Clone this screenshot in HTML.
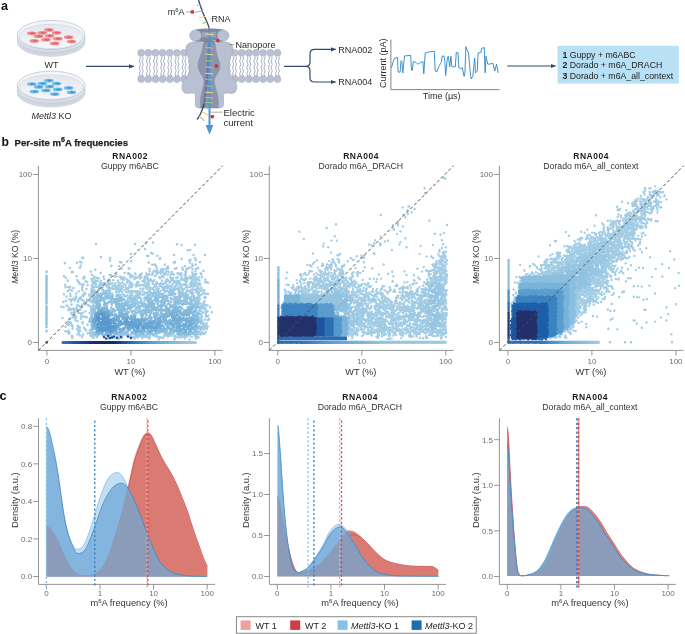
<!DOCTYPE html><html><head><meta charset="utf-8"><style>html,body{margin:0;padding:0;background:#fff;width:685px;height:634px;overflow:hidden}svg{display:block;will-change:transform}text{font-family:'Liberation Sans',sans-serif}</style></head><body>
<svg width="685" height="634" viewBox="0 0 685 634">
<text x="1.00" y="10.10" font-size="12.6" text-anchor="start" font-weight="bold" font-style="normal" fill="#111" >a</text>
<defs>
<radialGradient id="cellR" cx="0.5" cy="0.5" r="0.5"><stop offset="0" stop-color="#d8474e"/><stop offset="0.6" stop-color="#e06468"/><stop offset="1" stop-color="#eb9194"/></radialGradient>
<radialGradient id="cellB" cx="0.5" cy="0.5" r="0.5"><stop offset="0" stop-color="#2f8ed4"/><stop offset="0.6" stop-color="#4aa3e0"/><stop offset="1" stop-color="#86c4ec"/></radialGradient>
<linearGradient id="dishIn" x1="0" y1="0" x2="0" y2="1"><stop offset="0" stop-color="#e3e6ee"/><stop offset="1" stop-color="#f6f7fa"/></linearGradient>
<linearGradient id="dishSide" x1="0" y1="0" x2="0" y2="1"><stop offset="0" stop-color="#e9ebf1"/><stop offset="1" stop-color="#d3d8e3"/></linearGradient>
<marker id="ah" viewBox="0 0 10 10" refX="9" refY="5" markerWidth="5.5" markerHeight="5.5" orient="auto" markerUnits="userSpaceOnUse"><path d="M0,1 L10,5 L0,9 Z" fill="#34496e"/></marker>
</defs>
<g><ellipse cx="51.2" cy="42.0" rx="33.8" ry="14.4" fill="#d6dae4" stroke="#c2c8d6" stroke-width="0.5"/><path d="M17.400000000000006,35.8 L17.400000000000006,39.8 A33.8,14.4 0 0 0 85.0,39.8 L85.0,35.8 Z" fill="url(#dishSide)" stroke="#b9c0d0" stroke-width="0.4"/><path d="M17.400000000000006,38.3 A33.8,14.4 0 0 0 85.0,38.3" fill="none" stroke="#b4bccd" stroke-width="0.5"/><ellipse cx="51.2" cy="34.8" rx="33.8" ry="14.4" fill="#f4f5f8" stroke="#aeb6c9" stroke-width="0.6"/><ellipse cx="51.2" cy="36.4" rx="32.199999999999996" ry="12.2" fill="url(#dishIn)" stroke="#bcc3d3" stroke-width="0.4"/><ellipse cx="31.8" cy="33.3" rx="4.8" ry="1.85" fill="#ee8d90"/><ellipse cx="32.5" cy="33.3" rx="2.4" ry="0.95" fill="#de5a60" opacity="0.8"/><ellipse cx="42.3" cy="32.8" rx="4.8" ry="1.85" fill="#ee8d90"/><ellipse cx="43.0" cy="32.8" rx="2.4" ry="0.95" fill="#de5a60" opacity="0.8"/><ellipse cx="48.9" cy="29.9" rx="4.8" ry="1.85" fill="#ee8d90"/><ellipse cx="49.6" cy="29.9" rx="2.4" ry="0.95" fill="#de5a60" opacity="0.8"/><ellipse cx="56.6" cy="32.8" rx="4.8" ry="1.85" fill="#ee8d90"/><ellipse cx="57.300000000000004" cy="32.8" rx="2.4" ry="0.95" fill="#de5a60" opacity="0.8"/><ellipse cx="38.7" cy="36.2" rx="4.8" ry="1.85" fill="#ee8d90"/><ellipse cx="39.400000000000006" cy="36.2" rx="2.4" ry="0.95" fill="#de5a60" opacity="0.8"/><ellipse cx="49.6" cy="35.8" rx="4.8" ry="1.85" fill="#ee8d90"/><ellipse cx="50.300000000000004" cy="35.8" rx="2.4" ry="0.95" fill="#de5a60" opacity="0.8"/><ellipse cx="34.3" cy="40.9" rx="4.8" ry="1.85" fill="#ee8d90"/><ellipse cx="35.0" cy="40.9" rx="2.4" ry="0.95" fill="#de5a60" opacity="0.8"/><ellipse cx="46" cy="39.7" rx="4.8" ry="1.85" fill="#ee8d90"/><ellipse cx="46.7" cy="39.7" rx="2.4" ry="0.95" fill="#de5a60" opacity="0.8"/><ellipse cx="57.7" cy="38.7" rx="4.8" ry="1.85" fill="#ee8d90"/><ellipse cx="58.400000000000006" cy="38.7" rx="2.4" ry="0.95" fill="#de5a60" opacity="0.8"/><ellipse cx="68.6" cy="37.2" rx="4.8" ry="1.85" fill="#ee8d90"/><ellipse cx="69.3" cy="37.2" rx="2.4" ry="0.95" fill="#de5a60" opacity="0.8"/><ellipse cx="54.7" cy="43.4" rx="4.8" ry="1.85" fill="#ee8d90"/><ellipse cx="55.400000000000006" cy="43.4" rx="2.4" ry="0.95" fill="#de5a60" opacity="0.8"/><ellipse cx="71.5" cy="41.6" rx="4.8" ry="1.85" fill="#ee8d90"/><ellipse cx="72.2" cy="41.6" rx="2.4" ry="0.95" fill="#de5a60" opacity="0.8"/></g>
<g><ellipse cx="51.2" cy="92.7" rx="33.8" ry="14.4" fill="#d6dae4" stroke="#c2c8d6" stroke-width="0.5"/><path d="M17.400000000000006,86.5 L17.400000000000006,90.5 A33.8,14.4 0 0 0 85.0,90.5 L85.0,86.5 Z" fill="url(#dishSide)" stroke="#b9c0d0" stroke-width="0.4"/><path d="M17.400000000000006,89.0 A33.8,14.4 0 0 0 85.0,89.0" fill="none" stroke="#b4bccd" stroke-width="0.5"/><ellipse cx="51.2" cy="85.5" rx="33.8" ry="14.4" fill="#f4f5f8" stroke="#aeb6c9" stroke-width="0.6"/><ellipse cx="51.2" cy="87.1" rx="32.199999999999996" ry="12.2" fill="url(#dishIn)" stroke="#bcc3d3" stroke-width="0.4"/><ellipse cx="31.8" cy="84.0" rx="4.8" ry="1.85" fill="#6ebde9"/><ellipse cx="32.5" cy="84.0" rx="2.4" ry="0.95" fill="#3b8fd2" opacity="0.8"/><ellipse cx="42.3" cy="83.5" rx="4.8" ry="1.85" fill="#6ebde9"/><ellipse cx="43.0" cy="83.5" rx="2.4" ry="0.95" fill="#3b8fd2" opacity="0.8"/><ellipse cx="48.9" cy="80.6" rx="4.8" ry="1.85" fill="#6ebde9"/><ellipse cx="49.6" cy="80.6" rx="2.4" ry="0.95" fill="#3b8fd2" opacity="0.8"/><ellipse cx="56.6" cy="83.5" rx="4.8" ry="1.85" fill="#6ebde9"/><ellipse cx="57.300000000000004" cy="83.5" rx="2.4" ry="0.95" fill="#3b8fd2" opacity="0.8"/><ellipse cx="38.7" cy="86.9" rx="4.8" ry="1.85" fill="#6ebde9"/><ellipse cx="39.400000000000006" cy="86.9" rx="2.4" ry="0.95" fill="#3b8fd2" opacity="0.8"/><ellipse cx="49.6" cy="86.5" rx="4.8" ry="1.85" fill="#6ebde9"/><ellipse cx="50.300000000000004" cy="86.5" rx="2.4" ry="0.95" fill="#3b8fd2" opacity="0.8"/><ellipse cx="34.3" cy="91.6" rx="4.8" ry="1.85" fill="#6ebde9"/><ellipse cx="35.0" cy="91.6" rx="2.4" ry="0.95" fill="#3b8fd2" opacity="0.8"/><ellipse cx="46" cy="90.4" rx="4.8" ry="1.85" fill="#6ebde9"/><ellipse cx="46.7" cy="90.4" rx="2.4" ry="0.95" fill="#3b8fd2" opacity="0.8"/><ellipse cx="57.7" cy="89.4" rx="4.8" ry="1.85" fill="#6ebde9"/><ellipse cx="58.400000000000006" cy="89.4" rx="2.4" ry="0.95" fill="#3b8fd2" opacity="0.8"/><ellipse cx="68.6" cy="87.9" rx="4.8" ry="1.85" fill="#6ebde9"/><ellipse cx="69.3" cy="87.9" rx="2.4" ry="0.95" fill="#3b8fd2" opacity="0.8"/><ellipse cx="54.7" cy="94.1" rx="4.8" ry="1.85" fill="#6ebde9"/><ellipse cx="55.400000000000006" cy="94.1" rx="2.4" ry="0.95" fill="#3b8fd2" opacity="0.8"/><ellipse cx="71.5" cy="92.30000000000001" rx="4.8" ry="1.85" fill="#6ebde9"/><ellipse cx="72.2" cy="92.30000000000001" rx="2.4" ry="0.95" fill="#3b8fd2" opacity="0.8"/></g>
<text x="51.50" y="68.20" font-size="9" text-anchor="middle" font-weight="normal" font-style="normal" fill="#2b2b2b" >WT</text>
<text x="51.5" y="119.3" font-size="9" text-anchor="middle" fill="#2b2b2b"><tspan font-style="italic">Mettl3</tspan> KO</text>
<line x1="86" y1="66.4" x2="134" y2="66.4" stroke="#34496e" stroke-width="1.2" marker-end="url(#ah)"/>
<path d="M139.80,56.40 Q141.05,58.00 139.80,59.60 Q138.55,61.20 139.80,62.80 Q141.05,64.40 139.80,66.00 Q138.55,67.60 139.80,69.20 Q141.05,70.80 139.80,72.40 Q138.55,74.00 139.80,75.60 Q141.05,75.80 139.80,76.00 M142.60,56.40 Q143.85,58.00 142.60,59.60 Q141.35,61.20 142.60,62.80 Q143.85,64.40 142.60,66.00 Q141.35,67.60 142.60,69.20 Q143.85,70.80 142.60,72.40 Q141.35,74.00 142.60,75.60 Q143.85,75.80 142.60,76.00 M146.95,56.40 Q148.20,58.00 146.95,59.60 Q145.70,61.20 146.95,62.80 Q148.20,64.40 146.95,66.00 Q145.70,67.60 146.95,69.20 Q148.20,70.80 146.95,72.40 Q145.70,74.00 146.95,75.60 Q148.20,75.80 146.95,76.00 M149.75,56.40 Q151.00,58.00 149.75,59.60 Q148.50,61.20 149.75,62.80 Q151.00,64.40 149.75,66.00 Q148.50,67.60 149.75,69.20 Q151.00,70.80 149.75,72.40 Q148.50,74.00 149.75,75.60 Q151.00,75.80 149.75,76.00 M154.10,56.40 Q155.35,58.00 154.10,59.60 Q152.85,61.20 154.10,62.80 Q155.35,64.40 154.10,66.00 Q152.85,67.60 154.10,69.20 Q155.35,70.80 154.10,72.40 Q152.85,74.00 154.10,75.60 Q155.35,75.80 154.10,76.00 M156.90,56.40 Q158.15,58.00 156.90,59.60 Q155.65,61.20 156.90,62.80 Q158.15,64.40 156.90,66.00 Q155.65,67.60 156.90,69.20 Q158.15,70.80 156.90,72.40 Q155.65,74.00 156.90,75.60 Q158.15,75.80 156.90,76.00 M161.25,56.40 Q162.50,58.00 161.25,59.60 Q160.00,61.20 161.25,62.80 Q162.50,64.40 161.25,66.00 Q160.00,67.60 161.25,69.20 Q162.50,70.80 161.25,72.40 Q160.00,74.00 161.25,75.60 Q162.50,75.80 161.25,76.00 M164.05,56.40 Q165.30,58.00 164.05,59.60 Q162.80,61.20 164.05,62.80 Q165.30,64.40 164.05,66.00 Q162.80,67.60 164.05,69.20 Q165.30,70.80 164.05,72.40 Q162.80,74.00 164.05,75.60 Q165.30,75.80 164.05,76.00 M168.40,56.40 Q169.65,58.00 168.40,59.60 Q167.15,61.20 168.40,62.80 Q169.65,64.40 168.40,66.00 Q167.15,67.60 168.40,69.20 Q169.65,70.80 168.40,72.40 Q167.15,74.00 168.40,75.60 Q169.65,75.80 168.40,76.00 M171.20,56.40 Q172.45,58.00 171.20,59.60 Q169.95,61.20 171.20,62.80 Q172.45,64.40 171.20,66.00 Q169.95,67.60 171.20,69.20 Q172.45,70.80 171.20,72.40 Q169.95,74.00 171.20,75.60 Q172.45,75.80 171.20,76.00 M175.55,56.40 Q176.80,58.00 175.55,59.60 Q174.30,61.20 175.55,62.80 Q176.80,64.40 175.55,66.00 Q174.30,67.60 175.55,69.20 Q176.80,70.80 175.55,72.40 Q174.30,74.00 175.55,75.60 Q176.80,75.80 175.55,76.00 M178.35,56.40 Q179.60,58.00 178.35,59.60 Q177.10,61.20 178.35,62.80 Q179.60,64.40 178.35,66.00 Q177.10,67.60 178.35,69.20 Q179.60,70.80 178.35,72.40 Q177.10,74.00 178.35,75.60 Q179.60,75.80 178.35,76.00 M182.70,56.40 Q183.95,58.00 182.70,59.60 Q181.45,61.20 182.70,62.80 Q183.95,64.40 182.70,66.00 Q181.45,67.60 182.70,69.20 Q183.95,70.80 182.70,72.40 Q181.45,74.00 182.70,75.60 Q183.95,75.80 182.70,76.00 M185.50,56.40 Q186.75,58.00 185.50,59.60 Q184.25,61.20 185.50,62.80 Q186.75,64.40 185.50,66.00 Q184.25,67.60 185.50,69.20 Q186.75,70.80 185.50,72.40 Q184.25,74.00 185.50,75.60 Q186.75,75.80 185.50,76.00 M276.00,56.40 Q277.25,58.00 276.00,59.60 Q274.75,61.20 276.00,62.80 Q277.25,64.40 276.00,66.00 Q274.75,67.60 276.00,69.20 Q277.25,70.80 276.00,72.40 Q274.75,74.00 276.00,75.60 Q277.25,75.80 276.00,76.00 M278.80,56.40 Q280.05,58.00 278.80,59.60 Q277.55,61.20 278.80,62.80 Q280.05,64.40 278.80,66.00 Q277.55,67.60 278.80,69.20 Q280.05,70.80 278.80,72.40 Q277.55,74.00 278.80,75.60 Q280.05,75.80 278.80,76.00 M268.85,56.40 Q270.10,58.00 268.85,59.60 Q267.60,61.20 268.85,62.80 Q270.10,64.40 268.85,66.00 Q267.60,67.60 268.85,69.20 Q270.10,70.80 268.85,72.40 Q267.60,74.00 268.85,75.60 Q270.10,75.80 268.85,76.00 M271.65,56.40 Q272.90,58.00 271.65,59.60 Q270.40,61.20 271.65,62.80 Q272.90,64.40 271.65,66.00 Q270.40,67.60 271.65,69.20 Q272.90,70.80 271.65,72.40 Q270.40,74.00 271.65,75.60 Q272.90,75.80 271.65,76.00 M261.70,56.40 Q262.95,58.00 261.70,59.60 Q260.45,61.20 261.70,62.80 Q262.95,64.40 261.70,66.00 Q260.45,67.60 261.70,69.20 Q262.95,70.80 261.70,72.40 Q260.45,74.00 261.70,75.60 Q262.95,75.80 261.70,76.00 M264.50,56.40 Q265.75,58.00 264.50,59.60 Q263.25,61.20 264.50,62.80 Q265.75,64.40 264.50,66.00 Q263.25,67.60 264.50,69.20 Q265.75,70.80 264.50,72.40 Q263.25,74.00 264.50,75.60 Q265.75,75.80 264.50,76.00 M254.55,56.40 Q255.80,58.00 254.55,59.60 Q253.30,61.20 254.55,62.80 Q255.80,64.40 254.55,66.00 Q253.30,67.60 254.55,69.20 Q255.80,70.80 254.55,72.40 Q253.30,74.00 254.55,75.60 Q255.80,75.80 254.55,76.00 M257.35,56.40 Q258.60,58.00 257.35,59.60 Q256.10,61.20 257.35,62.80 Q258.60,64.40 257.35,66.00 Q256.10,67.60 257.35,69.20 Q258.60,70.80 257.35,72.40 Q256.10,74.00 257.35,75.60 Q258.60,75.80 257.35,76.00 M247.40,56.40 Q248.65,58.00 247.40,59.60 Q246.15,61.20 247.40,62.80 Q248.65,64.40 247.40,66.00 Q246.15,67.60 247.40,69.20 Q248.65,70.80 247.40,72.40 Q246.15,74.00 247.40,75.60 Q248.65,75.80 247.40,76.00 M250.20,56.40 Q251.45,58.00 250.20,59.60 Q248.95,61.20 250.20,62.80 Q251.45,64.40 250.20,66.00 Q248.95,67.60 250.20,69.20 Q251.45,70.80 250.20,72.40 Q248.95,74.00 250.20,75.60 Q251.45,75.80 250.20,76.00 M240.25,56.40 Q241.50,58.00 240.25,59.60 Q239.00,61.20 240.25,62.80 Q241.50,64.40 240.25,66.00 Q239.00,67.60 240.25,69.20 Q241.50,70.80 240.25,72.40 Q239.00,74.00 240.25,75.60 Q241.50,75.80 240.25,76.00 M243.05,56.40 Q244.30,58.00 243.05,59.60 Q241.80,61.20 243.05,62.80 Q244.30,64.40 243.05,66.00 Q241.80,67.60 243.05,69.20 Q244.30,70.80 243.05,72.40 Q241.80,74.00 243.05,75.60 Q244.30,75.80 243.05,76.00 M233.10,56.40 Q234.35,58.00 233.10,59.60 Q231.85,61.20 233.10,62.80 Q234.35,64.40 233.10,66.00 Q231.85,67.60 233.10,69.20 Q234.35,70.80 233.10,72.40 Q231.85,74.00 233.10,75.60 Q234.35,75.80 233.10,76.00 M235.90,56.40 Q237.15,58.00 235.90,59.60 Q234.65,61.20 235.90,62.80 Q237.15,64.40 235.90,66.00 Q234.65,67.60 235.90,69.20 Q237.15,70.80 235.90,72.40 Q234.65,74.00 235.90,75.60 Q237.15,75.80 235.90,76.00 M189.10,56.40 Q190.35,58.00 189.10,59.60 Q187.85,61.20 189.10,62.80 Q190.35,64.40 189.10,66.00 Q187.85,67.60 189.10,69.20 Q190.35,70.80 189.10,72.40 Q187.85,74.00 189.10,75.60 Q190.35,75.80 189.10,76.00 M191.90,56.40 Q193.15,58.00 191.90,59.60 Q190.65,61.20 191.90,62.80 Q193.15,64.40 191.90,66.00 Q190.65,67.60 191.90,69.20 Q193.15,70.80 191.90,72.40 Q190.65,74.00 191.90,75.60 Q193.15,75.80 191.90,76.00 M226.90,56.40 Q228.15,58.00 226.90,59.60 Q225.65,61.20 226.90,62.80 Q228.15,64.40 226.90,66.00 Q225.65,67.60 226.90,69.20 Q228.15,70.80 226.90,72.40 Q225.65,74.00 226.90,75.60 Q228.15,75.80 226.90,76.00 M229.70,56.40 Q230.95,58.00 229.70,59.60 Q228.45,61.20 229.70,62.80 Q230.95,64.40 229.70,66.00 Q228.45,67.60 229.70,69.20 Q230.95,70.80 229.70,72.40 Q228.45,74.00 229.70,75.60 Q230.95,75.80 229.70,76.00 " fill="none" stroke="#7f8aa8" stroke-width="0.7"/>
<g fill="#b9c0d1" stroke="#9aa3ba" stroke-width="0.35"><circle cx="141.20" cy="52.8" r="3.55"/><circle cx="141.20" cy="79.1" r="3.55"/><circle cx="148.35" cy="52.8" r="3.55"/><circle cx="148.35" cy="79.1" r="3.55"/><circle cx="155.50" cy="52.8" r="3.55"/><circle cx="155.50" cy="79.1" r="3.55"/><circle cx="162.65" cy="52.8" r="3.55"/><circle cx="162.65" cy="79.1" r="3.55"/><circle cx="169.80" cy="52.8" r="3.55"/><circle cx="169.80" cy="79.1" r="3.55"/><circle cx="176.95" cy="52.8" r="3.55"/><circle cx="176.95" cy="79.1" r="3.55"/><circle cx="184.10" cy="52.8" r="3.55"/><circle cx="184.10" cy="79.1" r="3.55"/><circle cx="277.40" cy="52.8" r="3.55"/><circle cx="277.40" cy="79.1" r="3.55"/><circle cx="270.25" cy="52.8" r="3.55"/><circle cx="270.25" cy="79.1" r="3.55"/><circle cx="263.10" cy="52.8" r="3.55"/><circle cx="263.10" cy="79.1" r="3.55"/><circle cx="255.95" cy="52.8" r="3.55"/><circle cx="255.95" cy="79.1" r="3.55"/><circle cx="248.80" cy="52.8" r="3.55"/><circle cx="248.80" cy="79.1" r="3.55"/><circle cx="241.65" cy="52.8" r="3.55"/><circle cx="241.65" cy="79.1" r="3.55"/><circle cx="234.50" cy="52.8" r="3.55"/><circle cx="234.50" cy="79.1" r="3.55"/></g>
<path d="M204.2,44.3 C202,42.3 199,41.9 195,41.9 C190.5,41.9 186.4,43.5 186.1,47.5 C185.9,51 186.6,54.5 188.3,57.5 C189.3,59.5 189.6,61.5 189.6,64 L189.6,70 C189.6,73.5 187,76.5 184.8,79.5 C182.8,82 181.8,85 182,88 C182.2,91.5 184,93.4 187,93.4 L192.5,93 C194.5,92.9 195.3,93.5 195.3,95.5 L195.3,104.5 C195.3,107 197,108 199.5,108 L219.3,108 C221.8,108 223.5,107 223.5,104.5 L223.5,95.5 C223.5,93.5 224.3,92.9 226.3,93 L231.8,93.4 C234.8,93.4 236.6,91.5 236.8,88 C237,85 236,82 234,79.5 C231.8,76.5 229.2,73.5 229.2,70 L229.2,64 C229.2,61.5 229.5,59.5 230.5,57.5 C232.2,54.5 232.9,51 232.7,47.5 C232.4,43.5 228.3,41.9 223.8,41.9 C219.8,41.9 216.8,42.3 214.6,44.3 Z" fill="#b9c0d1" stroke="#939db5" stroke-width="0.5"/>
<path d="M203.5,42 L215,42 C215.5,50 217,56 219.4,62 C221,67 219,72 216,76 C214.5,78.5 214,81 214.5,84 C216,90 218.3,95 218.3,100 L218.3,107.9 L200.3,107.9 L200.4,100 C200.6,95 202.5,90 203.8,84 C204.3,81 203.8,78.5 202.2,76 C199.2,72 197.2,67 198.2,62 C200.2,56 203,50 203.5,42 Z" fill="#8b95ae" stroke="#7f89a4" stroke-width="0.4"/>
<path d="M208.2,42 C207.6,60 205.5,85 202.6,107.9 L205.2,107.9 C207.8,85 210,60 210.6,42 Z" fill="#6d7896"/>
<path d="M195.6,29.8 C202,28.4 216.6,28.4 223,29.8 L223,41.3 C216,42.3 202,42.3 195.6,41.3 Z" fill="#7e89a5" stroke="#75809d" stroke-width="0.4"/>
<rect x="201.8" y="31.9" width="13.9" height="5.4" fill="#9aa4bb"/>
<ellipse cx="195.6" cy="35.5" rx="5.9" ry="5.6" fill="#b9c0d1" stroke="#8f99b2" stroke-width="0.5"/>
<ellipse cx="223" cy="35.5" rx="5.9" ry="5.6" fill="#b9c0d1" stroke="#8f99b2" stroke-width="0.5"/>
<path d="M198.5,0 C201,8 204,16 207,22 C208.5,25 209.2,28 209.3,31" fill="none" stroke="#3b4868" stroke-width="1.3"/>
<line x1="200.2" y1="5" x2="197.2" y2="5.3" stroke="#f29b9a" stroke-width="1.1" stroke-linecap="round"/>
<line x1="202.4" y1="11" x2="195" y2="12.3" stroke="#7cc3ea" stroke-width="1.1" stroke-linecap="round"/>
<line x1="204.6" y1="16.5" x2="199.5" y2="17.8" stroke="#f5cf6e" stroke-width="1.1" stroke-linecap="round"/>
<line x1="206.3" y1="22.2" x2="203" y2="23.3" stroke="#8ccf66" stroke-width="1.1" stroke-linecap="round"/>
<line x1="208.5" y1="28.5" x2="206.5" y2="29.2" stroke="#f29b9a" stroke-width="1.1" stroke-linecap="round"/>
<line x1="209.5" y1="29" x2="209.5" y2="127" stroke="#4b97d5" stroke-width="2"/>
<path d="M205.6,125 L213.4,125 L209.5,134.8 Z" fill="#4b97d5"/>
<line x1="205.6" y1="33.9" x2="212.6" y2="34.6" stroke="#f5cf6e" stroke-width="1.1" stroke-linecap="round"/>
<line x1="205.6" y1="47.4" x2="212.6" y2="48.1" stroke="#f29b9a" stroke-width="1.1" stroke-linecap="round"/>
<line x1="205.6" y1="54" x2="212.6" y2="54.7" stroke="#f5cf6e" stroke-width="1.1" stroke-linecap="round"/>
<line x1="205.6" y1="60.6" x2="212.6" y2="61.300000000000004" stroke="#8ccf66" stroke-width="1.1" stroke-linecap="round"/>
<line x1="205.6" y1="66.9" x2="212.6" y2="67.60000000000001" stroke="#f29b9a" stroke-width="1.1" stroke-linecap="round"/>
<line x1="205.6" y1="73.2" x2="212.6" y2="73.9" stroke="#f5cf6e" stroke-width="1.1" stroke-linecap="round"/>
<line x1="205.6" y1="79.2" x2="212.6" y2="79.9" stroke="#8ccf66" stroke-width="1.1" stroke-linecap="round"/>
<line x1="205.6" y1="85.8" x2="212.6" y2="86.5" stroke="#7cc3ea" stroke-width="1.1" stroke-linecap="round"/>
<line x1="205.6" y1="92.1" x2="212.6" y2="92.8" stroke="#f5cf6e" stroke-width="1.1" stroke-linecap="round"/>
<line x1="205.6" y1="97.4" x2="212.6" y2="98.10000000000001" stroke="#f29b9a" stroke-width="1.1" stroke-linecap="round"/>
<line x1="205.6" y1="102.2" x2="212.6" y2="102.9" stroke="#8ccf66" stroke-width="1.1" stroke-linecap="round"/>
<path d="M203.8,104 C203,109 201,113 199.5,116 L197,119.5" fill="none" stroke="#3b4868" stroke-width="1.3"/>
<line x1="202.7" y1="112.2" x2="207.9" y2="115" stroke="#f5cf6e" stroke-width="1.1" stroke-linecap="round"/>
<line x1="199.4" y1="116.6" x2="203.8" y2="120.4" stroke="#8ccf66" stroke-width="1.1" stroke-linecap="round"/>
<line x1="205.3" y1="107.5" x2="210.2" y2="109.2" stroke="#7cc3ea" stroke-width="1.1" stroke-linecap="round"/>
<line x1="186" y1="11.9" x2="191" y2="11.9" stroke="#555" stroke-width="0.5"/>
<circle cx="192.3" cy="11.9" r="1.9" fill="#d6333a"/>
<circle cx="217.8" cy="40.7" r="1.9" fill="#d6333a"/>
<line x1="213" y1="40.5" x2="216" y2="40.6" stroke="#7cc3ea" stroke-width="1.1"/>
<circle cx="216.4" cy="66" r="1.9" fill="#d6333a"/>
<circle cx="212.3" cy="116.6" r="1.9" fill="#d6333a"/>
<line x1="209.5" y1="18.8" x2="212" y2="18.8" stroke="#999" stroke-width="0.5"/>
<line x1="229.3" y1="44.6" x2="234.5" y2="44.6" stroke="#555" stroke-width="0.5"/>
<line x1="211" y1="112.2" x2="222.6" y2="112.2" stroke="#555" stroke-width="0.5"/>
<text x="184.5" y="15.3" font-size="9" text-anchor="end" fill="#2b2b2b">m<tspan font-size="6" dy="-3.2">6</tspan><tspan dy="3.2">A</tspan></text>
<text x="211.60" y="22.00" font-size="9" text-anchor="start" font-weight="normal" font-style="normal" fill="#2b2b2b" >RNA</text>
<text x="235.50" y="48.30" font-size="9.1" text-anchor="start" font-weight="normal" font-style="normal" fill="#2b2b2b" >Nanopore</text>
<text x="223.40" y="116.10" font-size="9.6" text-anchor="start" font-weight="normal" font-style="normal" fill="#2b2b2b" >Electric</text>
<text x="223.40" y="126.00" font-size="9.5" text-anchor="start" font-weight="normal" font-style="normal" fill="#2b2b2b" >current</text>
<path d="M284,66.3 L306,66.3 C309,66.3 310,65 310,62 L310,54 C310,51 311.5,49.3 314.5,49.3 L335.7,49.3" fill="none" stroke="#34496e" stroke-width="1.2" marker-end="url(#ah)"/>
<path d="M306,66.3 C309,66.3 310,67.6 310,70.6 L310,78 C310,81 311.5,82 314.5,82 L335.7,82" fill="none" stroke="#34496e" stroke-width="1.2" marker-end="url(#ah)"/>
<text x="338.20" y="52.60" font-size="9" text-anchor="start" font-weight="normal" font-style="normal" fill="#2b2b2b" >RNA002</text>
<text x="338.20" y="85.30" font-size="9" text-anchor="start" font-weight="normal" font-style="normal" fill="#2b2b2b" >RNA004</text>
<path d="M390.9,39.6 L390.9,89.6 L499.5,89.6" fill="none" stroke="#666" stroke-width="0.8"/>
<text x="0" y="0" font-size="9" text-anchor="middle" fill="#2b2b2b" transform="translate(386.4,63.3) rotate(-90)">Current (pA)</text>
<text x="441.70" y="99.00" font-size="9" text-anchor="middle" font-weight="normal" font-style="normal" fill="#2b2b2b" >Time (µs)</text>
<path d="M391.39,67.67 L392.26,65.04 L393.14,61.53 L394.89,58.03 L396.64,57.68 L397.52,57.15 L398.04,72.05 L400.15,72.05 L401.02,60.66 L401.90,61.53 L402.78,72.92 L404.53,55.93 L410.66,55.40 L411.53,70.29 L412.41,70.29 L413.29,61.53 L415.91,62.41 L417.67,64.16 L419.42,63.29 L421.17,62.41 L422.92,61.53 L423.80,73.80 L425.20,52.78 L429.05,51.90 L434.31,51.37 L435.19,71.17 L436.94,71.70 L438.69,66.79 L439.57,65.04 L441.32,62.41 L442.19,56.28 L443.95,55.93 L444.82,61.53 L445.70,75.55 L447.45,57.15 L448.33,56.28 L449.73,66.79 L450.95,56.28 L451.83,66.79 L455.33,66.79 L456.21,52.78 L457.96,52.42 L458.84,67.67 L460.59,68.54 L462.34,67.67 L464.09,76.43 L464.97,72.05 L465.84,46.64 L467.60,51.02 L468.47,52.78 L470.22,72.05 L471.10,79.05 L472.85,76.43 L474.60,58.03 L475.48,72.92 L477.23,71.17 L478.11,52.78 L480.74,52.78 L481.61,48.40 L484.24,47.52 L485.12,72.92 L485.99,56.28 L487.74,64.16 L489.50,64.16 L493.00,63.29 L494.75,71.17 L496.50,64.16 L498.26,72.92" fill="none" stroke="#2a86c6" stroke-width="0.9" stroke-linejoin="round"/>
<line x1="507.3" y1="66" x2="555.6" y2="66" stroke="#34496e" stroke-width="1.2" marker-end="url(#ah)"/>
<rect x="557.5" y="45.8" width="121.3" height="37.8" fill="#b9e1f5"/>
<text x="562.4" y="57.60" font-size="8.75" fill="#222"><tspan font-weight="bold">1</tspan> Guppy + m6ABC</text>
<text x="562.4" y="68.40" font-size="8.75" fill="#222"><tspan font-weight="bold">2</tspan> Dorado + m6A_DRACH</text>
<text x="562.4" y="79.20" font-size="8.75" fill="#222"><tspan font-weight="bold">3</tspan> Dorado + m6A_all_context</text>
<text x="1.60" y="146.20" font-size="12.2" text-anchor="start" font-weight="bold" font-style="normal" fill="#111" >b</text>
<text x="14.6" y="145.8" font-size="9.6" font-weight="bold" fill="#222" stroke="#222" stroke-width="0.25">Per-site m<tspan font-size="7" dy="-3.4">6</tspan><tspan dy="3.4">A frequencies</tspan></text>
<path d="M38.4,165.7 L38.4,350.4 L222.70000000000002,350.4" fill="none" stroke="#8a8a8a" stroke-width="0.9"/>
<line x1="33.1" y1="342.50" x2="38.4" y2="342.50" stroke="#8a8a8a" stroke-width="0.9"/>
<text x="32.00" y="345.40" font-size="8" text-anchor="end" font-weight="normal" font-style="normal" fill="#6e6e6e" >0</text>
<line x1="46.90" y1="350.4" x2="46.90" y2="355.6" stroke="#8a8a8a" stroke-width="0.9"/>
<text x="46.90" y="364.00" font-size="8" text-anchor="middle" font-weight="normal" font-style="normal" fill="#6e6e6e" >0</text>
<line x1="33.1" y1="258.50" x2="38.4" y2="258.50" stroke="#8a8a8a" stroke-width="0.9"/>
<text x="32.00" y="261.40" font-size="8" text-anchor="end" font-weight="normal" font-style="normal" fill="#6e6e6e" >10</text>
<line x1="130.90" y1="350.4" x2="130.90" y2="355.6" stroke="#8a8a8a" stroke-width="0.9"/>
<text x="130.90" y="364.00" font-size="8" text-anchor="middle" font-weight="normal" font-style="normal" fill="#6e6e6e" >10</text>
<line x1="33.1" y1="174.50" x2="38.4" y2="174.50" stroke="#8a8a8a" stroke-width="0.9"/>
<text x="32.00" y="177.40" font-size="8" text-anchor="end" font-weight="normal" font-style="normal" fill="#6e6e6e" >100</text>
<line x1="214.90" y1="350.4" x2="214.90" y2="355.6" stroke="#8a8a8a" stroke-width="0.9"/>
<text x="214.90" y="364.00" font-size="8" text-anchor="middle" font-weight="normal" font-style="normal" fill="#6e6e6e" >100</text>
<text x="130.20" y="158.70" font-size="8.5" text-anchor="middle" font-weight="bold" font-style="normal" fill="#1a1a1a" letter-spacing="0.55">RNA002</text>
<text x="129.90" y="168.80" font-size="8.7" text-anchor="middle" font-weight="normal" font-style="normal" fill="#333" >Guppy m6ABC</text>
<text x="0" y="0" font-size="8.6" text-anchor="middle" fill="#333" transform="translate(17.7,256.8) rotate(-90)"><tspan font-style="italic">Mettl3</tspan> KO (%)</text>
<text x="129.90" y="375.20" font-size="9.2" text-anchor="middle" font-weight="normal" font-style="normal" fill="#333" >WT (%)</text>
<path d="M80.2 313.2h0M131.9 286.9h0M152.4 288.8h0M195.8 290.5h0M167.5 280.9h0M193.4 279.5h0M130.2 295.4h0M83.2 278.4h0M72.5 337.2h0M184.7 284.9h0M86.8 317.2h0M80.1 309.6h0M129.8 274.0h0M93.3 287.1h0M157.0 336.4h0M75.8 296.6h0M190.3 283.5h0M122.2 288.7h0M191.5 278.2h0M160.1 285.5h0M129.0 281.3h0M91.4 336.5h0M203.3 305.3h0M106.1 285.4h0M196.7 289.1h0M187.8 250.3h0M156.4 273.0h0M89.7 313.1h0M204.5 326.3h0M206.9 326.6h0M121.9 291.4h0M102.7 284.5h0M103.0 284.9h0M69.2 325.0h0M179.5 337.8h0M206.1 326.1h0M118.1 290.4h0M84.3 276.9h0M77.4 280.3h0M117.1 286.2h0M68.5 309.9h0M205.4 310.6h0M177.2 281.1h0M137.4 282.2h0M186.5 269.1h0M152.7 253.6h0M128.2 273.1h0M204.1 302.4h0M143.7 285.2h0M91.2 300.3h0M156.6 271.7h0M171.9 272.1h0M65.9 277.8h0M118.9 266.2h0M147.3 286.4h0M132.1 283.8h0M202.0 321.5h0M117.7 287.0h0M195.1 280.1h0M92.0 274.9h0M204.6 298.0h0M194.7 278.5h0M72.7 308.7h0M204.6 301.3h0M201.7 277.2h0M156.8 273.3h0M166.6 268.1h0M91.3 297.4h0M147.1 278.5h0M130.7 277.6h0M205.1 305.0h0M109.0 285.3h0M128.7 268.8h0M173.9 280.9h0M84.1 327.7h0M123.3 287.1h0M94.7 335.2h0M183.5 279.7h0M196.1 291.9h0M139.9 293.3h0M71.2 301.2h0M111.4 265.9h0M204.0 292.6h0M77.7 326.8h0M154.4 280.3h0M195.4 282.6h0M117.5 288.4h0M91.2 291.8h0M179.4 280.8h0M186.1 271.5h0M204.0 290.1h0M91.4 334.6h0M185.4 275.6h0M82.2 336.9h0M108.0 282.9h0M147.2 255.7h0M168.6 271.9h0M205.3 293.8h0M141.8 273.5h0M82.4 290.2h0M194.9 283.5h0M197.7 293.8h0M67.9 280.6h0M78.1 325.7h0M122.1 279.4h0M74.4 312.8h0M91.8 289.9h0M69.1 333.7h0M109.6 275.0h0M199.0 280.3h0M93.5 291.1h0M83.3 295.8h0M204.1 329.3h0M205.0 296.8h0M84.9 328.8h0M203.4 290.2h0M130.8 294.6h0M139.5 285.2h0M159.8 284.1h0M172.5 280.1h0M178.6 273.5h0M92.6 302.5h0M207.0 329.0h0M122.5 282.5h0M156.8 282.5h0M139.2 292.4h0M95.3 269.7h0M209.1 319.1h0M114.4 276.2h0M162.8 272.0h0M71.5 312.8h0M76.2 309.4h0M71.1 322.7h0M95.0 335.3h0M68.6 323.4h0M176.2 282.7h0M70.6 296.0h0M169.6 282.5h0M172.5 273.9h0M137.4 285.7h0M199.0 288.7h0M195.2 280.7h0M95.0 290.8h0M156.7 282.3h0M179.1 281.3h0M190.9 277.9h0M84.6 278.0h0M141.0 285.0h0M181.7 279.5h0M149.6 269.1h0M139.9 274.9h0M201.3 305.9h0M204.3 326.0h0M82.3 304.8h0M124.6 273.0h0M201.2 290.9h0M171.0 278.9h0M192.8 265.7h0M89.2 321.5h0M95.1 283.3h0M119.0 292.2h0M167.4 279.3h0M80.9 318.8h0M131.8 275.6h0M149.9 338.1h0M201.1 307.6h0M177.0 244.2h0M196.8 336.1h0M202.9 306.7h0M89.9 332.9h0M195.5 335.4h0M206.7 323.5h0M167.9 266.6h0M147.3 336.7h0M195.7 260.3h0M192.7 279.2h0M193.2 274.6h0M74.8 300.6h0M125.4 284.8h0M136.6 293.9h0M79.4 328.4h0M85.4 311.5h0M155.9 266.1h0M82.2 287.0h0M154.0 335.5h0M115.4 286.6h0M87.0 299.8h0M132.8 284.7h0M201.1 311.2h0M92.9 296.3h0M199.8 285.3h0M138.5 295.4h0M156.7 268.0h0M99.1 285.2h0M79.6 327.3h0M89.8 330.2h0M189.5 339.5h0M170.2 277.3h0M153.6 280.7h0M168.1 268.5h0M189.7 286.9h0M144.4 279.3h0M176.8 281.4h0M79.1 299.0h0M199.5 283.2h0M183.9 284.6h0M69.5 332.8h0M202.3 332.5h0M116.3 289.1h0M83.6 300.7h0M91.0 294.0h0M182.5 267.9h0M121.3 335.0h0M138.2 292.3h0M150.2 335.9h0M192.3 276.7h0M202.4 305.3h0M201.3 274.4h0M205.1 305.3h0M157.0 271.8h0M132.4 294.8h0M115.3 283.2h0M199.6 295.6h0M165.5 273.1h0M135.5 274.2h0M131.6 290.7h0M91.1 332.7h0M204.3 308.3h0M198.7 331.9h0M178.4 283.8h0M165.7 334.6h0M181.1 275.1h0M101.7 285.2h0M97.0 281.1h0M184.3 288.7h0M91.5 279.1h0M91.7 307.1h0M74.8 312.2h0M191.6 281.8h0M134.7 338.4h0M86.5 302.1h0M180.5 285.4h0M196.1 277.9h0M117.3 337.8h0M66.0 300.9h0M143.0 289.3h0M79.3 283.7h0M121.8 286.1h0M181.8 277.4h0M94.0 282.0h0M70.1 287.0h0M113.9 285.6h0M118.8 339.1h0M119.6 276.6h0M79.8 306.1h0M181.4 284.5h0M104.5 283.1h0M68.4 332.9h0M174.3 281.9h0M63.6 307.1h0M71.8 272.1h0M70.3 289.8h0M81.5 299.7h0M196.0 274.0h0M175.4 337.9h0M185.7 272.9h0M200.7 295.3h0M94.3 276.8h0M107.7 285.0h0M75.5 318.6h0M170.7 274.6h0M198.8 277.3h0M133.6 291.5h0M127.1 282.4h0M83.1 316.6h0M136.6 295.1h0M207.3 305.3h0M179.9 284.4h0M121.6 338.2h0M120.3 283.6h0M176.4 285.0h0M198.6 300.6h0M70.2 309.2h0M149.0 338.3h0M201.4 287.9h0M126.1 292.3h0M207.6 294.0h0M97.8 280.7h0M187.1 278.0h0M144.2 285.4h0M145.0 249.1h0M148.7 286.3h0M90.0 297.0h0M169.9 335.6h0M172.1 278.5h0M146.0 286.9h0M198.9 297.6h0M144.3 278.7h0M157.5 273.8h0M62.5 318.0h0M102.4 284.0h0M122.6 336.1h0M172.9 278.0h0M77.0 262.7h0M133.6 336.9h0M137.6 277.7h0M135.2 273.5h0M149.5 274.2h0M76.1 316.6h0M79.2 282.6h0M177.6 273.4h0M162.0 286.7h0M200.4 333.1h0M72.6 328.4h0M82.6 285.5h0M63.9 276.2h0M92.4 281.7h0M87.7 285.3h0M188.6 268.3h0M72.2 314.0h0M139.1 295.0h0M159.2 277.2h0M163.3 277.2h0M75.3 320.3h0M157.3 255.7h0M194.2 282.7h0M103.5 276.6h0M128.3 289.0h0M159.8 259.1h0M126.2 289.3h0M147.5 282.4h0M156.3 289.2h0M152.9 283.2h0M202.9 333.9h0M67.9 290.9h0M196.0 268.9h0M168.7 281.3h0M68.3 332.7h0M207.9 282.7h0M194.2 286.1h0M195.2 258.4h0M187.2 279.5h0M185.4 271.5h0M155.6 284.6h0M196.1 338.4h0M61.1 306.8h0M156.4 336.8h0M83.0 257.9h0M164.2 335.1h0M118.8 290.9h0M96.5 286.8h0M190.4 259.9h0M155.1 275.9h0M128.7 280.8h0M174.8 286.0h0M149.6 271.5h0M146.4 273.5h0M192.2 264.3h0M207.9 294.0h0M197.3 291.1h0M205.9 315.0h0M79.6 306.3h0M63.9 294.2h0M118.2 286.6h0M142.2 338.1h0M100.9 257.1h0M130.6 295.0h0M175.0 336.6h0M87.2 282.1h0M80.0 298.0h0M162.3 269.4h0M108.2 280.5h0M161.8 276.3h0M67.8 332.1h0M128.0 288.5h0M164.8 264.6h0M73.0 317.5h0M127.2 336.0h0M89.2 294.9h0M198.4 298.8h0M82.5 322.0h0M206.4 316.8h0M187.4 287.5h0M93.3 337.8h0M196.0 281.6h0M152.8 283.7h0M116.1 274.1h0M130.9 254.0h0M127.1 279.6h0M198.8 331.7h0M74.2 315.3h0M82.7 294.9h0M144.7 276.6h0M140.2 278.6h0M108.9 281.2h0M192.1 292.5h0M95.9 283.8h0M208.2 315.8h0M64.9 263.1h0M94.0 290.2h0M93.1 307.2h0M90.6 333.3h0M90.5 332.4h0M191.3 286.1h0M192.5 288.2h0M205.2 279.6h0M195.3 279.2h0M108.3 338.9h0M180.6 275.3h0M177.7 277.4h0M185.7 283.6h0M109.3 288.1h0M205.7 313.0h0M198.8 296.5h0M161.6 269.0h0M78.1 281.5h0M73.9 310.9h0M198.4 333.7h0M68.5 310.2h0M164.4 283.6h0M137.1 282.7h0M157.0 289.0h0M87.7 333.2h0M190.1 276.5h0M195.5 275.1h0M159.5 286.3h0M147.9 280.1h0M200.7 273.4h0M164.0 269.2h0M142.5 291.5h0M141.0 277.2h0M75.4 317.8h0M129.8 282.1h0M204.9 327.4h0M115.8 289.0h0M112.6 286.5h0M205.7 332.0h0M176.8 283.4h0M71.9 325.1h0M155.9 286.1h0M94.7 334.8h0M95.8 281.4h0M94.0 292.3h0M136.0 286.4h0M201.2 316.1h0M193.5 255.1h0M69.3 299.3h0M134.3 291.3h0M82.0 289.4h0M155.4 335.7h0M193.4 285.9h0M102.0 288.3h0M194.0 274.2h0M82.7 312.8h0M146.9 274.6h0M100.6 283.0h0M119.0 284.5h0M128.3 274.1h0M93.8 337.5h0M73.4 288.0h0M195.3 336.4h0M139.9 291.8h0M198.8 291.9h0M181.1 278.7h0M199.9 298.8h0M174.0 262.3h0M91.9 301.9h0M174.1 255.0h0M107.5 287.1h0M118.2 289.0h0M205.9 327.4h0M77.5 334.3h0M167.8 336.5h0M178.6 281.3h0M162.9 337.9h0M195.2 289.9h0M129.9 284.3h0M171.1 285.7h0M126.0 287.5h0M184.2 280.4h0M151.7 281.3h0M89.8 301.3h0M205.7 297.6h0M198.4 337.2h0M118.4 288.6h0M130.3 335.9h0M191.7 336.8h0M195.8 264.6h0M206.8 311.0h0M190.5 277.1h0M181.5 245.0h0M79.8 267.7h0M115.8 285.8h0M201.1 333.4h0M153.1 335.3h0M196.4 289.2h0M92.0 288.7h0M197.7 287.0h0M157.3 270.3h0M109.7 284.5h0M201.2 314.0h0M158.7 339.4h0M142.7 281.1h0M176.2 278.1h0M91.7 293.0h0M82.3 305.2h0M94.9 280.6h0M141.9 285.0h0M94.3 287.2h0M75.4 317.3h0M146.1 276.7h0M80.7 265.5h0M181.2 273.2h0M205.3 308.4h0M109.1 288.4h0M197.0 285.1h0M67.6 306.0h0M195.1 244.7h0M84.5 292.7h0M70.1 293.7h0M179.2 284.1h0M103.3 283.4h0M148.8 283.8h0M151.0 252.9h0M195.4 258.3h0M207.7 326.6h0M160.8 283.4h0M159.2 337.0h0M85.2 294.1h0M153.8 287.4h0M166.1 282.6h0M169.9 286.1h0M135.7 285.2h0M189.4 260.2h0M195.7 281.8h0M203.0 312.6h0M164.4 336.1h0M74.1 309.1h0M184.9 338.2h0M74.1 314.7h0M171.0 335.5h0M65.4 331.2h0M156.2 283.0h0M72.1 337.8h0M203.1 326.0h0M205.3 282.3h0M154.7 264.6h0M121.2 278.4h0M186.0 281.6h0M192.7 289.9h0M77.2 309.6h0M90.4 335.4h0M68.6 321.7h0M176.4 281.6h0M132.2 275.7h0M190.5 267.3h0M89.8 319.1h0M195.4 281.1h0M152.9 272.2h0M190.0 283.9h0M202.8 308.8h0M173.8 336.0h0M135.7 291.3h0M148.8 262.5h0M133.6 337.1h0M179.0 283.8h0M127.4 295.4h0M204.6 333.8h0M121.6 268.4h0M176.5 268.3h0M148.4 286.1h0M121.4 336.5h0M149.5 287.2h0M79.0 332.6h0M210.0 307.1h0M92.5 296.3h0M92.1 291.3h0M191.8 283.8h0M198.5 289.6h0M174.5 281.0h0M129.6 287.3h0M127.9 288.3h0M131.1 292.3h0M126.5 289.3h0M134.8 277.4h0M116.5 337.7h0M111.1 275.4h0M131.6 283.2h0M198.6 291.7h0M137.7 284.5h0M70.8 309.8h0M195.0 285.7h0M202.6 303.9h0M63.4 301.9h0M129.4 285.5h0M136.8 283.5h0M108.0 286.7h0M178.1 282.7h0M211.9 312.2h0M146.5 288.3h0M71.5 313.9h0M80.3 330.7h0M192.3 281.8h0M186.3 287.0h0M110.0 280.5h0M138.0 291.2h0M99.9 283.0h0M118.6 292.3h0M185.7 280.9h0M187.1 281.2h0M200.7 288.5h0M174.4 339.4h0M189.9 262.5h0M76.6 276.2h0M150.5 279.3h0M147.2 288.8h0M194.7 283.8h0M99.2 288.9h0M149.6 280.8h0M197.8 283.6h0M85.4 316.9h0M84.0 302.8h0M116.4 276.6h0M92.4 335.3h0M158.8 272.5h0M201.5 319.3h0M206.0 327.0h0M124.7 277.8h0M96.5 277.9h0M130.3 276.5h0M192.2 272.4h0M199.5 280.2h0M193.1 284.8h0M122.3 334.9h0M109.1 281.9h0M203.6 328.7h0M195.3 271.3h0M146.6 284.4h0M139.3 275.7h0M144.8 280.3h0M78.0 300.4h0M158.4 284.0h0M179.8 281.8h0M203.3 329.6h0M155.5 275.8h0M147.7 279.5h0M85.6 281.2h0M202.3 316.7h0M78.4 312.8h0M154.8 285.1h0M86.5 289.0h0M148.2 256.0h0M151.7 288.4h0M121.3 262.4h0M140.4 288.6h0M110.2 283.9h0M154.5 270.7h0M158.7 288.8h0M197.8 278.5h0M202.4 321.2h0M100.1 285.6h0M65.3 285.0h0M160.8 337.4h0M65.5 326.7h0M198.8 289.2h0M78.7 291.2h0M149.8 289.4h0M91.8 288.2h0M152.7 273.6h0M119.5 286.3h0M95.6 284.7h0M76.6 307.1h0M195.9 334.7h0M108.8 283.6h0M110.9 288.4h0M120.8 288.5h0M124.3 284.5h0M175.0 268.7h0M78.6 331.3h0M178.7 273.9h0M135.8 292.3h0M90.7 271.5h0M126.0 334.8h0M194.0 276.2h0M198.4 289.5h0M201.1 318.5h0M156.6 271.5h0M81.5 262.5h0M152.2 274.9h0M91.7 307.5h0M165.7 281.0h0M114.5 288.5h0M132.7 276.3h0M172.5 273.8h0M156.5 287.9h0M149.7 279.8h0M73.8 313.2h0M147.5 275.8h0M174.4 262.9h0M130.8 286.1h0M164.0 274.6h0M88.5 305.4h0M152.3 264.8h0M113.1 289.1h0M176.6 285.9h0M185.9 276.0h0M149.4 337.5h0M205.1 319.6h0M165.7 273.4h0M198.4 301.2h0M69.5 308.2h0M163.1 271.9h0M98.1 287.2h0M81.6 284.5h0M92.2 333.7h0M186.8 285.4h0M147.4 278.3h0M69.3 322.3h0M129.0 281.6h0M92.4 281.4h0M199.0 293.3h0M174.8 335.7h0M83.7 284.2h0M172.8 283.8h0M99.7 287.8h0M95.6 334.9h0M87.5 324.9h0M128.5 292.4h0M185.0 278.4h0M66.7 305.5h0M197.7 337.5h0M75.9 298.1h0M67.2 324.5h0M188.9 278.2h0M201.6 327.6h0M82.7 323.4h0M140.5 294.0h0M206.4 282.0h0M120.2 290.6h0M170.2 282.3h0M207.8 320.2h0M77.4 321.1h0M82.2 306.8h0M68.2 287.2h0M166.4 270.9h0M132.5 292.4h0M196.3 279.9h0M160.7 270.6h0M200.1 334.6h0M144.6 282.3h0M182.8 269.7h0M161.0 272.7h0M72.1 336.0h0M165.2 335.4h0M129.8 337.2h0M123.9 277.6h0M164.2 274.9h0M192.6 269.1h0M73.9 298.9h0M137.7 284.7h0M173.7 274.7h0M170.6 286.4h0M139.1 293.0h0M77.8 326.9h0M162.0 280.7h0M164.8 335.6h0M91.5 333.3h0M156.8 287.5h0M104.2 279.1h0M68.4 330.6h0M120.5 290.9h0M152.5 288.8h0M121.1 276.7h0M196.7 288.2h0M72.1 290.7h0M207.6 311.4h0M134.5 279.1h0M161.2 285.7h0M168.5 285.8h0M151.6 281.1h0M69.3 319.0h0M166.0 280.3h0M198.2 267.9h0M161.1 273.6h0M83.1 334.5h0M91.8 285.6h0M128.4 291.5h0M112.2 283.4h0M167.9 274.8h0M198.8 332.3h0M72.8 272.1h0M81.3 316.3h0M149.2 280.8h0M77.5 305.1h0M194.7 335.2h0M189.4 335.6h0M90.2 306.3h0M100.6 273.0h0M118.4 282.6h0M109.0 279.6h0M191.9 279.8h0M93.0 284.0h0M93.5 278.4h0M143.5 288.5h0M201.6 332.5h0M66.5 296.5h0M153.1 242.6h0M124.7 290.3h0M113.2 280.3h0M206.0 305.3h0M208.3 319.7h0M91.4 296.8h0M98.7 278.3h0M77.9 310.3h0M136.8 294.5h0M150.8 279.7h0M152.8 281.2h0M193.4 274.2h0M166.3 286.0h0M190.4 286.3h0M76.3 293.6h0M76.9 329.2h0M70.0 308.8h0M131.1 261.1h0M203.5 270.9h0M86.3 304.3h0M129.6 286.3h0M102.7 287.6h0M65.5 287.3h0M199.8 332.4h0M176.4 283.6h0M124.3 279.6h0M81.2 297.4h0M82.3 257.7h0M194.1 286.2h0M171.2 280.0h0M191.8 279.7h0M100.9 280.8h0M146.7 287.0h0M202.4 294.0h0M205.9 324.8h0M205.2 325.8h0M191.6 281.5h0M184.4 274.7h0M118.0 280.6h0M72.4 326.1h0M131.8 276.3h0M78.2 301.8h0M141.1 276.3h0M110.1 260.5h0M186.9 268.9h0M81.2 314.1h0M130.1 291.3h0M71.5 304.6h0M89.9 319.9h0M170.7 274.2h0M69.8 322.5h0M163.0 283.9h0M181.6 258.9h0M136.8 277.5h0M167.5 285.2h0M71.2 300.2h0M86.1 330.2h0M123.2 278.1h0M91.2 290.6h0M160.2 278.2h0M144.5 282.4h0M146.7 283.2h0M138.4 282.1h0M90.8 335.7h0M79.9 335.3h0M192.7 274.6h0M147.4 275.4h0M185.7 272.7h0M72.1 299.2h0M200.1 283.6h0M132.4 336.9h0M129.4 268.2h0M105.1 284.2h0M96.0 244.0h0M135.0 244.0h0M146.0 243.5h0M120.0 262.0h0M160.0 258.0h0M190.0 250.0h0M205.0 255.0h0M70.0 268.0h0M80.0 262.0h0M200.0 262.0h0M185.0 266.0h0M110.0 258.0h0M175.0 262.0h0" stroke="#a3cde5" stroke-width="2.56" stroke-linecap="round" fill="none"/><path d="M198.7 303.4h0M199.5 303.6h0M185.1 335.0h0M135.7 296.1h0M119.9 336.4h0M201.7 323.2h0M153.7 290.2h0M142.4 294.7h0M182.0 335.6h0M140.3 334.7h0M144.9 292.6h0M138.9 297.8h0M186.8 290.5h0M98.5 335.1h0M199.3 302.5h0M139.7 298.1h0M148.7 291.2h0M97.8 292.5h0M143.7 335.2h0M183.9 335.5h0M138.2 296.2h0M163.9 288.9h0M138.1 337.2h0M141.9 336.0h0M141.5 336.0h0M174.9 289.0h0M154.3 292.4h0M144.7 293.9h0M182.6 335.5h0M178.9 334.8h0M166.7 287.6h0M150.0 291.8h0M181.1 336.6h0M136.3 334.7h0M168.1 287.1h0M170.6 288.7h0M136.6 298.5h0M136.5 296.1h0M202.3 323.8h0M110.1 291.0h0M146.7 335.9h0M165.5 287.4h0M181.5 288.6h0M98.1 290.1h0M186.9 336.4h0M203.3 323.6h0M150.7 292.3h0M123.7 295.4h0M135.4 334.7h0M187.9 291.1h0M145.1 336.8h0M96.6 335.9h0M122.9 293.8h0M146.2 336.9h0M136.8 334.8h0M181.5 291.6h0M168.2 286.8h0M116.0 292.2h0M180.4 335.5h0M190.1 291.1h0M167.8 288.5h0M192.2 294.6h0M203.9 323.5h0M91.2 309.0h0M129.5 296.7h0M134.4 297.9h0M181.5 335.3h0M183.9 336.2h0M200.1 303.4h0M191.5 290.3h0M188.6 290.9h0M119.6 335.7h0M201.6 322.7h0M108.6 291.1h0M134.3 296.8h0M173.4 289.0h0M98.9 290.0h0M162.8 288.0h0M142.5 334.6h0M144.0 294.4h0M197.6 297.7h0M98.0 290.0h0M140.1 335.6h0M131.5 297.0h0M179.0 287.6h0M163.6 288.9h0M171.9 286.7h0M178.3 334.6h0M122.6 293.5h0M174.8 287.8h0M132.1 297.7h0M148.8 292.0h0M139.5 335.7h0M180.1 335.3h0M96.9 334.8h0M98.5 335.4h0M141.1 336.1h0M143.3 336.3h0M149.9 291.9h0M197.3 297.7h0M181.6 335.9h0M137.3 335.2h0M108.4 289.6h0M108.5 291.6h0M164.2 287.1h0M201.1 323.5h0M187.8 334.9h0M148.3 292.5h0M196.7 297.9h0M141.8 335.0h0M96.8 337.1h0M97.6 291.6h0M198.2 302.0h0M181.8 337.3h0M135.1 336.5h0M198.8 303.8h0M197.9 296.6h0M177.6 336.8h0M96.7 336.4h0M180.3 292.5h0M133.2 298.5h0M136.6 337.1h0M185.4 335.6h0M155.6 292.4h0M174.7 288.9h0M183.1 290.1h0M145.3 334.8h0M120.4 295.4h0M181.7 288.8h0M177.1 288.9h0M139.6 297.1h0M118.3 336.6h0M181.7 286.9h0M116.7 290.6h0M146.4 336.9h0M137.4 297.3h0M177.6 336.9h0M143.0 335.2h0M138.6 296.9h0M193.2 293.0h0M197.2 298.3h0" stroke="#9ecae4" stroke-width="2.56" stroke-linecap="round" fill="none"/><path d="M184.3 294.9h0M91.1 310.7h0M94.0 292.8h0M103.4 291.6h0M160.5 291.0h0M116.6 336.7h0M92.6 310.8h0M167.5 291.3h0M135.8 300.2h0M186.3 295.2h0M145.8 298.1h0M178.6 293.1h0M132.7 299.6h0M179.9 295.3h0M195.9 298.7h0M182.0 295.3h0M198.8 312.9h0M195.4 332.3h0M198.9 313.9h0M130.9 301.0h0M124.6 296.0h0M184.2 295.0h0M129.9 299.0h0M131.1 299.3h0M174.3 293.9h0M178.9 289.6h0M133.8 301.5h0M170.7 290.8h0M93.8 295.3h0M147.0 296.3h0M93.2 293.4h0M193.6 296.7h0M165.7 290.9h0M152.2 293.4h0M193.4 296.3h0M116.5 295.3h0M149.7 294.8h0M196.4 299.0h0M194.1 296.8h0M199.5 307.1h0M92.4 331.4h0M92.7 313.1h0M91.7 311.9h0M199.4 310.9h0M190.7 292.9h0M95.4 293.3h0M106.5 291.0h0M103.2 290.6h0M125.7 296.2h0M105.8 334.6h0M185.7 292.8h0M158.7 292.2h0M147.1 293.0h0M107.7 292.0h0M175.3 294.1h0M92.3 328.7h0M170.1 290.2h0M156.9 291.5h0M169.9 292.1h0M166.3 333.5h0M151.4 294.4h0M105.8 290.7h0M144.5 298.0h0M196.5 333.4h0M199.4 307.5h0M108.0 335.0h0M102.9 335.2h0M112.0 293.7h0M178.8 290.7h0M197.8 331.9h0M197.6 301.1h0M199.5 308.3h0M105.2 335.0h0M178.4 289.6h0M144.4 297.9h0M107.9 335.2h0M163.4 289.7h0M157.8 290.9h0M103.7 290.7h0M112.5 295.3h0M150.9 293.1h0M139.0 302.3h0M135.3 299.6h0M91.4 329.8h0M183.2 293.0h0M130.6 301.0h0M178.7 290.1h0M169.6 292.5h0M174.7 290.0h0M178.9 291.7h0M167.4 334.6h0M195.2 301.2h0M136.0 302.8h0M186.6 294.0h0M196.6 334.4h0M193.9 296.1h0M180.3 293.5h0M140.8 303.2h0M169.0 292.2h0M200.0 310.2h0M152.2 294.5h0M188.1 295.1h0M120.0 295.0h0M147.9 295.1h0M146.6 296.6h0M118.2 294.8h0M136.3 303.6h0M179.2 291.5h0M165.2 292.0h0M163.1 289.8h0M164.9 291.0h0M146.2 297.2h0M164.2 289.8h0M196.5 299.5h0M198.1 316.4h0M137.1 301.0h0M167.9 333.1h0M171.1 290.4h0M134.0 299.8h0M186.1 295.5h0M200.4 329.8h0M192.1 296.5h0M131.9 300.4h0M194.3 298.0h0M167.1 332.2h0M165.7 333.3h0M106.3 292.1h0M127.8 298.5h0M173.7 289.7h0M165.7 291.0h0M186.1 293.3h0M181.5 292.8h0M198.3 314.9h0M128.2 298.5h0M138.4 303.7h0M172.4 291.3h0M107.5 292.3h0M141.2 298.8h0M102.6 289.9h0M107.4 290.9h0M134.8 298.8h0M103.0 334.9h0M171.8 290.1h0M173.4 292.4h0M179.2 291.8h0M92.2 313.5h0M141.1 300.6h0" stroke="#9ac8e3" stroke-width="2.56" stroke-linecap="round" fill="none"/><path d="M159.5 295.1h0M148.5 296.8h0M91.4 315.9h0M108.4 295.2h0M157.3 333.1h0M170.7 294.8h0M135.0 304.3h0M149.4 298.3h0M162.6 295.3h0M93.4 299.5h0M142.0 303.9h0M183.6 300.2h0M198.4 328.3h0M179.7 297.5h0M194.5 334.3h0M199.1 321.9h0M184.6 301.4h0M160.4 332.3h0M140.1 307.1h0M196.6 303.7h0M164.2 332.0h0M95.5 299.1h0M170.9 333.2h0M111.4 335.7h0M173.6 293.7h0M106.3 293.1h0M177.2 301.1h0M180.2 298.5h0M172.1 298.7h0M156.1 293.4h0M113.1 336.7h0M146.3 298.6h0M187.1 296.3h0M180.1 300.7h0M148.5 298.4h0M179.1 298.6h0M161.4 294.1h0M127.2 331.6h0M187.1 298.3h0M105.2 293.9h0M181.0 296.9h0M109.4 294.1h0M174.2 300.1h0M93.9 299.5h0M140.1 307.6h0M155.9 294.9h0M168.9 294.8h0M110.0 293.2h0M176.9 299.0h0M138.0 307.9h0M159.1 295.2h0M199.0 326.1h0M98.5 294.8h0M138.3 307.8h0M200.0 321.7h0M141.3 302.3h0M170.3 332.4h0M93.6 295.8h0M93.5 299.5h0M192.8 333.2h0M190.2 297.7h0M95.3 332.6h0M163.7 331.7h0M94.3 334.3h0M157.2 333.3h0M172.5 292.8h0M177.8 300.5h0M97.7 293.5h0M127.0 334.2h0M185.9 298.8h0M93.5 302.3h0M121.4 297.4h0M194.4 333.1h0M176.7 297.3h0M95.7 297.5h0M185.1 296.6h0M158.7 293.0h0M170.7 298.0h0M175.0 296.8h0M96.1 293.4h0M93.1 301.1h0M198.6 318.0h0M151.1 298.3h0M113.8 337.3h0M127.7 301.1h0M184.7 297.2h0M196.7 303.0h0M138.3 307.9h0M183.6 296.7h0M106.3 293.6h0M93.1 333.5h0M175.9 301.5h0M200.2 321.4h0M136.0 306.9h0M136.5 310.1h0M128.1 333.7h0M169.6 334.4h0M93.2 301.7h0M95.2 306.3h0M199.3 320.4h0M127.3 333.5h0M171.1 299.4h0M182.6 301.4h0M140.3 306.3h0M95.3 333.9h0M110.4 335.3h0M154.4 292.9h0M159.5 293.2h0M174.5 297.3h0M135.6 309.6h0M163.3 293.7h0M108.7 294.2h0M153.4 294.2h0M192.3 332.5h0M92.3 327.0h0M172.7 333.8h0M95.6 303.0h0M91.7 328.1h0M152.7 296.2h0M154.3 292.8h0M95.3 298.0h0M109.1 335.5h0M201.0 327.1h0M94.2 297.2h0M134.4 302.7h0M168.9 333.6h0M94.0 301.8h0M127.4 300.7h0M184.2 296.4h0M157.7 295.3h0M133.8 301.8h0M178.4 296.4h0M194.8 332.1h0M142.6 302.9h0M170.2 294.9h0M180.6 296.1h0M94.2 300.9h0M132.4 306.1h0M172.3 294.6h0M171.5 331.8h0M200.7 328.3h0M131.5 304.3h0M136.9 307.9h0M193.5 333.8h0M170.7 332.9h0M112.1 336.3h0M196.9 303.5h0M108.3 337.4h0M172.6 295.1h0M128.2 334.1h0M184.9 296.7h0M108.5 335.2h0M190.5 297.8h0M92.2 316.4h0M198.2 319.0h0M95.1 301.8h0M120.1 296.2h0M164.5 332.8h0M139.7 308.5h0M108.5 334.9h0M189.2 297.5h0M107.5 293.8h0M126.7 334.6h0M112.0 337.4h0M174.0 332.5h0M183.9 301.3h0M176.2 300.8h0M93.9 297.9h0M198.8 317.5h0M153.3 295.1h0M131.5 302.3h0M178.5 297.7h0M195.5 303.4h0M150.7 297.5h0M134.7 305.0h0M91.8 314.9h0M157.9 333.4h0M93.5 305.4h0M199.3 319.7h0M95.6 306.6h0M171.1 292.8h0M95.8 307.2h0M159.4 332.8h0M181.1 300.9h0M174.9 297.2h0M144.6 300.5h0M132.9 304.2h0M138.2 305.4h0M113.0 336.8h0M91.5 315.8h0M96.0 301.7h0M184.4 298.2h0M162.7 331.6h0M134.9 305.9h0M134.3 305.9h0M132.5 307.3h0M94.3 296.7h0M132.9 305.8h0M175.5 299.3h0M93.7 332.9h0M106.1 294.4h0M188.3 298.0h0" stroke="#95c5e2" stroke-width="2.56" stroke-linecap="round" fill="none"/><path d="M113.0 302.5h0M160.9 301.2h0M196.7 304.7h0M164.0 296.1h0M164.8 297.5h0M95.7 308.7h0M128.1 306.3h0M164.4 297.6h0M111.8 296.9h0M165.3 296.5h0M189.5 304.5h0M98.2 297.3h0M131.7 305.2h0M120.4 332.9h0M101.3 293.5h0M154.9 333.8h0M92.5 319.2h0M111.9 303.7h0M168.1 304.1h0M162.6 299.0h0M196.6 330.3h0M195.4 312.1h0M140.3 312.8h0M174.4 302.6h0M157.3 296.9h0M139.3 311.1h0M155.4 332.7h0M191.0 332.7h0M195.0 301.9h0M135.8 313.4h0M144.1 306.7h0M134.4 332.6h0M97.9 297.3h0M107.8 296.7h0M161.9 297.3h0M107.5 303.5h0M178.8 302.4h0M192.1 303.4h0M163.8 298.7h0M139.3 312.3h0M167.4 297.6h0M185.9 304.3h0M123.2 334.4h0M197.9 307.1h0M131.8 332.4h0M197.6 305.5h0M134.2 332.1h0M122.5 298.8h0M192.5 303.9h0M166.5 298.4h0M96.9 298.0h0M111.2 300.2h0M145.4 304.5h0M110.6 302.0h0M90.7 317.9h0M91.8 321.9h0M132.5 311.3h0M98.3 296.6h0M195.8 307.9h0M156.2 298.5h0M197.2 307.1h0M151.9 300.7h0M120.3 332.8h0M129.2 307.4h0M97.6 295.6h0M116.2 306.9h0M149.3 334.1h0M196.1 330.1h0M124.5 299.8h0M98.7 295.6h0M123.8 333.5h0M195.1 311.6h0M90.7 319.4h0M158.6 297.8h0M196.4 310.6h0M93.8 309.1h0M137.5 312.5h0M168.5 301.1h0M106.1 298.0h0M131.0 307.9h0M150.0 300.3h0M110.3 302.2h0M168.7 303.2h0M122.4 300.6h0M166.5 300.5h0M96.7 295.8h0M143.3 310.1h0M105.7 303.4h0M156.7 300.2h0M116.6 305.8h0M106.0 297.1h0M188.0 303.4h0M141.9 313.4h0M90.4 321.7h0M93.4 309.0h0M162.2 299.9h0M91.4 321.0h0M196.6 306.9h0M167.0 296.2h0M168.3 303.9h0M162.9 300.8h0M178.5 303.7h0M110.1 296.4h0M119.0 298.1h0M105.3 297.1h0M111.6 298.3h0M163.3 299.2h0M171.3 302.1h0M111.5 302.2h0M196.5 330.7h0M120.8 301.0h0M106.2 303.0h0M130.5 309.7h0M107.8 303.4h0M120.6 334.5h0M131.5 333.8h0M152.7 334.3h0M175.0 303.6h0M128.7 306.9h0M180.8 306.7h0M142.9 311.1h0M146.7 305.9h0M111.2 307.6h0M160.0 296.8h0M151.1 333.4h0M122.2 332.7h0M167.5 299.3h0M121.3 299.8h0M111.8 304.6h0M191.1 299.9h0M174.7 301.8h0M113.1 309.5h0M112.6 299.6h0M190.2 334.0h0M156.9 297.7h0M140.1 310.7h0M196.0 308.2h0M155.6 333.8h0M121.5 298.9h0M183.2 302.7h0M185.8 302.9h0M98.8 297.3h0M107.3 297.4h0M111.5 300.1h0M178.8 302.3h0M117.6 295.8h0M186.8 299.4h0M127.2 304.2h0M186.8 301.3h0M131.1 305.0h0M146.0 307.2h0M91.6 325.6h0M169.6 304.3h0M151.6 332.2h0M91.2 318.2h0M156.1 298.7h0M142.9 305.4h0M158.7 301.4h0M196.1 312.1h0M164.0 299.0h0M121.4 301.1h0M128.1 304.8h0M186.4 300.5h0M123.9 334.1h0M91.4 324.7h0M157.2 300.7h0M150.2 300.9h0M187.9 303.1h0M165.3 296.9h0M124.5 333.8h0M176.3 301.9h0M166.3 301.0h0M147.1 332.4h0M112.8 296.1h0M138.6 310.8h0M107.7 303.6h0M145.9 304.8h0M133.8 311.0h0M105.5 295.8h0M150.8 332.2h0M179.2 301.7h0M123.6 332.2h0M157.5 301.2h0M140.0 312.5h0M195.2 310.3h0M166.3 295.6h0M190.5 332.9h0M141.9 305.9h0M145.5 305.2h0M91.0 317.8h0M149.3 333.4h0M128.8 302.3h0M128.0 303.3h0M192.0 333.6h0M189.3 333.4h0M197.4 306.0h0M162.7 296.7h0M192.9 300.2h0M102.3 298.0h0M109.9 298.2h0M191.3 301.5h0M148.8 299.1h0M125.0 333.8h0M120.2 331.6h0M176.7 303.2h0M98.1 296.2h0M112.2 308.7h0M190.4 299.4h0M149.6 333.6h0M131.6 332.9h0M166.1 297.2h0M182.8 304.6h0M127.2 306.3h0M104.6 297.4h0M107.2 298.6h0M147.0 307.5h0M180.0 302.4h0M130.5 307.6h0M150.7 301.2h0M152.4 300.9h0M163.6 296.6h0M135.5 313.2h0M91.9 317.4h0M123.9 333.6h0M112.4 297.5h0M144.2 304.1h0M123.2 298.7h0M196.2 309.8h0M125.1 333.3h0M104.2 298.3h0M134.9 311.9h0M92.6 324.8h0M128.5 306.4h0M111.6 296.6h0M100.7 294.1h0M122.7 299.4h0M193.8 298.6h0M152.0 333.0h0M149.4 299.2h0M111.3 298.9h0M151.9 300.7h0M112.2 298.6h0M105.2 303.2h0M147.6 334.2h0M107.8 298.0h0M104.6 293.0h0M142.1 311.2h0M147.5 332.5h0M102.9 293.7h0M141.5 310.9h0M186.2 301.7h0M190.5 304.4h0M120.5 300.4h0M93.0 323.3h0M158.1 298.7h0M148.5 333.6h0M117.3 296.1h0M111.8 309.3h0M149.9 299.2h0M157.4 298.9h0M128.5 303.1h0M175.9 301.9h0M164.5 300.9h0M107.2 298.8h0M113.6 299.0h0M92.4 320.7h0M142.4 310.5h0M181.1 303.7h0M125.9 332.4h0M113.8 302.2h0M198.0 305.7h0M119.6 298.4h0M190.2 302.6h0M109.1 301.6h0M151.0 332.3h0M186.4 300.6h0M133.0 333.5h0M116.6 296.4h0M144.7 303.5h0M193.1 304.5h0M190.4 301.2h0M91.7 317.9h0M167.3 296.2h0M184.7 303.7h0M97.4 296.2h0M113.7 309.2h0M147.4 300.5h0M165.0 301.0h0M91.3 321.9h0M155.1 297.0h0M146.6 304.5h0M121.2 333.4h0M99.1 296.5h0M130.0 305.3h0M166.0 296.8h0M196.4 329.6h0M164.5 296.6h0M96.8 298.0h0" stroke="#8fc2e1" stroke-width="2.56" stroke-linecap="round" fill="none"/><path d="M146.6 315.1h0M195.8 315.5h0M142.9 332.9h0M149.8 307.1h0M117.7 300.2h0M99.9 297.4h0M165.9 306.9h0M192.3 307.3h0M186.3 334.1h0M151.3 303.9h0M125.0 304.1h0M126.2 312.4h0M184.4 332.6h0M123.2 309.9h0M117.1 334.3h0M138.8 332.2h0M166.0 331.5h0M131.8 312.0h0M121.5 303.7h0M182.4 309.0h0M173.6 307.3h0M182.1 333.5h0M135.4 333.9h0M117.4 308.9h0M170.7 307.2h0M186.6 309.9h0M170.2 331.4h0M144.4 332.3h0M189.7 307.2h0M165.9 330.4h0M111.9 313.0h0M98.3 301.2h0M156.7 309.5h0M140.4 331.9h0M104.5 303.9h0M153.4 307.6h0M148.5 312.5h0M129.0 308.0h0M104.5 304.5h0M146.0 310.4h0M170.4 305.9h0M169.2 328.8h0M179.3 332.6h0M184.0 333.6h0M158.9 310.6h0M121.6 306.4h0M133.4 314.3h0M187.9 307.3h0M99.5 303.9h0M126.0 302.3h0M153.7 305.4h0M155.5 298.9h0M116.7 303.5h0M151.5 310.4h0M186.3 332.9h0M188.7 332.9h0M149.0 304.0h0M149.3 302.1h0M158.2 304.7h0M154.0 314.8h0M197.6 313.9h0M118.3 298.8h0M115.8 301.9h0M187.9 333.1h0M94.7 310.9h0M116.7 303.4h0M144.6 310.3h0M164.1 303.9h0M106.8 306.3h0M170.8 305.2h0M180.2 332.9h0M178.6 333.8h0M135.5 315.7h0M97.5 303.0h0M179.4 334.3h0M127.3 309.6h0M176.0 304.8h0M166.2 329.5h0M192.8 307.6h0M154.6 299.9h0M170.8 331.3h0M153.9 314.4h0M152.6 310.5h0M122.1 308.6h0M188.1 307.7h0M125.9 304.3h0M161.1 301.7h0M134.4 315.1h0M141.0 332.4h0M146.3 308.8h0M191.9 306.6h0M175.8 306.0h0M96.7 305.4h0M118.8 303.6h0M155.2 307.3h0M165.5 329.2h0M119.0 312.2h0M151.0 303.2h0M149.7 315.6h0M117.0 302.1h0M156.0 301.2h0M155.4 299.1h0M101.6 297.6h0M100.4 298.1h0M173.4 305.3h0M99.1 300.3h0M166.2 305.8h0M187.3 309.6h0M99.8 304.5h0M197.0 315.7h0M128.1 308.2h0M194.4 305.5h0M116.9 303.8h0M161.3 308.5h0M137.3 332.0h0M142.2 333.0h0M119.1 304.4h0M158.1 306.8h0M175.6 307.5h0M97.3 300.2h0M122.6 307.3h0M98.9 302.0h0M145.4 312.9h0M149.0 310.6h0M95.5 312.0h0M135.4 331.7h0M153.0 309.7h0M195.6 315.7h0M160.1 309.2h0M100.1 295.9h0M146.0 307.8h0M135.6 334.1h0M148.2 305.8h0M149.4 310.3h0M155.4 316.1h0M172.0 307.2h0M161.2 304.3h0M144.6 309.7h0M177.3 334.2h0M179.0 306.6h0M119.2 300.9h0M101.1 300.3h0M159.8 306.0h0M162.4 305.2h0M158.3 306.5h0M146.3 312.5h0M153.3 303.3h0M117.8 333.6h0M150.6 312.2h0M148.5 308.7h0M119.9 299.3h0M182.1 308.6h0M195.0 307.0h0M125.4 305.0h0M154.5 303.9h0M119.9 311.5h0M149.6 315.9h0M157.5 303.3h0M142.9 314.9h0M181.5 333.9h0M128.4 312.6h0M197.5 319.3h0M169.7 329.0h0M112.3 311.4h0M164.2 303.3h0M151.3 312.8h0M187.2 334.3h0M149.2 303.4h0M161.4 307.0h0M124.2 303.4h0M150.2 315.1h0M139.5 331.9h0M162.8 305.7h0M123.2 308.3h0M152.1 301.8h0M162.7 302.2h0M154.9 314.7h0M155.5 314.7h0M164.8 303.2h0M149.0 307.6h0M192.3 307.6h0M117.8 300.0h0M185.5 333.7h0M189.4 307.4h0M151.2 306.0h0M118.0 306.5h0M160.8 307.6h0M197.2 317.8h0M115.2 299.0h0M136.6 334.3h0M158.4 309.9h0M116.5 299.5h0M185.0 332.5h0M96.8 306.3h0M163.0 305.1h0M116.1 303.5h0M193.8 307.0h0M177.6 331.9h0M104.3 301.6h0M116.1 304.5h0M98.7 307.2h0M149.6 305.1h0M117.4 310.0h0M156.6 310.5h0M136.3 333.1h0M98.0 305.7h0M156.5 312.2h0M184.1 332.7h0M140.7 331.7h0M124.5 310.4h0M195.2 316.6h0M147.5 307.8h0M152.5 307.5h0M120.3 308.4h0M166.5 331.0h0M123.9 306.2h0M101.8 295.7h0M150.2 304.1h0M99.2 300.8h0M161.9 309.8h0M141.0 314.6h0M123.3 307.2h0M144.4 313.1h0M118.1 299.0h0M151.8 307.0h0M184.0 332.2h0M152.1 305.6h0M135.5 333.6h0M151.8 308.6h0M118.5 332.3h0M114.9 310.8h0M116.5 303.6h0M119.2 332.7h0M125.1 309.8h0M166.9 328.9h0M179.8 334.4h0M147.8 312.3h0M145.9 315.5h0M103.4 300.2h0M171.9 306.1h0M148.6 309.1h0M119.7 333.5h0M154.6 309.8h0M145.5 311.1h0M150.5 303.0h0M118.5 300.4h0M155.9 307.8h0M98.3 303.4h0M195.6 318.4h0M171.0 329.1h0M158.9 305.9h0M193.0 307.9h0M126.0 301.8h0M158.2 306.5h0M179.0 332.4h0M122.8 306.5h0M121.7 309.9h0M152.1 310.0h0M96.6 302.8h0M183.7 333.2h0M114.0 310.7h0M124.9 308.2h0M143.0 334.0h0M117.2 299.3h0M145.7 313.0h0M117.8 299.1h0M114.3 299.5h0M193.5 306.0h0M117.3 307.2h0M162.5 305.3h0M196.8 313.9h0M119.1 307.9h0M183.5 332.3h0M181.3 308.3h0M99.4 301.5h0M128.6 312.1h0M157.0 308.7h0M146.1 331.6h0M180.0 333.1h0M97.3 304.5h0M163.6 305.7h0M188.8 333.5h0M117.1 301.3h0M148.4 302.1h0M141.3 315.1h0M104.4 300.6h0M197.8 315.3h0M119.3 300.1h0M173.5 307.2h0M125.9 305.1h0M170.4 306.4h0M148.1 309.4h0M135.6 331.7h0M196.6 318.7h0M115.4 301.5h0M118.9 304.4h0M119.0 308.3h0M121.8 309.6h0M161.8 309.7h0M139.5 334.3h0M122.6 303.7h0M141.1 315.2h0M152.6 305.9h0M177.9 307.2h0M124.3 308.2h0M176.0 305.0h0M155.5 313.4h0M113.4 311.6h0M119.6 310.5h0M178.7 331.8h0M94.5 312.6h0M153.3 304.9h0M158.2 313.6h0M188.5 307.5h0M157.7 310.0h0M114.2 302.1h0M188.9 308.3h0M153.9 313.2h0M120.1 305.9h0M189.0 307.8h0" stroke="#89bdde" stroke-width="2.56" stroke-linecap="round" fill="none"/><path d="M171.2 329.3h0M176.9 308.9h0M142.3 316.7h0M147.4 318.8h0M145.4 318.0h0M189.7 311.2h0M176.8 310.4h0M116.2 314.8h0M161.6 311.1h0M194.6 331.5h0M197.8 321.5h0M174.9 308.3h0M116.8 334.1h0M167.2 309.3h0M114.9 334.1h0M169.8 310.5h0M190.7 308.5h0M105.9 309.9h0M190.4 312.7h0M163.5 329.7h0M116.9 332.9h0M161.5 331.3h0M164.6 310.6h0M97.8 332.7h0M150.3 317.6h0M189.1 309.6h0M114.2 332.5h0M114.4 332.0h0M131.7 315.7h0M194.6 329.6h0M115.0 313.8h0M186.2 311.9h0M184.9 312.1h0M97.1 333.0h0M162.6 330.0h0M150.2 318.3h0M169.0 308.7h0M171.3 330.0h0M159.8 315.8h0M115.1 315.4h0M194.8 329.3h0M160.9 312.7h0M156.8 315.6h0M162.8 315.9h0M175.0 309.8h0M107.0 308.1h0M155.2 319.4h0M161.1 315.6h0M162.6 314.9h0M130.7 315.8h0M196.3 327.8h0M188.3 311.7h0M197.2 320.5h0M197.3 327.3h0M164.5 328.8h0M122.5 311.7h0M164.9 314.0h0M119.2 314.2h0M151.5 318.8h0M173.7 310.4h0M190.4 313.3h0M192.0 309.4h0M155.4 317.4h0M169.0 309.0h0M107.8 310.4h0M97.1 331.8h0M176.1 308.5h0M178.0 309.8h0M98.9 308.7h0M162.4 328.9h0M96.3 331.6h0M162.1 315.4h0M97.0 331.6h0M99.1 333.0h0M156.4 314.9h0M192.9 316.2h0M116.5 315.4h0M114.2 332.0h0M119.2 316.2h0M173.6 330.6h0M184.8 310.6h0M196.7 326.3h0M192.1 312.9h0M178.5 308.8h0M196.4 325.7h0M160.4 331.4h0M98.6 333.3h0M145.6 319.4h0M164.9 329.8h0M115.6 332.3h0M166.4 312.3h0M167.5 308.0h0M190.2 310.5h0M146.6 319.4h0M167.6 310.3h0M196.5 324.4h0M197.8 319.6h0M161.1 313.0h0M186.9 313.3h0M162.4 310.5h0M197.0 321.8h0M116.8 316.1h0M97.7 333.9h0M188.1 310.7h0M174.5 309.4h0M164.5 316.5h0M196.1 324.5h0M166.9 312.8h0M168.3 310.0h0M180.9 312.2h0M173.1 310.0h0M164.5 329.7h0M195.7 327.6h0M162.5 313.8h0M115.8 316.3h0M174.9 310.5h0M185.3 312.5h0M100.0 304.8h0M180.1 310.7h0M93.1 329.0h0M195.8 324.8h0M141.6 318.8h0M195.1 321.6h0M185.5 313.3h0M197.1 320.8h0M189.3 313.2h0M195.1 326.8h0M161.4 311.6h0M98.4 333.2h0M193.8 312.0h0M191.2 307.9h0M96.0 328.8h0M151.6 317.6h0M178.1 310.5h0M93.4 329.0h0M166.3 308.5h0M193.5 314.4h0M174.8 309.1h0M162.5 330.2h0M195.4 320.8h0M157.2 314.9h0M96.5 332.1h0M99.2 307.2h0M164.5 310.0h0M120.6 312.7h0M166.8 307.7h0M185.3 313.5h0M183.5 311.9h0M194.2 315.1h0M161.4 311.2h0M126.0 313.5h0M154.3 317.0h0M169.0 310.4h0M187.0 311.8h0M163.9 309.9h0M115.1 315.7h0M96.1 333.6h0M191.6 312.2h0M114.5 332.6h0M194.1 311.3h0M188.3 312.7h0M104.2 305.1h0M149.2 317.3h0M97.2 333.4h0M166.4 312.5h0M99.7 306.8h0M145.9 318.6h0M189.9 313.5h0M195.3 325.9h0M97.4 308.0h0M160.4 329.1h0M141.8 317.4h0M160.2 329.8h0M98.2 310.5h0M197.0 321.3h0M104.9 304.8h0M166.8 310.0h0M142.7 318.6h0M171.1 330.3h0M161.7 313.5h0M189.1 311.0h0M189.5 310.8h0M94.2 328.6h0M197.6 323.1h0M141.6 318.3h0M97.9 307.8h0M164.9 310.0h0M192.7 329.0h0" stroke="#82b9dc" stroke-width="2.56" stroke-linecap="round" fill="none"/><path d="M193.4 318.9h0M184.4 315.1h0M126.4 314.0h0M105.0 307.9h0M164.6 316.7h0M155.6 331.3h0M157.9 319.1h0M109.2 310.6h0M189.5 317.4h0M155.2 330.5h0M191.5 319.5h0M170.3 313.6h0M179.0 316.6h0M187.2 328.7h0M170.2 321.3h0M155.4 330.2h0M183.6 318.0h0M121.1 316.3h0M181.5 318.2h0M153.3 330.5h0M112.1 332.4h0M164.8 317.9h0M95.9 326.2h0M177.7 329.0h0M129.2 329.7h0M179.8 330.8h0M163.6 326.9h0M102.8 308.8h0M185.3 315.0h0M108.4 312.5h0M163.9 319.4h0M157.4 328.8h0M185.8 318.5h0M125.6 313.7h0M101.5 331.8h0M102.3 307.7h0M183.9 315.4h0M167.1 327.0h0M189.4 330.9h0M167.7 322.5h0M174.2 331.1h0M154.9 328.6h0M125.5 315.4h0M177.7 311.7h0M122.2 315.4h0M173.9 312.7h0M164.8 321.4h0M102.9 309.3h0M101.4 310.5h0M123.9 314.8h0M193.3 326.9h0M175.4 330.5h0M157.5 318.9h0M186.7 314.0h0M177.2 312.9h0M102.8 308.2h0M163.4 317.7h0M175.7 313.0h0M106.7 334.5h0M120.6 330.2h0M168.2 327.4h0M185.7 315.1h0M109.7 312.0h0M179.7 311.5h0M168.9 316.1h0M111.9 315.3h0M107.1 333.0h0M191.2 331.4h0M167.6 324.2h0M182.0 315.2h0M191.8 318.4h0M175.9 330.0h0M188.4 313.7h0M112.4 333.3h0M120.5 330.7h0M158.4 331.1h0M112.9 315.2h0M106.5 334.3h0M165.2 315.4h0M188.4 318.5h0M178.5 311.5h0M172.3 311.5h0M163.0 325.7h0M137.3 319.5h0M172.3 310.7h0M151.0 330.3h0M193.3 323.1h0M194.5 326.6h0M139.3 319.5h0M102.1 333.7h0M164.7 320.4h0M102.2 309.3h0M176.7 328.7h0M99.4 308.9h0M179.1 330.0h0M155.1 329.1h0M175.4 330.3h0M180.0 313.5h0M102.3 333.2h0M159.9 318.5h0M169.5 328.4h0M172.1 313.1h0M100.4 332.2h0M167.1 315.1h0M94.5 314.5h0M102.0 308.1h0M172.3 328.5h0M186.4 318.9h0M165.6 324.6h0M120.1 315.3h0M120.2 315.9h0M190.4 328.8h0M163.8 322.3h0M176.1 329.8h0M193.6 322.1h0M95.9 326.9h0M173.9 326.9h0M175.6 310.8h0M189.1 331.4h0M168.6 312.5h0M156.6 330.6h0M193.9 319.0h0M126.4 315.0h0M153.6 330.5h0M192.3 326.7h0M151.4 331.4h0M123.4 313.9h0M123.6 328.6h0M122.0 315.7h0M160.6 317.1h0M186.3 329.9h0M165.8 320.6h0M177.4 314.9h0M151.1 329.1h0M163.9 327.6h0M180.3 318.1h0M183.7 318.4h0M123.5 315.6h0M193.4 319.2h0M189.2 314.8h0M194.4 322.0h0M177.2 311.3h0M165.5 314.3h0M163.9 322.0h0M174.0 310.8h0M95.9 315.4h0M187.5 314.9h0M178.4 331.1h0M127.1 314.2h0M193.2 327.3h0M128.6 330.4h0M111.6 314.6h0M120.8 328.7h0M106.0 333.0h0M182.4 319.4h0M128.3 329.9h0M163.4 319.8h0M195.0 325.9h0M169.9 322.2h0M181.2 314.5h0M182.4 318.2h0M137.7 319.1h0M179.2 310.8h0M121.5 331.2h0M95.0 315.5h0M168.8 311.2h0M99.9 310.3h0M121.0 313.7h0M124.3 329.9h0M175.9 312.3h0M184.2 315.2h0M168.7 312.4h0M172.9 326.8h0M166.4 321.9h0M99.5 309.4h0M104.7 309.0h0M156.1 330.8h0M109.5 311.1h0M172.7 328.2h0M165.8 319.1h0M190.6 329.5h0M169.6 314.7h0M162.4 322.5h0M163.7 322.1h0M191.6 328.6h0M168.8 320.9h0M169.8 319.8h0M123.4 313.8h0M106.1 334.1h0M169.0 320.9h0M193.9 320.3h0M127.8 316.2h0M94.4 326.0h0M177.8 314.9h0M168.6 327.8h0M167.7 324.2h0M173.4 313.2h0M159.7 317.9h0M194.7 324.3h0M111.5 333.3h0M166.7 316.9h0M194.7 319.2h0M102.4 334.2h0M166.1 320.2h0M182.4 319.4h0M181.7 314.2h0M192.8 328.1h0M173.3 326.0h0M165.6 324.0h0M191.2 328.8h0M177.7 330.2h0M105.5 334.2h0M194.1 318.7h0M121.4 329.1h0M127.7 329.5h0M178.5 330.9h0M101.2 332.4h0M190.0 318.4h0M156.0 331.2h0M162.9 318.9h0M103.0 331.6h0M169.4 327.4h0M168.5 312.3h0M162.7 317.6h0M189.3 329.5h0M121.2 316.2h0M182.8 313.7h0M127.6 316.0h0M167.9 325.6h0M93.2 327.9h0M100.8 333.2h0M186.6 318.6h0M151.8 330.8h0M102.6 309.4h0M176.2 331.1h0M171.2 312.4h0M158.4 319.3h0M186.9 315.4h0M168.7 320.9h0M170.4 313.2h0M164.3 321.4h0M103.7 308.0h0M157.5 318.0h0M130.1 329.7h0M192.3 317.3h0M100.1 333.4h0M172.4 328.0h0M123.0 316.3h0M122.0 330.6h0" stroke="#7cb4da" stroke-width="2.56" stroke-linecap="round" fill="none"/><path d="M149.1 320.6h0M93.5 318.6h0M173.0 320.0h0M172.7 314.5h0M135.0 317.5h0M176.5 320.9h0M171.7 315.9h0M177.5 323.9h0M174.1 317.1h0M160.5 322.7h0M94.0 323.2h0M183.1 328.6h0M174.4 316.1h0M124.3 317.4h0M177.0 327.7h0M122.5 319.1h0M93.6 324.4h0M175.3 318.6h0M143.2 320.8h0M159.1 326.9h0M188.2 328.1h0M136.1 331.4h0M133.7 330.3h0M187.9 321.4h0M185.7 320.6h0M105.6 313.1h0M125.8 318.1h0M182.9 324.6h0M144.6 329.0h0M117.1 317.0h0M117.1 320.5h0M150.9 322.0h0M160.6 327.1h0M119.0 318.7h0M118.9 319.8h0M184.6 327.0h0M179.2 327.1h0M184.0 329.4h0M183.9 320.0h0M93.8 324.1h0M160.8 321.6h0M94.7 325.4h0M191.9 324.1h0M159.6 319.8h0M95.0 325.3h0M95.4 325.4h0M173.7 315.1h0M95.0 317.2h0M134.8 316.8h0M107.6 312.9h0M109.8 334.1h0M137.5 331.2h0M174.5 321.3h0M189.6 325.7h0M158.4 320.5h0M158.1 327.6h0M177.8 324.0h0M179.0 321.7h0M175.6 316.8h0M171.5 314.5h0M95.5 319.0h0M135.0 331.3h0M185.0 331.5h0M176.5 320.5h0M143.1 320.8h0M157.2 328.4h0M171.2 314.7h0M186.1 323.8h0M117.5 316.8h0M134.2 328.7h0M153.1 322.0h0M134.3 329.4h0M186.0 322.4h0M173.3 324.8h0M156.4 326.5h0M186.9 326.6h0M177.3 318.9h0M187.7 325.4h0M141.6 331.0h0M179.4 322.4h0M181.7 330.9h0M133.8 328.9h0M184.2 324.9h0M185.8 325.8h0M98.4 311.9h0M143.9 320.0h0M134.9 330.3h0M175.2 323.2h0M155.6 320.6h0M137.8 329.0h0M183.7 324.0h0M176.7 321.9h0M142.6 329.7h0M159.3 323.1h0M180.1 323.4h0M110.0 313.7h0M175.8 320.2h0M148.9 331.2h0M177.0 326.3h0M141.0 331.5h0M179.3 325.3h0M131.4 317.8h0M176.6 326.8h0M174.0 317.8h0M119.1 329.3h0M180.0 317.2h0M106.3 312.8h0M185.7 331.5h0M119.5 329.0h0M191.4 322.1h0M96.5 313.5h0M130.9 318.2h0M158.0 326.4h0M139.5 328.7h0M125.3 327.4h0M123.9 317.5h0M191.6 320.5h0M136.5 330.8h0M109.8 314.7h0M191.3 326.1h0M179.2 320.1h0M95.0 317.8h0M171.6 313.8h0M190.0 323.2h0M190.6 320.5h0M181.2 320.2h0M186.9 326.8h0M146.2 320.3h0M143.4 320.0h0M94.0 323.2h0M176.9 321.1h0M124.8 327.9h0M149.7 331.4h0M157.9 325.8h0M120.0 331.6h0M189.1 324.5h0M107.7 311.3h0M161.6 325.7h0M185.3 330.3h0M169.9 323.0h0M110.6 334.4h0M161.9 325.5h0M151.0 322.4h0M178.7 319.2h0M177.3 324.0h0M130.9 319.2h0M158.4 327.5h0M182.6 325.8h0M185.2 330.5h0M95.0 322.9h0M185.5 325.0h0M109.3 333.8h0M189.0 327.7h0M116.6 319.4h0M188.1 325.7h0M145.9 320.1h0M186.5 323.0h0M144.1 330.1h0M129.8 318.6h0M117.4 317.3h0M149.7 322.1h0M160.3 327.9h0M118.1 316.7h0M173.0 320.4h0M186.2 325.2h0M185.6 330.8h0M189.3 323.8h0M137.1 330.1h0M185.9 321.4h0M191.0 322.5h0M106.7 312.0h0M155.0 322.3h0M95.2 316.6h0M134.9 318.7h0M105.7 313.0h0M123.1 328.5h0M174.9 322.1h0M171.4 314.8h0M160.3 320.1h0M158.9 322.5h0M93.6 323.7h0M176.5 315.2h0M173.0 324.1h0M185.8 325.3h0M159.3 326.5h0M156.5 327.7h0M160.6 322.6h0M129.8 318.0h0M190.1 325.4h0M149.3 331.0h0M151.6 320.9h0M179.7 319.3h0M161.3 320.7h0M178.7 319.5h0M177.1 321.4h0M186.0 325.8h0M148.0 322.2h0M151.7 321.3h0M143.7 319.6h0M122.3 317.0h0M157.5 322.4h0M139.4 329.4h0M108.6 334.2h0M173.4 318.3h0M160.0 320.0h0M172.7 318.2h0M179.5 327.8h0M180.8 331.0h0M119.4 317.3h0M175.4 316.9h0M118.7 321.1h0M122.8 317.0h0M96.0 317.4h0M174.8 324.4h0M105.2 311.7h0M144.1 320.4h0M180.7 325.6h0M192.0 320.1h0M183.2 325.7h0M184.1 327.7h0M131.7 319.1h0M178.9 326.0h0M110.2 332.5h0M159.8 324.3h0M153.9 322.0h0M170.1 324.2h0M142.7 328.7h0M95.1 319.1h0M187.2 319.7h0M144.5 321.8h0M114.2 318.0h0M97.4 313.3h0M157.7 327.8h0M109.5 332.3h0M182.8 320.2h0M153.6 321.4h0M123.8 319.0h0M177.2 326.6h0M172.1 317.8h0M172.2 320.7h0M147.8 329.3h0M150.0 331.5h0M125.0 318.7h0M142.0 321.2h0M177.0 327.2h0M122.6 318.7h0M172.3 325.5h0M171.2 325.0h0M186.2 323.1h0M130.5 318.7h0M186.3 326.3h0M156.3 325.9h0M174.2 327.5h0M174.7 319.6h0M172.1 323.1h0M180.8 329.3h0M129.6 318.6h0M107.3 313.0h0M138.4 330.1h0M131.8 318.8h0M184.6 329.7h0M176.3 319.2h0M178.9 317.9h0M182.0 321.5h0M125.6 327.0h0M171.6 324.0h0M189.4 321.3h0M133.3 317.1h0M180.2 327.7h0M175.0 316.3h0M181.8 325.7h0" stroke="#73aed7" stroke-width="2.56" stroke-linecap="round" fill="none"/><path d="M116.2 319.6h0M114.2 322.3h0M151.3 325.8h0M151.5 325.3h0M145.6 326.5h0M148.4 324.0h0M103.0 311.6h0M150.0 323.3h0M151.5 326.7h0M120.3 321.6h0M148.4 324.8h0M99.1 313.2h0M128.3 326.5h0M148.1 328.5h0M144.3 327.4h0M145.4 327.9h0M118.6 326.8h0M157.3 322.8h0M146.3 327.7h0M148.5 327.2h0M95.5 322.5h0M119.2 324.7h0M158.8 324.4h0M140.5 321.6h0M134.5 321.4h0M97.1 331.5h0M125.2 320.7h0M154.1 328.4h0M145.3 328.0h0M133.8 322.4h0M146.7 323.2h0M128.3 325.8h0M124.5 322.2h0M120.6 322.9h0M124.9 323.0h0M104.6 311.9h0M117.7 326.8h0M94.2 320.6h0M156.0 328.3h0M141.1 325.5h0M116.6 329.1h0M120.8 321.3h0M127.8 328.5h0M154.2 323.3h0M136.4 322.5h0M138.3 321.0h0M154.2 327.3h0M137.7 319.7h0M103.3 313.1h0M116.5 329.7h0M98.8 329.0h0M128.9 325.8h0M145.7 324.8h0M141.2 322.7h0M152.6 325.3h0M121.5 322.1h0M117.2 325.8h0M143.6 324.9h0M127.7 317.7h0M102.1 310.6h0M150.7 322.9h0M114.3 329.1h0M150.4 327.1h0M147.3 327.7h0M122.5 324.0h0M157.8 323.7h0M112.7 319.5h0M114.2 321.6h0M130.0 327.4h0M113.7 318.5h0M144.4 325.8h0M120.7 321.2h0M124.1 323.0h0M121.3 323.2h0M115.3 319.9h0M120.7 325.0h0M151.0 326.6h0M159.0 324.1h0M125.0 321.1h0M146.7 325.8h0M97.9 331.4h0M145.3 324.8h0M154.5 328.0h0M93.2 321.1h0M100.0 311.3h0M133.2 320.6h0M147.0 323.2h0M149.1 325.5h0M151.1 324.6h0M94.7 322.5h0M152.5 323.0h0M148.3 325.2h0M116.6 329.7h0M155.6 325.4h0M134.9 320.1h0M101.0 311.3h0M124.6 324.4h0M125.7 322.8h0M150.1 327.5h0M94.5 321.9h0M97.8 329.1h0M97.7 329.2h0M135.6 320.4h0M116.7 320.5h0M99.7 311.8h0M150.9 327.0h0M125.0 322.5h0M93.9 319.8h0M115.1 320.3h0M146.6 323.4h0M150.6 323.2h0M127.3 326.1h0M116.6 329.4h0M126.1 324.7h0M101.3 311.7h0M128.4 327.8h0M143.6 323.5h0M125.6 324.1h0M131.7 328.0h0M97.5 330.2h0M130.1 327.1h0M130.5 327.9h0M157.4 325.4h0M158.8 324.7h0M132.8 320.2h0M104.9 312.2h0M98.1 329.9h0M127.9 317.7h0M98.5 330.4h0M135.2 321.4h0M135.7 321.2h0M124.2 321.2h0M145.1 323.9h0M115.9 330.8h0M134.1 319.9h0M151.6 328.3h0M112.2 319.0h0M126.9 318.4h0M118.6 323.2h0M136.1 320.2h0M156.1 325.1h0M141.0 320.0h0M125.2 319.8h0M119.1 323.7h0M148.6 325.4h0M139.3 320.8h0M96.8 329.5h0M152.7 327.1h0" stroke="#6aa7d4" stroke-width="2.56" stroke-linecap="round" fill="none"/><path d="M115.7 325.7h0M134.0 323.5h0M101.0 330.2h0M130.1 323.2h0M127.2 323.4h0M142.0 327.5h0M140.6 325.1h0M112.7 329.6h0M142.4 328.1h0M136.5 327.6h0M134.4 325.0h0M139.6 323.8h0M137.6 325.6h0M111.2 319.9h0M143.3 326.5h0M106.4 316.6h0M136.0 323.6h0M128.4 322.7h0M96.6 316.0h0M131.0 322.0h0M129.7 322.4h0M106.3 314.1h0M115.9 325.6h0M132.7 327.0h0M128.0 321.6h0M115.3 323.6h0M134.4 325.2h0M128.1 324.3h0M142.8 328.4h0M143.4 327.3h0M133.3 326.0h0M113.5 322.4h0M135.0 326.4h0M111.1 331.4h0M109.0 316.7h0M132.8 323.9h0M116.9 326.8h0M131.3 323.3h0M136.2 326.1h0M143.1 326.8h0M127.1 319.9h0M131.5 322.8h0M126.6 323.0h0M143.5 327.0h0M113.9 330.8h0M136.3 322.8h0M109.3 316.6h0M114.0 329.4h0M127.1 322.0h0M126.3 320.7h0M101.5 329.6h0M112.8 329.5h0M138.4 324.6h0M141.0 324.2h0M113.6 322.1h0M138.3 324.7h0M138.9 325.2h0M107.9 314.5h0M115.6 327.8h0M112.1 320.4h0M116.8 326.2h0M131.5 321.8h0M96.5 314.7h0M98.0 314.1h0M112.8 329.0h0M96.3 315.5h0M137.6 327.8h0M139.7 324.2h0M134.5 323.4h0M126.3 323.0h0M127.0 321.2h0M132.4 323.4h0M137.6 326.8h0M129.2 325.4h0M132.7 323.8h0M98.1 314.9h0M97.2 315.1h0M100.7 329.1h0M99.4 329.3h0M108.2 316.7h0M134.1 323.8h0M116.3 323.8h0M128.9 325.1h0M126.3 322.2h0M138.9 327.6h0M136.0 325.5h0M108.5 319.2h0M112.8 320.3h0M112.3 328.9h0M129.8 325.1h0M131.5 325.2h0M111.7 330.5h0M137.1 328.2h0M139.1 324.1h0M136.4 325.4h0M101.0 329.7h0M97.7 315.5h0M96.6 313.9h0M98.2 314.9h0M132.7 325.0h0M99.2 331.2h0M139.0 322.6h0M113.0 330.8h0M138.4 326.5h0M113.7 329.6h0M128.8 322.5h0M130.7 321.9h0M138.4 324.8h0" stroke="#62a1d1" stroke-width="2.56" stroke-linecap="round" fill="none"/><path d="M99.2 319.0h0M104.6 324.6h0M111.1 323.1h0M110.4 320.6h0M109.1 323.2h0M103.6 327.2h0M111.8 326.2h0M107.6 325.4h0M105.4 327.7h0M102.6 331.1h0M101.1 326.6h0M108.9 324.8h0M96.3 320.8h0M109.0 322.8h0M106.3 327.3h0M108.6 321.5h0M109.1 324.3h0M104.8 320.6h0M110.4 329.4h0M99.0 322.0h0M99.4 323.7h0M105.6 318.5h0M113.6 325.9h0M104.4 315.8h0M104.5 321.2h0M108.7 322.0h0M105.2 330.0h0M103.6 328.9h0M109.1 323.6h0M103.2 320.4h0M104.8 323.4h0M105.4 330.8h0M107.3 320.6h0M96.5 317.9h0M109.2 327.3h0M98.2 319.2h0M96.9 318.7h0M106.8 328.6h0M104.5 330.3h0M102.2 313.7h0M106.9 321.8h0M101.1 327.9h0M109.6 331.2h0M103.9 323.9h0M102.7 318.4h0M110.5 323.1h0M110.3 321.4h0M106.6 318.4h0M104.4 324.9h0M100.8 319.0h0M103.5 321.7h0M107.2 326.1h0M103.1 320.0h0M98.7 327.4h0M110.1 329.5h0M109.9 331.1h0M109.4 322.1h0M100.1 318.8h0M104.9 318.4h0M110.1 324.4h0M102.1 330.9h0M105.8 323.8h0M104.2 314.5h0M104.1 323.4h0M102.2 315.2h0M102.0 322.1h0M100.6 314.3h0M108.4 330.8h0M101.2 324.2h0M100.6 319.0h0M108.6 331.0h0M104.5 321.6h0M98.4 323.0h0M102.3 318.2h0M101.2 327.6h0M111.5 326.1h0M102.0 325.7h0M99.2 317.0h0M104.1 317.0h0M106.1 326.9h0M97.9 317.1h0M97.6 318.3h0M102.4 321.3h0M99.9 318.4h0M97.3 326.8h0M107.7 330.6h0M98.8 320.3h0M109.5 330.2h0M108.7 323.5h0M99.3 323.5h0M107.5 327.6h0M105.4 317.0h0M103.8 319.1h0M107.3 317.6h0M102.2 315.4h0M109.7 321.6h0M99.3 328.2h0M106.0 317.7h0M100.5 327.8h0M102.1 322.3h0M110.3 320.5h0M104.3 317.7h0M103.4 321.5h0M106.1 324.2h0M103.0 328.9h0M102.9 313.6h0M100.0 318.6h0M98.4 324.1h0M102.6 316.5h0M111.2 327.8h0M107.4 324.0h0M110.1 323.5h0M103.6 327.3h0M96.9 320.2h0M106.5 321.6h0M106.0 326.7h0M103.7 318.8h0M103.6 315.7h0M96.4 319.9h0M98.3 323.2h0M102.1 324.5h0M110.8 331.1h0M102.3 322.0h0M113.4 327.8h0M105.6 331.0h0M98.4 325.3h0M106.3 322.6h0M108.5 329.7h0M100.3 327.9h0M101.1 325.4h0M97.2 324.3h0M100.4 323.2h0M113.5 323.3h0M103.0 314.8h0M104.2 324.2h0M103.0 319.3h0M99.5 323.0h0M109.9 324.7h0M114.0 327.9h0M100.2 322.2h0M98.8 321.1h0M98.2 318.6h0M109.3 319.6h0M108.8 329.0h0M99.8 314.5h0M109.1 328.6h0M108.1 328.4h0M109.5 322.9h0M109.3 326.7h0" stroke="#589acd" stroke-width="2.56" stroke-linecap="round" fill="none"/>
<path d="M104.0 337.0h0M106.0 338.5h0M108.0 336.0h0M110.0 338.0h0M112.0 337.5h0M114.0 336.5h0M117.0 338.0h0M121.0 337.0h0M128.0 336.5h0M131.0 338.0h0" stroke="#1d4f91" stroke-width="2.40" stroke-linecap="round" fill="none"/>
<path d="M46.5 271.8h0M46.5 275.8h0M46.5 277.0h0M46.5 278.2h0M46.5 279.4h0M46.5 280.6h0M46.5 281.8h0M46.5 283.0h0M46.5 284.2h0M46.5 285.4h0M46.5 286.6h0M46.5 287.8h0M46.5 289.0h0M46.5 290.2h0M46.5 291.4h0M46.5 292.6h0M46.5 293.8h0M46.5 295.0h0M46.5 296.2h0M46.5 297.4h0M46.5 298.6h0M46.5 299.8h0M46.5 301.0h0M46.5 302.2h0M46.5 303.4h0M46.5 306.3h0M46.5 307.5h0M46.5 308.7h0M46.5 309.9h0M46.5 311.1h0M46.5 312.3h0M46.5 313.5h0M46.5 314.7h0M46.5 315.9h0M46.5 317.1h0M46.5 318.3h0M46.5 319.5h0M46.5 320.7h0M46.5 321.9h0M46.5 323.1h0M46.5 324.3h0M46.5 327.1h0M46.5 331.1h0" stroke="#8fc2e0" stroke-width="2.70" stroke-linecap="round" fill="none"/>
<path d="M46.6 342.5h0" stroke="#1d4f91" stroke-width="2.60" stroke-linecap="round" fill="none"/>
<path d="M63.0 342.5h0" stroke="#3a76b8" stroke-width="3.00" stroke-linecap="round" fill="none"/><path d="M63.5 342.5h0" stroke="#3975b7" stroke-width="3.00" stroke-linecap="round" fill="none"/><path d="M64.0 342.5h0" stroke="#3874b6" stroke-width="3.00" stroke-linecap="round" fill="none"/><path d="M64.5 342.5h0" stroke="#3873b5" stroke-width="3.00" stroke-linecap="round" fill="none"/><path d="M65.0 342.5h0" stroke="#3771b4" stroke-width="3.00" stroke-linecap="round" fill="none"/><path d="M65.5 342.5h0" stroke="#3670b3" stroke-width="3.00" stroke-linecap="round" fill="none"/><path d="M66.0 342.5h0" stroke="#356fb2" stroke-width="3.00" stroke-linecap="round" fill="none"/><path d="M66.5 342.5h0" stroke="#346eb1" stroke-width="3.00" stroke-linecap="round" fill="none"/><path d="M67.0 342.5h0" stroke="#346db0" stroke-width="3.00" stroke-linecap="round" fill="none"/><path d="M67.5 342.5h0" stroke="#336caf" stroke-width="3.00" stroke-linecap="round" fill="none"/><path d="M68.0 342.5h0" stroke="#326bae" stroke-width="3.00" stroke-linecap="round" fill="none"/><path d="M68.5 342.5h0" stroke="#3169ad" stroke-width="3.00" stroke-linecap="round" fill="none"/><path d="M69.0 342.5h0" stroke="#3068ac" stroke-width="3.00" stroke-linecap="round" fill="none"/><path d="M69.5 342.5h0" stroke="#3067ab" stroke-width="3.00" stroke-linecap="round" fill="none"/><path d="M70.0 342.5h0" stroke="#2f66aa" stroke-width="3.00" stroke-linecap="round" fill="none"/><path d="M70.5 342.5h0" stroke="#2e65a9" stroke-width="3.00" stroke-linecap="round" fill="none"/><path d="M71.0 342.5h0" stroke="#2d64a8" stroke-width="3.00" stroke-linecap="round" fill="none"/><path d="M71.5 342.5h0" stroke="#2c62a6" stroke-width="3.00" stroke-linecap="round" fill="none"/><path d="M72.0 342.5h0" stroke="#2c61a5" stroke-width="3.00" stroke-linecap="round" fill="none"/><path d="M72.5 342.5h0" stroke="#2b60a4" stroke-width="3.00" stroke-linecap="round" fill="none"/><path d="M73.0 342.5h0" stroke="#2a5fa3" stroke-width="3.00" stroke-linecap="round" fill="none"/><path d="M73.5 342.5h0" stroke="#295ea2" stroke-width="3.00" stroke-linecap="round" fill="none"/><path d="M74.0 342.5h0" stroke="#295da1" stroke-width="3.00" stroke-linecap="round" fill="none"/><path d="M74.5 342.5h0" stroke="#285ca0" stroke-width="3.00" stroke-linecap="round" fill="none"/><path d="M75.0 342.5h0" stroke="#275a9f" stroke-width="3.00" stroke-linecap="round" fill="none"/><path d="M75.5 342.5h0" stroke="#26599e" stroke-width="3.00" stroke-linecap="round" fill="none"/><path d="M76.0 342.5h0" stroke="#25589d" stroke-width="3.00" stroke-linecap="round" fill="none"/><path d="M76.5 342.5h0" stroke="#25579c" stroke-width="3.00" stroke-linecap="round" fill="none"/><path d="M77.0 342.5h0" stroke="#24569b" stroke-width="3.00" stroke-linecap="round" fill="none"/><path d="M77.5 342.5h0" stroke="#23559a" stroke-width="3.00" stroke-linecap="round" fill="none"/><path d="M78.0 342.5h0" stroke="#225499" stroke-width="3.00" stroke-linecap="round" fill="none"/><path d="M78.5 342.5h0" stroke="#215298" stroke-width="3.00" stroke-linecap="round" fill="none"/><path d="M79.0 342.5h0" stroke="#215197" stroke-width="3.00" stroke-linecap="round" fill="none"/><path d="M79.5 342.5h0" stroke="#205096" stroke-width="3.00" stroke-linecap="round" fill="none"/><path d="M80.0 342.5h0" stroke="#1f4f95" stroke-width="3.00" stroke-linecap="round" fill="none"/><path d="M80.5 342.5h0" stroke="#1e4e94" stroke-width="3.00" stroke-linecap="round" fill="none"/><path d="M81.0 342.5h0" stroke="#1e4d92" stroke-width="3.00" stroke-linecap="round" fill="none"/><path d="M81.5 342.5h0" stroke="#1e4c91" stroke-width="3.00" stroke-linecap="round" fill="none"/><path d="M82.0 342.5h0" stroke="#1d4b90" stroke-width="3.00" stroke-linecap="round" fill="none"/><path d="M82.5 342.5h0" stroke="#1c4a8e" stroke-width="3.00" stroke-linecap="round" fill="none"/><path d="M83.0 342.5h0" stroke="#1c498d" stroke-width="3.00" stroke-linecap="round" fill="none"/><path d="M83.5 342.5h0" stroke="#1c488b" stroke-width="3.00" stroke-linecap="round" fill="none"/><path d="M84.0 342.5h0" stroke="#1b478a" stroke-width="3.00" stroke-linecap="round" fill="none"/><path d="M84.5 342.5h0" stroke="#1a4689" stroke-width="3.00" stroke-linecap="round" fill="none"/><path d="M85.0 342.5h0" stroke="#1a4587" stroke-width="3.00" stroke-linecap="round" fill="none"/><path d="M85.5 342.5h0" stroke="#1a4486" stroke-width="3.00" stroke-linecap="round" fill="none"/><path d="M86.0 342.5h0" stroke="#194385" stroke-width="3.00" stroke-linecap="round" fill="none"/><path d="M86.5 342.5h0" stroke="#184283" stroke-width="3.00" stroke-linecap="round" fill="none"/><path d="M87.0 342.5h0" stroke="#184182" stroke-width="3.00" stroke-linecap="round" fill="none"/><path d="M87.5 342.5h0" stroke="#184080" stroke-width="3.00" stroke-linecap="round" fill="none"/><path d="M88.0 342.5h0" stroke="#173e7f" stroke-width="3.00" stroke-linecap="round" fill="none"/><path d="M88.5 342.5h0" stroke="#163d7e" stroke-width="3.00" stroke-linecap="round" fill="none"/><path d="M89.0 342.5h0" stroke="#163c7c" stroke-width="3.00" stroke-linecap="round" fill="none"/><path d="M89.5 342.5h0" stroke="#163b7b" stroke-width="3.00" stroke-linecap="round" fill="none"/><path d="M90.0 342.5h0" stroke="#153a7a" stroke-width="3.00" stroke-linecap="round" fill="none"/><path d="M90.5 342.5h0" stroke="#143978" stroke-width="3.00" stroke-linecap="round" fill="none"/><path d="M91.0 342.5h0" stroke="#143877" stroke-width="3.00" stroke-linecap="round" fill="none"/><path d="M91.5 342.5h0" stroke="#143776" stroke-width="3.00" stroke-linecap="round" fill="none"/><path d="M92.0 342.5h0" stroke="#133674" stroke-width="3.00" stroke-linecap="round" fill="none"/><path d="M92.5 342.5h0" stroke="#123573" stroke-width="3.00" stroke-linecap="round" fill="none"/><path d="M93.0 342.5h0M117.0 342.5h0" stroke="#123471" stroke-width="3.00" stroke-linecap="round" fill="none"/><path d="M93.5 342.5h0" stroke="#123370" stroke-width="3.00" stroke-linecap="round" fill="none"/><path d="M94.0 342.5h0" stroke="#11326f" stroke-width="3.00" stroke-linecap="round" fill="none"/><path d="M94.5 342.5h0" stroke="#10316d" stroke-width="3.00" stroke-linecap="round" fill="none"/><path d="M95.0 342.5h0M95.5 342.5h0M96.0 342.5h0M96.5 342.5h0M97.0 342.5h0M97.5 342.5h0M98.0 342.5h0" stroke="#10306c" stroke-width="3.00" stroke-linecap="round" fill="none"/><path d="M98.5 342.5h0M99.0 342.5h0M99.5 342.5h0M100.0 342.5h0M100.5 342.5h0M101.0 342.5h0M101.5 342.5h0M102.0 342.5h0M102.5 342.5h0M103.0 342.5h0M103.5 342.5h0M104.0 342.5h0M104.5 342.5h0M115.5 342.5h0" stroke="#102f6b" stroke-width="3.00" stroke-linecap="round" fill="none"/><path d="M105.0 342.5h0" stroke="#102e6a" stroke-width="3.00" stroke-linecap="round" fill="none"/><path d="M105.5 342.5h0M106.0 342.5h0M106.5 342.5h0M107.0 342.5h0M107.5 342.5h0M108.0 342.5h0M108.5 342.5h0M109.0 342.5h0M109.5 342.5h0M110.0 342.5h0M110.5 342.5h0M111.0 342.5h0M111.5 342.5h0" stroke="#0f2e6a" stroke-width="3.00" stroke-linecap="round" fill="none"/><path d="M112.0 342.5h0M112.5 342.5h0M113.0 342.5h0M113.5 342.5h0M114.0 342.5h0M114.5 342.5h0M115.0 342.5h0" stroke="#0f2d69" stroke-width="3.00" stroke-linecap="round" fill="none"/><path d="M116.0 342.5h0" stroke="#11316d" stroke-width="3.00" stroke-linecap="round" fill="none"/><path d="M116.5 342.5h0" stroke="#11336f" stroke-width="3.00" stroke-linecap="round" fill="none"/><path d="M117.5 342.5h0" stroke="#133673" stroke-width="3.00" stroke-linecap="round" fill="none"/><path d="M118.0 342.5h0" stroke="#143876" stroke-width="3.00" stroke-linecap="round" fill="none"/><path d="M118.5 342.5h0" stroke="#153a78" stroke-width="3.00" stroke-linecap="round" fill="none"/><path d="M119.0 342.5h0" stroke="#163c7a" stroke-width="3.00" stroke-linecap="round" fill="none"/><path d="M119.5 342.5h0" stroke="#163e7c" stroke-width="3.00" stroke-linecap="round" fill="none"/><path d="M120.0 342.5h0" stroke="#17407e" stroke-width="3.00" stroke-linecap="round" fill="none"/><path d="M120.5 342.5h0" stroke="#184180" stroke-width="3.00" stroke-linecap="round" fill="none"/><path d="M121.0 342.5h0" stroke="#194382" stroke-width="3.00" stroke-linecap="round" fill="none"/><path d="M121.5 342.5h0" stroke="#1a4584" stroke-width="3.00" stroke-linecap="round" fill="none"/><path d="M122.0 342.5h0" stroke="#1b4786" stroke-width="3.00" stroke-linecap="round" fill="none"/><path d="M122.5 342.5h0" stroke="#1b4988" stroke-width="3.00" stroke-linecap="round" fill="none"/><path d="M123.0 342.5h0" stroke="#1c4b8a" stroke-width="3.00" stroke-linecap="round" fill="none"/><path d="M123.5 342.5h0" stroke="#1d4c8c" stroke-width="3.00" stroke-linecap="round" fill="none"/><path d="M124.0 342.5h0" stroke="#1e4e8f" stroke-width="3.00" stroke-linecap="round" fill="none"/><path d="M124.5 342.5h0" stroke="#1f5091" stroke-width="3.00" stroke-linecap="round" fill="none"/><path d="M125.0 342.5h0" stroke="#1f5293" stroke-width="3.00" stroke-linecap="round" fill="none"/><path d="M125.5 342.5h0" stroke="#205495" stroke-width="3.00" stroke-linecap="round" fill="none"/><path d="M126.0 342.5h0" stroke="#215697" stroke-width="3.00" stroke-linecap="round" fill="none"/><path d="M126.5 342.5h0" stroke="#225899" stroke-width="3.00" stroke-linecap="round" fill="none"/><path d="M127.0 342.5h0" stroke="#23599b" stroke-width="3.00" stroke-linecap="round" fill="none"/><path d="M127.5 342.5h0" stroke="#245b9d" stroke-width="3.00" stroke-linecap="round" fill="none"/><path d="M128.0 342.5h0" stroke="#245d9f" stroke-width="3.00" stroke-linecap="round" fill="none"/><path d="M128.5 342.5h0" stroke="#255fa1" stroke-width="3.00" stroke-linecap="round" fill="none"/><path d="M129.0 342.5h0" stroke="#2661a3" stroke-width="3.00" stroke-linecap="round" fill="none"/><path d="M129.5 342.5h0" stroke="#2763a6" stroke-width="3.00" stroke-linecap="round" fill="none"/><path d="M130.0 342.5h0" stroke="#2865a8" stroke-width="3.00" stroke-linecap="round" fill="none"/><path d="M130.5 342.5h0" stroke="#2966aa" stroke-width="3.00" stroke-linecap="round" fill="none"/><path d="M131.0 342.5h0" stroke="#2968ac" stroke-width="3.00" stroke-linecap="round" fill="none"/><path d="M131.5 342.5h0" stroke="#2a6aae" stroke-width="3.00" stroke-linecap="round" fill="none"/><path d="M132.0 342.5h0" stroke="#2b6cb0" stroke-width="3.00" stroke-linecap="round" fill="none"/><path d="M132.5 342.5h0" stroke="#2c6db1" stroke-width="3.00" stroke-linecap="round" fill="none"/><path d="M133.0 342.5h0" stroke="#2d6eb2" stroke-width="3.00" stroke-linecap="round" fill="none"/><path d="M133.5 342.5h0" stroke="#2f70b2" stroke-width="3.00" stroke-linecap="round" fill="none"/><path d="M134.0 342.5h0" stroke="#3071b3" stroke-width="3.00" stroke-linecap="round" fill="none"/><path d="M134.5 342.5h0" stroke="#3172b4" stroke-width="3.00" stroke-linecap="round" fill="none"/><path d="M135.0 342.5h0" stroke="#3273b5" stroke-width="3.00" stroke-linecap="round" fill="none"/><path d="M135.5 342.5h0" stroke="#3475b5" stroke-width="3.00" stroke-linecap="round" fill="none"/><path d="M136.0 342.5h0" stroke="#3576b6" stroke-width="3.00" stroke-linecap="round" fill="none"/><path d="M136.5 342.5h0" stroke="#3677b7" stroke-width="3.00" stroke-linecap="round" fill="none"/><path d="M137.0 342.5h0" stroke="#3778b8" stroke-width="3.00" stroke-linecap="round" fill="none"/><path d="M137.5 342.5h0" stroke="#3879b9" stroke-width="3.00" stroke-linecap="round" fill="none"/><path d="M138.0 342.5h0" stroke="#3a7bb9" stroke-width="3.00" stroke-linecap="round" fill="none"/><path d="M138.5 342.5h0" stroke="#3b7cba" stroke-width="3.00" stroke-linecap="round" fill="none"/><path d="M139.0 342.5h0" stroke="#3c7dbb" stroke-width="3.00" stroke-linecap="round" fill="none"/><path d="M139.5 342.5h0" stroke="#3d7ebc" stroke-width="3.00" stroke-linecap="round" fill="none"/><path d="M140.0 342.5h0" stroke="#3f80bc" stroke-width="3.00" stroke-linecap="round" fill="none"/><path d="M140.5 342.5h0" stroke="#4081bd" stroke-width="3.00" stroke-linecap="round" fill="none"/><path d="M141.0 342.5h0" stroke="#4182be" stroke-width="3.00" stroke-linecap="round" fill="none"/><path d="M141.5 342.5h0" stroke="#4283bf" stroke-width="3.00" stroke-linecap="round" fill="none"/><path d="M142.0 342.5h0" stroke="#4484c0" stroke-width="3.00" stroke-linecap="round" fill="none"/><path d="M142.5 342.5h0" stroke="#4586c0" stroke-width="3.00" stroke-linecap="round" fill="none"/><path d="M143.0 342.5h0" stroke="#4687c1" stroke-width="3.00" stroke-linecap="round" fill="none"/><path d="M143.5 342.5h0" stroke="#4788c2" stroke-width="3.00" stroke-linecap="round" fill="none"/><path d="M144.0 342.5h0" stroke="#4889c3" stroke-width="3.00" stroke-linecap="round" fill="none"/><path d="M144.5 342.5h0" stroke="#4a8bc3" stroke-width="3.00" stroke-linecap="round" fill="none"/><path d="M145.0 342.5h0" stroke="#4b8cc4" stroke-width="3.00" stroke-linecap="round" fill="none"/><path d="M145.5 342.5h0" stroke="#4c8dc5" stroke-width="3.00" stroke-linecap="round" fill="none"/><path d="M146.0 342.5h0" stroke="#4d8ec6" stroke-width="3.00" stroke-linecap="round" fill="none"/><path d="M146.5 342.5h0" stroke="#4f90c6" stroke-width="3.00" stroke-linecap="round" fill="none"/><path d="M147.0 342.5h0" stroke="#5091c7" stroke-width="3.00" stroke-linecap="round" fill="none"/><path d="M147.5 342.5h0" stroke="#5192c8" stroke-width="3.00" stroke-linecap="round" fill="none"/><path d="M148.0 342.5h0" stroke="#5293c9" stroke-width="3.00" stroke-linecap="round" fill="none"/><path d="M148.5 342.5h0" stroke="#5394ca" stroke-width="3.00" stroke-linecap="round" fill="none"/><path d="M149.0 342.5h0" stroke="#5596ca" stroke-width="3.00" stroke-linecap="round" fill="none"/><path d="M149.5 342.5h0" stroke="#5697cb" stroke-width="3.00" stroke-linecap="round" fill="none"/><path d="M150.0 342.5h0" stroke="#5798cc" stroke-width="3.00" stroke-linecap="round" fill="none"/><path d="M150.5 342.5h0" stroke="#5899cd" stroke-width="3.00" stroke-linecap="round" fill="none"/><path d="M151.0 342.5h0" stroke="#5a9bcd" stroke-width="3.00" stroke-linecap="round" fill="none"/><path d="M151.5 342.5h0" stroke="#5b9cce" stroke-width="3.00" stroke-linecap="round" fill="none"/><path d="M152.0 342.5h0" stroke="#5c9dcf" stroke-width="3.00" stroke-linecap="round" fill="none"/><path d="M152.5 342.5h0" stroke="#5d9ecf" stroke-width="3.00" stroke-linecap="round" fill="none"/><path d="M153.0 342.5h0" stroke="#5e9ed0" stroke-width="3.00" stroke-linecap="round" fill="none"/><path d="M153.5 342.5h0" stroke="#5f9fd0" stroke-width="3.00" stroke-linecap="round" fill="none"/><path d="M154.0 342.5h0" stroke="#60a0d0" stroke-width="3.00" stroke-linecap="round" fill="none"/><path d="M154.5 342.5h0" stroke="#61a0d1" stroke-width="3.00" stroke-linecap="round" fill="none"/><path d="M155.0 342.5h0" stroke="#61a1d1" stroke-width="3.00" stroke-linecap="round" fill="none"/><path d="M155.5 342.5h0" stroke="#62a2d1" stroke-width="3.00" stroke-linecap="round" fill="none"/><path d="M156.0 342.5h0" stroke="#63a2d1" stroke-width="3.00" stroke-linecap="round" fill="none"/><path d="M156.5 342.5h0" stroke="#64a3d2" stroke-width="3.00" stroke-linecap="round" fill="none"/><path d="M157.0 342.5h0" stroke="#65a4d2" stroke-width="3.00" stroke-linecap="round" fill="none"/><path d="M157.5 342.5h0" stroke="#66a4d2" stroke-width="3.00" stroke-linecap="round" fill="none"/><path d="M158.0 342.5h0" stroke="#67a5d3" stroke-width="3.00" stroke-linecap="round" fill="none"/><path d="M158.5 342.5h0" stroke="#68a5d3" stroke-width="3.00" stroke-linecap="round" fill="none"/><path d="M159.0 342.5h0" stroke="#69a6d3" stroke-width="3.00" stroke-linecap="round" fill="none"/><path d="M159.5 342.5h0" stroke="#6aa7d4" stroke-width="3.00" stroke-linecap="round" fill="none"/><path d="M160.0 342.5h0" stroke="#6ba7d4" stroke-width="3.00" stroke-linecap="round" fill="none"/><path d="M160.5 342.5h0" stroke="#6ca8d4" stroke-width="3.00" stroke-linecap="round" fill="none"/><path d="M161.0 342.5h0" stroke="#6ca9d4" stroke-width="3.00" stroke-linecap="round" fill="none"/><path d="M161.5 342.5h0" stroke="#6da9d5" stroke-width="3.00" stroke-linecap="round" fill="none"/><path d="M162.0 342.5h0" stroke="#6eaad5" stroke-width="3.00" stroke-linecap="round" fill="none"/><path d="M162.5 342.5h0" stroke="#6fabd5" stroke-width="3.00" stroke-linecap="round" fill="none"/><path d="M163.0 342.5h0" stroke="#70abd6" stroke-width="3.00" stroke-linecap="round" fill="none"/><path d="M163.5 342.5h0" stroke="#71acd6" stroke-width="3.00" stroke-linecap="round" fill="none"/><path d="M164.0 342.5h0" stroke="#72add6" stroke-width="3.00" stroke-linecap="round" fill="none"/><path d="M164.5 342.5h0" stroke="#73add7" stroke-width="3.00" stroke-linecap="round" fill="none"/><path d="M165.0 342.5h0" stroke="#74aed7" stroke-width="3.00" stroke-linecap="round" fill="none"/><path d="M165.5 342.5h0" stroke="#75afd7" stroke-width="3.00" stroke-linecap="round" fill="none"/><path d="M166.0 342.5h0" stroke="#76afd8" stroke-width="3.00" stroke-linecap="round" fill="none"/><path d="M166.5 342.5h0" stroke="#76b0d8" stroke-width="3.00" stroke-linecap="round" fill="none"/><path d="M167.0 342.5h0" stroke="#77b1d8" stroke-width="3.00" stroke-linecap="round" fill="none"/><path d="M167.5 342.5h0" stroke="#78b1d8" stroke-width="3.00" stroke-linecap="round" fill="none"/><path d="M168.0 342.5h0" stroke="#79b2d9" stroke-width="3.00" stroke-linecap="round" fill="none"/><path d="M168.5 342.5h0" stroke="#7ab3d9" stroke-width="3.00" stroke-linecap="round" fill="none"/><path d="M169.0 342.5h0" stroke="#7bb3d9" stroke-width="3.00" stroke-linecap="round" fill="none"/><path d="M169.5 342.5h0" stroke="#7cb4da" stroke-width="3.00" stroke-linecap="round" fill="none"/><path d="M170.0 342.5h0" stroke="#7db4da" stroke-width="3.00" stroke-linecap="round" fill="none"/><path d="M170.5 342.5h0" stroke="#7eb5da" stroke-width="3.00" stroke-linecap="round" fill="none"/><path d="M171.0 342.5h0" stroke="#7fb6db" stroke-width="3.00" stroke-linecap="round" fill="none"/><path d="M171.5 342.5h0" stroke="#80b6db" stroke-width="3.00" stroke-linecap="round" fill="none"/><path d="M172.0 342.5h0" stroke="#81b7db" stroke-width="3.00" stroke-linecap="round" fill="none"/><path d="M172.5 342.5h0" stroke="#81b8db" stroke-width="3.00" stroke-linecap="round" fill="none"/><path d="M173.0 342.5h0" stroke="#82b8dc" stroke-width="3.00" stroke-linecap="round" fill="none"/><path d="M173.5 342.5h0" stroke="#83b9dc" stroke-width="3.00" stroke-linecap="round" fill="none"/><path d="M174.0 342.5h0" stroke="#84badc" stroke-width="3.00" stroke-linecap="round" fill="none"/><path d="M174.5 342.5h0" stroke="#85badd" stroke-width="3.00" stroke-linecap="round" fill="none"/><path d="M175.0 342.5h0" stroke="#86bbdd" stroke-width="3.00" stroke-linecap="round" fill="none"/><path d="M175.5 342.5h0" stroke="#87bbdd" stroke-width="3.00" stroke-linecap="round" fill="none"/><path d="M176.0 342.5h0" stroke="#87bcdd" stroke-width="3.00" stroke-linecap="round" fill="none"/><path d="M176.5 342.5h0" stroke="#88bcde" stroke-width="3.00" stroke-linecap="round" fill="none"/><path d="M177.0 342.5h0M177.5 342.5h0" stroke="#89bdde" stroke-width="3.00" stroke-linecap="round" fill="none"/><path d="M178.0 342.5h0" stroke="#8abdde" stroke-width="3.00" stroke-linecap="round" fill="none"/><path d="M178.5 342.5h0" stroke="#8bbede" stroke-width="3.00" stroke-linecap="round" fill="none"/><path d="M179.0 342.5h0" stroke="#8bbedf" stroke-width="3.00" stroke-linecap="round" fill="none"/><path d="M179.5 342.5h0" stroke="#8cbfdf" stroke-width="3.00" stroke-linecap="round" fill="none"/><path d="M180.0 342.5h0M180.5 342.5h0" stroke="#8dbfdf" stroke-width="3.00" stroke-linecap="round" fill="none"/><path d="M181.0 342.5h0" stroke="#8ec0df" stroke-width="3.00" stroke-linecap="round" fill="none"/><path d="M181.5 342.5h0" stroke="#8fc0df" stroke-width="3.00" stroke-linecap="round" fill="none"/><path d="M182.0 342.5h0" stroke="#8fc1e0" stroke-width="3.00" stroke-linecap="round" fill="none"/><path d="M182.5 342.5h0" stroke="#90c1e0" stroke-width="3.00" stroke-linecap="round" fill="none"/><path d="M183.0 342.5h0" stroke="#91c1e0" stroke-width="3.00" stroke-linecap="round" fill="none"/><path d="M183.5 342.5h0" stroke="#91c2e0" stroke-width="3.00" stroke-linecap="round" fill="none"/><path d="M184.0 342.5h0" stroke="#92c2e0" stroke-width="3.00" stroke-linecap="round" fill="none"/><path d="M184.5 342.5h0M185.0 342.5h0" stroke="#93c3e1" stroke-width="3.00" stroke-linecap="round" fill="none"/><path d="M185.5 342.5h0" stroke="#94c4e1" stroke-width="3.00" stroke-linecap="round" fill="none"/><path d="M186.0 342.5h0M186.5 342.5h0" stroke="#95c4e1" stroke-width="3.00" stroke-linecap="round" fill="none"/><path d="M187.0 342.5h0" stroke="#96c5e2" stroke-width="3.00" stroke-linecap="round" fill="none"/><path d="M187.5 342.5h0" stroke="#97c5e2" stroke-width="3.00" stroke-linecap="round" fill="none"/><path d="M188.0 342.5h0" stroke="#97c6e2" stroke-width="3.00" stroke-linecap="round" fill="none"/><path d="M188.5 342.5h0" stroke="#98c6e2" stroke-width="3.00" stroke-linecap="round" fill="none"/><path d="M189.0 342.5h0" stroke="#99c6e2" stroke-width="3.00" stroke-linecap="round" fill="none"/><path d="M189.5 342.5h0" stroke="#99c7e3" stroke-width="3.00" stroke-linecap="round" fill="none"/><path d="M190.0 342.5h0" stroke="#9ac7e3" stroke-width="3.00" stroke-linecap="round" fill="none"/><path d="M190.5 342.5h0M191.0 342.5h0" stroke="#9bc8e3" stroke-width="3.00" stroke-linecap="round" fill="none"/><path d="M191.5 342.5h0" stroke="#9cc8e3" stroke-width="3.00" stroke-linecap="round" fill="none"/><path d="M192.0 342.5h0" stroke="#9dc9e3" stroke-width="3.00" stroke-linecap="round" fill="none"/><path d="M192.5 342.5h0" stroke="#9dc9e4" stroke-width="3.00" stroke-linecap="round" fill="none"/><path d="M193.0 342.5h0" stroke="#9ecae4" stroke-width="3.00" stroke-linecap="round" fill="none"/><path d="M193.5 342.5h0M194.0 342.5h0" stroke="#9fcae4" stroke-width="3.00" stroke-linecap="round" fill="none"/><path d="M194.5 342.5h0" stroke="#a0cbe4" stroke-width="3.00" stroke-linecap="round" fill="none"/><path d="M195.0 342.5h0" stroke="#a1cbe5" stroke-width="3.00" stroke-linecap="round" fill="none"/><path d="M195.5 342.5h0" stroke="#a1cce5" stroke-width="3.00" stroke-linecap="round" fill="none"/>
<line x1="38.4" y1="350.4" x2="222.70000000000002" y2="165.7" stroke="#4d4d4d" stroke-width="1" stroke-dasharray="3.1,2.3"/>
<path d="M269.3,165.7 L269.3,350.4 L453.6,350.4" fill="none" stroke="#8a8a8a" stroke-width="0.9"/>
<line x1="264.0" y1="342.50" x2="269.3" y2="342.50" stroke="#8a8a8a" stroke-width="0.9"/>
<text x="262.90" y="345.40" font-size="8" text-anchor="end" font-weight="normal" font-style="normal" fill="#6e6e6e" >0</text>
<line x1="277.80" y1="350.4" x2="277.80" y2="355.6" stroke="#8a8a8a" stroke-width="0.9"/>
<text x="277.80" y="364.00" font-size="8" text-anchor="middle" font-weight="normal" font-style="normal" fill="#6e6e6e" >0</text>
<line x1="264.0" y1="258.50" x2="269.3" y2="258.50" stroke="#8a8a8a" stroke-width="0.9"/>
<text x="262.90" y="261.40" font-size="8" text-anchor="end" font-weight="normal" font-style="normal" fill="#6e6e6e" >10</text>
<line x1="361.80" y1="350.4" x2="361.80" y2="355.6" stroke="#8a8a8a" stroke-width="0.9"/>
<text x="361.80" y="364.00" font-size="8" text-anchor="middle" font-weight="normal" font-style="normal" fill="#6e6e6e" >10</text>
<line x1="264.0" y1="174.50" x2="269.3" y2="174.50" stroke="#8a8a8a" stroke-width="0.9"/>
<text x="262.90" y="177.40" font-size="8" text-anchor="end" font-weight="normal" font-style="normal" fill="#6e6e6e" >100</text>
<line x1="445.80" y1="350.4" x2="445.80" y2="355.6" stroke="#8a8a8a" stroke-width="0.9"/>
<text x="445.80" y="364.00" font-size="8" text-anchor="middle" font-weight="normal" font-style="normal" fill="#6e6e6e" >100</text>
<text x="361.10" y="158.70" font-size="8.5" text-anchor="middle" font-weight="bold" font-style="normal" fill="#1a1a1a" letter-spacing="0.55">RNA004</text>
<text x="360.80" y="168.80" font-size="8.7" text-anchor="middle" font-weight="normal" font-style="normal" fill="#333" >Dorado m6A_DRACH</text>
<text x="0" y="0" font-size="8.6" text-anchor="middle" fill="#333" transform="translate(248.60000000000002,256.8) rotate(-90)"><tspan font-style="italic">Mettl3</tspan> KO (%)</text>
<text x="360.80" y="375.20" font-size="9.2" text-anchor="middle" font-weight="normal" font-style="normal" fill="#333" >WT (%)</text>
<path d="M336.9 240.6h0M352.5 282.6h0M417.5 268.8h0M388.0 316.5h0M305.3 334.4h0M301.0 290.4h0M385.4 330.8h0M322.9 336.2h0M338.8 337.7h0M286.7 303.1h0M407.5 296.8h0M392.7 323.7h0M321.9 294.8h0M444.5 296.3h0M285.9 303.4h0M420.4 321.4h0M334.3 273.2h0M346.8 331.9h0M356.1 332.4h0M379.5 303.6h0M363.8 295.8h0M397.2 306.6h0M354.4 280.6h0M413.6 323.6h0M367.8 333.6h0M305.0 328.5h0M413.6 305.7h0M441.1 334.9h0M309.4 330.0h0M418.3 320.5h0M315.9 277.0h0M369.8 300.4h0M378.5 310.2h0M442.5 277.2h0M416.4 336.5h0M391.2 317.9h0M315.0 333.1h0M314.7 277.1h0M380.8 289.4h0M396.6 315.1h0M357.7 275.7h0M413.5 330.3h0M405.4 322.8h0M388.8 323.2h0M426.1 337.9h0M425.4 290.8h0M441.5 326.5h0M445.9 275.7h0M346.4 332.6h0M369.8 309.3h0M445.4 327.1h0M353.4 291.7h0M419.8 333.9h0M286.1 319.1h0M334.5 262.7h0M445.1 274.0h0M439.9 256.4h0M397.2 329.2h0M407.7 305.7h0M284.0 321.1h0M292.0 337.5h0M371.3 333.5h0M391.0 307.0h0M405.7 307.9h0M392.5 324.7h0M327.8 278.4h0M323.4 283.8h0M284.4 318.9h0M378.7 336.5h0M440.8 257.1h0M283.8 330.7h0M408.9 299.1h0M443.1 329.0h0M387.8 321.6h0M409.2 294.8h0M324.3 272.6h0M409.8 332.7h0M341.1 280.1h0M402.5 293.6h0M301.7 276.0h0M382.6 305.6h0M397.6 295.9h0M318.9 332.6h0M371.4 330.2h0M376.5 336.6h0M376.3 281.7h0M320.0 284.6h0M330.5 281.6h0M366.7 334.1h0M407.0 325.5h0M397.2 307.9h0M366.7 332.6h0M293.4 332.3h0M282.7 312.3h0M364.0 301.0h0M409.4 318.6h0M385.2 330.5h0M399.5 329.7h0M411.0 287.8h0M404.1 287.7h0M384.4 299.8h0M320.0 331.8h0M444.8 268.5h0M331.7 264.7h0M369.7 324.3h0M444.6 313.0h0M446.2 281.4h0M394.5 314.7h0M379.7 311.0h0M422.0 323.0h0M380.1 292.9h0M326.9 283.9h0M382.7 315.2h0M393.2 318.0h0M444.5 255.3h0M358.7 284.9h0M282.9 306.7h0M284.8 289.7h0M389.6 315.2h0M349.0 335.7h0M395.7 298.2h0M330.2 265.7h0M418.7 305.7h0M377.0 279.1h0M443.8 279.7h0M377.7 337.9h0M444.0 261.9h0M415.8 319.6h0M398.5 324.6h0M435.9 267.5h0M374.7 308.4h0M422.9 285.8h0M391.0 289.6h0M318.5 282.4h0M393.6 321.5h0M285.6 305.5h0M407.9 301.2h0M444.6 306.9h0M402.2 298.4h0M371.1 314.7h0M414.6 331.5h0M284.2 324.8h0M366.3 326.1h0M374.9 295.4h0M434.5 270.0h0M361.7 329.5h0M388.8 308.3h0M361.5 328.6h0M334.8 236.3h0M411.2 291.8h0M347.3 290.2h0M439.4 262.3h0M298.6 289.9h0M443.1 264.8h0M315.5 292.7h0M404.1 309.6h0M296.4 288.9h0M365.3 299.9h0M342.8 287.8h0M373.2 332.6h0M390.9 320.4h0M354.1 328.1h0M360.9 327.5h0M444.1 323.1h0M445.4 315.7h0M392.0 318.8h0M374.4 306.3h0M417.2 324.5h0M347.8 286.3h0M334.9 334.7h0M381.2 278.6h0M441.0 256.5h0M301.4 292.2h0M289.7 294.5h0M394.9 303.6h0M442.7 272.4h0M386.0 308.5h0M384.0 331.4h0M415.1 324.1h0M358.0 329.1h0M403.4 306.0h0M295.1 335.0h0M356.5 328.0h0M392.3 302.4h0M439.3 267.1h0M368.3 298.5h0M378.8 274.5h0M342.8 338.6h0M365.5 302.7h0M395.8 324.3h0M348.5 330.3h0M343.8 283.2h0M370.2 308.2h0M404.5 319.1h0M403.5 307.3h0M320.5 272.7h0M443.2 315.1h0M365.8 300.4h0M331.6 263.0h0M382.8 286.2h0M311.4 331.0h0M366.1 294.0h0M412.4 291.8h0M323.2 265.5h0M440.2 329.3h0M402.1 316.8h0M310.3 336.0h0M370.7 313.7h0M389.8 323.9h0M417.3 300.1h0M433.3 330.1h0M420.8 330.8h0M313.7 290.4h0M312.0 287.1h0M433.9 272.8h0M284.1 324.5h0M285.1 327.4h0M381.0 302.8h0M380.2 314.9h0M299.6 329.1h0M445.0 314.8h0M303.6 292.0h0M431.3 330.3h0M347.8 333.9h0M445.0 325.7h0M366.3 326.3h0M324.5 275.2h0M417.8 294.8h0M325.1 332.5h0M325.5 331.4h0M399.2 305.3h0M331.8 337.7h0M350.7 258.3h0M336.3 281.2h0M440.9 333.4h0M323.4 284.5h0M429.8 332.6h0M299.8 295.4h0M305.1 273.1h0M436.5 336.1h0M380.4 317.6h0M382.5 301.2h0M390.0 329.1h0M445.8 256.5h0M395.7 314.6h0M314.1 333.6h0M321.9 277.0h0M314.6 262.1h0M414.3 296.2h0M445.9 275.5h0M416.8 332.9h0M376.9 329.5h0M312.9 253.5h0M367.0 295.9h0M361.3 257.9h0M309.8 271.0h0M349.8 333.8h0M406.1 292.2h0M433.9 278.7h0M421.0 297.1h0M377.6 304.4h0M438.0 270.2h0M289.6 328.6h0M422.0 299.4h0M408.7 325.7h0M388.1 332.0h0M411.0 335.2h0M443.5 319.0h0M371.7 300.5h0M398.7 331.1h0M403.3 333.9h0M286.2 325.9h0M444.6 295.6h0M416.5 291.7h0M347.3 289.9h0M353.2 283.5h0M439.9 275.2h0M340.8 270.5h0M340.2 254.0h0M420.4 329.0h0M338.4 255.4h0M439.7 330.3h0M440.9 259.7h0M428.9 275.6h0M389.6 327.1h0M323.7 281.4h0M363.1 303.7h0M432.4 335.4h0M403.9 311.9h0M363.4 305.1h0M444.1 253.3h0M326.4 332.9h0M413.3 308.1h0M311.8 293.9h0M290.9 332.2h0M443.9 334.5h0M352.0 291.7h0M351.4 333.5h0M434.2 266.3h0M331.6 267.3h0M341.3 275.0h0M334.7 272.9h0M300.9 286.7h0M430.8 284.1h0M418.1 277.5h0M374.2 300.1h0M447.0 276.0h0M415.3 330.7h0M444.7 281.2h0M434.3 267.3h0M384.1 286.1h0M395.7 328.9h0M418.0 299.6h0M444.7 297.4h0M306.6 332.8h0M411.8 318.1h0M378.3 308.7h0M354.1 330.1h0M439.8 272.8h0M409.2 335.5h0M313.9 294.1h0M359.3 298.0h0M288.4 300.2h0M390.6 309.6h0M410.6 290.7h0M424.4 295.9h0M346.1 279.8h0M299.9 287.6h0M439.6 332.7h0M435.3 271.3h0M345.5 330.7h0M389.7 305.1h0M428.9 283.0h0M356.2 282.1h0M442.3 279.5h0M391.3 318.2h0M445.9 319.2h0M443.0 279.4h0M322.8 274.3h0M325.8 285.3h0M418.6 320.8h0M396.9 316.5h0M301.8 330.0h0M324.1 279.5h0M389.8 331.2h0M289.0 303.4h0M432.8 281.3h0M300.9 278.8h0M288.7 308.3h0M399.5 329.1h0M290.8 331.2h0M380.6 315.0h0M364.8 325.4h0M338.7 330.9h0M403.3 322.9h0M445.7 337.0h0M338.5 275.5h0M298.5 295.4h0M438.1 276.9h0M407.6 306.2h0M315.2 284.7h0M376.8 289.0h0M352.9 286.3h0M306.2 288.9h0M315.8 295.4h0M427.8 283.7h0M420.4 328.1h0M436.1 332.7h0M442.8 324.4h0M354.7 333.9h0M320.2 334.1h0M399.8 302.1h0M364.9 283.7h0M392.7 330.9h0M304.2 292.3h0M338.3 282.7h0M316.8 296.5h0M400.9 332.2h0M374.2 316.0h0M284.4 319.9h0M291.4 331.9h0M444.0 317.1h0M439.1 260.8h0M325.2 272.1h0M404.9 323.9h0M380.3 301.5h0M285.8 331.0h0M427.9 284.7h0M389.9 335.2h0M356.6 330.2h0M326.1 280.5h0M313.0 263.8h0M339.4 333.2h0M442.6 253.2h0M363.2 300.4h0M353.6 294.9h0M315.6 276.6h0M411.0 308.9h0M409.2 334.6h0M293.3 336.1h0M287.5 334.2h0M354.0 327.7h0M414.8 328.9h0M319.4 334.4h0M427.7 290.2h0M364.5 299.1h0M401.9 309.1h0M365.1 296.0h0M327.4 279.8h0M386.2 329.6h0M339.8 270.2h0M367.3 327.3h0M287.2 327.7h0M362.7 279.9h0M401.6 329.7h0M412.5 284.4h0M301.0 328.4h0M334.6 334.7h0M353.5 299.9h0M429.4 220.8h0M386.2 298.2h0M330.6 276.3h0M304.0 290.9h0M373.4 298.9h0M321.4 276.6h0M297.1 330.4h0M314.0 274.4h0M403.0 334.0h0M410.5 306.9h0M336.0 224.3h0M388.9 314.2h0M408.1 329.5h0M296.3 288.5h0M324.3 333.9h0M442.3 270.3h0M389.0 317.4h0M283.3 303.7h0M382.7 308.0h0M389.7 287.3h0M427.3 337.8h0M395.2 301.1h0M418.5 320.3h0M417.0 326.9h0M387.7 312.5h0M376.4 309.9h0M339.1 280.1h0M443.8 315.8h0M400.1 325.3h0M394.1 313.0h0M362.2 283.9h0M378.3 299.0h0M445.0 321.9h0M375.8 310.0h0M338.2 283.1h0M389.3 339.1h0M409.9 323.5h0M439.9 260.9h0M333.7 336.4h0M443.6 291.3h0M384.7 314.0h0M393.4 307.8h0M405.4 307.4h0M380.9 306.3h0M404.6 323.9h0M330.3 281.4h0M343.8 278.3h0M332.3 330.2h0M366.6 311.9h0M429.0 273.4h0M287.0 326.2h0M323.8 277.8h0M445.1 324.0h0M379.3 327.2h0M419.5 299.4h0M442.9 330.0h0M371.7 331.8h0M444.0 289.5h0M416.5 301.8h0M397.2 323.1h0M403.3 303.5h0M333.2 279.4h0M385.5 319.7h0M302.0 288.1h0M389.9 334.7h0M404.1 307.2h0M377.7 311.3h0M410.5 307.6h0M358.4 295.2h0M372.7 299.1h0M383.4 303.8h0M439.1 261.2h0M443.3 299.9h0M371.6 292.0h0M445.4 302.6h0M342.5 282.6h0M283.7 327.5h0M375.5 299.6h0M313.8 292.8h0M289.2 292.6h0M318.3 282.8h0M338.0 279.9h0M356.6 329.2h0M289.0 305.3h0M317.7 278.6h0M434.7 271.0h0M288.9 285.1h0M384.2 310.2h0M328.0 330.4h0M432.5 264.7h0M303.3 291.8h0M386.8 329.5h0M354.3 332.5h0M333.3 260.3h0M363.8 299.3h0M401.6 295.4h0M391.7 338.6h0M290.9 334.1h0M442.4 324.7h0M405.4 306.8h0M442.1 332.4h0M314.2 293.7h0M304.2 282.9h0M442.7 272.4h0M362.8 293.6h0M396.6 300.4h0M411.0 307.8h0M388.9 329.2h0M419.2 330.0h0M303.8 238.9h0M317.1 293.5h0M412.9 324.0h0M422.0 327.2h0M334.2 334.4h0M388.4 315.8h0M434.0 267.2h0M398.7 313.2h0M403.6 315.8h0M362.9 324.9h0M330.7 333.1h0M310.6 331.0h0M413.9 275.2h0M374.3 299.6h0M356.9 272.7h0M321.8 282.3h0M420.4 327.5h0M374.0 326.3h0M353.1 288.9h0M423.6 296.5h0M347.2 285.6h0M392.5 312.7h0M443.8 285.7h0M325.2 269.0h0M421.8 298.3h0M292.8 298.6h0M367.9 303.9h0M361.2 324.8h0M328.5 336.1h0M285.3 309.0h0M425.3 292.1h0M286.0 320.7h0M331.6 273.2h0M310.3 336.1h0M441.8 240.2h0M347.9 281.5h0M285.8 317.1h0M302.5 335.0h0M384.1 331.7h0M355.6 294.6h0M406.0 333.6h0M308.5 339.0h0M312.3 294.1h0M321.0 276.5h0M384.4 330.9h0M426.3 337.0h0M409.5 326.1h0M328.7 274.5h0M374.6 329.8h0M304.1 293.9h0M393.9 319.5h0M336.1 266.3h0M426.1 336.3h0M416.4 325.0h0M386.2 316.3h0M396.2 326.1h0M422.0 271.6h0M414.2 329.7h0M289.6 309.4h0M446.7 313.0h0M316.3 293.5h0M340.5 279.5h0M406.6 247.3h0M444.7 327.2h0M329.8 335.8h0M317.2 282.2h0M381.8 293.3h0M400.0 322.4h0M438.7 268.6h0M401.1 334.6h0M367.8 307.8h0M370.4 312.7h0M419.5 295.1h0M384.9 310.3h0M416.6 335.8h0M396.3 303.1h0M398.1 304.1h0M338.0 333.5h0M442.3 269.7h0M297.2 283.2h0M435.4 276.9h0M412.7 327.4h0M296.7 280.1h0M392.8 323.4h0M316.9 260.4h0M296.0 332.9h0M352.1 273.4h0M386.5 311.1h0M341.2 279.4h0M404.0 324.6h0M442.8 278.8h0M447.0 224.9h0M295.0 298.9h0M432.2 332.8h0M431.4 279.0h0M443.2 277.7h0M315.6 278.2h0M440.4 324.4h0M317.0 337.1h0M402.7 323.3h0M378.0 306.6h0M307.6 282.7h0M431.7 278.1h0M321.2 277.2h0M344.4 264.7h0M423.1 295.4h0M323.0 246.2h0M372.2 301.5h0M416.9 289.8h0M284.9 300.2h0M423.8 267.1h0M371.9 312.7h0M375.8 307.6h0M414.6 323.6h0M446.5 290.1h0M385.4 304.9h0M391.4 303.7h0M303.0 331.2h0M445.3 293.6h0M405.1 328.2h0M287.1 310.4h0M404.8 321.2h0M311.9 332.4h0M378.2 329.9h0M319.7 278.6h0M319.1 281.3h0M388.6 332.3h0M365.8 309.3h0M315.5 286.5h0M401.5 308.4h0M343.6 280.8h0M349.0 333.5h0M338.1 280.4h0M445.6 290.6h0M411.2 306.7h0M370.2 294.0h0M384.1 299.7h0M439.6 268.3h0M428.3 331.3h0M407.2 331.4h0M337.8 269.2h0M341.2 331.9h0M357.1 330.6h0M289.9 334.9h0M442.8 326.1h0M441.7 280.5h0M322.0 271.5h0M368.7 286.6h0M401.1 323.2h0M446.3 332.7h0M388.6 331.7h0M437.0 263.1h0M442.7 256.0h0M379.2 307.9h0M295.9 297.2h0M401.9 287.8h0M431.3 256.5h0M375.1 300.6h0M424.5 296.1h0M366.8 305.3h0M392.1 327.1h0M288.9 303.8h0M424.7 288.2h0M325.1 336.6h0M441.7 333.5h0M395.0 310.8h0M400.5 310.3h0M441.9 257.8h0M352.1 333.7h0M444.0 294.1h0M396.1 325.7h0M419.9 300.3h0M315.9 293.4h0M441.3 338.5h0M327.7 269.9h0M411.8 298.6h0M412.6 283.9h0M358.5 298.5h0M380.5 307.8h0M335.5 331.8h0M399.5 309.7h0M418.2 333.1h0M425.0 329.9h0M311.0 335.8h0M406.1 310.4h0M373.0 297.9h0M379.0 330.1h0M284.8 304.0h0M285.5 292.5h0M340.7 276.1h0M373.5 301.3h0M364.5 332.2h0M355.9 297.4h0M326.6 280.5h0M284.3 320.0h0M395.1 317.9h0M442.7 260.3h0M407.9 331.9h0M301.0 292.0h0M353.0 276.5h0M321.2 280.0h0M288.1 314.4h0M288.1 306.7h0M405.7 321.7h0M389.7 328.9h0M407.4 324.9h0M314.0 287.4h0M368.5 297.3h0M368.0 329.5h0M419.7 279.3h0M340.6 272.9h0M334.5 333.3h0M327.4 333.4h0M287.1 325.3h0M372.6 315.0h0M288.2 291.8h0M403.3 296.2h0M380.8 314.7h0M431.4 270.9h0M331.6 240.6h0M288.0 332.6h0M324.0 284.9h0M408.6 331.7h0M407.1 321.8h0M396.1 301.4h0M334.2 279.8h0M435.9 267.6h0M442.8 270.5h0M443.2 295.0h0M304.9 280.0h0M365.4 308.7h0M407.7 287.2h0M390.1 290.5h0M415.2 293.8h0M301.4 330.9h0M343.2 271.7h0M312.8 330.5h0M306.3 337.7h0M368.4 300.8h0M417.7 320.0h0M446.3 314.1h0M368.4 299.3h0M326.7 268.4h0M419.0 328.4h0M382.6 293.4h0M404.9 330.1h0M398.7 325.8h0M402.4 300.2h0M321.0 287.3h0M388.9 323.8h0M363.1 271.1h0M288.3 310.3h0M297.7 334.8h0M395.6 285.9h0M319.5 286.0h0M320.0 275.3h0M419.9 337.9h0M291.0 294.4h0M320.1 270.6h0M299.8 334.6h0M332.2 281.9h0M414.6 305.8h0M327.0 264.3h0M443.6 333.2h0M408.9 320.8h0M397.3 330.0h0M345.1 284.9h0M445.9 299.7h0M328.2 247.2h0M398.4 295.6h0M382.0 332.4h0M443.3 266.3h0M334.7 332.1h0M335.9 336.4h0M317.0 278.6h0M392.9 327.9h0M287.4 297.3h0M314.2 284.0h0M377.5 330.9h0M414.9 308.0h0M320.0 333.9h0M434.9 233.7h0M417.7 294.5h0M368.6 292.6h0M444.4 308.6h0M285.7 309.5h0M416.5 323.1h0M382.4 335.1h0M365.9 310.3h0M293.3 331.4h0M344.4 283.3h0M396.6 300.3h0M286.7 307.2h0M338.0 279.6h0M285.2 290.3h0M384.0 307.3h0M377.8 317.7h0M442.5 273.5h0M429.7 331.3h0M411.6 326.7h0M403.7 320.1h0M440.8 276.8h0M367.2 311.6h0M427.2 289.9h0M443.4 257.1h0M417.0 321.1h0M371.1 306.1h0M443.9 285.4h0M388.1 331.7h0M443.5 309.7h0M358.3 300.2h0M371.2 307.8h0M284.3 333.2h0M325.3 334.2h0M308.9 285.2h0M391.3 312.7h0M313.5 279.2h0M286.7 295.3h0M442.0 273.3h0M438.8 332.8h0M441.7 276.0h0M357.0 302.8h0M356.3 283.2h0M426.4 288.5h0M366.5 304.8h0M386.9 307.8h0M337.6 268.4h0M404.3 297.4h0M388.7 332.9h0M398.7 308.5h0M319.4 334.1h0M325.3 271.5h0M321.9 281.5h0M342.4 277.9h0M379.8 317.7h0M299.5 329.0h0M436.6 271.2h0M395.4 320.0h0M403.4 322.4h0M447.1 260.2h0M413.7 305.5h0M376.2 303.0h0M319.9 281.8h0M363.2 290.8h0M362.0 325.0h0M443.8 297.9h0M422.6 327.5h0M398.1 326.8h0M413.4 293.9h0M438.4 330.7h0M444.1 277.5h0M359.2 292.3h0M339.4 331.3h0M346.3 277.6h0M440.9 279.8h0M286.0 327.5h0M363.9 325.4h0M444.7 268.8h0M416.6 321.1h0M400.2 306.4h0M345.4 278.2h0M287.7 304.2h0M305.7 278.8h0M287.1 272.4h0M334.8 274.2h0M399.5 329.5h0M364.4 329.2h0M376.7 296.8h0M316.7 296.4h0M397.2 330.5h0M329.2 272.5h0M297.8 296.7h0M412.3 330.6h0M355.3 286.8h0M322.1 286.3h0M441.9 273.5h0M285.3 301.8h0M351.0 277.5h0M442.5 324.8h0M376.8 304.4h0M296.1 290.8h0M441.4 267.9h0M414.7 333.7h0M364.3 296.3h0M340.4 332.4h0M388.2 273.7h0M419.5 297.0h0M314.7 334.0h0M304.7 291.9h0M417.1 294.7h0M412.5 294.8h0M401.0 288.3h0M432.7 278.6h0M381.3 294.5h0M402.9 289.9h0M364.2 298.4h0M419.7 334.2h0M313.4 293.2h0M404.3 302.6h0M433.2 265.7h0M440.6 270.1h0M410.8 320.1h0M373.0 289.3h0M420.3 302.6h0M379.8 305.9h0M446.5 264.1h0M310.7 289.6h0M285.1 299.7h0M301.7 278.9h0M402.1 288.5h0M313.7 290.7h0M322.6 288.3h0M376.0 291.1h0M445.2 257.5h0M438.4 270.9h0M340.4 330.3h0M317.6 278.8h0M327.5 331.0h0M440.6 260.3h0M395.7 331.4h0M315.8 290.8h0M397.7 330.3h0M377.9 311.9h0M339.6 269.5h0M395.2 327.8h0M360.2 329.6h0M350.8 333.3h0M410.1 292.1h0M372.6 328.4h0M316.7 290.4h0M403.4 329.1h0M305.7 334.2h0M349.0 333.6h0M314.6 281.4h0M406.1 300.8h0M297.9 338.8h0M418.3 320.9h0M295.2 297.9h0M352.9 291.2h0M443.6 257.0h0M378.0 310.7h0M357.4 333.9h0M427.7 285.3h0M400.9 298.2h0M365.1 310.9h0M328.9 330.5h0M286.4 312.2h0M316.3 288.1h0M406.5 332.6h0M349.5 287.4h0M397.7 297.4h0M312.5 335.6h0M413.7 306.1h0M414.6 280.6h0M392.3 320.2h0M390.1 308.7h0M436.7 263.9h0M317.5 283.2h0M444.6 265.7h0M445.7 322.1h0M333.8 331.7h0M389.7 308.1h0M443.8 256.4h0M287.3 329.1h0M423.4 331.2h0M304.8 330.5h0M401.3 309.8h0M321.7 291.7h0M440.1 326.4h0M345.8 280.6h0M445.4 300.5h0M290.8 294.9h0M339.9 284.8h0M434.6 265.7h0M363.0 294.2h0M424.2 282.2h0M427.4 330.2h0M309.1 332.7h0M446.1 307.3h0M380.2 306.7h0M319.1 330.7h0M335.5 264.8h0M363.8 262.3h0M312.9 285.2h0M413.9 331.2h0M441.6 336.8h0M444.8 315.5h0M318.7 296.9h0M430.6 281.3h0M384.2 302.0h0M332.4 277.3h0M300.1 275.0h0M400.7 318.5h0M408.4 301.6h0M437.9 334.6h0M387.5 338.9h0M359.6 297.8h0M287.6 311.3h0M396.1 334.9h0M396.5 297.4h0M379.9 304.3h0M309.1 285.0h0M330.7 264.9h0M441.9 248.0h0M378.3 305.2h0M445.7 326.3h0M399.5 288.8h0M286.1 324.0h0M362.1 329.7h0M285.7 325.4h0M303.2 279.7h0M441.3 261.9h0M386.2 320.5h0M357.2 330.7h0M432.6 333.3h0M411.1 293.7h0M369.3 298.4h0M434.1 270.3h0M354.6 331.9h0M340.9 335.3h0M337.5 279.6h0M360.3 292.3h0M285.6 321.0h0M443.7 302.6h0M353.6 327.1h0M442.6 266.5h0M400.5 303.1h0M389.5 300.2h0M395.2 331.9h0M323.6 286.1h0M405.4 308.3h0M445.4 307.6h0M399.6 315.8h0M389.3 291.6h0M315.4 333.9h0M308.3 289.7h0M328.7 267.6h0M424.1 295.1h0M297.4 287.3h0M355.9 292.8h0M361.3 301.7h0M317.8 274.8h0M284.3 327.0h0M383.4 332.1h0M392.2 310.9h0M401.3 335.1h0M309.6 332.1h0M368.5 333.7h0M368.6 327.5h0M432.9 335.9h0M283.3 333.1h0M401.0 306.9h0M437.8 332.2h0M292.9 299.7h0M338.4 331.7h0M311.4 334.4h0M385.8 334.2h0M363.6 303.9h0M394.5 304.3h0M392.6 311.1h0M332.7 276.6h0M373.1 331.4h0M433.1 332.8h0M305.1 330.0h0M441.2 279.4h0M427.5 284.7h0M415.6 303.3h0M418.0 291.6h0M404.5 310.0h0M443.4 266.0h0M417.7 318.3h0M428.9 334.9h0M425.2 333.0h0M445.2 314.7h0M289.1 292.1h0M340.3 272.7h0M430.3 335.0h0M285.4 307.4h0M442.3 266.6h0M392.9 281.1h0M423.3 285.6h0M343.8 286.0h0M367.9 306.0h0M324.2 285.2h0M434.7 269.3h0M422.6 296.9h0M444.3 271.2h0M443.7 287.1h0M315.4 284.4h0M372.4 291.1h0M363.2 300.0h0M358.2 287.1h0M406.2 319.9h0M428.7 274.2h0M380.2 303.4h0M317.1 284.5h0M446.2 300.6h0M377.0 315.6h0M314.9 334.1h0M286.0 299.8h0M390.2 302.5h0M313.9 291.3h0M321.1 295.6h0M404.6 305.5h0M288.0 329.3h0M334.4 333.8h0M374.5 313.8h0M384.6 334.2h0M394.9 291.8h0M423.8 288.9h0M295.1 293.9h0M285.2 309.9h0M377.9 332.7h0M445.9 309.5h0M438.6 335.5h0M391.5 324.2h0M445.6 301.9h0M439.4 264.2h0M383.7 330.0h0M406.3 311.3h0M415.4 328.4h0M435.5 274.5h0M350.3 285.6h0M287.7 296.1h0M357.1 328.2h0M442.7 269.3h0M321.8 265.7h0M307.5 290.1h0M402.6 291.6h0M315.7 292.1h0M388.4 312.1h0M311.7 289.4h0M327.0 273.6h0M366.2 285.2h0M403.0 310.6h0M436.3 277.0h0M284.6 326.3h0M406.6 306.9h0M297.7 294.3h0M412.1 304.3h0M286.4 317.1h0M392.4 331.3h0M377.1 304.2h0M287.2 300.1h0M301.2 331.0h0M294.9 331.8h0M406.5 274.9h0M446.8 290.5h0M422.5 329.3h0M371.6 335.6h0M316.2 336.4h0M405.1 321.7h0M337.6 258.9h0M393.5 328.8h0M416.2 323.5h0M317.6 335.8h0M347.2 285.8h0M414.3 283.4h0M324.5 281.0h0M386.8 329.4h0M407.2 326.4h0M350.2 333.6h0M308.7 293.1h0M286.0 306.4h0M363.0 324.7h0M431.2 332.2h0M295.7 298.2h0M404.0 324.4h0M437.0 267.9h0M357.7 274.2h0M353.2 331.1h0M436.8 266.3h0M308.9 290.0h0M365.9 289.5h0M286.6 321.3h0M303.2 331.6h0M284.2 325.0h0M296.6 294.8h0M424.5 294.1h0M412.6 302.8h0M444.2 280.6h0M401.3 319.0h0M403.6 332.3h0M436.4 279.0h0M329.4 265.3h0M319.4 291.7h0M341.8 273.1h0M289.0 332.8h0M334.0 334.5h0M441.9 266.3h0M284.9 302.9h0M368.1 295.2h0M392.5 309.0h0M392.7 307.9h0M426.2 284.4h0M310.3 282.3h0M313.3 331.5h0M396.5 309.7h0M367.3 308.3h0M335.0 277.8h0M392.2 331.9h0M290.9 293.3h0M337.9 278.0h0M400.4 308.1h0M413.6 307.4h0M401.4 325.1h0M384.3 335.3h0M409.3 319.3h0M400.0 332.7h0M404.1 291.9h0M380.7 290.4h0M349.5 284.0h0M360.6 293.5h0M430.7 274.1h0M286.0 304.9h0M396.3 330.9h0M364.4 327.1h0M420.3 332.5h0M441.5 270.5h0M374.1 332.9h0M298.8 330.6h0M284.8 330.8h0M331.4 336.7h0M384.5 306.3h0M443.7 329.8h0M288.7 336.5h0M372.1 295.0h0M312.7 286.5h0M379.3 309.5h0M349.3 330.3h0M302.6 330.7h0M443.0 244.3h0M376.1 331.8h0M303.3 330.2h0M321.6 294.1h0M286.8 299.5h0M366.8 288.4h0M302.0 287.6h0M392.1 306.0h0M284.3 303.2h0M375.9 300.5h0M322.5 263.6h0M416.5 334.4h0M312.7 284.5h0M440.9 337.7h0M355.6 334.3h0M299.1 332.6h0M422.1 331.3h0M386.8 327.3h0M342.1 282.2h0M312.5 330.3h0M393.2 317.2h0M397.8 313.5h0M409.4 336.5h0M423.0 338.2h0M426.0 270.3h0M346.6 333.4h0M312.5 333.6h0M404.6 271.4h0M390.9 302.7h0M394.4 319.5h0M313.8 331.4h0M393.3 291.6h0M378.7 307.2h0M371.8 311.7h0M313.9 279.0h0M387.0 302.2h0M383.8 331.3h0M382.5 316.9h0M348.8 285.4h0M283.7 302.1h0M428.1 271.2h0M439.2 270.7h0M373.1 291.6h0M377.9 334.9h0M370.9 314.6h0M440.1 277.5h0M402.8 322.8h0M380.1 293.4h0M315.6 334.0h0M374.3 316.4h0M445.0 332.8h0M393.3 319.6h0M338.3 331.6h0M336.1 270.9h0M423.8 292.4h0M419.5 254.1h0M443.9 316.8h0M286.8 284.7h0M302.0 293.9h0M385.8 312.0h0M406.9 309.3h0M441.0 269.1h0M368.5 331.1h0M325.2 287.5h0M393.7 329.0h0M288.4 302.3h0M371.2 299.5h0M295.4 332.1h0M388.2 331.6h0M383.1 309.1h0M407.4 282.1h0M394.6 289.8h0M285.8 292.9h0M331.7 276.6h0M302.0 289.5h0M444.9 298.4h0M422.9 327.2h0M436.6 331.4h0M382.8 294.7h0M444.7 284.2h0M318.4 337.5h0M365.7 291.2h0M433.0 245.1h0M352.8 334.9h0M396.3 318.2h0M287.9 297.3h0M343.0 281.0h0M441.1 330.2h0M418.2 298.3h0M325.1 278.8h0M444.1 314.7h0M286.2 325.6h0M326.1 283.8h0M382.3 287.2h0M411.3 293.6h0M396.0 322.2h0M419.8 297.8h0M384.5 320.7h0M397.3 326.6h0M421.2 300.6h0M331.5 336.6h0M380.2 312.8h0M398.2 319.2h0M399.8 291.9h0M286.4 304.8h0M291.9 330.7h0M394.8 318.3h0M384.8 296.2h0M403.8 312.6h0M390.8 322.5h0M359.7 286.2h0M382.9 297.1h0M443.9 233.0h0M422.1 297.6h0M445.1 282.7h0M326.2 283.8h0M342.4 281.1h0M361.5 294.0h0M443.7 251.6h0M446.8 315.1h0M322.8 282.9h0M435.4 266.3h0M387.6 305.8h0M420.6 246.1h0M442.6 330.8h0M364.8 301.4h0M292.7 288.5h0M302.7 332.1h0M435.0 278.1h0M354.1 292.4h0M386.9 300.4h0M427.6 331.4h0M443.5 305.2h0M443.6 294.1h0M387.2 300.6h0M288.5 333.0h0M433.9 279.8h0M397.0 284.8h0M437.6 277.8h0M440.5 234.8h0M360.1 272.9h0M285.4 300.0h0M358.0 331.0h0M371.8 312.6h0M310.3 278.6h0M398.7 317.8h0M403.3 286.4h0M357.8 291.9h0M446.7 278.7h0M398.5 319.9h0M391.1 329.9h0M298.1 296.6h0M411.3 318.3h0M413.5 308.8h0M338.5 284.5h0M362.3 330.6h0M374.1 298.9h0M382.4 302.2h0M398.8 318.3h0M381.8 305.9h0M443.7 273.7h0M445.7 283.4h0M347.2 283.0h0M331.1 252.5h0M318.2 292.4h0M368.6 334.1h0M372.1 314.4h0M369.4 332.3h0M420.9 295.1h0M317.5 331.4h0M341.1 331.9h0M406.8 300.7h0M323.4 282.7h0M317.5 335.7h0M282.1 330.4h0M299.1 286.5h0M342.8 271.9h0M292.4 331.8h0M429.8 277.4h0M421.6 292.1h0M445.2 296.1h0M382.8 313.1h0M362.4 290.7h0M406.3 307.1h0M289.4 307.3h0M342.8 330.6h0M368.3 284.4h0M299.4 290.9h0M427.4 281.8h0M445.5 295.0h0M433.4 275.9h0M309.5 283.3h0M335.5 282.0h0M400.4 317.3h0M282.3 318.9h0M445.0 305.6h0M373.3 300.3h0M446.6 294.4h0M426.5 332.8h0M323.6 334.3h0M360.0 298.6h0M417.9 332.4h0M390.8 315.1h0M418.5 319.5h0M301.5 333.9h0M328.3 332.0h0M310.1 265.3h0M432.7 332.0h0M390.1 306.3h0M366.6 293.0h0M350.6 332.8h0M288.1 327.6h0M382.4 299.4h0M282.3 309.4h0M321.4 330.7h0M376.4 293.6h0M304.7 287.8h0M444.1 255.2h0M380.8 215.0h0M434.1 276.4h0M392.3 305.3h0M350.5 283.4h0M400.3 311.6h0M339.4 335.0h0M308.2 286.5h0M445.8 330.6h0M349.3 332.6h0M442.1 264.1h0M325.0 286.4h0M351.8 330.6h0M368.5 329.9h0M445.8 247.3h0M307.6 283.6h0M386.8 308.5h0M316.3 295.9h0M410.3 334.1h0M327.8 280.1h0M353.5 272.2h0M318.8 288.2h0M368.7 296.6h0M368.2 324.2h0M318.7 335.0h0M401.4 298.6h0M379.4 300.8h0M375.0 301.4h0M299.9 274.4h0M404.4 282.4h0M435.4 263.9h0M386.6 307.2h0M440.4 263.0h0M362.4 299.3h0M425.7 333.6h0M304.0 329.0h0M346.1 287.3h0M435.3 274.5h0M391.5 315.4h0M377.9 313.6h0M285.4 318.2h0M313.1 283.0h0M446.0 308.4h0M393.4 315.5h0M289.9 300.6h0M320.3 287.6h0M350.3 332.0h0M305.4 289.4h0M417.0 333.2h0M300.2 281.8h0M406.1 287.6h0M294.9 332.4h0M342.1 282.0h0M331.7 330.1h0M363.7 288.0h0M285.0 320.3h0M367.9 295.6h0M377.9 335.3h0M409.8 285.4h0M298.8 290.6h0M311.1 330.9h0M377.5 294.1h0M300.7 274.2h0M405.9 330.0h0M375.1 294.3h0M387.1 306.4h0M315.3 292.2h0M315.2 280.1h0M317.4 296.8h0M375.4 332.3h0M351.7 282.3h0M413.1 330.5h0M405.0 306.3h0M370.4 314.0h0M345.6 335.7h0M349.5 331.6h0M363.4 332.4h0M411.7 296.2h0M378.0 292.1h0M357.1 301.7h0M292.4 333.5h0M446.1 294.2h0M357.1 290.9h0M334.3 270.1h0M332.5 259.2h0M330.4 267.5h0M413.6 296.2h0M306.1 331.6h0M328.0 278.4h0M371.6 325.6h0M350.4 330.7h0M307.9 290.3h0M412.4 318.1h0M436.3 332.3h0M333.9 333.7h0M313.9 333.9h0M444.2 253.1h0M401.3 332.8h0M392.5 281.8h0M382.0 336.5h0M327.2 274.8h0M352.3 338.1h0M420.7 300.2h0M295.1 292.7h0M286.5 330.3h0M309.9 289.4h0M413.6 332.8h0M335.6 331.7h0M420.4 324.3h0M396.5 302.8h0M302.3 331.7h0M401.9 316.6h0M366.5 305.7h0M436.2 274.1h0M399.9 329.7h0M388.9 333.9h0M409.3 302.5h0M284.7 309.7h0M371.1 286.3h0M308.1 334.3h0M314.6 280.9h0M389.7 333.2h0M292.6 331.8h0M352.3 291.7h0M405.4 310.8h0M297.3 334.1h0M291.4 292.6h0M366.2 289.9h0M319.6 333.6h0M308.6 282.3h0M440.1 330.5h0M359.9 289.7h0M327.7 276.9h0M323.7 243.6h0M444.7 265.6h0M445.2 259.2h0M413.8 303.7h0M283.4 323.9h0M286.2 322.2h0M413.1 336.2h0M343.5 273.7h0M326.2 278.7h0M445.3 318.1h0M397.6 322.5h0M432.2 269.9h0M352.0 284.7h0M318.5 292.1h0M283.2 328.3h0M392.8 328.4h0M414.7 321.2h0M379.0 335.0h0M375.0 308.3h0M412.3 302.7h0M347.8 261.3h0M444.6 298.1h0M412.2 301.1h0M283.0 338.2h0M357.8 271.9h0M339.0 280.9h0M338.8 262.3h0M398.3 325.6h0M326.7 228.0h0M435.7 268.1h0M400.2 302.9h0M444.4 255.5h0M331.4 333.1h0M286.9 320.4h0M412.2 307.0h0M445.4 275.5h0M444.0 319.3h0M426.7 256.6h0M292.5 330.5h0M319.5 284.7h0M443.8 257.3h0M427.3 279.4h0M325.3 285.4h0M436.7 266.6h0M376.5 331.3h0M423.5 332.3h0M393.3 308.0h0M404.6 320.3h0M395.2 300.9h0M402.2 297.2h0M309.1 273.1h0M438.4 254.5h0M307.5 264.9h0M421.7 331.1h0M408.1 293.1h0M362.4 301.1h0M286.6 310.3h0M388.0 305.1h0M292.0 300.0h0M295.6 331.5h0M302.0 291.1h0M389.4 336.6h0M443.6 278.4h0M437.3 272.7h0M443.6 303.5h0M401.5 322.7h0M445.3 291.7h0M389.0 327.7h0M435.5 272.6h0M383.0 304.6h0M412.5 319.8h0M411.9 304.3h0M385.1 301.5h0M443.7 300.7h0M416.5 303.4h0M403.8 324.0h0M389.8 323.6h0M433.5 264.4h0M376.8 336.7h0M335.1 271.5h0M298.3 286.9h0M408.8 320.9h0M393.8 310.3h0M342.2 331.1h0M381.5 298.1h0M418.9 302.8h0M363.7 334.4h0M282.9 318.0h0M370.5 332.0h0M349.7 333.5h0M361.9 325.1h0M445.1 279.9h0M319.1 270.4h0M376.5 313.8h0M373.7 278.8h0M378.3 312.2h0M362.0 336.0h0M405.9 294.4h0M384.9 297.6h0M362.6 305.2h0M375.6 330.1h0M400.5 311.5h0M305.2 286.5h0M319.4 280.7h0M361.4 300.2h0M361.5 284.4h0M378.1 333.5h0M321.9 288.6h0M443.9 314.3h0M382.0 288.9h0M342.0 269.7h0M385.6 301.4h0M425.9 337.5h0M445.5 266.9h0M352.1 274.6h0M390.9 301.3h0M316.4 272.9h0M384.5 333.0h0M326.0 286.1h0M383.7 302.3h0M338.4 332.6h0M384.6 290.4h0M400.0 292.6h0M444.6 325.3h0M287.1 310.8h0M401.7 332.1h0M305.2 274.2h0M362.5 332.0h0M414.4 301.6h0M426.9 271.0h0M358.2 290.4h0M378.9 334.5h0M406.8 329.6h0M318.0 267.6h0M357.5 302.0h0M340.0 283.3h0M382.3 331.0h0M371.0 302.4h0M361.0 285.8h0M433.0 258.0h0M410.1 328.0h0M444.6 269.8h0M285.3 306.4h0M375.7 312.6h0M300.1 291.9h0M285.3 322.7h0M426.5 332.9h0M410.6 331.4h0M383.9 319.1h0M331.0 330.7h0M404.5 296.9h0M400.1 334.2h0M415.4 318.7h0M445.7 319.5h0M430.6 279.0h0M411.3 336.8h0M434.6 272.0h0M388.1 298.6h0M306.3 292.5h0M295.4 294.8h0M402.1 326.5h0M291.5 287.6h0M393.4 276.2h0M300.2 281.4h0M284.4 321.3h0M283.1 306.9h0M416.8 282.9h0M386.0 334.2h0M379.4 307.8h0M342.5 274.1h0M421.9 292.1h0M431.7 330.5h0M434.5 331.8h0M363.1 325.1h0M367.8 324.1h0M413.9 327.4h0M312.9 284.0h0M380.8 313.7h0M412.4 297.7h0M308.9 335.1h0M391.0 316.1h0M311.5 266.3h0M380.1 331.1h0M395.1 333.8h0M397.2 286.1h0M294.1 289.7h0M441.3 273.8h0M440.7 263.6h0M418.0 329.3h0M332.8 335.1h0M307.9 290.9h0M287.7 313.4h0M315.2 291.5h0M313.7 291.0h0M414.2 330.4h0M313.3 294.3h0M381.9 333.9h0M441.0 256.9h0M424.6 300.0h0M321.2 275.6h0M408.5 307.3h0M339.1 331.5h0M386.8 291.7h0M354.5 281.4h0M362.4 329.4h0M399.7 309.3h0M352.1 285.3h0M373.8 296.1h0M417.9 320.1h0M298.5 288.3h0M392.2 271.7h0M302.8 330.0h0M327.3 337.1h0M293.1 285.1h0M445.7 316.7h0M301.4 284.2h0M409.8 294.5h0M326.4 280.6h0M356.9 296.5h0M399.5 308.9h0M288.7 299.2h0M308.6 283.7h0M365.6 326.9h0M377.0 305.1h0M446.3 303.6h0M389.8 328.0h0M332.8 276.0h0M433.0 331.0h0M394.7 318.1h0M286.1 299.5h0M294.4 332.0h0M426.5 293.4h0M418.2 332.9h0M369.3 327.1h0M368.6 312.5h0M332.8 332.1h0M398.3 326.4h0M368.0 328.5h0M420.4 301.4h0M352.1 335.9h0M368.8 303.6h0M311.8 271.3h0M344.0 283.9h0M423.2 329.6h0M400.4 298.3h0M393.2 335.6h0M289.2 308.1h0M363.8 294.6h0M418.0 288.7h0M366.0 289.5h0M288.9 301.1h0M431.5 332.8h0M436.9 267.8h0M405.9 295.6h0M446.2 261.9h0M413.8 280.1h0M299.3 328.3h0M357.4 335.2h0M442.9 260.9h0M311.3 282.1h0M289.5 301.0h0M353.8 327.5h0M304.6 333.6h0M338.2 279.7h0M393.1 326.4h0M298.5 286.2h0M403.9 310.7h0M446.9 309.8h0M387.8 303.7h0M326.2 273.8h0M307.7 285.7h0M444.0 277.6h0M446.7 274.2h0M386.3 317.6h0M439.5 251.7h0M403.6 316.9h0M419.1 325.8h0M422.3 292.8h0M360.0 291.7h0M351.4 279.3h0M372.1 300.6h0M398.0 317.0h0M293.4 286.9h0M417.4 333.9h0M395.1 320.5h0M428.1 282.1h0M316.5 290.7h0M441.4 332.7h0M440.7 325.1h0M386.8 329.2h0M339.2 280.8h0M331.0 269.3h0M383.1 308.6h0M443.1 299.0h0M413.6 331.6h0M372.5 332.1h0M282.4 308.3h0M402.7 295.2h0M369.8 279.0h0M312.7 287.4h0M352.1 333.5h0M375.4 330.0h0M440.9 267.8h0M415.4 298.5h0M366.9 311.2h0M446.4 279.4h0M331.9 278.7h0M402.9 335.8h0M445.6 329.1h0M435.5 279.0h0M337.5 255.0h0M376.9 316.3h0M444.1 312.9h0M381.8 295.6h0M326.1 268.3h0M312.5 293.4h0M378.7 328.5h0M368.1 283.1h0M443.0 334.5h0M445.7 293.2h0M293.0 297.4h0M355.1 296.2h0M395.0 324.1h0M416.1 331.5h0M359.3 326.4h0M442.6 278.7h0M284.9 318.5h0M437.4 332.3h0M309.7 335.6h0M421.7 292.0h0M354.4 333.9h0M446.1 251.7h0M335.0 332.3h0M370.4 332.7h0M444.4 291.4h0M309.1 287.1h0M444.8 272.4h0M338.2 283.0h0M441.1 279.6h0M423.0 290.1h0M358.2 295.3h0M437.7 330.2h0M362.4 326.1h0M446.0 277.8h0M289.4 304.2h0M285.2 297.8h0M328.7 280.8h0M285.0 309.1h0M287.8 336.0h0M430.7 331.6h0M403.1 308.6h0M409.4 297.2h0M421.6 289.1h0M390.1 315.4h0M309.2 332.8h0M381.1 312.2h0M406.1 309.0h0M436.3 261.3h0M318.1 332.1h0M431.7 334.2h0M416.0 292.6h0M304.4 330.0h0M435.1 271.3h0M434.3 336.1h0M401.2 338.1h0M329.2 338.8h0M420.9 327.3h0M318.0 331.0h0M365.8 285.0h0M443.4 288.2h0M366.0 297.3h0M419.5 287.1h0M421.7 323.4h0M392.5 313.7h0M285.5 298.1h0M401.9 317.8h0M334.5 274.4h0M349.3 278.6h0M285.9 332.3h0M376.1 306.0h0M391.7 323.1h0M307.4 274.9h0M377.9 314.0h0M406.6 299.8h0M344.7 283.8h0M370.5 333.4h0M439.9 264.3h0M387.0 312.7h0M434.4 273.9h0M387.6 293.4h0M317.7 295.8h0M335.0 333.9h0M446.4 270.8h0M366.0 285.0h0M431.1 333.2h0M390.2 289.8h0M418.0 325.4h0M301.1 291.6h0M309.3 290.7h0M311.2 332.9h0M414.8 325.0h0M299.9 281.2h0M341.9 266.2h0M417.1 321.7h0M418.7 303.4h0M410.9 319.6h0M303.8 274.0h0M341.7 268.6h0M320.2 296.8h0M324.9 279.0h0M406.7 328.6h0M371.7 327.9h0M298.5 292.8h0M407.2 308.5h0M436.8 333.5h0M332.9 275.7h0M335.8 336.8h0M378.9 329.5h0M446.7 281.9h0M286.4 278.3h0M445.5 262.8h0M379.3 331.9h0M295.2 331.2h0M365.8 301.1h0M360.1 324.4h0M335.6 277.6h0M332.9 277.7h0M371.0 329.7h0M410.8 329.3h0M327.5 338.1h0M370.0 287.1h0M343.5 266.3h0M289.5 314.0h0M426.7 331.0h0M374.6 296.3h0M352.4 281.9h0M321.7 285.8h0M351.0 280.0h0M317.9 334.0h0M361.5 301.2h0M301.3 330.4h0M432.8 331.8h0M283.9 308.7h0M400.1 319.1h0M445.8 331.6h0M444.4 283.0h0M440.7 263.1h0M322.9 332.0h0M354.6 284.4h0M394.7 306.0h0M299.3 231.7h0M445.2 258.6h0M406.8 292.2h0M385.6 313.7h0M339.0 260.2h0M292.8 299.8h0M395.6 310.8h0M294.9 332.0h0M405.4 299.4h0M383.4 313.2h0M285.0 315.5h0M317.4 285.6h0M413.5 319.5h0M393.9 306.5h0M445.2 290.3h0M376.3 304.2h0M317.2 280.3h0M375.0 316.0h0M306.5 289.6h0M361.7 297.8h0M370.6 326.8h0M409.8 324.2h0M296.2 291.1h0M394.7 328.1h0M333.4 261.5h0M444.8 281.8h0M329.3 261.1h0M289.8 297.1h0M290.4 331.1h0M300.5 282.3h0M411.5 300.8h0M439.4 250.0h0M286.6 317.0h0M336.1 276.1h0M316.0 333.3h0M445.4 333.2h0M416.3 328.8h0M360.2 289.3h0M426.0 283.6h0M407.9 288.5h0M425.0 291.2h0M411.7 298.6h0M393.8 333.5h0M349.5 335.2h0M345.8 334.7h0M369.4 314.5h0M287.2 309.9h0M315.6 292.3h0M429.6 270.9h0M304.2 287.7h0M303.7 335.9h0M351.7 292.3h0M396.1 319.7h0M434.2 331.0h0M401.4 303.9h0M413.9 320.1h0M286.3 329.6h0M388.3 305.3h0M355.4 293.4h0M441.8 258.7h0M407.4 294.8h0M392.7 316.5h0M420.7 303.0h0M303.8 288.3h0M371.7 334.4h0M305.1 335.0h0M398.6 317.6h0M379.7 331.0h0M301.8 331.8h0M383.6 319.4h0M398.0 308.6h0M406.7 294.9h0M347.8 282.1h0M442.3 327.1h0M339.5 273.2h0M388.6 299.8h0M420.2 301.0h0M313.3 291.6h0M334.2 278.2h0M388.9 335.4h0M326.5 266.7h0M350.2 332.9h0M289.5 330.9h0M388.5 329.6h0M402.6 313.1h0M285.7 327.5h0M364.7 267.3h0M445.5 178.6h0M403.2 214.8h0M375.1 240.3h0M374.4 253.8h0M398.1 221.5h0M355.5 268.1h0M408.4 206.4h0M352.7 259.9h0M407.9 214.1h0M393.2 228.6h0M411.7 212.3h0M424.6 188.2h0M397.9 223.7h0M356.7 256.3h0M443.5 178.0h0M388.0 240.7h0M380.8 236.7h0M394.1 229.7h0M380.8 244.4h0M361.3 255.6h0M371.6 245.3h0M364.1 258.1h0M402.9 226.4h0M405.3 217.3h0M392.9 225.3h0M374.2 243.2h0M425.4 193.3h0M407.2 210.5h0M353.5 259.8h0M402.7 207.4h0M380.0 243.5h0M414.6 209.0h0M425.0 192.9h0M383.6 264.5h0M400.5 231.4h0M405.4 238.2h0M372.4 268.5h0M339.9 273.9h0M409.4 206.6h0M391.9 250.0h0M373.7 253.2h0M399.4 244.4h0M398.0 225.3h0M364.1 255.5h0M369.0 244.5h0M400.4 242.1h0M348.2 285.8h0M397.2 234.1h0M369.9 278.7h0M357.2 288.3h0M343.9 286.6h0M380.0 245.0h0M384.9 241.4h0" stroke="#a3cde5" stroke-width="2.40" stroke-linecap="round" fill="none"/><path d="M333.9 283.2h0M309.8 299.0h0M357.7 323.6h0M368.9 323.7h0M364.5 308.7h0M326.4 287.5h0M429.0 290.8h0M418.7 314.2h0M305.4 322.8h0M381.6 320.4h0M371.6 315.3h0M442.0 318.9h0M357.5 307.6h0M440.1 285.1h0M407.7 309.5h0M442.4 302.4h0M296.4 299.9h0M305.5 298.7h0M383.7 329.1h0M418.2 307.4h0M323.6 299.6h0M427.7 322.1h0M429.6 290.7h0M345.1 288.9h0M307.8 321.2h0M363.1 308.0h0M424.6 320.7h0M295.3 327.2h0M428.5 285.1h0M343.2 330.0h0M360.0 305.8h0M372.5 322.1h0M301.7 321.7h0M359.8 303.4h0M381.4 327.3h0M380.8 327.8h0M422.3 323.4h0M335.0 283.0h0M426.6 319.7h0M307.8 329.6h0M421.5 311.2h0M288.0 320.8h0M354.2 303.2h0M411.4 314.1h0M441.6 301.6h0M365.1 320.0h0M294.4 300.3h0M292.2 329.8h0M353.7 324.1h0M362.9 312.7h0M420.9 309.7h0M344.2 328.3h0M385.2 324.9h0M357.0 321.3h0M359.9 304.3h0M429.1 285.5h0M442.5 290.1h0M370.8 316.0h0M435.9 279.6h0M359.4 314.3h0M383.7 327.8h0M327.2 293.5h0M375.9 322.2h0M370.4 315.4h0M348.3 291.7h0M356.3 324.6h0M424.4 320.2h0M379.5 323.7h0M347.7 328.9h0M427.0 317.2h0M378.7 322.4h0M364.9 319.2h0M361.3 319.4h0M327.5 285.1h0M308.2 299.7h0M299.0 299.4h0M372.4 322.8h0M343.0 328.3h0M435.6 279.9h0M432.8 283.3h0M382.6 324.5h0M295.1 327.7h0M346.4 289.4h0M364.0 319.5h0M362.1 310.1h0M361.9 305.6h0M301.7 325.9h0M442.5 308.1h0M350.2 296.6h0M309.4 298.5h0M309.9 294.8h0M319.2 301.0h0M368.0 313.6h0M362.8 313.5h0M307.6 329.3h0M439.7 279.5h0M443.0 317.0h0M422.8 311.0h0M352.2 294.3h0M341.3 290.3h0M354.6 302.3h0M442.4 284.6h0M327.1 289.5h0M426.1 321.0h0M421.3 305.5h0M362.2 312.8h0M442.6 302.3h0M420.2 312.4h0M408.2 311.1h0M288.6 325.9h0M295.4 301.3h0M442.6 317.2h0M385.4 321.4h0M289.3 323.5h0M328.1 290.5h0M366.2 321.3h0M440.4 305.5h0M358.2 307.7h0M358.1 321.8h0M421.2 306.2h0M305.9 329.6h0M291.2 327.5h0M303.8 295.2h0M301.3 321.3h0M422.1 322.8h0M307.9 296.7h0M360.3 309.5h0M346.7 328.4h0M426.4 325.2h0M293.5 327.7h0M384.4 326.3h0M290.7 329.1h0M383.0 327.4h0M287.7 321.2h0M300.0 322.1h0M343.1 328.1h0M305.3 323.3h0M378.0 321.2h0M372.0 319.8h0M315.1 331.1h0M442.1 317.3h0M339.4 287.6h0M322.1 299.1h0M294.0 300.6h0M347.3 328.9h0M303.2 294.9h0M334.5 286.7h0M429.1 287.5h0M311.1 327.8h0M327.6 287.8h0M420.0 303.6h0M306.4 299.2h0M316.8 331.8h0M363.7 315.1h0M312.5 299.9h0M324.7 293.4h0M425.4 326.4h0M442.7 320.1h0M361.6 305.5h0M287.9 321.9h0M358.4 310.2h0M288.4 321.9h0M440.9 289.2h0M366.1 320.1h0M425.9 324.5h0M362.7 317.4h0M363.3 312.8h0M440.3 282.2h0M368.4 316.6h0M356.9 304.9h0M314.0 328.0h0M368.4 320.0h0M296.8 298.2h0M332.5 285.3h0M381.4 322.3h0M360.8 322.3h0M325.2 298.7h0M421.7 320.6h0M385.3 329.3h0M360.9 311.3h0M308.0 324.6h0M407.9 310.4h0M418.0 316.7h0M442.7 309.0h0M361.1 304.0h0M324.8 293.6h0M407.7 315.6h0M361.0 312.1h0M291.3 329.7h0M307.9 296.7h0M375.1 318.6h0M441.8 304.2h0M422.3 307.6h0M440.7 303.0h0M329.0 292.6h0M289.6 318.8h0M442.3 315.3h0M304.8 296.6h0M356.6 307.3h0M363.2 311.9h0M423.5 322.1h0M302.3 296.5h0M315.5 301.9h0M312.5 298.4h0M355.7 300.3h0M365.5 322.2h0M306.3 326.9h0M294.6 329.3h0M373.3 323.7h0M419.5 307.3h0M381.0 328.7h0M422.7 304.5h0M326.4 287.1h0M411.5 314.2h0M346.4 329.0h0M326.1 287.5h0M440.2 287.5h0M378.8 319.9h0M297.1 297.5h0M311.5 300.0h0M420.3 303.7h0M352.2 295.2h0M292.6 303.3h0M361.7 308.7h0M409.0 309.7h0M438.2 280.5h0M426.4 295.9h0M290.0 321.2h0M300.8 297.3h0M306.0 294.1h0M431.7 282.7h0M325.0 297.2h0M334.2 285.7h0M370.5 317.6h0M430.7 289.1h0M323.5 299.9h0M364.9 320.1h0M323.7 299.4h0M349.0 291.8h0M413.9 311.5h0M375.0 324.7h0M356.3 308.9h0M348.5 327.5h0M379.3 326.4h0M433.8 284.6h0M442.3 308.2h0M339.6 327.1h0M417.0 308.1h0M408.9 317.4h0M292.2 305.7h0M422.7 305.1h0M440.2 317.3h0M324.1 294.0h0M426.8 328.8h0M425.4 295.8h0M440.2 317.6h0M370.5 323.9h0M442.7 285.3h0M355.5 301.3h0M313.0 299.4h0M376.6 323.5h0M378.7 324.0h0M287.7 321.2h0M430.2 289.5h0M424.3 319.6h0M306.7 298.6h0M334.3 286.1h0M353.9 325.9h0M409.7 317.7h0M425.4 326.6h0M426.8 296.4h0M316.7 298.2h0M385.1 328.8h0M318.5 299.3h0M412.2 315.6h0M311.0 328.5h0M441.6 316.1h0M351.1 299.6h0M298.9 327.9h0M364.4 310.0h0M346.9 327.9h0M441.0 303.4h0M381.4 318.4h0M345.8 329.4h0M356.6 323.5h0M316.8 300.1h0M440.1 305.8h0M409.0 309.8h0M314.9 332.1h0M331.7 284.0h0M289.8 324.9h0M361.9 320.9h0M353.3 306.8h0M360.5 314.1h0M350.6 328.7h0M423.8 310.3h0M357.3 305.9h0M441.8 284.4h0M345.6 329.6h0M308.9 326.3h0M382.7 329.1h0M335.1 286.3h0M306.3 299.0h0M441.4 287.6h0M384.6 323.5h0M409.4 316.3h0M421.1 307.8h0M367.4 315.8h0M342.8 329.3h0M358.2 324.8h0M380.8 328.6h0M411.6 316.3h0M337.0 284.5h0M428.9 290.3h0M380.0 318.9h0M423.9 322.5h0M337.2 284.2h0M422.7 308.8h0M425.1 326.1h0M427.8 321.0h0M308.4 294.5h0M423.4 316.2h0M324.8 288.7h0M301.9 322.8h0M290.4 300.1h0M358.8 309.9h0M362.9 318.1h0M323.1 296.7h0M418.9 307.8h0M431.0 285.7h0M361.1 322.1h0M370.5 324.0h0M378.6 326.4h0M441.2 289.1h0M361.4 309.6h0M363.9 309.7h0M420.2 320.1h0M409.2 315.2h0M328.2 290.2h0M365.8 321.1h0M384.0 321.5h0M309.2 324.9h0M328.4 292.6h0M294.6 300.3h0M409.7 314.7h0M317.4 300.6h0M364.7 312.9h0M419.7 304.4h0M421.2 307.1h0M411.3 311.2h0M407.7 316.8h0M440.4 318.8h0M361.5 322.1h0M351.3 299.5h0M357.1 304.4h0M290.4 303.4h0M440.5 288.7h0M354.6 301.7h0M350.4 298.7h0M288.3 321.1h0M342.4 328.6h0M428.0 329.1h0M307.9 324.2h0M417.7 308.9h0M299.5 323.4h0M411.3 310.1h0M422.5 320.8h0M424.3 301.9h0M338.6 287.5h0M315.4 302.0h0M383.7 323.6h0M438.2 279.9h0M355.2 301.1h0M333.8 287.0h0M442.7 290.1h0M423.6 320.7h0M431.5 283.7h0M420.9 312.3h0M289.3 317.9h0M342.8 327.2h0M422.3 302.0h0M371.6 317.8h0M417.8 317.5h0M442.9 323.4h0M344.2 328.4h0M369.3 323.9h0M317.7 300.2h0M441.6 319.4h0M325.8 288.2h0M359.3 322.9h0M288.2 319.5h0M330.6 284.1h0M430.4 327.2h0M359.6 320.1h0M420.5 313.2h0M364.3 309.7h0M367.2 315.6h0M408.6 309.9h0M442.3 313.6h0M356.3 306.2h0M441.7 312.0h0M358.9 324.8h0M420.5 312.2h0M385.3 326.3h0M386.0 329.3h0M414.2 310.9h0M377.5 322.1h0M370.7 319.5h0M380.4 321.8h0M333.2 283.6h0M413.9 315.5h0M384.5 329.9h0M326.4 286.9h0M409.2 312.0h0M289.8 324.8h0M441.9 319.8h0M430.6 289.0h0M377.0 320.3h0M295.3 301.3h0M442.0 302.9h0M420.0 316.2h0M440.2 318.7h0M425.3 325.6h0M288.4 318.2h0M442.9 308.3h0M418.1 312.8h0M337.1 285.2h0M371.7 322.1h0M421.3 312.6h0M427.2 299.5h0M441.5 302.9h0M367.6 314.0h0M351.1 295.4h0M413.0 311.6h0M380.7 323.7h0M310.4 328.9h0M410.2 315.6h0M405.9 316.5h0M357.2 305.0h0M421.1 309.2h0M291.2 329.1h0M413.5 310.2h0M369.2 316.9h0M440.9 317.0h0M429.9 288.3h0M441.5 311.2h0M342.4 290.2h0M376.0 319.9h0M423.5 311.6h0M419.1 304.3h0M291.8 328.7h0M358.5 306.7h0M405.7 315.2h0M345.6 288.9h0M330.2 285.8h0M422.3 317.1h0M359.5 308.8h0M406.4 314.0h0M385.1 328.9h0M442.2 285.4h0M294.4 300.8h0M301.5 326.3h0M351.0 297.6h0M308.5 324.3h0M421.4 303.9h0M348.8 329.1h0M427.8 301.6h0M317.3 300.5h0M290.8 313.5h0M292.6 304.3h0M359.1 304.0h0M288.2 323.8h0M357.6 303.7h0M441.0 288.3h0M368.3 317.5h0M367.9 320.8h0M367.3 319.6h0M311.9 299.4h0M433.7 283.5h0M327.7 292.1h0M374.8 321.9h0M442.7 288.6h0M357.6 321.0h0M408.4 309.8h0M370.5 324.0h0M358.3 306.1h0M373.3 318.3h0M409.9 317.5h0M438.7 280.4h0M329.0 290.0h0M427.7 326.3h0M351.9 329.2h0M424.9 307.9h0M342.8 289.2h0M417.2 314.8h0M356.8 305.9h0M325.5 299.7h0M369.0 321.6h0M418.4 317.2h0M441.6 315.0h0M324.6 293.5h0M377.6 318.7h0M427.9 325.4h0M340.3 286.9h0M290.0 323.0h0M287.9 321.7h0M430.4 290.7h0M356.8 311.6h0M415.8 315.2h0M350.1 327.5h0M422.5 325.5h0M303.1 326.1h0M442.2 300.9h0M440.0 280.4h0M346.8 288.9h0M365.2 312.8h0M362.3 318.3h0M368.6 322.8h0M358.8 303.0h0M345.3 329.8h0M433.2 284.4h0M303.2 323.7h0M404.8 316.2h0M328.2 290.8h0M329.9 282.9h0M306.4 327.4h0M348.2 329.2h0M361.0 312.3h0M299.8 321.4h0M360.6 320.6h0M404.3 317.8h0M421.5 304.7h0M413.0 315.9h0M417.3 316.8h0M363.7 310.1h0M303.8 299.3h0M344.2 327.1h0M301.7 297.3h0M312.1 327.6h0M308.4 300.0h0M378.2 325.9h0M300.0 298.5h0M290.3 329.9h0M368.0 320.8h0M417.7 316.0h0M385.8 325.5h0M316.0 302.8h0M329.3 283.5h0M309.9 328.2h0M348.2 293.1h0M424.9 322.6h0M344.9 329.7h0M440.6 303.8h0M372.9 318.2h0M442.0 313.0h0M361.3 304.6h0M442.0 309.2h0M358.8 306.9h0M414.1 315.7h0M300.2 322.6h0M376.6 319.8h0M323.9 289.2h0M406.4 316.5h0M423.5 307.5h0M441.7 323.6h0M318.7 302.9h0M328.7 285.5h0M294.7 327.5h0M363.0 316.2h0M305.6 295.8h0M432.9 282.8h0M305.2 299.1h0M360.3 312.3h0M440.8 285.5h0M370.7 320.4h0M315.5 330.6h0M371.4 322.9h0M429.2 287.3h0M379.7 326.4h0M357.0 310.5h0M348.1 293.8h0M308.2 324.6h0M304.5 295.2h0M291.9 314.8h0M413.0 317.8h0M424.9 315.9h0M442.5 283.9h0M289.9 315.9h0M290.0 321.3h0M425.2 301.0h0M316.1 332.2h0M334.4 287.5h0M425.2 302.0h0M433.2 283.5h0M382.0 321.5h0M418.5 306.1h0M353.0 298.9h0M436.6 280.3h0M425.3 328.5h0M350.9 299.9h0M292.4 304.5h0M361.3 318.3h0M303.3 322.5h0M364.0 323.7h0M382.8 323.8h0M323.1 299.1h0M442.7 286.4h0M424.5 306.4h0M288.2 325.5h0M376.8 326.3h0M362.5 322.9h0M297.3 297.4h0M318.3 297.1h0M370.8 317.3h0M406.8 316.4h0M414.9 313.2h0M376.5 322.5h0M419.9 314.0h0M441.0 319.4h0M325.0 297.6h0M332.6 284.3h0M294.9 328.0h0M355.4 307.4h0M378.6 322.4h0M375.2 324.3h0M308.8 324.2h0M331.4 283.1h0M437.0 279.7h0M382.0 321.7h0M419.3 307.2h0M292.2 327.9h0M382.2 319.8h0M422.7 308.5h0M428.4 289.8h0M440.3 300.1h0M380.8 329.9h0M352.9 297.8h0M327.6 294.0h0M431.7 284.4h0M309.0 330.0h0M379.7 325.0h0M420.8 309.7h0M380.6 318.6h0M427.4 315.5h0M322.7 298.6h0M381.6 323.4h0M417.5 314.6h0M440.5 322.9h0M380.8 325.6h0M413.4 314.6h0M334.8 284.3h0M362.9 314.7h0M290.6 327.7h0M303.4 296.7h0M359.3 312.5h0M307.7 298.7h0M413.1 314.0h0M427.9 317.4h0M441.2 314.2h0M424.3 309.5h0M378.6 318.5h0M422.5 303.9h0M435.3 279.3h0M427.4 323.5h0M428.9 285.6h0M361.1 305.8h0M313.0 329.3h0M427.7 329.9h0M428.7 329.3h0M310.4 295.2h0M435.7 281.6h0M344.2 288.6h0M326.1 291.1h0M291.0 328.6h0M384.0 327.4h0M309.8 298.3h0M409.8 312.6h0M413.9 310.6h0M425.1 322.5h0M412.3 314.6h0M378.2 318.3h0M441.5 302.7h0M385.4 327.8h0M298.8 328.4h0M289.0 319.6h0M407.2 315.2h0M314.6 331.2h0M293.8 329.4h0M440.3 323.4h0M442.1 320.9h0M368.0 314.9h0M371.3 319.1h0M426.0 294.2h0" stroke="#9ecae4" stroke-width="2.40" stroke-linecap="round" fill="none"/><path d="M292.8 311.0h0M306.6 300.0h0M319.4 329.3h0M430.8 326.2h0M305.0 301.4h0M429.1 307.3h0M430.6 296.7h0M348.3 324.1h0M305.4 300.1h0M291.0 308.3h0M425.8 306.2h0M354.3 321.1h0M341.8 324.9h0M296.3 325.5h0M425.8 312.1h0M433.8 289.1h0M332.2 328.3h0M429.0 297.0h0M296.8 303.0h0M317.3 305.8h0M347.0 317.6h0M432.8 324.2h0M427.8 310.5h0M336.7 290.3h0M354.0 311.0h0M294.2 324.0h0M339.5 324.4h0M293.3 316.2h0M350.9 307.8h0M428.6 303.4h0M298.9 326.7h0M293.4 312.0h0M327.7 327.9h0M349.1 309.5h0M292.6 316.2h0M294.8 323.6h0M430.5 312.5h0M304.1 301.9h0M327.6 296.6h0M438.9 303.4h0M331.9 294.9h0M326.1 329.6h0M331.7 291.0h0M344.8 317.0h0M356.4 313.8h0M311.7 300.8h0M430.9 300.7h0M301.1 302.5h0M426.6 304.3h0M439.5 325.7h0M348.8 296.7h0M351.0 310.1h0M343.3 292.7h0M312.0 303.5h0M439.7 308.0h0M435.5 282.7h0M296.8 317.1h0M431.9 329.3h0M348.4 309.4h0M331.2 288.3h0M353.0 325.7h0M304.1 317.3h0M352.9 317.7h0M294.6 320.2h0M313.3 305.3h0M298.2 302.5h0M294.9 323.1h0M301.0 316.2h0M331.4 327.3h0M302.2 300.1h0M304.6 320.0h0M440.6 297.9h0M441.7 293.5h0M439.8 325.5h0M429.2 312.4h0M304.4 315.5h0M349.0 321.4h0M340.0 290.1h0M353.8 317.1h0M351.1 303.0h0M301.3 318.1h0M297.8 317.2h0M336.0 288.5h0M428.6 314.6h0M336.6 288.6h0M309.9 322.8h0M297.0 322.7h0M357.8 319.5h0M432.8 328.5h0M350.8 318.5h0M295.5 320.9h0M342.3 293.3h0M291.2 310.1h0M321.2 328.8h0M433.7 306.5h0M438.1 304.7h0M433.5 306.3h0M352.9 321.4h0M439.3 304.7h0M348.0 317.3h0M309.5 323.2h0M348.1 321.2h0M360.3 316.8h0M348.9 313.9h0M292.3 316.2h0M358.6 317.2h0M437.5 324.9h0M292.5 323.5h0M294.3 326.4h0M439.1 283.1h0M307.4 316.4h0M348.3 313.3h0M433.1 290.8h0M349.4 311.2h0M319.5 327.8h0M293.0 321.1h0M351.0 301.4h0M438.4 312.6h0M297.3 326.0h0M335.6 328.8h0M353.4 321.1h0M439.9 304.7h0M295.4 319.2h0M326.9 299.2h0M428.8 322.5h0M350.1 296.0h0M311.0 322.3h0M322.1 327.1h0M323.4 327.6h0M439.2 313.4h0M350.1 300.7h0M346.8 324.9h0M428.5 302.0h0M290.3 306.4h0M307.2 302.3h0M333.1 329.2h0M350.3 307.8h0M329.8 294.0h0M437.5 326.0h0M340.8 288.7h0M299.6 319.6h0M329.8 294.1h0M303.1 318.3h0M293.7 312.8h0M430.1 300.0h0M352.2 316.0h0M426.1 307.8h0M431.1 324.6h0M331.5 289.5h0M340.6 324.1h0M442.1 296.7h0M351.4 302.7h0M295.0 321.7h0M427.8 304.9h0M429.1 317.7h0M352.4 322.1h0M327.7 327.1h0M303.5 301.7h0M427.8 314.8h0M430.4 311.1h0M294.0 311.1h0M437.6 306.2h0M335.5 329.2h0M291.7 324.4h0M352.9 314.9h0M324.7 330.0h0M335.1 327.5h0M353.6 323.2h0M429.8 324.0h0M329.2 290.5h0M352.4 325.7h0M350.1 315.7h0M308.0 300.6h0M312.7 324.6h0M332.0 297.0h0M313.5 325.5h0M291.1 319.0h0M352.2 325.1h0M439.2 284.6h0M344.5 317.5h0M349.8 311.1h0M438.7 326.2h0M292.8 309.8h0M432.7 327.8h0M355.5 309.5h0M315.5 326.9h0M294.1 317.6h0M312.8 322.6h0M430.8 298.5h0M348.8 322.4h0M358.4 320.4h0M310.6 301.6h0M327.1 329.0h0M348.0 313.4h0M438.6 283.7h0M312.3 320.7h0M328.9 329.8h0M306.1 300.4h0M353.1 320.3h0M439.9 326.4h0M313.4 305.9h0M347.3 312.0h0M297.9 326.5h0M349.2 312.6h0M429.8 311.3h0M323.2 302.7h0M344.8 326.8h0M437.2 314.4h0M428.2 301.5h0M307.7 301.2h0M310.2 300.5h0M438.0 309.5h0M425.4 312.2h0M299.3 300.5h0M303.5 300.5h0M356.8 313.4h0M432.8 326.4h0M293.1 321.0h0M355.3 315.3h0M434.8 328.7h0M438.9 304.7h0M354.8 320.6h0M441.0 299.6h0M431.3 285.9h0M311.7 320.4h0M321.4 302.8h0M438.4 324.9h0M319.6 326.6h0M433.8 306.6h0M333.5 327.9h0M298.2 323.0h0M438.7 285.7h0M433.1 307.4h0M429.6 326.8h0M356.5 313.0h0M428.5 307.0h0M312.4 322.3h0M351.4 308.3h0M355.9 322.8h0M354.3 318.0h0M328.1 299.8h0M430.8 326.4h0M294.9 318.4h0M297.3 301.8h0M429.3 299.9h0M439.5 304.0h0M328.3 329.4h0M294.4 326.0h0M293.1 314.7h0M438.1 310.2h0M326.2 294.4h0M309.3 323.1h0M429.1 296.5h0M291.1 308.2h0M319.6 304.3h0M295.3 308.8h0M341.3 324.3h0M329.4 329.5h0M346.4 291.6h0M347.6 317.6h0M347.8 314.2h0M306.7 319.6h0M432.9 308.8h0M298.9 320.4h0M441.6 294.9h0M349.3 322.4h0M427.6 306.1h0M356.3 318.9h0M430.3 309.1h0M430.8 311.7h0M350.9 307.2h0M437.6 282.6h0M427.7 303.2h0M295.4 310.6h0M427.5 312.4h0M429.0 314.0h0M434.0 326.9h0M434.7 328.7h0M296.0 312.3h0M317.6 325.0h0M330.1 329.0h0M344.8 291.3h0M354.6 320.6h0M357.1 320.4h0M352.5 314.4h0M428.6 293.2h0M314.2 329.1h0M357.6 316.5h0M354.4 310.8h0M435.2 327.2h0M430.0 301.2h0M346.0 291.8h0M351.7 321.1h0M348.9 321.4h0M316.0 324.9h0M348.7 326.4h0M436.2 329.1h0M429.8 309.6h0M347.3 300.0h0M293.4 326.3h0M428.1 323.6h0M295.2 309.1h0M324.9 300.1h0M357.8 318.6h0M290.3 321.9h0M427.8 312.5h0M312.6 326.2h0M349.0 320.0h0M438.7 313.8h0M293.4 321.4h0M432.9 307.7h0M355.3 310.0h0M354.3 315.5h0M327.7 327.3h0M312.0 320.0h0M314.4 326.8h0M430.4 317.5h0M294.6 319.3h0M437.3 313.2h0M351.8 312.3h0M351.2 300.9h0M430.8 320.3h0M312.8 318.6h0M310.5 302.9h0M298.2 303.8h0M430.6 315.5h0M431.7 328.5h0M430.7 324.8h0M353.9 316.9h0M431.0 327.0h0M303.8 317.7h0M347.1 313.5h0M330.2 290.6h0M352.1 323.5h0M425.4 312.0h0M295.8 312.1h0M321.1 301.4h0M308.6 318.7h0M308.7 320.0h0M330.0 294.8h0M314.9 325.6h0M293.5 311.1h0M429.8 308.8h0M438.8 304.4h0M357.4 316.9h0M428.6 309.0h0M295.1 313.3h0M437.1 305.0h0M305.2 319.7h0M302.5 320.6h0M432.0 326.4h0M439.0 305.6h0M331.8 296.3h0M299.2 302.9h0M297.6 319.2h0M315.0 325.0h0M348.0 299.6h0M347.9 326.1h0M337.9 327.5h0M434.0 290.9h0M346.3 293.5h0M308.1 319.6h0M430.8 310.4h0M315.1 327.0h0M433.3 289.6h0M306.7 319.0h0M345.6 316.1h0M352.7 300.7h0M431.8 306.7h0M340.3 289.4h0M435.0 328.4h0M437.3 304.5h0M292.1 326.0h0M322.9 327.2h0M294.1 303.2h0M433.1 286.1h0M298.9 316.5h0M312.9 325.6h0M438.3 314.4h0M297.0 302.5h0M348.4 297.7h0M355.2 319.2h0M304.8 300.9h0M292.5 317.9h0M350.7 325.4h0M431.0 311.1h0M438.8 314.1h0M292.8 309.1h0M290.6 315.5h0M302.2 315.2h0M298.8 323.4h0M335.5 290.6h0M354.4 320.1h0M432.5 290.3h0M295.1 319.1h0M307.2 315.7h0M361.7 316.1h0M433.7 325.1h0M348.6 297.8h0M304.6 318.9h0M431.5 325.8h0M442.9 294.7h0M436.7 283.7h0M328.0 297.3h0M295.9 305.6h0M358.4 314.5h0M347.9 322.1h0M355.2 321.2h0M295.0 321.4h0M430.9 317.4h0M307.0 300.7h0M292.9 322.6h0M427.9 310.3h0M295.2 307.6h0M331.1 296.1h0M342.6 325.1h0M317.9 303.6h0M351.8 325.9h0M296.8 303.7h0M440.6 294.0h0M305.6 301.0h0M318.7 327.2h0M296.7 315.3h0M331.7 329.7h0M434.3 329.0h0M440.7 294.5h0M430.3 315.6h0M298.8 319.8h0M335.2 290.0h0M356.4 314.4h0M425.3 303.5h0M436.6 283.6h0M438.8 287.1h0M333.3 288.6h0M294.2 322.9h0M328.4 296.9h0M349.4 318.5h0M290.8 320.0h0M350.5 323.2h0M309.8 320.6h0M329.1 329.3h0M426.8 306.0h0M357.0 316.6h0M341.0 290.5h0M431.2 287.0h0M442.0 292.0h0M344.8 291.5h0M334.3 328.8h0M440.8 298.0h0M432.7 306.4h0M353.7 313.0h0M430.3 295.2h0M429.7 303.7h0M325.2 301.8h0M426.0 310.5h0M323.4 329.2h0M292.5 306.3h0M437.0 284.6h0M334.9 290.9h0M325.7 328.3h0M291.3 311.9h0M318.5 328.4h0M432.7 308.5h0M349.4 295.2h0M295.8 305.5h0M330.7 327.6h0M440.7 293.4h0M431.2 287.2h0M336.6 289.6h0M355.2 319.6h0M318.6 305.5h0M311.2 322.4h0M296.5 303.2h0M292.9 325.1h0M293.7 308.8h0M297.7 317.0h0M347.5 321.8h0M329.7 329.4h0M295.5 307.8h0M438.4 286.1h0M293.2 303.1h0M349.2 314.4h0M297.3 317.1h0M291.6 308.6h0M425.3 312.9h0M347.2 314.0h0M295.1 317.4h0M354.6 318.5h0M293.3 320.8h0M313.7 325.9h0M328.3 328.7h0M426.0 312.8h0M358.4 319.4h0M344.0 326.6h0M336.9 290.3h0M428.5 295.2h0M296.7 300.0h0M316.6 326.6h0M312.3 325.7h0M291.6 308.5h0M324.5 329.6h0M433.9 324.8h0M429.5 318.0h0M348.5 316.9h0M432.0 326.5h0M309.8 319.2h0M429.5 304.6h0M429.6 302.5h0M307.6 300.1h0M298.6 302.1h0M347.3 324.3h0M352.4 324.5h0M290.9 306.9h0M351.9 313.3h0M306.4 320.5h0M329.1 327.9h0M339.4 326.2h0M330.0 328.2h0M317.6 329.4h0M314.7 328.3h0M434.5 282.8h0M297.1 325.5h0M292.0 315.6h0M439.6 286.8h0M303.7 300.5h0M428.1 318.2h0M313.3 321.1h0M437.1 284.1h0M318.3 304.5h0M315.8 327.1h0M305.7 303.0h0M317.9 325.3h0M297.6 305.6h0M291.6 318.3h0M440.8 292.8h0M302.6 320.3h0M430.7 298.5h0M352.7 312.3h0M350.7 320.6h0M349.3 316.7h0M328.0 298.4h0M358.8 318.0h0M296.0 324.4h0M439.9 315.0h0M429.7 319.9h0M349.0 297.5h0M429.8 304.3h0M303.7 320.4h0M310.5 319.0h0M331.8 329.4h0M338.5 290.6h0M426.2 307.8h0M434.9 327.4h0M293.7 314.0h0M426.3 308.3h0M290.9 308.0h0M307.7 320.6h0M312.7 305.3h0M348.0 313.3h0M329.7 289.9h0M347.3 313.9h0M297.6 301.3h0M351.6 322.3h0M429.9 324.5h0M357.1 319.9h0M342.1 291.1h0M333.0 289.3h0M349.5 296.5h0M333.8 288.9h0" stroke="#9ac8e3" stroke-width="2.40" stroke-linecap="round" fill="none"/><path d="M439.1 302.2h0M302.9 304.1h0M431.7 295.0h0M345.1 311.3h0M300.3 307.7h0M436.7 313.5h0M438.5 321.0h0M435.7 326.1h0M304.0 303.9h0M312.5 310.1h0M296.5 314.7h0M438.9 316.2h0M337.5 315.9h0M345.1 320.6h0M303.1 308.2h0M431.4 323.2h0M432.1 315.2h0M432.8 322.5h0M432.1 292.0h0M346.1 295.0h0M345.4 297.1h0M435.1 324.4h0M329.4 300.5h0M306.9 307.4h0M317.6 307.3h0M322.3 306.2h0M436.9 296.8h0M302.3 304.9h0M439.2 291.4h0M325.4 325.6h0M343.7 322.7h0M342.0 295.4h0M434.7 326.9h0M434.2 303.2h0M345.6 314.8h0M299.3 311.8h0M435.3 315.9h0M435.7 291.6h0M342.9 317.5h0M439.9 317.7h0M335.4 292.5h0M315.1 319.1h0M330.3 326.2h0M304.3 309.5h0M433.2 291.9h0M320.1 324.2h0M336.7 292.3h0M308.0 312.1h0M435.2 308.8h0M342.5 294.1h0M314.7 315.7h0M331.3 298.9h0M301.1 308.5h0M438.9 291.4h0M345.4 296.9h0M311.1 309.3h0M313.7 317.0h0M302.2 313.5h0M434.7 306.5h0M439.5 292.8h0M436.4 292.1h0M302.9 305.8h0M435.0 301.5h0M434.7 289.6h0M330.6 325.9h0M297.4 308.2h0M431.6 323.8h0M311.3 313.0h0M319.0 323.8h0M433.3 302.7h0M321.9 304.4h0M317.3 323.3h0M436.3 299.0h0M338.4 313.1h0M327.9 301.5h0M333.6 293.6h0M296.9 307.4h0M315.2 316.7h0M434.7 292.3h0M434.9 293.6h0M336.4 319.4h0M436.2 317.6h0M338.4 319.6h0M435.1 287.6h0M338.2 322.3h0M302.1 308.9h0M300.5 308.9h0M326.2 302.0h0M346.4 320.3h0M432.6 300.7h0M336.2 292.8h0M338.7 318.8h0M322.0 307.6h0M314.9 323.9h0M431.8 318.6h0M331.7 302.5h0M344.3 321.4h0M324.5 304.1h0M326.8 303.4h0M303.8 308.1h0M334.6 296.1h0M341.1 319.8h0M341.9 322.6h0M307.7 313.2h0M297.9 306.8h0M332.2 292.4h0M326.5 301.7h0M439.9 293.2h0M307.4 307.1h0M328.9 324.7h0M435.9 317.2h0M344.2 311.4h0M297.1 306.3h0M432.8 314.6h0M309.6 315.1h0M434.5 324.7h0M303.4 309.2h0M300.2 314.4h0M433.6 319.5h0M436.8 285.9h0M322.6 307.6h0M438.0 317.2h0M321.4 308.6h0M346.2 312.2h0M436.6 321.3h0M310.0 312.9h0M297.7 313.3h0M344.1 295.2h0M436.7 315.7h0M335.4 324.7h0M339.6 321.7h0M306.7 311.2h0M435.3 295.8h0M313.8 307.0h0M436.8 299.3h0M439.2 300.5h0M306.3 310.6h0M330.1 325.5h0M300.6 310.5h0M297.0 314.3h0M439.6 288.6h0M336.6 292.5h0M432.9 291.6h0M309.0 303.9h0M325.3 304.8h0M349.9 304.7h0M435.7 317.5h0M342.9 321.8h0M321.4 305.5h0M338.0 291.7h0M344.1 309.8h0M437.7 318.0h0M436.0 320.7h0M314.3 319.5h0M315.6 307.4h0M344.3 311.1h0M436.4 319.7h0M323.2 324.3h0M322.8 324.0h0M339.9 323.7h0M322.5 307.7h0M320.6 322.7h0M346.1 310.0h0M347.3 300.9h0M309.3 314.0h0M335.8 322.6h0M328.9 304.6h0M437.4 299.3h0M342.8 310.9h0M335.8 293.9h0M330.5 302.5h0M316.7 317.6h0M302.3 314.0h0M339.6 292.5h0M303.2 314.3h0M338.1 316.4h0M435.3 303.3h0M434.9 317.2h0M431.3 312.7h0M307.2 310.1h0M309.3 306.0h0M341.6 321.6h0M346.5 323.9h0M344.1 318.0h0M344.4 310.4h0M335.1 291.3h0M436.3 320.1h0M310.1 303.4h0M436.9 288.6h0M344.2 323.1h0M433.1 292.1h0M322.2 321.1h0M436.0 285.6h0M439.9 293.6h0M434.2 315.9h0M435.7 306.5h0M300.2 307.5h0M434.3 320.4h0M312.1 314.2h0M432.0 310.5h0M345.1 313.5h0M436.1 322.5h0M435.9 297.1h0M305.7 313.4h0M322.2 307.4h0M320.1 303.3h0M310.2 307.4h0M434.3 325.1h0M345.9 294.4h0M341.7 321.2h0M433.4 300.0h0M438.5 292.7h0M334.1 292.9h0M313.0 308.4h0M440.0 290.2h0M436.3 326.3h0M343.2 316.3h0M434.8 290.6h0M327.6 301.4h0M345.5 300.0h0M336.5 292.3h0M434.1 303.4h0M432.2 321.7h0M337.0 325.5h0M439.3 301.5h0M432.3 291.2h0M331.9 326.7h0M310.5 308.4h0M300.1 306.0h0M338.6 320.3h0M438.9 315.6h0M334.5 296.1h0M322.3 303.5h0M345.1 323.9h0M319.7 306.6h0M436.8 319.1h0M312.3 306.6h0M339.6 318.3h0M433.6 310.9h0M435.7 294.8h0M298.8 314.8h0M346.5 297.0h0M306.5 308.8h0M317.1 306.7h0M341.7 294.7h0M438.7 322.5h0M308.9 305.4h0M328.9 300.8h0M321.0 303.9h0M347.0 295.9h0M438.7 294.8h0M319.9 319.1h0M300.0 308.6h0M347.7 308.6h0M314.1 313.2h0M433.8 297.5h0M437.7 291.9h0M341.2 321.6h0M322.1 321.8h0M434.6 317.6h0M431.9 321.7h0M436.0 295.4h0M304.8 303.1h0M337.6 327.0h0M344.2 322.0h0M439.7 302.6h0M341.5 310.1h0M331.2 301.1h0M344.3 310.9h0M310.8 313.5h0M335.1 291.7h0M432.5 292.5h0M437.8 295.8h0M432.3 291.7h0M438.7 290.1h0M321.0 306.5h0M298.9 312.4h0M436.2 320.9h0M337.7 293.9h0M300.0 313.0h0M335.2 317.4h0M308.8 307.6h0M436.3 298.6h0M301.9 306.3h0M316.6 317.2h0M345.4 299.8h0M302.3 310.4h0M319.1 307.8h0M297.7 309.0h0M337.1 319.1h0M316.2 320.8h0M310.9 308.3h0M302.7 308.3h0M301.1 309.2h0M344.2 294.4h0M336.7 316.7h0M434.7 296.4h0M334.3 294.5h0M309.5 317.2h0M438.2 317.7h0M309.2 305.4h0M325.5 304.2h0M301.9 314.3h0M323.1 324.2h0M333.3 325.5h0M314.4 320.1h0M334.8 323.1h0M315.0 317.7h0M306.6 314.3h0M308.2 308.2h0M315.7 318.4h0M437.1 295.2h0M305.7 311.3h0M317.5 322.4h0M431.2 297.9h0M306.5 314.5h0M304.1 312.5h0M345.4 321.3h0M336.3 324.1h0M308.6 306.4h0M308.2 307.3h0M431.5 300.8h0M321.9 307.0h0M436.3 311.4h0M436.7 309.7h0M304.3 313.9h0M434.8 322.4h0M435.0 326.1h0M439.5 294.5h0M339.6 292.1h0M299.3 308.5h0M434.3 301.2h0M313.9 307.6h0M439.7 291.9h0M346.0 295.4h0M305.7 306.0h0M327.6 303.0h0M315.6 323.6h0M336.8 326.5h0M339.2 316.6h0M435.3 289.3h0M436.2 298.6h0M311.9 306.1h0M435.1 326.6h0M348.7 308.0h0M340.2 319.9h0M341.7 321.3h0M316.6 307.0h0M433.7 316.1h0M320.9 323.8h0M433.9 297.8h0M296.2 306.6h0M305.5 311.9h0M298.2 311.1h0M334.8 322.3h0M438.9 289.5h0M333.5 294.9h0M439.4 291.3h0M324.8 325.8h0M315.7 315.1h0M439.2 300.1h0M318.4 320.7h0M329.9 326.3h0M311.9 306.6h0M337.8 320.8h0M336.1 326.2h0M338.1 322.7h0M327.1 304.4h0M310.3 317.5h0M338.5 321.1h0M349.0 304.1h0M435.7 291.8h0M432.3 300.9h0M320.4 305.3h0M301.1 307.4h0M335.1 322.5h0M333.5 326.1h0M300.2 303.2h0M310.4 312.8h0M432.5 303.4h0M435.8 296.6h0M435.3 306.1h0M327.1 302.7h0M299.7 310.9h0M335.3 322.3h0M434.4 323.5h0M342.5 319.1h0M318.2 308.7h0M313.7 308.0h0M435.5 303.5h0M317.0 306.1h0M339.6 318.1h0M307.0 307.1h0M305.8 307.4h0M435.9 291.4h0M340.3 293.0h0M344.4 312.3h0M301.8 308.2h0M337.8 315.3h0M310.1 304.7h0M345.1 298.2h0M431.3 310.7h0M304.6 312.0h0M431.4 297.9h0M344.6 313.7h0M341.5 316.4h0M322.4 326.9h0M328.6 304.8h0M440.0 316.4h0M345.1 311.1h0M296.9 306.2h0M299.1 306.6h0M436.5 292.6h0M319.2 323.1h0M438.5 301.4h0M437.5 323.6h0M434.3 305.9h0M349.8 300.7h0M341.7 318.0h0M323.6 325.6h0M436.5 322.5h0M345.7 297.2h0M330.1 297.5h0M344.2 295.5h0M434.6 319.4h0M320.1 307.1h0M339.6 323.4h0M320.4 307.3h0M313.4 315.2h0M318.6 323.5h0M437.3 316.0h0M347.2 308.8h0M344.9 323.7h0M343.0 318.1h0M436.3 319.6h0M316.3 320.7h0M324.9 324.1h0M324.2 326.3h0M338.9 322.4h0M434.0 300.7h0M305.4 303.1h0M437.8 294.0h0M436.6 286.8h0M346.9 298.1h0M308.9 310.6h0M301.2 311.9h0M339.3 321.4h0M439.9 290.9h0M435.3 290.8h0M435.1 299.1h0M336.1 291.0h0M337.4 316.8h0M301.6 305.5h0M339.1 323.2h0M311.5 309.8h0M435.3 308.0h0M344.7 314.0h0M435.4 321.5h0M306.8 308.1h0M297.9 313.1h0M432.1 296.8h0M307.9 305.3h0M338.3 313.3h0M436.6 305.9h0M309.6 313.3h0M305.4 308.8h0M432.7 311.2h0M434.8 296.6h0M306.3 314.8h0M308.1 317.9h0M434.9 314.5h0M431.6 314.5h0M300.7 314.6h0M341.9 316.9h0M315.0 323.4h0M438.3 288.4h0M336.0 326.8h0M436.3 287.9h0M341.9 311.3h0M308.0 314.4h0M304.4 307.9h0M334.7 322.8h0M347.3 307.2h0M438.8 323.9h0M433.6 296.7h0M306.3 308.0h0M327.0 303.4h0M311.8 312.2h0M431.3 291.3h0M332.4 323.9h0M335.2 325.1h0M439.5 300.8h0M313.1 312.8h0M306.3 312.3h0M343.6 297.0h0M313.6 306.4h0M319.7 306.6h0M431.4 301.4h0M431.7 313.0h0M302.9 311.7h0M315.5 321.3h0M433.6 296.2h0M438.3 300.8h0M336.3 324.7h0M435.4 319.8h0M313.5 314.3h0M436.0 295.8h0M436.9 319.6h0M438.0 297.3h0M336.4 327.0h0M334.1 326.1h0M317.0 308.7h0M304.6 311.8h0M432.3 314.0h0M319.4 323.7h0M431.1 303.9h0M312.5 310.5h0M435.2 315.0h0M335.3 315.9h0M305.1 312.5h0M309.0 313.4h0M345.9 299.6h0M338.0 291.2h0M301.4 312.3h0M342.6 323.1h0M302.4 311.0h0M309.8 312.2h0M334.8 292.8h0M302.1 310.3h0M338.5 314.1h0M316.2 321.7h0M342.2 318.4h0M327.2 300.5h0M433.9 311.1h0M438.2 316.8h0M336.0 320.4h0M311.1 314.8h0M439.6 316.7h0M346.0 295.3h0M438.2 302.6h0M328.9 324.2h0M302.0 313.2h0M437.0 293.8h0M348.8 305.6h0M347.0 321.4h0M335.7 321.3h0M438.5 319.6h0M438.0 294.7h0M434.8 319.1h0M437.4 300.8h0" stroke="#95c5e2" stroke-width="2.40" stroke-linecap="round" fill="none"/><path d="M331.0 313.3h0M325.6 321.7h0M334.2 313.3h0M327.5 310.5h0M326.1 323.2h0M315.5 309.7h0M330.0 321.8h0M336.4 296.7h0M318.0 311.3h0M329.6 323.1h0M326.1 315.5h0M324.0 312.2h0M323.2 319.6h0M344.2 302.8h0M330.9 316.2h0M334.6 309.8h0M334.9 317.7h0M324.1 323.0h0M345.4 309.0h0M329.6 314.7h0M325.4 312.2h0M338.9 298.4h0M324.9 309.2h0M316.3 311.9h0M323.9 311.5h0M321.6 318.2h0M335.2 309.3h0M338.1 298.2h0M319.6 311.7h0M322.8 313.7h0M314.6 311.7h0M328.0 309.5h0M328.0 319.4h0M340.5 298.6h0M329.1 322.2h0M325.9 323.6h0M330.0 313.0h0M331.0 323.4h0M336.7 299.4h0M318.0 311.5h0M315.5 311.0h0M331.7 308.5h0M324.8 310.9h0M328.0 321.3h0M331.1 315.1h0M327.4 311.0h0M324.4 321.5h0M345.0 307.0h0M340.5 296.5h0M329.5 305.2h0M317.3 314.1h0M336.6 310.9h0M347.0 304.7h0M333.5 303.2h0M321.8 313.8h0M334.6 320.5h0M320.8 311.1h0M325.8 318.7h0M342.4 308.8h0M337.5 294.1h0M334.0 310.3h0M338.1 306.5h0M331.0 318.4h0M338.5 296.0h0M328.4 321.3h0M332.8 300.8h0M334.0 309.9h0M326.7 311.5h0M329.4 310.3h0M330.8 316.1h0M318.1 312.4h0M324.2 314.4h0M315.3 314.7h0M345.6 300.1h0M333.3 305.3h0M330.8 303.5h0M326.6 317.4h0M321.9 316.7h0M334.8 309.9h0M317.9 313.9h0M334.1 301.3h0M332.4 304.8h0M344.9 307.3h0M332.0 310.9h0M332.0 318.0h0M338.2 307.9h0M333.6 297.9h0M326.3 309.0h0M330.6 317.1h0M335.9 298.7h0M325.6 322.4h0M327.9 322.7h0M322.6 313.8h0M329.2 318.7h0M346.9 300.1h0M325.3 317.5h0M320.1 318.8h0M334.8 301.3h0M332.5 318.2h0M333.2 316.0h0M325.9 322.6h0M327.9 319.2h0M344.7 303.9h0M332.1 302.7h0M314.4 309.6h0M341.6 297.3h0M324.3 307.5h0M340.6 306.8h0M334.9 314.6h0M344.3 302.9h0M346.0 300.2h0M322.6 311.7h0M318.8 317.1h0M330.5 307.8h0M333.8 315.6h0M341.9 308.5h0M346.6 304.7h0M340.5 299.6h0M339.1 310.6h0M347.0 306.4h0M332.9 308.5h0M343.1 307.6h0M322.1 317.7h0M333.1 319.7h0M333.5 318.8h0M314.3 310.7h0M344.3 305.2h0M334.7 313.7h0M327.3 321.8h0M327.2 321.3h0M340.1 310.7h0M339.0 310.1h0M322.9 319.9h0M327.9 318.6h0M346.6 303.2h0M341.9 306.3h0M332.2 314.9h0M341.8 300.0h0M336.7 296.4h0M337.6 298.2h0M322.9 316.0h0M338.7 306.7h0M328.4 307.9h0M333.3 314.4h0M316.5 309.1h0M340.3 294.6h0M323.7 317.5h0M337.8 294.4h0M328.6 309.9h0M344.6 303.5h0M328.9 315.4h0M325.2 323.3h0M322.0 312.1h0M337.9 299.6h0M336.2 297.6h0M335.7 314.6h0M334.6 298.2h0M336.7 298.3h0M339.0 296.1h0M331.8 306.2h0M329.9 311.2h0M346.6 303.2h0M340.9 307.6h0M332.5 303.1h0M324.2 307.6h0M317.9 311.2h0M324.4 317.5h0M329.8 304.2h0M346.2 302.0h0M317.9 312.8h0M331.6 315.9h0M329.5 322.9h0M324.3 318.3h0M341.2 298.3h0M344.3 305.9h0M315.9 310.0h0M325.8 319.0h0M322.4 314.7h0M346.4 302.1h0M318.6 313.9h0M337.2 313.0h0M346.1 308.6h0M321.6 313.1h0M331.0 317.8h0M326.9 312.4h0M320.9 311.4h0M330.9 321.3h0M333.7 307.8h0M327.0 315.0h0M337.4 314.0h0M333.3 298.6h0M324.1 321.9h0M323.1 319.2h0M337.0 310.7h0M336.4 311.7h0M326.4 323.5h0M330.8 304.0h0M324.1 319.8h0M321.3 309.7h0M329.8 310.7h0M323.3 315.9h0M327.4 313.2h0M332.5 311.0h0M329.1 310.5h0M333.8 303.8h0M337.9 297.8h0M337.1 296.9h0M322.2 317.1h0M336.5 309.1h0M325.3 308.2h0M316.6 310.0h0M328.8 313.5h0M343.8 308.1h0M326.5 318.0h0M327.7 316.3h0M318.7 309.5h0M324.8 317.4h0M323.9 311.7h0M333.4 301.8h0M334.9 303.7h0M317.8 316.9h0M346.3 307.8h0M338.4 294.2h0M334.3 317.6h0M330.1 314.8h0M315.5 311.2h0M335.5 300.0h0M337.0 298.0h0M339.4 308.0h0M346.9 306.8h0M332.3 317.5h0M334.4 302.6h0M333.2 311.2h0M346.1 305.4h0M329.7 312.7h0M335.2 297.9h0M341.3 299.6h0M330.5 314.9h0M325.5 320.4h0M340.8 306.3h0M334.5 300.5h0M328.7 315.0h0M340.4 299.3h0M329.3 316.3h0M332.1 301.4h0M325.7 323.9h0M323.9 321.4h0M329.2 310.2h0M334.4 320.6h0M319.8 311.6h0M323.9 306.4h0M333.1 313.4h0M328.1 315.8h0M317.5 314.0h0M345.2 305.2h0M332.9 317.4h0M327.8 310.5h0M332.8 309.0h0M321.0 320.1h0M327.0 313.0h0M329.2 318.3h0M339.9 307.3h0M323.4 309.5h0M316.6 312.3h0M325.5 306.3h0M315.0 313.1h0M324.9 321.4h0M329.5 321.0h0M331.3 307.0h0M345.2 300.2h0M325.7 311.9h0M321.7 314.3h0M326.5 317.2h0M322.3 309.8h0M323.5 316.3h0M344.8 302.6h0M328.0 311.8h0M346.1 304.2h0M321.1 310.5h0M335.1 295.7h0M325.5 319.1h0M332.9 306.3h0M321.1 311.5h0M323.0 314.0h0M321.1 315.5h0M325.6 317.7h0M346.2 303.2h0M334.2 307.3h0M325.5 315.6h0M334.8 305.0h0M342.6 308.4h0M340.3 309.4h0M320.6 315.8h0M333.9 304.8h0M338.6 296.1h0" stroke="#8fc2e1" stroke-width="2.40" stroke-linecap="round" fill="none"/><path d="M336.5 301.6h0M336.9 302.7h0M337.7 304.6h0M335.6 303.3h0M335.4 305.0h0M338.7 301.2h0M338.9 304.7h0M338.9 302.9h0M337.6 308.7h0M338.5 300.9h0M341.6 304.1h0M335.2 308.7h0M336.3 308.3h0M344.0 302.2h0M341.0 304.3h0M337.9 307.2h0M337.1 304.5h0M343.6 303.6h0M340.8 305.1h0M338.4 302.7h0M338.2 300.7h0M341.5 302.0h0M337.9 306.3h0M343.5 304.2h0M338.9 303.9h0M336.6 301.9h0M336.0 308.0h0M343.3 304.4h0M342.6 301.5h0M338.6 302.1h0M336.4 308.7h0M336.3 303.0h0M337.7 305.2h0M335.9 302.8h0M335.3 307.5h0M337.7 301.7h0M344.0 300.3h0M337.5 301.5h0M340.3 303.6h0M340.3 303.5h0M337.5 304.0h0M337.8 302.8h0M343.8 305.4h0M336.7 305.4h0M342.9 302.5h0M339.5 305.9h0M337.0 301.9h0" stroke="#89bdde" stroke-width="2.40" stroke-linecap="round" fill="none"/>
<rect x="284.0" y="294.5" width="16.5" height="10.5" fill="#7db5da"/>
<rect x="300.0" y="294.5" width="40.0" height="10.5" fill="#93c4e2"/>
<rect x="316.0" y="304.6" width="17.0" height="12.8" fill="#5b9ccf"/>
<path d="M317.0 304.9h0M317.0 317.2h0M319.0 304.7h0M319.0 317.1h0M321.0 304.1h0M321.0 318.4h0M323.0 304.7h0M323.0 317.8h0M325.0 304.3h0M325.0 318.3h0M327.0 304.0h0M327.0 317.5h0M329.0 304.6h0M329.0 318.0h0M331.0 303.9h0M331.0 318.2h0M316.3 305.6h0M333.2 305.6h0M315.7 307.6h0M332.7 307.6h0M316.1 309.6h0M333.6 309.6h0M316.3 311.6h0M333.2 311.6h0M316.2 313.6h0M333.8 313.6h0M315.7 315.6h0M333.9 315.6h0" stroke="#5b9ccf" stroke-width="2.30" stroke-linecap="round" fill="none"/>
<rect x="282.5" y="304.6" width="34.0" height="12.8" fill="#3d84c2"/>
<path d="M283.5 304.4h0M283.5 318.3h0M285.5 303.7h0M285.5 317.6h0M287.5 304.8h0M287.5 318.1h0M289.5 303.7h0M289.5 317.3h0M291.5 304.0h0M291.5 317.4h0M293.5 304.6h0M293.5 317.5h0M295.5 303.7h0M295.5 318.4h0M297.5 304.4h0M297.5 318.1h0M299.5 304.6h0M299.5 317.5h0M301.5 303.7h0M301.5 317.5h0M303.5 304.3h0M303.5 317.5h0M305.5 304.5h0M305.5 317.4h0M307.5 303.9h0M307.5 317.6h0M309.5 304.0h0M309.5 317.2h0M311.5 304.5h0M311.5 317.1h0M313.5 304.8h0M313.5 318.3h0M315.5 304.6h0M315.5 317.5h0M282.0 305.6h0M316.5 305.6h0M281.7 307.6h0M317.5 307.6h0M282.7 309.6h0M317.2 309.6h0M282.3 311.6h0M316.2 311.6h0M282.2 313.6h0M317.5 313.6h0M281.6 315.6h0M316.7 315.6h0" stroke="#3d84c2" stroke-width="2.30" stroke-linecap="round" fill="none"/>
<rect x="340.0" y="317.4" width="7.0" height="19.3" fill="#7ab2d9"/>
<path d="M341.0 316.5h0M341.0 337.2h0M343.0 317.2h0M343.0 337.2h0M345.0 316.9h0M345.0 336.8h0M339.3 318.4h0M347.6 318.4h0M339.5 320.4h0M346.7 320.4h0M340.3 322.4h0M347.8 322.4h0M340.1 324.4h0M347.3 324.4h0M339.2 326.4h0M346.8 326.4h0M339.1 328.4h0M347.8 328.4h0M339.6 330.4h0M346.8 330.4h0M339.7 332.4h0M346.9 332.4h0M339.1 334.4h0M347.3 334.4h0" stroke="#7ab2d9" stroke-width="2.30" stroke-linecap="round" fill="none"/>
<rect x="333.0" y="317.4" width="7.5" height="19.3" fill="#5596cb"/>
<path d="M334.0 317.3h0M334.0 336.6h0M336.0 316.7h0M336.0 336.8h0M338.0 316.5h0M338.0 336.5h0M332.5 318.4h0M340.7 318.4h0M333.2 320.4h0M341.4 320.4h0M332.8 322.4h0M340.2 322.4h0M332.6 324.4h0M340.6 324.4h0M332.5 326.4h0M340.8 326.4h0M333.3 328.4h0M340.6 328.4h0M332.8 330.4h0M341.4 330.4h0M332.7 332.4h0M341.0 332.4h0M332.7 334.4h0M340.3 334.4h0" stroke="#5596cb" stroke-width="2.30" stroke-linecap="round" fill="none"/>
<rect x="324.3" y="317.4" width="9.2" height="19.3" fill="#2b6fb4"/>
<rect x="315.0" y="317.4" width="9.8" height="19.3" fill="#1b55a0"/>
<rect x="279.8" y="317.4" width="35.2" height="19.3" fill="#22316b"/>
<path d="M280.8 317.1h0M280.8 336.9h0M282.8 317.2h0M282.8 336.5h0M284.8 317.4h0M284.8 337.0h0M286.8 316.6h0M286.8 336.8h0M288.8 317.2h0M288.8 337.4h0M290.8 317.1h0M290.8 337.6h0M292.8 316.8h0M292.8 336.7h0M294.8 317.5h0M294.8 336.8h0M296.8 317.4h0M296.8 336.6h0M298.8 316.7h0M298.8 336.5h0M300.8 316.8h0M300.8 336.6h0M302.8 317.4h0M302.8 337.6h0M304.8 317.2h0M304.8 336.6h0M306.8 316.6h0M306.8 337.3h0M308.8 317.6h0M308.8 336.7h0M310.8 317.1h0M310.8 337.4h0M312.8 316.7h0M312.8 337.1h0M279.0 318.4h0M315.6 318.4h0M279.6 320.4h0M315.3 320.4h0M278.9 322.4h0M314.7 322.4h0M279.3 324.4h0M315.9 324.4h0M279.0 326.4h0M315.9 326.4h0M279.5 328.4h0M316.0 328.4h0M279.0 330.4h0M315.2 330.4h0M280.0 332.4h0M315.5 332.4h0M279.0 334.4h0M315.1 334.4h0" stroke="#22316b" stroke-width="2.30" stroke-linecap="round" fill="none"/>
<rect x="279.5" y="336.7" width="67.5" height="3.6" fill="#2c6db3"/>
<path d="M278.4 267.4h0M278.4 268.6h0M278.4 269.8h0M278.4 271.0h0M278.4 272.2h0M278.4 273.4h0M278.4 274.6h0M278.4 275.8h0M278.4 277.0h0M278.4 278.2h0M278.4 279.4h0" stroke="#93c4e2" stroke-width="2.70" stroke-linecap="round" fill="none"/><path d="M278.4 280.6h0M278.4 281.8h0M278.4 283.0h0M278.4 284.2h0M278.4 285.4h0M278.4 286.6h0M278.4 287.8h0M278.4 289.0h0M278.4 290.2h0M278.4 291.4h0M278.4 292.6h0M278.4 293.8h0M278.4 295.0h0M278.4 296.2h0M278.4 297.4h0M278.4 298.6h0M278.4 299.8h0M278.4 301.0h0M278.4 302.2h0M278.4 303.4h0M278.4 304.6h0" stroke="#74b2d9" stroke-width="2.70" stroke-linecap="round" fill="none"/><path d="M278.4 305.8h0M278.4 307.0h0M278.4 308.2h0M278.4 309.4h0M278.4 310.6h0M278.4 311.8h0M278.4 313.0h0M278.4 314.2h0M278.4 315.4h0M278.4 316.6h0" stroke="#3d84c2" stroke-width="2.70" stroke-linecap="round" fill="none"/><path d="M278.4 317.8h0M278.4 319.0h0M278.4 320.2h0M278.4 321.4h0M278.4 322.6h0M278.4 323.8h0M278.4 325.0h0M278.4 326.2h0M278.4 327.4h0M278.4 328.6h0M278.4 329.8h0M278.4 331.0h0M278.4 332.2h0M278.4 333.4h0M278.4 334.6h0M278.4 335.8h0M278.4 337.0h0M278.4 338.2h0" stroke="#1e3b78" stroke-width="2.70" stroke-linecap="round" fill="none"/><path d="M278.4 339.4h0M278.4 340.6h0M278.4 341.8h0M278.4 343.0h0" stroke="#2166ac" stroke-width="2.70" stroke-linecap="round" fill="none"/>
<path d="M279.0 342.3h0M279.5 342.3h0M280.0 342.3h0M280.5 342.3h0M281.0 342.3h0M281.5 342.3h0" stroke="#2a6db4" stroke-width="3.00" stroke-linecap="round" fill="none"/><path d="M282.0 342.3h0" stroke="#2b6db4" stroke-width="3.00" stroke-linecap="round" fill="none"/><path d="M282.5 342.3h0M283.0 342.3h0M283.5 342.3h0M284.0 342.3h0M284.5 342.3h0M285.0 342.3h0M285.5 342.3h0M286.0 342.3h0M286.5 342.3h0" stroke="#2b6eb4" stroke-width="3.00" stroke-linecap="round" fill="none"/><path d="M287.0 342.3h0M287.5 342.3h0M288.0 342.3h0M288.5 342.3h0M289.0 342.3h0M289.5 342.3h0" stroke="#2c6eb4" stroke-width="3.00" stroke-linecap="round" fill="none"/><path d="M290.0 342.3h0M290.5 342.3h0M291.0 342.3h0M291.5 342.3h0M292.0 342.3h0" stroke="#2c6fb5" stroke-width="3.00" stroke-linecap="round" fill="none"/><path d="M292.5 342.3h0M293.0 342.3h0M293.5 342.3h0M294.0 342.3h0M294.5 342.3h0M295.0 342.3h0M295.5 342.3h0M296.0 342.3h0" stroke="#2d6fb5" stroke-width="3.00" stroke-linecap="round" fill="none"/><path d="M296.5 342.3h0M297.0 342.3h0" stroke="#2d70b5" stroke-width="3.00" stroke-linecap="round" fill="none"/><path d="M297.5 342.3h0M298.0 342.3h0M298.5 342.3h0M299.0 342.3h0M299.5 342.3h0M300.0 342.3h0" stroke="#2e70b5" stroke-width="3.00" stroke-linecap="round" fill="none"/><path d="M300.5 342.3h0" stroke="#2f71b5" stroke-width="3.00" stroke-linecap="round" fill="none"/><path d="M301.0 342.3h0" stroke="#2f71b6" stroke-width="3.00" stroke-linecap="round" fill="none"/><path d="M301.5 342.3h0" stroke="#3072b6" stroke-width="3.00" stroke-linecap="round" fill="none"/><path d="M302.0 342.3h0" stroke="#3173b7" stroke-width="3.00" stroke-linecap="round" fill="none"/><path d="M302.5 342.3h0" stroke="#3274b7" stroke-width="3.00" stroke-linecap="round" fill="none"/><path d="M303.0 342.3h0" stroke="#3274b8" stroke-width="3.00" stroke-linecap="round" fill="none"/><path d="M303.5 342.3h0" stroke="#3375b8" stroke-width="3.00" stroke-linecap="round" fill="none"/><path d="M304.0 342.3h0" stroke="#3476b8" stroke-width="3.00" stroke-linecap="round" fill="none"/><path d="M304.5 342.3h0M305.0 342.3h0" stroke="#3577b9" stroke-width="3.00" stroke-linecap="round" fill="none"/><path d="M305.5 342.3h0" stroke="#3678ba" stroke-width="3.00" stroke-linecap="round" fill="none"/><path d="M306.0 342.3h0" stroke="#3779ba" stroke-width="3.00" stroke-linecap="round" fill="none"/><path d="M306.5 342.3h0M307.0 342.3h0" stroke="#387abb" stroke-width="3.00" stroke-linecap="round" fill="none"/><path d="M307.5 342.3h0" stroke="#397bbc" stroke-width="3.00" stroke-linecap="round" fill="none"/><path d="M308.0 342.3h0M308.5 342.3h0" stroke="#3a7cbc" stroke-width="3.00" stroke-linecap="round" fill="none"/><path d="M309.0 342.3h0" stroke="#3b7dbd" stroke-width="3.00" stroke-linecap="round" fill="none"/><path d="M309.5 342.3h0" stroke="#3c7ebd" stroke-width="3.00" stroke-linecap="round" fill="none"/><path d="M310.0 342.3h0M310.5 342.3h0" stroke="#3d7fbe" stroke-width="3.00" stroke-linecap="round" fill="none"/><path d="M311.0 342.3h0" stroke="#3e80bf" stroke-width="3.00" stroke-linecap="round" fill="none"/><path d="M311.5 342.3h0" stroke="#3f81bf" stroke-width="3.00" stroke-linecap="round" fill="none"/><path d="M312.0 342.3h0" stroke="#4082bf" stroke-width="3.00" stroke-linecap="round" fill="none"/><path d="M312.5 342.3h0" stroke="#4082c0" stroke-width="3.00" stroke-linecap="round" fill="none"/><path d="M313.0 342.3h0" stroke="#4183c0" stroke-width="3.00" stroke-linecap="round" fill="none"/><path d="M313.5 342.3h0" stroke="#4284c1" stroke-width="3.00" stroke-linecap="round" fill="none"/><path d="M314.0 342.3h0" stroke="#4385c1" stroke-width="3.00" stroke-linecap="round" fill="none"/><path d="M314.5 342.3h0" stroke="#4385c2" stroke-width="3.00" stroke-linecap="round" fill="none"/><path d="M315.0 342.3h0" stroke="#4486c2" stroke-width="3.00" stroke-linecap="round" fill="none"/><path d="M315.5 342.3h0" stroke="#4587c2" stroke-width="3.00" stroke-linecap="round" fill="none"/><path d="M316.0 342.3h0" stroke="#4587c3" stroke-width="3.00" stroke-linecap="round" fill="none"/><path d="M316.5 342.3h0" stroke="#4688c3" stroke-width="3.00" stroke-linecap="round" fill="none"/><path d="M317.0 342.3h0" stroke="#4789c4" stroke-width="3.00" stroke-linecap="round" fill="none"/><path d="M317.5 342.3h0" stroke="#488ac4" stroke-width="3.00" stroke-linecap="round" fill="none"/><path d="M318.0 342.3h0" stroke="#488ac5" stroke-width="3.00" stroke-linecap="round" fill="none"/><path d="M318.5 342.3h0" stroke="#498bc5" stroke-width="3.00" stroke-linecap="round" fill="none"/><path d="M319.0 342.3h0" stroke="#4a8cc5" stroke-width="3.00" stroke-linecap="round" fill="none"/><path d="M319.5 342.3h0M320.0 342.3h0" stroke="#4b8dc6" stroke-width="3.00" stroke-linecap="round" fill="none"/><path d="M320.5 342.3h0" stroke="#4c8ec7" stroke-width="3.00" stroke-linecap="round" fill="none"/><path d="M321.0 342.3h0" stroke="#4d8fc7" stroke-width="3.00" stroke-linecap="round" fill="none"/><path d="M321.5 342.3h0M322.0 342.3h0" stroke="#4e90c8" stroke-width="3.00" stroke-linecap="round" fill="none"/><path d="M322.5 342.3h0" stroke="#4f91c8" stroke-width="3.00" stroke-linecap="round" fill="none"/><path d="M323.0 342.3h0M323.5 342.3h0" stroke="#5092c9" stroke-width="3.00" stroke-linecap="round" fill="none"/><path d="M324.0 342.3h0" stroke="#5193ca" stroke-width="3.00" stroke-linecap="round" fill="none"/><path d="M324.5 342.3h0" stroke="#5294ca" stroke-width="3.00" stroke-linecap="round" fill="none"/><path d="M325.0 342.3h0M325.5 342.3h0" stroke="#5395cb" stroke-width="3.00" stroke-linecap="round" fill="none"/><path d="M326.0 342.3h0" stroke="#5496cc" stroke-width="3.00" stroke-linecap="round" fill="none"/><path d="M326.5 342.3h0" stroke="#5597cc" stroke-width="3.00" stroke-linecap="round" fill="none"/><path d="M327.0 342.3h0" stroke="#5698cc" stroke-width="3.00" stroke-linecap="round" fill="none"/><path d="M327.5 342.3h0" stroke="#5698cd" stroke-width="3.00" stroke-linecap="round" fill="none"/><path d="M328.0 342.3h0" stroke="#5799cd" stroke-width="3.00" stroke-linecap="round" fill="none"/><path d="M328.5 342.3h0" stroke="#589ace" stroke-width="3.00" stroke-linecap="round" fill="none"/><path d="M329.0 342.3h0" stroke="#599bce" stroke-width="3.00" stroke-linecap="round" fill="none"/><path d="M329.5 342.3h0" stroke="#599bcf" stroke-width="3.00" stroke-linecap="round" fill="none"/><path d="M330.0 342.3h0" stroke="#5a9ccf" stroke-width="3.00" stroke-linecap="round" fill="none"/><path d="M330.5 342.3h0" stroke="#5b9ccf" stroke-width="3.00" stroke-linecap="round" fill="none"/><path d="M331.0 342.3h0" stroke="#5b9dcf" stroke-width="3.00" stroke-linecap="round" fill="none"/><path d="M331.5 342.3h0" stroke="#5c9dcf" stroke-width="3.00" stroke-linecap="round" fill="none"/><path d="M332.0 342.3h0" stroke="#5c9ed0" stroke-width="3.00" stroke-linecap="round" fill="none"/><path d="M332.5 342.3h0M333.0 342.3h0" stroke="#5d9ed0" stroke-width="3.00" stroke-linecap="round" fill="none"/><path d="M333.5 342.3h0M334.0 342.3h0" stroke="#5e9fd0" stroke-width="3.00" stroke-linecap="round" fill="none"/><path d="M334.5 342.3h0" stroke="#5f9fd0" stroke-width="3.00" stroke-linecap="round" fill="none"/><path d="M335.0 342.3h0" stroke="#5fa0d1" stroke-width="3.00" stroke-linecap="round" fill="none"/><path d="M335.5 342.3h0" stroke="#60a0d1" stroke-width="3.00" stroke-linecap="round" fill="none"/><path d="M336.0 342.3h0" stroke="#60a1d1" stroke-width="3.00" stroke-linecap="round" fill="none"/><path d="M336.5 342.3h0M337.0 342.3h0" stroke="#61a1d1" stroke-width="3.00" stroke-linecap="round" fill="none"/><path d="M337.5 342.3h0" stroke="#62a2d1" stroke-width="3.00" stroke-linecap="round" fill="none"/><path d="M338.0 342.3h0" stroke="#62a2d2" stroke-width="3.00" stroke-linecap="round" fill="none"/><path d="M338.5 342.3h0" stroke="#63a2d2" stroke-width="3.00" stroke-linecap="round" fill="none"/><path d="M339.0 342.3h0M339.5 342.3h0" stroke="#64a3d2" stroke-width="3.00" stroke-linecap="round" fill="none"/><path d="M340.0 342.3h0M340.5 342.3h0" stroke="#65a4d2" stroke-width="3.00" stroke-linecap="round" fill="none"/><path d="M341.0 342.3h0" stroke="#66a4d3" stroke-width="3.00" stroke-linecap="round" fill="none"/><path d="M341.5 342.3h0" stroke="#66a5d3" stroke-width="3.00" stroke-linecap="round" fill="none"/><path d="M342.0 342.3h0" stroke="#67a5d3" stroke-width="3.00" stroke-linecap="round" fill="none"/><path d="M342.5 342.3h0" stroke="#67a6d3" stroke-width="3.00" stroke-linecap="round" fill="none"/><path d="M343.0 342.3h0M343.5 342.3h0" stroke="#68a6d3" stroke-width="3.00" stroke-linecap="round" fill="none"/><path d="M344.0 342.3h0" stroke="#69a7d3" stroke-width="3.00" stroke-linecap="round" fill="none"/><path d="M344.5 342.3h0" stroke="#69a7d4" stroke-width="3.00" stroke-linecap="round" fill="none"/><path d="M345.0 342.3h0" stroke="#6aa7d4" stroke-width="3.00" stroke-linecap="round" fill="none"/><path d="M345.5 342.3h0" stroke="#6aa8d4" stroke-width="3.00" stroke-linecap="round" fill="none"/><path d="M346.0 342.3h0" stroke="#6ba8d4" stroke-width="3.00" stroke-linecap="round" fill="none"/><path d="M346.5 342.3h0" stroke="#6ba9d4" stroke-width="3.00" stroke-linecap="round" fill="none"/><path d="M347.0 342.3h0" stroke="#6ca9d4" stroke-width="3.00" stroke-linecap="round" fill="none"/><path d="M347.5 342.3h0" stroke="#6da9d5" stroke-width="3.00" stroke-linecap="round" fill="none"/><path d="M348.0 342.3h0" stroke="#6daad5" stroke-width="3.00" stroke-linecap="round" fill="none"/><path d="M348.5 342.3h0M349.0 342.3h0" stroke="#6eaad5" stroke-width="3.00" stroke-linecap="round" fill="none"/><path d="M349.5 342.3h0M350.0 342.3h0" stroke="#6fabd5" stroke-width="3.00" stroke-linecap="round" fill="none"/><path d="M350.5 342.3h0M351.0 342.3h0" stroke="#70acd6" stroke-width="3.00" stroke-linecap="round" fill="none"/><path d="M351.5 342.3h0" stroke="#71acd6" stroke-width="3.00" stroke-linecap="round" fill="none"/><path d="M352.0 342.3h0" stroke="#71add6" stroke-width="3.00" stroke-linecap="round" fill="none"/><path d="M352.5 342.3h0M353.0 342.3h0" stroke="#72add6" stroke-width="3.00" stroke-linecap="round" fill="none"/><path d="M353.5 342.3h0M354.0 342.3h0" stroke="#73aed7" stroke-width="3.00" stroke-linecap="round" fill="none"/><path d="M354.5 342.3h0M355.0 342.3h0" stroke="#74afd7" stroke-width="3.00" stroke-linecap="round" fill="none"/><path d="M355.5 342.3h0" stroke="#75afd7" stroke-width="3.00" stroke-linecap="round" fill="none"/><path d="M356.0 342.3h0M356.5 342.3h0" stroke="#76b0d7" stroke-width="3.00" stroke-linecap="round" fill="none"/><path d="M357.0 342.3h0M357.5 342.3h0" stroke="#77b1d8" stroke-width="3.00" stroke-linecap="round" fill="none"/><path d="M358.0 342.3h0" stroke="#78b1d8" stroke-width="3.00" stroke-linecap="round" fill="none"/><path d="M358.5 342.3h0" stroke="#78b2d8" stroke-width="3.00" stroke-linecap="round" fill="none"/><path d="M359.0 342.3h0M359.5 342.3h0" stroke="#79b2d8" stroke-width="3.00" stroke-linecap="round" fill="none"/><path d="M360.0 342.3h0M360.5 342.3h0" stroke="#7ab3d9" stroke-width="3.00" stroke-linecap="round" fill="none"/><path d="M361.0 342.3h0M361.5 342.3h0" stroke="#7bb4d9" stroke-width="3.00" stroke-linecap="round" fill="none"/><path d="M362.0 342.3h0" stroke="#7cb4d9" stroke-width="3.00" stroke-linecap="round" fill="none"/><path d="M362.5 342.3h0" stroke="#7cb5d9" stroke-width="3.00" stroke-linecap="round" fill="none"/><path d="M363.0 342.3h0" stroke="#7db5da" stroke-width="3.00" stroke-linecap="round" fill="none"/><path d="M363.5 342.3h0" stroke="#7eb5da" stroke-width="3.00" stroke-linecap="round" fill="none"/><path d="M364.0 342.3h0" stroke="#7eb6da" stroke-width="3.00" stroke-linecap="round" fill="none"/><path d="M364.5 342.3h0" stroke="#7fb6da" stroke-width="3.00" stroke-linecap="round" fill="none"/><path d="M365.0 342.3h0" stroke="#7fb7da" stroke-width="3.00" stroke-linecap="round" fill="none"/><path d="M365.5 342.3h0" stroke="#80b7da" stroke-width="3.00" stroke-linecap="round" fill="none"/><path d="M366.0 342.3h0" stroke="#80b7db" stroke-width="3.00" stroke-linecap="round" fill="none"/><path d="M366.5 342.3h0M367.0 342.3h0" stroke="#81b8db" stroke-width="3.00" stroke-linecap="round" fill="none"/><path d="M367.5 342.3h0" stroke="#82b8db" stroke-width="3.00" stroke-linecap="round" fill="none"/><path d="M368.0 342.3h0" stroke="#82b9db" stroke-width="3.00" stroke-linecap="round" fill="none"/><path d="M368.5 342.3h0" stroke="#83b9db" stroke-width="3.00" stroke-linecap="round" fill="none"/><path d="M369.0 342.3h0" stroke="#83badb" stroke-width="3.00" stroke-linecap="round" fill="none"/><path d="M369.5 342.3h0M370.0 342.3h0" stroke="#84badc" stroke-width="3.00" stroke-linecap="round" fill="none"/><path d="M370.5 342.3h0M371.0 342.3h0" stroke="#85bbdc" stroke-width="3.00" stroke-linecap="round" fill="none"/><path d="M371.5 342.3h0" stroke="#86bcdc" stroke-width="3.00" stroke-linecap="round" fill="none"/><path d="M372.0 342.3h0" stroke="#87bcdc" stroke-width="3.00" stroke-linecap="round" fill="none"/><path d="M372.5 342.3h0" stroke="#87bcdd" stroke-width="3.00" stroke-linecap="round" fill="none"/><path d="M373.0 342.3h0M373.5 342.3h0" stroke="#88bddd" stroke-width="3.00" stroke-linecap="round" fill="none"/><path d="M374.0 342.3h0" stroke="#89bddd" stroke-width="3.00" stroke-linecap="round" fill="none"/><path d="M374.5 342.3h0" stroke="#89bedd" stroke-width="3.00" stroke-linecap="round" fill="none"/><path d="M375.0 342.3h0" stroke="#8abedd" stroke-width="3.00" stroke-linecap="round" fill="none"/><path d="M375.5 342.3h0" stroke="#8abfde" stroke-width="3.00" stroke-linecap="round" fill="none"/><path d="M376.0 342.3h0M376.5 342.3h0" stroke="#8bbfde" stroke-width="3.00" stroke-linecap="round" fill="none"/><path d="M377.0 342.3h0M377.5 342.3h0" stroke="#8cc0de" stroke-width="3.00" stroke-linecap="round" fill="none"/><path d="M378.0 342.3h0" stroke="#8dc0de" stroke-width="3.00" stroke-linecap="round" fill="none"/><path d="M378.5 342.3h0" stroke="#8dc1df" stroke-width="3.00" stroke-linecap="round" fill="none"/><path d="M379.0 342.3h0" stroke="#8ec1df" stroke-width="3.00" stroke-linecap="round" fill="none"/><path d="M379.5 342.3h0" stroke="#8ec2df" stroke-width="3.00" stroke-linecap="round" fill="none"/><path d="M380.0 342.3h0M380.5 342.3h0M381.0 342.3h0M381.5 342.3h0M382.0 342.3h0" stroke="#8fc2df" stroke-width="3.00" stroke-linecap="round" fill="none"/><path d="M382.5 342.3h0M383.0 342.3h0M383.5 342.3h0" stroke="#90c2df" stroke-width="3.00" stroke-linecap="round" fill="none"/><path d="M384.0 342.3h0M384.5 342.3h0M385.0 342.3h0M385.5 342.3h0M386.0 342.3h0" stroke="#90c3df" stroke-width="3.00" stroke-linecap="round" fill="none"/><path d="M386.5 342.3h0" stroke="#91c3df" stroke-width="3.00" stroke-linecap="round" fill="none"/><path d="M387.0 342.3h0M387.5 342.3h0M388.0 342.3h0M388.5 342.3h0M389.0 342.3h0M389.5 342.3h0M390.0 342.3h0" stroke="#91c3e0" stroke-width="3.00" stroke-linecap="round" fill="none"/><path d="M390.5 342.3h0" stroke="#92c3e0" stroke-width="3.00" stroke-linecap="round" fill="none"/><path d="M391.0 342.3h0M391.5 342.3h0M392.0 342.3h0M392.5 342.3h0M393.0 342.3h0M393.5 342.3h0M394.0 342.3h0" stroke="#92c4e0" stroke-width="3.00" stroke-linecap="round" fill="none"/><path d="M394.5 342.3h0M395.0 342.3h0M395.5 342.3h0M396.0 342.3h0M396.5 342.3h0M397.0 342.3h0M397.5 342.3h0M398.0 342.3h0" stroke="#93c4e0" stroke-width="3.00" stroke-linecap="round" fill="none"/><path d="M398.5 342.3h0" stroke="#93c5e0" stroke-width="3.00" stroke-linecap="round" fill="none"/><path d="M399.0 342.3h0M399.5 342.3h0" stroke="#94c5e0" stroke-width="3.00" stroke-linecap="round" fill="none"/><path d="M400.0 342.3h0M400.5 342.3h0M401.0 342.3h0M401.5 342.3h0M402.0 342.3h0M402.5 342.3h0" stroke="#94c5e1" stroke-width="3.00" stroke-linecap="round" fill="none"/><path d="M403.0 342.3h0M403.5 342.3h0M404.0 342.3h0M404.5 342.3h0M405.0 342.3h0M405.5 342.3h0" stroke="#95c5e1" stroke-width="3.00" stroke-linecap="round" fill="none"/><path d="M406.0 342.3h0M406.5 342.3h0" stroke="#95c6e1" stroke-width="3.00" stroke-linecap="round" fill="none"/><path d="M407.0 342.3h0M407.5 342.3h0M408.0 342.3h0M408.5 342.3h0M409.0 342.3h0M409.5 342.3h0M410.0 342.3h0M410.5 342.3h0" stroke="#96c6e1" stroke-width="3.00" stroke-linecap="round" fill="none"/><path d="M411.0 342.3h0M411.5 342.3h0M412.0 342.3h0M412.5 342.3h0" stroke="#97c6e1" stroke-width="3.00" stroke-linecap="round" fill="none"/><path d="M413.0 342.3h0" stroke="#97c6e2" stroke-width="3.00" stroke-linecap="round" fill="none"/><path d="M413.5 342.3h0M414.0 342.3h0M414.5 342.3h0M415.0 342.3h0" stroke="#97c7e2" stroke-width="3.00" stroke-linecap="round" fill="none"/><path d="M415.5 342.3h0M416.0 342.3h0M416.5 342.3h0M417.0 342.3h0M417.5 342.3h0M418.0 342.3h0M418.5 342.3h0M419.0 342.3h0" stroke="#98c7e2" stroke-width="3.00" stroke-linecap="round" fill="none"/><path d="M419.5 342.3h0M420.0 342.3h0" stroke="#99c7e2" stroke-width="3.00" stroke-linecap="round" fill="none"/><path d="M420.5 342.3h0M421.0 342.3h0M421.5 342.3h0M422.0 342.3h0M422.5 342.3h0M423.0 342.3h0" stroke="#99c8e2" stroke-width="3.00" stroke-linecap="round" fill="none"/><path d="M423.5 342.3h0M424.0 342.3h0M424.5 342.3h0M425.0 342.3h0M425.5 342.3h0M426.0 342.3h0" stroke="#9ac8e2" stroke-width="3.00" stroke-linecap="round" fill="none"/><path d="M426.5 342.3h0M427.0 342.3h0" stroke="#9ac8e3" stroke-width="3.00" stroke-linecap="round" fill="none"/><path d="M427.5 342.3h0" stroke="#9bc8e3" stroke-width="3.00" stroke-linecap="round" fill="none"/><path d="M428.0 342.3h0M428.5 342.3h0M429.0 342.3h0M429.5 342.3h0M430.0 342.3h0M430.5 342.3h0M431.0 342.3h0M431.5 342.3h0" stroke="#9bc9e3" stroke-width="3.00" stroke-linecap="round" fill="none"/><path d="M432.0 342.3h0M432.5 342.3h0M433.0 342.3h0M433.5 342.3h0M434.0 342.3h0M434.5 342.3h0" stroke="#9cc9e3" stroke-width="3.00" stroke-linecap="round" fill="none"/><path d="M435.0 342.3h0M435.5 342.3h0" stroke="#9ccae3" stroke-width="3.00" stroke-linecap="round" fill="none"/><path d="M436.0 342.3h0M436.5 342.3h0M437.0 342.3h0M437.5 342.3h0M438.0 342.3h0M438.5 342.3h0M439.0 342.3h0" stroke="#9dcae3" stroke-width="3.00" stroke-linecap="round" fill="none"/><path d="M439.5 342.3h0" stroke="#9dcae4" stroke-width="3.00" stroke-linecap="round" fill="none"/><path d="M440.0 342.3h0M440.5 342.3h0M441.0 342.3h0M441.5 342.3h0M442.0 342.3h0" stroke="#9ecae4" stroke-width="3.00" stroke-linecap="round" fill="none"/><path d="M442.5 342.3h0M443.0 342.3h0M443.5 342.3h0" stroke="#9ecbe4" stroke-width="3.00" stroke-linecap="round" fill="none"/><path d="M444.0 342.3h0M444.5 342.3h0M445.0 342.3h0M445.5 342.3h0" stroke="#9fcbe4" stroke-width="3.00" stroke-linecap="round" fill="none"/>
<line x1="269.3" y1="350.4" x2="453.6" y2="165.7" stroke="#4d4d4d" stroke-width="1" stroke-dasharray="3.1,2.3"/>
<path d="M499.4,165.7 L499.4,350.4 L683.7,350.4" fill="none" stroke="#8a8a8a" stroke-width="0.9"/>
<line x1="494.09999999999997" y1="342.50" x2="499.4" y2="342.50" stroke="#8a8a8a" stroke-width="0.9"/>
<text x="493.00" y="345.40" font-size="8" text-anchor="end" font-weight="normal" font-style="normal" fill="#6e6e6e" >0</text>
<line x1="507.90" y1="350.4" x2="507.90" y2="355.6" stroke="#8a8a8a" stroke-width="0.9"/>
<text x="507.90" y="364.00" font-size="8" text-anchor="middle" font-weight="normal" font-style="normal" fill="#6e6e6e" >0</text>
<line x1="494.09999999999997" y1="258.50" x2="499.4" y2="258.50" stroke="#8a8a8a" stroke-width="0.9"/>
<text x="493.00" y="261.40" font-size="8" text-anchor="end" font-weight="normal" font-style="normal" fill="#6e6e6e" >10</text>
<line x1="591.90" y1="350.4" x2="591.90" y2="355.6" stroke="#8a8a8a" stroke-width="0.9"/>
<text x="591.90" y="364.00" font-size="8" text-anchor="middle" font-weight="normal" font-style="normal" fill="#6e6e6e" >10</text>
<line x1="494.09999999999997" y1="174.50" x2="499.4" y2="174.50" stroke="#8a8a8a" stroke-width="0.9"/>
<text x="493.00" y="177.40" font-size="8" text-anchor="end" font-weight="normal" font-style="normal" fill="#6e6e6e" >100</text>
<line x1="675.90" y1="350.4" x2="675.90" y2="355.6" stroke="#8a8a8a" stroke-width="0.9"/>
<text x="675.90" y="364.00" font-size="8" text-anchor="middle" font-weight="normal" font-style="normal" fill="#6e6e6e" >100</text>
<text x="591.20" y="158.70" font-size="8.5" text-anchor="middle" font-weight="bold" font-style="normal" fill="#1a1a1a" letter-spacing="0.55">RNA004</text>
<text x="590.90" y="168.80" font-size="8.7" text-anchor="middle" font-weight="normal" font-style="normal" fill="#333" >Dorado m6A_all_context</text>
<text x="0" y="0" font-size="8.6" text-anchor="middle" fill="#333" transform="translate(478.7,256.8) rotate(-90)"><tspan font-style="italic">Mettl3</tspan> KO (%)</text>
<text x="590.90" y="375.20" font-size="9.2" text-anchor="middle" font-weight="normal" font-style="normal" fill="#333" >WT (%)</text>
<path d="M514.7 316.2h0M550.1 245.3h0M516.2 302.6h0M524.7 291.3h0M607.4 266.3h0M630.3 221.5h0M649.6 203.3h0M581.2 250.9h0M633.8 227.9h0M639.3 221.6h0M534.8 278.2h0M608.3 231.8h0M546.9 262.3h0M645.4 210.3h0M604.6 232.7h0M537.5 336.9h0M584.4 247.9h0M578.8 239.4h0M527.4 336.5h0M569.1 259.6h0M578.6 311.0h0M616.2 252.1h0M571.4 254.4h0M640.3 198.6h0M618.2 254.6h0M599.3 278.8h0M660.1 191.8h0M528.8 280.8h0M613.6 237.3h0M523.0 335.6h0M618.1 245.3h0M645.7 201.8h0M608.0 262.9h0M636.7 225.3h0M591.9 293.9h0M590.4 301.3h0M646.2 211.7h0M631.7 238.9h0M558.8 262.7h0M653.3 195.6h0M581.6 321.7h0M584.7 296.9h0M515.2 312.9h0M626.7 219.5h0M554.0 336.7h0M528.8 338.4h0M586.2 249.5h0M557.7 265.7h0M605.4 283.2h0M607.6 227.4h0M574.2 317.8h0M616.0 278.9h0M600.7 284.6h0M514.8 297.3h0M548.7 270.8h0M633.0 247.7h0M619.4 231.0h0M561.4 332.9h0M626.6 219.7h0M597.7 244.0h0M513.6 325.6h0M638.2 245.8h0M632.2 238.5h0M628.2 219.4h0M551.5 336.9h0M578.0 304.0h0M587.6 235.7h0M551.5 331.0h0M527.7 292.3h0M560.3 256.0h0M546.4 265.2h0M602.9 279.3h0M603.1 280.0h0M526.1 283.7h0M644.6 205.4h0M571.6 250.8h0M605.3 238.1h0M585.1 300.4h0M605.4 273.1h0M583.7 303.0h0M602.2 278.2h0M616.6 220.7h0M548.8 267.7h0M513.9 319.6h0M595.9 294.1h0M622.0 235.6h0M554.7 262.5h0M559.6 268.7h0M618.9 234.3h0M584.4 301.7h0M557.9 268.4h0M568.8 235.7h0M625.4 220.6h0M571.9 260.2h0M601.2 237.1h0M609.5 237.9h0M593.1 247.7h0M590.0 288.9h0M607.4 274.7h0M570.5 317.2h0M519.3 298.9h0M569.4 325.4h0M614.8 246.3h0M626.9 253.1h0M585.2 310.4h0M597.2 282.2h0M606.4 291.8h0M621.7 231.2h0M575.4 312.3h0M649.1 200.5h0M590.8 287.7h0M613.5 268.8h0M619.9 228.7h0M516.4 277.1h0M589.4 296.5h0M526.0 284.1h0M576.3 247.2h0M562.1 334.0h0M620.8 226.6h0M560.1 267.7h0M606.8 261.2h0M641.2 218.9h0M587.3 229.8h0M653.5 207.8h0M612.7 257.4h0M577.2 250.1h0M514.7 312.0h0M591.4 291.3h0M638.5 219.2h0M570.4 247.5h0M622.0 201.8h0M590.9 293.6h0M585.2 249.0h0M520.1 299.1h0M613.3 238.2h0M611.7 237.2h0M621.3 237.0h0M645.4 189.4h0M567.8 260.6h0M605.6 240.4h0M615.8 241.1h0M628.5 227.4h0M558.7 330.7h0M650.5 198.4h0M625.2 244.3h0M514.4 322.5h0M616.8 253.7h0M615.8 248.9h0M585.0 244.6h0M587.3 299.1h0M580.9 252.3h0M604.1 278.8h0M654.9 201.6h0M614.0 236.0h0M570.9 314.1h0M544.5 334.4h0M550.8 264.6h0M584.8 254.2h0M619.9 239.6h0M640.3 204.1h0M624.9 222.3h0M544.1 273.2h0M627.3 230.4h0M626.0 214.7h0M623.7 241.2h0M615.2 252.5h0M529.4 338.2h0M553.0 267.9h0M555.1 260.3h0M650.9 209.8h0M637.7 198.7h0M602.8 238.4h0M592.3 290.2h0M552.8 259.0h0M556.2 266.3h0M541.1 335.2h0M624.2 242.3h0M544.3 264.8h0M626.7 230.7h0M596.0 301.7h0M562.2 260.8h0M637.3 206.5h0M582.1 312.8h0M565.3 335.4h0M586.8 236.6h0M596.8 242.5h0M624.8 246.5h0M545.0 273.6h0M587.7 249.9h0M573.2 259.0h0M626.3 226.0h0M576.7 311.8h0M526.3 336.5h0M622.6 227.5h0M616.7 247.0h0M567.8 256.0h0M604.2 267.8h0M634.1 213.9h0M544.3 334.3h0M615.3 250.5h0M572.0 255.9h0M567.2 319.0h0M573.6 318.2h0M638.6 209.2h0M536.8 336.5h0M562.5 324.2h0M603.3 279.0h0M589.7 295.8h0M567.6 251.8h0M646.1 227.5h0M558.8 265.4h0M634.9 217.1h0M568.1 259.3h0M577.2 254.5h0M577.9 314.1h0M516.9 334.8h0M597.1 289.7h0M624.9 236.0h0M629.4 239.5h0M604.6 266.4h0M519.0 331.2h0M617.3 233.7h0M626.3 222.7h0M557.0 257.2h0M523.9 337.8h0M515.2 307.7h0M550.4 271.4h0M645.3 206.7h0M640.2 228.1h0M602.3 232.1h0M540.7 334.9h0M519.0 330.7h0M572.7 251.9h0M589.6 244.6h0M593.9 290.5h0M561.4 327.0h0M586.7 247.2h0M575.1 316.7h0M588.0 298.1h0M650.6 195.5h0M650.7 195.6h0M602.3 272.8h0M515.8 298.9h0M645.9 206.5h0M614.6 237.6h0M615.4 237.2h0M632.4 217.7h0M658.2 203.2h0M546.4 273.6h0M592.5 245.0h0M632.1 247.4h0M603.2 239.0h0M602.0 276.3h0M629.2 215.1h0M554.9 331.3h0M586.4 292.6h0M614.5 248.1h0M607.6 262.1h0M572.9 318.3h0M548.3 275.0h0M522.6 295.7h0M632.9 224.9h0M652.5 196.1h0M643.5 200.5h0M582.2 299.4h0M571.5 247.0h0M522.6 292.9h0M547.3 332.7h0M645.7 224.9h0M656.7 200.0h0M569.0 246.8h0M643.5 192.3h0M640.9 227.4h0M616.2 271.0h0M551.8 337.2h0M640.6 239.4h0M533.2 337.4h0M612.1 237.3h0M592.4 293.7h0M556.1 329.0h0M595.1 279.8h0M649.1 202.6h0M609.8 255.7h0M557.0 256.7h0M638.2 217.8h0M632.8 233.1h0M515.4 317.1h0M610.8 277.3h0M629.0 218.5h0M626.2 224.4h0M557.5 331.4h0M558.2 252.7h0M550.9 269.7h0M543.3 335.4h0M579.0 251.2h0M572.0 317.4h0M601.3 238.7h0M615.5 233.4h0M627.1 228.9h0M636.1 229.5h0M606.1 270.2h0M642.0 236.5h0M605.9 236.1h0M635.8 222.0h0M619.9 251.6h0M635.4 200.0h0M534.9 265.4h0M545.4 271.7h0M515.5 302.4h0M516.0 334.0h0M521.1 294.7h0M558.5 334.0h0M592.8 298.5h0M606.5 272.2h0M514.9 312.7h0M515.1 315.6h0M546.8 334.6h0M555.0 240.9h0M658.2 203.1h0M523.5 283.1h0M524.6 293.9h0M549.1 269.7h0M527.5 338.6h0M582.3 300.1h0M577.6 303.2h0M537.2 279.4h0M573.6 255.7h0M635.5 216.7h0M554.4 329.5h0M633.6 204.7h0M640.2 249.3h0M644.9 216.0h0M551.8 334.4h0M645.0 214.3h0M624.3 238.5h0M582.2 314.1h0M558.6 332.5h0M611.2 258.5h0M608.8 228.5h0M557.4 255.9h0M557.8 252.5h0M619.3 237.8h0M597.0 290.9h0M628.2 223.5h0M644.6 218.4h0M534.6 278.4h0M635.1 215.4h0M624.9 256.7h0M603.8 271.8h0M554.8 266.6h0M574.9 247.2h0M548.3 333.9h0M546.1 276.2h0M606.5 280.2h0M518.2 302.4h0M570.5 316.9h0M527.3 286.2h0M611.7 261.0h0M552.9 330.2h0M518.9 287.2h0M612.9 262.0h0M599.5 278.7h0M551.2 330.4h0M614.8 244.1h0M570.6 326.6h0M644.4 203.1h0M580.9 303.1h0M541.6 268.3h0M588.5 299.0h0M643.3 232.8h0M635.5 224.7h0M615.5 265.6h0M515.1 318.5h0M541.3 266.0h0M520.4 293.7h0M574.8 313.6h0M568.5 249.5h0M622.1 244.0h0M583.4 309.1h0M604.6 240.2h0M568.0 319.7h0M602.2 292.1h0M584.8 305.2h0M622.0 254.8h0M585.3 308.3h0M653.7 191.2h0M579.0 305.3h0M650.8 219.2h0M648.2 218.4h0M634.9 224.6h0M577.9 309.5h0M642.1 213.9h0M589.2 301.0h0M640.0 201.3h0M638.0 218.8h0M628.9 238.1h0M605.9 242.1h0M519.1 334.2h0M632.4 229.4h0M602.1 223.4h0M548.5 335.8h0M568.1 331.6h0M578.1 252.7h0M514.8 300.5h0M586.7 301.8h0M647.6 198.3h0M550.4 337.9h0M637.9 211.7h0M613.2 251.6h0M520.1 264.9h0M632.0 234.5h0M616.8 236.1h0M580.6 303.1h0M606.7 241.4h0M609.8 259.2h0M590.0 303.8h0M544.5 332.6h0M584.2 306.8h0M643.4 207.2h0M515.9 313.1h0M568.4 248.2h0M525.9 335.4h0M603.4 229.3h0M520.3 333.3h0M572.5 255.1h0M585.4 252.4h0M514.9 321.3h0M524.9 336.6h0M563.1 261.9h0M572.8 313.8h0M605.3 277.3h0M634.8 218.8h0M590.9 243.4h0M607.7 273.8h0M634.6 228.7h0M569.8 255.3h0M605.0 270.0h0M617.8 255.1h0M573.0 313.7h0M609.1 265.7h0M562.7 258.0h0M648.3 205.9h0M590.1 293.7h0M589.0 247.6h0M640.3 219.1h0M549.3 334.0h0M635.5 240.4h0M620.3 233.9h0M651.3 220.6h0M617.1 241.2h0M580.5 246.2h0M574.2 247.2h0M613.2 233.6h0M632.3 242.6h0M525.4 289.6h0M598.4 291.9h0M521.1 293.2h0M548.5 265.2h0M517.2 302.3h0M618.7 253.3h0M620.7 247.6h0M595.3 296.6h0M619.3 236.0h0M612.4 225.1h0M514.5 327.3h0M600.9 286.9h0M515.4 322.7h0M519.5 292.3h0M601.8 272.8h0M620.4 240.9h0M586.2 250.3h0M625.1 238.1h0M630.7 213.4h0M602.6 281.4h0M577.5 307.1h0M624.2 240.0h0M517.5 283.0h0M578.6 257.3h0M515.9 319.8h0M520.0 333.6h0M634.6 224.5h0M646.6 212.0h0M631.7 245.8h0M585.8 306.4h0M517.0 297.2h0M515.7 299.5h0M647.0 222.1h0M559.1 336.4h0M641.2 213.6h0M628.5 239.6h0M618.6 244.0h0M609.1 286.1h0M663.0 191.9h0M631.5 223.3h0M644.3 219.3h0M529.8 266.5h0M612.1 287.2h0M569.8 332.2h0M618.1 250.2h0M628.2 227.8h0M560.2 252.9h0M573.7 308.6h0M623.9 227.5h0M619.0 233.9h0M524.2 338.7h0M582.3 250.8h0M547.2 265.9h0M651.5 212.6h0M540.1 280.7h0M627.6 230.4h0M644.5 223.6h0M565.1 331.5h0M581.3 231.7h0M550.8 271.2h0M619.8 251.8h0M613.5 224.4h0M590.2 238.9h0M588.8 305.7h0M609.4 241.3h0M628.8 222.8h0M634.7 250.5h0M635.0 220.6h0M601.1 241.7h0M516.2 317.1h0M583.5 247.8h0M604.2 283.4h0M546.1 266.8h0M541.5 271.3h0M544.4 273.0h0M595.2 283.6h0M610.4 220.4h0M644.8 191.3h0M570.8 319.2h0M608.2 266.8h0M620.8 215.8h0M538.2 337.7h0M625.2 242.0h0M521.5 286.0h0M630.6 222.6h0M513.9 325.1h0M555.0 337.7h0M581.1 253.2h0M522.9 335.6h0M536.0 336.9h0M627.5 231.7h0M621.0 229.9h0M616.0 245.6h0M602.3 241.7h0M643.2 219.0h0M553.5 262.0h0M607.9 234.1h0M610.8 256.7h0M584.4 311.8h0M651.4 206.8h0M613.3 246.0h0M568.7 260.9h0M616.6 226.9h0M628.6 229.6h0M564.9 324.6h0M601.8 235.8h0M630.4 212.3h0M513.4 309.1h0M619.3 234.0h0M543.1 273.7h0M556.9 328.2h0M581.1 244.8h0M529.8 281.9h0M580.7 300.9h0M607.5 229.6h0M577.6 249.2h0M590.2 247.1h0M530.3 283.7h0M630.5 224.2h0M588.5 245.0h0M592.2 288.7h0M526.8 276.8h0M633.7 211.3h0M631.5 231.4h0M536.6 336.5h0M596.0 296.0h0M612.5 257.4h0M599.5 279.6h0M532.9 282.9h0M578.2 302.6h0M551.6 271.1h0M609.5 264.4h0M573.7 326.4h0M604.0 276.1h0M589.6 300.6h0M516.1 308.7h0M581.0 246.9h0M574.2 255.0h0M576.4 313.1h0M626.2 210.1h0M645.4 226.5h0M639.8 243.9h0M613.0 232.8h0M590.8 238.0h0M532.8 280.0h0M607.1 277.4h0M621.6 232.5h0M636.0 270.1h0M597.6 284.3h0M586.2 324.0h0M542.5 271.8h0M560.2 262.6h0M564.4 246.3h0M529.9 285.2h0M616.3 224.9h0M600.7 285.2h0M620.4 242.5h0M645.6 207.7h0M522.2 293.1h0M593.4 282.8h0M573.6 254.9h0M634.6 232.5h0M593.3 246.7h0M592.6 290.9h0M580.8 301.6h0M566.1 259.0h0M566.3 337.7h0M515.8 298.8h0M514.0 308.6h0M602.2 238.5h0M529.6 339.1h0M641.9 217.5h0M570.0 253.3h0M604.2 241.5h0M543.9 338.6h0M600.6 232.0h0M613.2 271.8h0M644.0 217.7h0M579.9 297.0h0M577.2 301.4h0M628.1 215.2h0M582.2 251.2h0M619.9 247.7h0M601.9 276.5h0M580.2 307.4h0M539.4 281.0h0M622.3 231.1h0M598.9 284.5h0M633.3 228.0h0M517.9 334.0h0M609.7 241.1h0M612.1 258.0h0M544.0 334.4h0M515.4 308.6h0M580.2 315.4h0M556.4 332.5h0M640.8 196.0h0M656.9 194.1h0M543.3 264.9h0M645.9 219.7h0M626.3 258.3h0M573.1 252.7h0M533.5 275.9h0M644.6 194.5h0M594.9 238.7h0M586.5 291.3h0M575.1 315.4h0M529.7 286.8h0M576.5 314.0h0M602.4 284.9h0M656.8 207.9h0M594.2 246.2h0M524.9 292.1h0M588.2 293.9h0M610.1 257.1h0M570.8 324.3h0M608.3 233.0h0M599.5 281.2h0M580.6 306.1h0M602.4 284.8h0M606.6 263.2h0M584.2 307.3h0M598.4 280.4h0M519.2 284.1h0M527.7 282.1h0M620.1 209.3h0M552.4 254.1h0M620.5 246.9h0M653.2 195.7h0M572.5 249.2h0M633.2 236.3h0M656.1 200.8h0M550.2 270.2h0M580.2 246.2h0M577.2 306.2h0M644.1 213.6h0M658.0 193.8h0M570.4 258.2h0M567.1 246.0h0M644.3 213.7h0M607.2 288.2h0M613.2 242.8h0M617.7 209.5h0M607.1 282.1h0M565.3 326.0h0M601.1 276.7h0M548.0 335.7h0M536.3 276.8h0M539.9 335.5h0M601.3 237.2h0M573.5 320.5h0M518.5 330.9h0M561.6 258.9h0M562.0 325.5h0M633.2 206.1h0M541.4 336.6h0M568.0 330.8h0M542.5 277.6h0M610.2 260.0h0M591.6 295.3h0M533.3 273.7h0M525.3 283.3h0M563.2 266.2h0M555.4 267.2h0M528.4 337.9h0M614.1 248.3h0M641.7 219.3h0M521.3 297.2h0M630.5 233.0h0M595.5 233.7h0M642.7 227.5h0M553.2 267.1h0M618.9 245.4h0M586.1 305.4h0M546.9 335.0h0M534.2 337.3h0M565.7 318.9h0M593.0 315.9h0M567.0 259.0h0M514.9 297.3h0M617.9 243.9h0M654.7 193.2h0M648.2 212.5h0M579.3 253.8h0M524.6 281.7h0M610.7 236.6h0M587.4 246.9h0M567.9 261.1h0M655.7 193.4h0M565.3 321.4h0M579.9 299.3h0M557.2 329.7h0M616.5 259.8h0M523.6 336.0h0M531.7 282.1h0M549.5 269.8h0M515.3 319.2h0M619.7 224.3h0M579.5 311.6h0M570.9 247.7h0M514.5 314.1h0M614.2 243.6h0M558.9 262.3h0M627.3 229.0h0M570.2 318.1h0M602.3 275.8h0M620.6 228.9h0M538.5 256.4h0M561.5 267.8h0M528.6 276.5h0M522.5 333.3h0M536.9 266.9h0M570.9 333.8h0M541.8 276.9h0M648.0 204.2h0M633.4 222.7h0M642.6 199.0h0M614.8 235.2h0M645.2 215.4h0M517.8 330.7h0M584.4 245.7h0M637.1 227.0h0M587.1 300.8h0M571.4 315.6h0M567.9 257.1h0M650.8 203.8h0M626.5 219.3h0M652.0 210.9h0M600.0 237.1h0M548.0 272.7h0M632.8 229.5h0M535.3 277.5h0M522.1 291.1h0M517.7 296.4h0M588.9 293.4h0M641.9 218.2h0M586.0 301.1h0M593.2 246.0h0M584.7 304.2h0M658.7 193.8h0M580.5 248.9h0M580.8 307.8h0M641.6 233.6h0M548.1 265.8h0M602.2 241.3h0M615.3 233.6h0M606.7 235.7h0M651.2 202.8h0M586.3 327.3h0M628.4 245.6h0M602.3 280.5h0M552.0 261.9h0M516.0 328.3h0M532.2 336.0h0M555.4 332.0h0M597.5 237.3h0M593.4 294.0h0M536.7 339.3h0M560.9 263.6h0M555.6 331.6h0M578.8 312.8h0M592.1 300.4h0M556.9 329.6h0M607.7 290.9h0M656.0 205.7h0M587.0 295.4h0M619.3 253.4h0M547.9 273.3h0M605.1 296.9h0M633.0 215.8h0M618.6 258.7h0M656.4 203.5h0M541.7 276.6h0M518.9 337.0h0M570.1 318.9h0M594.7 300.7h0M612.1 235.9h0M557.5 329.0h0M641.5 223.6h0M634.8 216.6h0M629.9 251.3h0M570.5 261.3h0M576.5 315.7h0M635.9 238.9h0M640.7 210.3h0M570.9 315.8h0M634.2 234.1h0M566.6 325.4h0M548.1 336.2h0M604.3 230.6h0M600.7 240.7h0M613.6 237.9h0M608.3 232.5h0M598.1 240.1h0M600.9 288.4h0M573.6 255.5h0M612.3 235.5h0M580.5 238.0h0M579.1 247.5h0M555.6 261.6h0M597.2 316.6h0M547.5 334.4h0M600.7 277.8h0M623.3 234.8h0M558.9 327.5h0M613.6 226.0h0M543.4 334.9h0M529.2 276.7h0M634.7 233.6h0M537.8 336.6h0M621.5 243.7h0M563.5 325.6h0M550.4 338.3h0M542.5 338.7h0M576.5 310.0h0M590.5 248.2h0M603.6 224.7h0M636.9 228.5h0M658.2 205.5h0M576.2 251.5h0M546.3 278.1h0M626.3 226.2h0M595.8 282.7h0M630.4 213.4h0M562.0 324.0h0M551.8 268.0h0M551.0 258.7h0M647.5 200.2h0M547.5 337.4h0M621.0 217.3h0M546.8 335.9h0M617.5 268.7h0M620.1 228.1h0M554.9 258.8h0M614.0 251.5h0M644.8 188.0h0M538.3 337.7h0M566.7 255.8h0M617.4 250.4h0M603.6 241.2h0M550.1 264.8h0M560.3 267.9h0M622.2 235.6h0M526.4 291.7h0M629.5 216.9h0M642.8 214.6h0M553.6 260.9h0M515.9 335.0h0M610.7 255.4h0M630.0 216.9h0M579.6 310.9h0M664.3 196.2h0M630.4 246.2h0M617.5 235.8h0M610.6 256.8h0M525.0 287.9h0M627.0 236.5h0M550.9 330.6h0M644.2 211.7h0M635.2 205.9h0M566.0 261.2h0M646.3 248.3h0M597.5 279.3h0M640.0 208.6h0M613.1 254.0h0M613.1 237.4h0M611.1 255.2h0M645.3 204.0h0M643.0 206.6h0M582.1 312.9h0M610.1 267.7h0M617.7 239.8h0M643.7 210.3h0M614.1 244.4h0M618.3 226.7h0M621.4 271.3h0M619.0 253.8h0M629.5 227.8h0M563.7 323.9h0M525.2 337.7h0M567.8 315.0h0M652.2 197.7h0M640.5 228.1h0M633.1 210.8h0M586.1 309.5h0M539.4 337.8h0M610.3 235.1h0M556.0 337.8h0M527.7 337.9h0M595.7 235.4h0M524.8 287.1h0M513.0 334.0h0M568.7 327.2h0M580.0 312.3h0M654.0 206.1h0M583.1 295.0h0M620.8 236.7h0M528.9 335.8h0M594.5 290.5h0M594.0 281.7h0M609.6 256.5h0M621.3 244.9h0M633.1 230.8h0M527.8 336.6h0M573.5 317.1h0M599.7 234.9h0M589.4 245.9h0M559.5 263.4h0M576.4 248.4h0M577.8 239.6h0M551.3 336.8h0M631.9 229.3h0M587.9 246.3h0M557.4 265.8h0M576.3 316.4h0M619.0 245.2h0M631.7 244.5h0M634.6 212.6h0M515.1 311.4h0M514.1 323.1h0M589.6 242.4h0M614.4 272.6h0M583.7 251.2h0M628.1 247.9h0M625.8 233.3h0M536.1 280.6h0M623.0 220.6h0M617.7 217.0h0M622.1 267.8h0M542.0 278.4h0M584.5 252.6h0M576.9 252.2h0M639.9 217.2h0M606.5 240.5h0M599.0 281.4h0M550.1 335.9h0M571.3 246.9h0M624.4 223.8h0M613.6 261.0h0M515.5 321.7h0M572.0 312.6h0M642.0 211.6h0M620.4 233.6h0M513.2 323.4h0M598.6 277.8h0M629.8 232.4h0M547.1 264.9h0M541.0 264.9h0M604.0 270.6h0M549.2 274.6h0M569.8 333.3h0M561.1 331.0h0M636.5 218.1h0M631.8 216.4h0M567.2 319.2h0M562.6 324.5h0M565.1 325.2h0M580.3 254.4h0M632.7 220.2h0M590.0 247.3h0M624.6 225.4h0M643.1 210.4h0M601.6 237.2h0M619.9 234.0h0M635.8 225.8h0M588.6 247.4h0M617.4 240.5h0M610.1 225.5h0M598.9 276.9h0M587.9 302.5h0M589.8 240.6h0M556.9 326.6h0M589.2 234.7h0M514.3 298.9h0M625.3 258.1h0M512.8 310.4h0M595.1 292.1h0M578.3 306.6h0M636.3 220.2h0M628.8 224.6h0M515.9 318.0h0M613.9 256.1h0M604.4 232.6h0M617.5 233.4h0M628.2 258.1h0M624.3 232.3h0M570.1 317.2h0M633.4 213.1h0M518.4 302.1h0M629.8 226.9h0M539.7 276.0h0M666.5 199.4h0M576.8 301.7h0M647.1 207.4h0M607.5 263.2h0M567.5 325.4h0M619.3 255.6h0M595.2 239.7h0M610.3 241.5h0M600.2 282.4h0M646.0 225.7h0M632.6 229.9h0M631.8 242.3h0M533.3 263.9h0M513.5 312.5h0M573.9 249.1h0M597.6 281.1h0M519.5 295.9h0M584.8 245.6h0M593.8 239.1h0M596.9 290.7h0M617.7 250.6h0M605.7 276.9h0M651.1 203.9h0M530.0 265.9h0M619.6 240.2h0M637.1 201.1h0M629.2 246.6h0M608.8 264.3h0M524.7 338.4h0M608.2 281.3h0M657.5 210.1h0M587.4 302.6h0M626.8 242.8h0M616.6 248.6h0M600.8 285.4h0M543.0 334.3h0M647.3 222.9h0M614.1 247.0h0M577.1 316.4h0M571.5 316.1h0M603.9 267.4h0M627.1 215.0h0M535.8 272.3h0M629.2 226.6h0M621.7 245.1h0M593.2 299.0h0M579.5 246.0h0M607.8 220.9h0M585.6 309.2h0M532.0 272.5h0M593.4 302.0h0M529.4 284.1h0M614.2 236.7h0M606.1 270.6h0M626.7 215.8h0M570.3 317.8h0M520.3 337.3h0M641.2 221.8h0M613.8 258.3h0M615.8 248.6h0M617.2 259.8h0M642.2 226.2h0M597.9 302.7h0M616.8 228.9h0M584.2 250.6h0M576.9 315.1h0M520.3 292.4h0M590.7 299.0h0M631.2 235.1h0M525.8 336.5h0M583.3 299.6h0M573.5 322.3h0M611.6 280.1h0M595.2 280.5h0M534.1 338.4h0M525.3 293.7h0M592.0 232.6h0M606.1 235.3h0M658.8 194.1h0M617.0 230.8h0M527.8 291.3h0M634.6 218.7h0M606.7 272.9h0M628.6 218.8h0M586.8 237.5h0M536.7 337.7h0M516.4 312.3h0M632.1 220.3h0M582.1 238.2h0M549.2 266.8h0M570.1 258.7h0M608.9 268.6h0M641.8 216.7h0M615.4 257.4h0M617.7 210.0h0M631.3 226.9h0M570.7 247.0h0M527.4 292.6h0M622.2 228.6h0M584.1 254.0h0M516.4 304.5h0M520.7 292.9h0M619.0 239.5h0M558.3 329.0h0M622.9 258.8h0M593.0 241.5h0M559.5 267.1h0M627.6 213.2h0M580.0 252.6h0M554.1 266.1h0M632.9 230.7h0M516.3 331.0h0M634.9 203.7h0M515.7 326.0h0M534.4 281.4h0M556.0 241.2h0M557.9 254.0h0M527.0 284.2h0M657.3 195.8h0M615.7 261.4h0M570.1 257.1h0M556.6 336.8h0M533.9 278.6h0M658.4 203.7h0M613.5 251.1h0M524.4 270.5h0M571.0 329.5h0M570.1 317.2h0M585.6 249.6h0M597.2 279.9h0M608.1 273.7h0M594.7 233.1h0M582.3 304.6h0M531.1 336.3h0M612.7 233.8h0M624.4 253.4h0M621.6 256.6h0M562.9 330.7h0M518.3 335.7h0M583.8 302.3h0M618.8 254.4h0M611.4 222.8h0M650.3 201.7h0M551.6 333.8h0M597.6 286.1h0M598.3 282.3h0M586.4 292.3h0M561.6 325.2h0M523.7 287.2h0M550.7 272.1h0M598.9 239.5h0M634.1 238.9h0M638.3 235.6h0M573.2 254.6h0M627.0 224.1h0M636.9 215.7h0M544.0 337.6h0M624.6 242.2h0M611.9 266.1h0M546.8 337.0h0M655.6 221.0h0M638.6 239.2h0M610.4 259.1h0M512.5 301.9h0M582.8 249.8h0M641.0 216.6h0M573.5 317.1h0M604.2 282.3h0M531.2 337.4h0M662.0 192.6h0M658.6 195.4h0M628.1 234.3h0M589.5 300.0h0M544.4 333.6h0M574.1 253.9h0M629.8 223.2h0M594.1 245.1h0M628.1 213.0h0M592.2 290.8h0M625.2 223.5h0M538.6 279.6h0M622.2 249.3h0M586.0 239.2h0M550.6 335.3h0M647.3 206.5h0M617.7 241.5h0M567.9 262.4h0M637.0 205.6h0M519.6 276.8h0M520.6 293.3h0M513.9 326.1h0M513.0 309.7h0M590.3 289.6h0M605.5 271.9h0M575.5 257.2h0M556.0 335.1h0M658.8 201.7h0M550.6 261.9h0M636.1 204.8h0M541.9 270.8h0M537.3 275.8h0M577.1 304.5h0M560.0 264.6h0M625.5 217.6h0M595.9 215.3h0M578.6 308.0h0M536.3 276.8h0M589.1 244.4h0M638.2 208.0h0M574.0 254.0h0M603.2 238.6h0M580.9 300.9h0M614.2 238.9h0M598.9 232.9h0M616.0 223.3h0M592.1 247.7h0M577.9 317.7h0M590.5 242.7h0M605.2 269.0h0M600.0 289.5h0M580.1 298.2h0M631.2 235.2h0M655.8 198.6h0M627.7 229.7h0M613.1 222.7h0M617.0 245.0h0M574.9 256.1h0M614.0 255.7h0M546.4 275.7h0M604.2 277.8h0M564.2 327.4h0M618.8 229.4h0M621.7 232.5h0M570.3 333.4h0M596.4 299.3h0M532.3 280.2h0M513.3 336.4h0M584.1 306.2h0M599.1 277.1h0M578.3 307.7h0M571.4 318.1h0M611.0 270.3h0M637.5 210.3h0M619.1 223.3h0M635.4 218.0h0M610.9 267.9h0M641.6 213.2h0M637.8 223.8h0M618.2 258.0h0M597.4 298.4h0M648.6 219.7h0M514.5 316.9h0M605.2 238.6h0M614.7 237.5h0M622.1 231.1h0M604.3 287.4h0M616.5 261.3h0M566.7 250.4h0M517.7 330.2h0M561.6 262.4h0M582.5 247.5h0M625.1 230.6h0M630.3 214.6h0M576.6 320.7h0M622.9 234.3h0M609.0 229.5h0M589.5 248.0h0M656.8 200.7h0M543.5 275.4h0M605.9 267.8h0M629.0 219.1h0M630.4 223.1h0M628.8 244.2h0M536.7 336.7h0M623.0 254.6h0M627.2 252.5h0M586.0 303.5h0M623.2 273.2h0M650.4 202.3h0M595.2 239.0h0M655.9 201.9h0M618.5 214.2h0M524.3 287.9h0M534.1 335.5h0M579.5 299.6h0M568.0 329.5h0M645.3 235.3h0M649.7 191.9h0M657.7 221.3h0M550.3 255.4h0M627.5 247.1h0M646.5 203.4h0M588.4 242.9h0M611.6 239.6h0M569.7 262.8h0M636.4 212.9h0M605.5 236.7h0M598.5 243.3h0M609.1 236.5h0M609.4 241.6h0M527.9 338.8h0M617.4 254.3h0M597.1 280.0h0M582.4 312.4h0M597.8 240.2h0M618.1 236.4h0M573.3 252.1h0M522.8 292.0h0M513.6 322.8h0M598.6 285.8h0M611.3 235.8h0M586.0 304.9h0M557.2 333.8h0M514.1 301.0h0M601.0 273.1h0M531.7 338.0h0M620.3 220.8h0M538.2 335.8h0M641.3 210.8h0M605.2 282.1h0M515.5 319.1h0M608.9 241.1h0M624.0 240.0h0M516.1 313.7h0M556.7 261.2h0M582.1 301.7h0M546.0 333.6h0M631.7 220.0h0M612.4 271.9h0M623.0 225.8h0M526.0 286.4h0M566.9 256.4h0M625.3 244.3h0M565.4 328.7h0M599.6 244.7h0M641.1 226.1h0M625.8 251.8h0M616.4 234.2h0M594.3 244.0h0M578.5 308.7h0M515.5 313.5h0M586.2 295.2h0M614.3 253.5h0M552.0 330.6h0M627.5 231.5h0M540.1 336.5h0M601.8 295.0h0M530.8 336.5h0M642.3 204.6h0M531.3 276.9h0M519.4 333.1h0M602.5 234.5h0M545.5 263.5h0M520.6 289.6h0M657.3 212.6h0M619.7 230.1h0M660.4 197.2h0M586.7 301.2h0M618.9 221.6h0M511.5 304.2h0M590.8 297.2h0M594.5 290.4h0M589.9 295.8h0M568.9 261.0h0M558.1 263.9h0M588.8 288.9h0M590.4 240.8h0M545.1 275.0h0M527.7 273.9h0M633.3 210.7h0M526.7 338.2h0M589.1 298.7h0M613.2 227.3h0M516.5 312.7h0M614.7 221.7h0M643.8 211.6h0M613.2 225.5h0M619.9 231.2h0M604.5 270.0h0M568.5 320.1h0M546.9 268.5h0M534.6 339.3h0M601.9 273.7h0M606.2 286.9h0M624.4 236.8h0M581.9 245.8h0M567.2 257.1h0M538.7 280.7h0M609.8 256.2h0M619.2 239.2h0M515.8 314.6h0M592.6 237.5h0M623.0 258.0h0M578.4 246.8h0M639.9 217.8h0M627.6 245.7h0M575.0 322.2h0M565.8 232.1h0M646.2 212.1h0M575.4 250.3h0M567.1 263.2h0M627.5 234.5h0M644.2 212.1h0M595.4 284.4h0M604.7 241.4h0M600.2 276.7h0M633.1 219.7h0M620.0 254.2h0M590.4 244.8h0M517.3 298.0h0M575.6 243.5h0M650.7 194.5h0M518.9 330.3h0M546.4 259.7h0M573.1 325.4h0M563.2 266.3h0M655.2 186.4h0M645.5 226.2h0M564.6 329.6h0M631.6 225.1h0M634.2 230.0h0M528.3 336.0h0M616.6 242.0h0M527.5 286.3h0M563.9 255.4h0M519.8 296.3h0M519.4 336.7h0M586.3 290.8h0M513.5 319.0h0M589.4 290.9h0M553.7 334.0h0M558.6 263.2h0M625.3 215.3h0M632.4 218.1h0M515.4 331.5h0M633.3 226.2h0M540.5 277.1h0M547.0 271.1h0M605.3 267.9h0M552.4 330.0h0M519.1 331.3h0M640.9 203.4h0M564.0 324.2h0M614.0 222.4h0M616.3 247.3h0M591.9 290.8h0M588.0 238.4h0M661.0 202.1h0M570.9 321.6h0M643.2 199.9h0M562.4 262.9h0M522.3 289.1h0M600.3 235.4h0M622.6 229.6h0M625.0 229.5h0M527.2 290.4h0M619.3 210.0h0M569.3 325.9h0M567.2 260.3h0M573.4 311.7h0M600.9 239.5h0M604.6 298.7h0M583.7 245.3h0M619.5 244.6h0M590.5 288.7h0M578.4 303.2h0M558.6 327.7h0M654.0 194.3h0M584.6 295.7h0M566.6 261.5h0M524.3 294.3h0M531.6 338.2h0M632.5 224.3h0M584.4 246.4h0M610.1 233.9h0M627.7 221.3h0M659.7 207.5h0M614.9 231.6h0M611.1 224.1h0M515.6 310.7h0M529.1 286.8h0M642.4 227.8h0M606.3 241.8h0M589.6 292.8h0M582.5 298.6h0M588.2 299.2h0M632.1 203.5h0M521.6 291.9h0M582.2 299.0h0M537.6 268.6h0M533.9 282.5h0M563.0 265.3h0M621.3 247.9h0M562.5 325.0h0M563.2 327.4h0M585.9 290.8h0M631.0 265.2h0M531.2 281.7h0M649.3 205.9h0M594.5 225.7h0M627.5 235.5h0M515.9 293.2h0M516.9 331.3h0M652.9 209.0h0M628.9 247.2h0M628.1 203.2h0M623.9 238.6h0M514.1 328.5h0M577.8 311.2h0M565.2 262.9h0M613.2 247.3h0M584.8 301.5h0M628.6 234.6h0M640.1 242.0h0M519.3 291.6h0M634.0 219.7h0M552.0 331.1h0M554.4 335.9h0M512.9 325.1h0M614.0 248.1h0M569.3 315.2h0M586.5 249.0h0M612.5 265.8h0M617.8 242.5h0M623.3 218.8h0M612.7 288.8h0M590.9 236.5h0M542.1 337.8h0M583.6 294.1h0M564.8 322.2h0M634.1 238.5h0M593.5 242.3h0M539.8 269.7h0M598.3 297.3h0M545.7 260.3h0M648.1 209.1h0M648.0 196.8h0M539.5 335.9h0M557.9 326.5h0M536.5 338.4h0M553.0 330.8h0M521.9 335.0h0M574.4 310.4h0M582.7 300.6h0M607.1 265.8h0M574.7 252.9h0M607.6 275.7h0M606.8 289.2h0M573.4 330.6h0M616.6 253.1h0M596.2 286.7h0M542.1 332.6h0M602.4 240.8h0M567.6 257.0h0M556.6 328.0h0M601.9 235.6h0M664.7 195.4h0M558.1 258.3h0M661.2 207.3h0M518.4 335.4h0M628.9 226.3h0M592.4 297.2h0M613.0 234.6h0M642.9 222.9h0M615.5 238.3h0M519.2 336.8h0M632.6 237.0h0M656.4 200.1h0M516.0 293.4h0M534.6 277.4h0M600.4 237.5h0M619.0 240.7h0M630.2 223.1h0M517.2 330.6h0M625.7 263.2h0M599.0 237.7h0M626.1 247.1h0M516.4 332.1h0M560.1 337.0h0M634.4 224.2h0M565.0 318.7h0M530.6 282.0h0M575.7 315.1h0M594.1 244.0h0M630.6 228.7h0M605.2 271.5h0M572.8 257.1h0M606.3 239.1h0M614.9 240.2h0M559.7 256.9h0M625.9 217.6h0M632.2 218.7h0M569.9 261.8h0M644.1 207.8h0M650.8 208.6h0M586.0 296.2h0M640.8 219.9h0M547.0 332.8h0M525.4 281.0h0M542.0 333.0h0M573.4 255.3h0M617.2 206.7h0M621.4 235.5h0M597.1 245.4h0M604.8 269.6h0M636.7 238.6h0M574.5 241.0h0M610.9 269.9h0M521.7 336.2h0M623.9 227.4h0M580.3 240.0h0M596.0 293.4h0M544.5 261.9h0M612.8 244.0h0M536.2 275.6h0M565.0 337.3h0M629.9 220.4h0M599.1 290.4h0M534.3 279.0h0M513.3 328.0h0M595.0 245.0h0M593.0 283.8h0M605.3 277.6h0M605.5 240.4h0M613.1 235.0h0M574.3 316.5h0M614.4 233.3h0M528.5 336.9h0M557.0 262.9h0M526.1 277.0h0M577.5 300.0h0M652.8 191.9h0M594.4 232.9h0M598.7 277.8h0M588.3 250.1h0M642.3 206.2h0M559.5 253.5h0M600.6 283.0h0M522.4 284.4h0M609.1 237.9h0M523.9 285.2h0M611.2 239.5h0M627.1 241.6h0M607.4 274.7h0M618.7 278.5h0M612.1 256.7h0M580.5 301.3h0M622.3 229.8h0M642.5 199.4h0M578.3 243.7h0M615.3 275.1h0M538.6 336.4h0M579.4 250.5h0M519.0 333.2h0M626.4 242.2h0M549.8 332.8h0M609.5 265.2h0M531.5 281.9h0M569.3 251.4h0M608.9 237.8h0M513.3 322.2h0M586.8 300.5h0M595.4 234.0h0M626.6 236.7h0M630.2 241.5h0M530.9 337.1h0M543.1 273.1h0M566.5 256.5h0M577.7 254.3h0M593.3 237.4h0M558.7 266.2h0M638.5 225.5h0M555.4 330.4h0M626.6 236.1h0M560.4 334.5h0M576.8 308.1h0M597.4 284.1h0M595.2 286.3h0M651.2 219.3h0M552.3 269.8h0M639.9 210.7h0M618.8 232.5h0M587.1 302.4h0M613.1 256.9h0M574.5 252.3h0M629.9 237.7h0M519.3 290.2h0M591.0 290.5h0M617.9 241.7h0M568.7 257.6h0M649.4 188.5h0M553.8 334.4h0M622.6 251.6h0M513.6 330.1h0M627.2 238.8h0M511.6 307.0h0M610.6 255.3h0M609.3 237.9h0M514.6 304.1h0M572.0 257.1h0M639.7 226.7h0M516.5 308.1h0M591.4 288.4h0M527.9 337.1h0M538.3 273.4h0M588.7 289.3h0M628.6 225.6h0M564.7 326.6h0M625.5 219.8h0M635.3 229.1h0M548.4 259.5h0M520.4 334.9h0M605.9 267.9h0M575.2 319.7h0M537.5 336.0h0M629.2 235.4h0M624.4 239.3h0M627.6 220.1h0M578.8 308.9h0M613.0 226.7h0M516.9 302.9h0M544.7 268.2h0M570.4 316.0h0M530.6 274.4h0M524.4 293.9h0M545.1 335.2h0M632.4 206.1h0M624.2 222.7h0M609.3 242.1h0M617.4 239.1h0M602.8 241.1h0M626.6 235.1h0M595.6 238.3h0M618.5 242.3h0M568.9 257.7h0M634.1 238.4h0M628.6 233.4h0M592.3 298.3h0M558.6 259.0h0M518.9 294.7h0M574.1 259.4h0M547.3 337.3h0M559.2 262.2h0M641.6 214.7h0M613.2 221.1h0M532.4 282.4h0M616.8 261.2h0M594.2 241.0h0M534.5 279.0h0M595.3 289.8h0M576.5 310.1h0M556.6 253.3h0M550.4 333.4h0M567.2 327.4h0M574.3 247.1h0M618.2 227.1h0M578.9 308.0h0M536.7 336.8h0M556.9 330.7h0M593.4 247.9h0M573.1 316.2h0M577.9 308.4h0M612.7 269.7h0M541.0 334.5h0M536.1 277.2h0M596.1 241.4h0M561.5 264.3h0M549.1 270.3h0M642.5 217.7h0M632.8 235.8h0M608.5 262.2h0M596.4 279.9h0M636.1 202.3h0M565.2 320.7h0M578.5 244.1h0M600.6 282.0h0M535.7 337.0h0M613.2 230.0h0M521.1 339.4h0M594.8 296.7h0M539.6 279.4h0M523.7 290.2h0M571.1 258.9h0M559.8 267.8h0M575.2 314.6h0M603.1 286.2h0M604.8 233.8h0M565.2 318.9h0M592.7 292.4h0M621.2 253.2h0M618.8 250.6h0M635.0 209.3h0M657.6 191.0h0M525.6 274.8h0M515.9 307.0h0M642.7 208.8h0M557.1 266.4h0M626.5 219.4h0M621.0 270.7h0M519.7 283.3h0M641.5 202.3h0M632.6 217.3h0M615.2 248.9h0M572.0 255.6h0M623.8 247.3h0M558.8 332.1h0M627.3 228.9h0M611.4 235.1h0M618.5 279.5h0M517.5 334.3h0M551.6 263.0h0M588.6 297.5h0M629.6 240.7h0M621.2 260.1h0M526.0 338.1h0M587.7 235.3h0M570.1 328.7h0M590.0 246.0h0M555.1 262.4h0M654.0 201.6h0M559.4 255.9h0M543.4 337.7h0M532.7 282.9h0M618.4 256.8h0M640.8 206.0h0M591.8 241.8h0M533.2 281.4h0M564.9 260.1h0M645.1 223.7h0M614.1 251.1h0M588.7 288.5h0M621.5 233.7h0M535.0 280.4h0M609.8 268.6h0M608.5 236.9h0M596.2 234.0h0M593.1 287.8h0M603.0 238.9h0M579.1 245.9h0M568.3 324.9h0M574.3 255.1h0M520.3 281.0h0M593.7 291.4h0M513.6 289.5h0M514.4 315.4h0M626.8 250.6h0M567.8 321.3h0M574.1 245.4h0M644.1 213.3h0M578.1 302.8h0M655.3 190.8h0M618.2 230.8h0M554.5 261.3h0M607.5 283.4h0M534.1 281.7h0M592.0 245.2h0M581.0 250.1h0M609.3 291.8h0M529.3 284.7h0M525.0 282.3h0M611.1 228.3h0M596.0 244.6h0M599.2 243.1h0M633.5 211.8h0M578.6 322.9h0M618.6 250.3h0M649.8 194.2h0M650.7 188.1h0M623.4 231.4h0M597.4 241.4h0M599.6 275.7h0M513.8 307.3h0M634.1 229.6h0M536.1 337.2h0M511.9 315.5h0M611.2 285.9h0M630.6 220.1h0M604.4 294.0h0M599.1 232.7h0M634.4 234.5h0M568.7 263.2h0M635.6 204.6h0M558.9 269.0h0M558.1 327.6h0M514.8 282.4h0M555.7 267.5h0M545.9 337.2h0M599.1 276.2h0M636.4 220.4h0M516.9 301.7h0M575.9 244.5h0M592.6 293.4h0M621.0 242.8h0M516.4 308.5h0M609.0 262.8h0M602.6 299.3h0M600.6 293.7h0M524.7 286.1h0M613.8 242.0h0M589.0 291.7h0M626.4 236.1h0M598.3 293.4h0M607.4 284.9h0M519.1 295.2h0M520.1 278.0h0M601.0 302.0h0M560.1 326.8h0M604.1 227.2h0M607.4 261.3h0M617.6 248.8h0M567.9 252.4h0M607.2 264.1h0M513.7 328.7h0M650.1 205.1h0M626.8 234.7h0M616.2 254.9h0M641.4 218.3h0M596.8 244.6h0M585.7 310.6h0M511.8 305.6h0M603.8 283.5h0M571.9 256.1h0M584.2 244.9h0M513.2 295.0h0M607.9 261.7h0M633.5 233.5h0M593.7 304.8h0M528.2 336.3h0M622.6 227.7h0M585.4 312.4h0M621.1 233.5h0M519.0 292.3h0M555.1 268.6h0M517.1 335.3h0M555.3 332.0h0M550.3 266.1h0M629.3 215.9h0M584.7 232.7h0M645.0 199.4h0M601.2 240.6h0M579.4 243.0h0M598.9 244.5h0M573.9 316.2h0M572.3 321.2h0M629.4 256.6h0M515.5 300.6h0M622.1 247.0h0M611.4 263.2h0M622.4 254.2h0M515.1 331.2h0M602.1 273.6h0M640.3 210.6h0M539.7 274.5h0M635.0 200.7h0M636.8 226.6h0M594.0 290.1h0M579.7 248.1h0M572.2 327.4h0M648.3 204.0h0M628.8 229.4h0M620.5 259.1h0M624.1 231.9h0M593.7 248.4h0M578.3 302.5h0M534.1 337.5h0M624.6 227.6h0M542.1 337.7h0M560.1 262.1h0M605.5 275.1h0M633.8 202.1h0M525.8 335.9h0M613.7 268.4h0M552.3 264.8h0M522.7 337.3h0M542.2 277.2h0M561.6 264.3h0M555.5 266.9h0M579.0 254.1h0M514.3 310.0h0M618.8 248.0h0M626.9 226.8h0M571.4 320.0h0M532.0 336.9h0M528.7 336.2h0M612.6 236.3h0M596.0 244.3h0M575.7 331.0h0M650.1 213.6h0M625.9 231.1h0M520.8 296.7h0M541.8 273.9h0M547.5 272.0h0M594.7 296.0h0M571.0 314.5h0M611.5 268.9h0M574.9 316.5h0M591.9 238.2h0M533.9 284.4h0M630.5 233.9h0M572.7 324.7h0M533.0 336.1h0M614.3 248.5h0M533.8 279.7h0M521.5 295.1h0M615.3 273.4h0M541.5 273.8h0M515.9 292.6h0M520.1 335.0h0M579.8 251.0h0M564.9 256.0h0M636.9 208.2h0M618.1 220.8h0M621.6 235.4h0M562.0 264.6h0M555.8 259.3h0M641.3 218.3h0M632.0 223.3h0M551.0 270.1h0M641.9 252.2h0M641.9 327.7h0M621.3 257.0h0M638.9 267.7h0M678.7 273.0h0M662.1 264.3h0M633.9 286.3h0M675.8 304.2h0M630.6 278.3h0M612.2 294.9h0M634.7 320.6h0M668.1 314.0h0M617.3 329.4h0M669.0 268.1h0M646.6 322.5h0M655.0 293.4h0M670.2 251.3h0M610.6 319.7h0M601.3 275.0h0M636.9 297.1h0M619.5 272.6h0M610.5 311.0h0M666.4 320.4h0M619.2 297.0h0M650.1 257.3h0M623.7 254.7h0M613.9 293.2h0M642.9 268.0h0M662.3 276.6h0M624.0 291.4h0M633.2 249.4h0M611.7 304.0h0M634.4 255.9h0M636.8 323.4h0M614.4 310.7h0M628.2 278.3h0M641.8 286.6h0M645.7 309.9h0M610.3 275.4h0M655.6 268.9h0M626.0 281.4h0M629.5 249.1h0M607.9 309.5h0M674.2 259.5h0M638.1 286.1h0M624.2 255.2h0M678.9 285.7h0M604.3 288.4h0M666.5 307.3h0M643.5 299.8h0M639.2 297.4h0M671.4 334.2h0M614.9 266.2h0M622.3 292.4h0M627.9 269.2h0M607.6 289.6h0M611.3 276.3h0M675.1 288.1h0M652.1 277.1h0M660.9 317.6h0M649.4 285.7h0M622.8 291.7h0M633.6 320.4h0M608.3 328.8h0M655.2 321.6h0M644.3 309.7h0M647.0 299.0h0M612.5 318.5h0M633.8 296.8h0M622.7 248.3h0" stroke="#a3cde5" stroke-width="2.40" stroke-linecap="round" fill="none"/><path d="M520.1 299.6h0M604.9 261.1h0M577.2 294.3h0M554.8 329.0h0M607.0 245.3h0M581.7 294.1h0M560.5 326.2h0M599.4 272.8h0M593.5 278.8h0M537.2 283.2h0M542.7 278.6h0M575.1 263.2h0M536.7 283.3h0M590.2 251.1h0M590.8 253.9h0M606.7 254.4h0M612.1 245.2h0M606.7 256.5h0M526.4 295.3h0M517.0 329.1h0M602.8 271.0h0M578.9 258.2h0M519.0 307.5h0M577.6 259.9h0M603.0 243.6h0M606.6 255.2h0M528.7 288.6h0M549.9 273.3h0M581.6 255.1h0M607.2 247.9h0M611.8 245.8h0M593.9 250.7h0M541.3 281.3h0M607.0 246.2h0M542.8 279.8h0M607.7 253.2h0M557.1 270.4h0M535.1 284.1h0M598.5 246.0h0M545.4 332.2h0M590.2 252.9h0M604.6 263.3h0M517.5 307.9h0M580.0 256.7h0M566.5 314.7h0M550.9 273.4h0M519.1 328.6h0M603.6 264.7h0M518.0 327.4h0M549.0 332.1h0M602.3 269.2h0M521.8 301.5h0M532.1 286.4h0M607.5 253.5h0M573.2 311.2h0M597.4 245.6h0M600.6 270.9h0M604.9 262.6h0M608.9 244.1h0M568.5 314.2h0M594.1 279.1h0M542.4 280.4h0M608.7 251.3h0M606.6 249.9h0M600.5 272.9h0M612.2 252.7h0M573.7 303.5h0M555.0 326.6h0M569.0 312.4h0M605.9 244.2h0M601.6 267.0h0M517.9 308.3h0M566.3 315.8h0M600.6 270.6h0M587.2 252.6h0M532.5 285.6h0M563.1 267.6h0M532.6 287.3h0M554.7 328.7h0M562.3 267.8h0M608.9 248.8h0M608.5 245.7h0M555.0 326.5h0M582.0 291.6h0M519.4 306.9h0M581.9 254.8h0M568.7 312.7h0M575.7 304.0h0M579.8 290.6h0M577.6 293.6h0M558.1 270.5h0M551.5 275.1h0M555.0 272.3h0M593.0 251.1h0M608.0 257.2h0M576.8 258.6h0M561.9 320.5h0M609.9 243.7h0M517.1 327.8h0M607.3 244.3h0M537.5 281.7h0M597.7 273.7h0M612.4 242.5h0M548.9 330.6h0M561.2 325.3h0M609.0 258.2h0M529.2 290.4h0M580.9 255.8h0M600.3 272.8h0M608.8 256.8h0M533.9 285.2h0M521.2 302.4h0M535.5 283.5h0M603.8 264.7h0M574.8 263.1h0M582.6 291.4h0M589.2 251.1h0M606.8 255.4h0M539.6 334.6h0M603.3 266.5h0M555.5 328.9h0M591.7 249.6h0M574.7 304.0h0M529.9 289.4h0M561.8 322.8h0M561.8 321.7h0M608.0 249.5h0M604.7 242.9h0M606.6 247.2h0M590.0 248.9h0M604.8 264.6h0M611.3 249.5h0M544.6 330.1h0M566.7 263.5h0M554.9 271.6h0M529.6 289.4h0M601.5 267.2h0M601.7 268.5h0M519.8 302.4h0M562.5 269.3h0M605.2 261.2h0M609.5 259.8h0M566.0 316.5h0M582.3 293.4h0M588.1 254.0h0M591.0 254.4h0M607.4 247.4h0M539.5 332.7h0M612.4 247.1h0M602.2 269.9h0M525.3 299.3h0M591.9 280.7h0M559.9 324.8h0M610.3 248.8h0M609.3 252.3h0M564.4 269.1h0M581.8 256.8h0M590.7 252.6h0M518.1 328.2h0M551.9 273.6h0M562.5 322.5h0M516.7 305.7h0M597.4 276.0h0M599.6 274.9h0M543.4 280.0h0M578.9 297.6h0M575.5 261.7h0M612.0 252.2h0M528.5 293.6h0M527.5 294.9h0M611.5 248.3h0M598.7 245.5h0M575.8 307.8h0M568.1 313.9h0M582.2 293.8h0M605.3 245.0h0M553.0 327.4h0M551.6 274.8h0M563.5 322.0h0M565.5 264.8h0M561.9 266.6h0M604.4 261.7h0M554.7 327.0h0M576.5 305.7h0M603.3 272.3h0M592.4 280.6h0M590.6 252.5h0M577.8 295.0h0M611.1 250.9h0M587.3 289.3h0M607.1 253.2h0M609.6 248.6h0M608.1 256.4h0M573.2 261.9h0M544.1 331.8h0M575.6 261.2h0M558.7 324.5h0M560.3 325.6h0M584.4 291.7h0M547.7 330.7h0M604.1 244.2h0M553.9 326.7h0M591.7 279.5h0M559.6 324.9h0M554.4 327.9h0M611.4 245.1h0M576.8 298.6h0M582.3 291.7h0M607.4 251.5h0M578.3 259.5h0M606.8 255.9h0M576.2 307.7h0M518.1 306.1h0M588.5 289.1h0M591.5 254.2h0M606.1 244.0h0M601.8 272.0h0M595.4 278.3h0M560.9 326.0h0M522.1 301.3h0M581.2 256.0h0M524.5 296.8h0M594.3 249.7h0M565.0 314.7h0M600.3 247.6h0M522.5 301.3h0M586.9 288.5h0M576.6 295.6h0M599.6 248.1h0M575.4 261.1h0M553.5 327.6h0M585.4 292.7h0M574.7 260.5h0M594.6 248.2h0M525.1 297.8h0M611.4 247.6h0M600.8 270.3h0M573.8 302.5h0M580.7 254.5h0M612.2 248.3h0M612.0 252.2h0M603.8 243.5h0M572.1 262.7h0M601.1 242.9h0M610.8 250.5h0M606.6 249.7h0M576.5 303.8h0M553.1 328.0h0M602.8 242.6h0M593.2 249.0h0M607.9 247.8h0M581.0 290.5h0M597.6 272.9h0M544.0 331.6h0M605.0 261.5h0M574.2 307.8h0M588.9 287.1h0M551.4 274.5h0M538.1 334.9h0M587.0 288.4h0M552.8 329.1h0M608.3 254.7h0M604.9 263.3h0M525.5 297.8h0M609.2 258.1h0M522.4 302.2h0M551.8 274.3h0M554.9 329.2h0M575.5 306.2h0M606.1 245.0h0M563.3 321.9h0M573.6 303.6h0M527.6 295.6h0M517.2 305.9h0M522.1 300.0h0M589.4 251.5h0M552.5 273.6h0M604.1 266.3h0M581.1 294.0h0M563.4 267.8h0M588.1 290.2h0M602.6 243.9h0M546.6 331.9h0M604.3 265.2h0M574.3 307.0h0M516.8 307.3h0M606.0 245.2h0M578.7 258.6h0M561.7 269.2h0M594.3 280.1h0M575.3 307.3h0M576.7 296.9h0M580.7 256.2h0M610.9 250.4h0M587.6 253.1h0M609.2 247.4h0M526.1 296.2h0M590.2 285.0h0M536.6 282.2h0M560.5 325.5h0M593.6 251.4h0M526.7 294.5h0M562.4 323.1h0M593.3 251.1h0M590.7 284.9h0M532.7 285.6h0M526.5 294.8h0M586.5 253.0h0M537.0 283.7h0M592.9 249.0h0M578.7 295.3h0M577.8 258.9h0M607.8 248.6h0M589.6 285.6h0M580.3 256.0h0M549.9 272.6h0M604.2 262.2h0M593.0 248.7h0M611.5 248.4h0M574.6 262.4h0M605.4 265.9h0M548.3 331.3h0M534.0 286.0h0M594.6 278.0h0M595.8 275.4h0M545.4 330.4h0M603.2 269.9h0M611.0 243.1h0M553.1 328.6h0M518.1 326.6h0M608.8 244.1h0M612.3 250.3h0M572.0 261.4h0M556.8 271.3h0M563.9 267.9h0M576.8 257.7h0M610.9 242.6h0M576.4 260.5h0M578.5 294.5h0M517.7 328.8h0M573.0 261.8h0M597.5 246.9h0M542.3 279.8h0M538.5 333.3h0M601.6 244.4h0M582.3 294.5h0M608.5 254.9h0M601.8 242.5h0M553.9 270.6h0M608.2 260.1h0M595.8 247.4h0M577.0 299.3h0M590.6 253.9h0M595.5 246.8h0M565.4 314.6h0M545.1 331.9h0M571.2 310.8h0M518.5 305.4h0M528.5 296.1h0M536.5 284.4h0M525.4 296.7h0M573.6 305.8h0M609.4 252.7h0M602.8 268.4h0M609.5 258.7h0M608.4 246.4h0M554.5 270.7h0M565.2 315.3h0M564.4 320.4h0M526.9 294.6h0M580.8 294.8h0M519.2 327.8h0M553.9 328.8h0M518.7 306.9h0M544.0 331.7h0M587.0 289.3h0M581.8 256.7h0M597.0 247.0h0M595.7 247.3h0M529.5 288.8h0M610.1 249.9h0M533.3 284.9h0M607.2 253.2h0M577.6 297.5h0M531.3 289.7h0M576.3 308.0h0M588.7 285.4h0M592.6 280.0h0M595.5 277.9h0" stroke="#9ecae4" stroke-width="2.40" stroke-linecap="round" fill="none"/><path d="M555.4 272.6h0M537.6 282.8h0M598.4 254.1h0M529.4 290.5h0M574.1 266.2h0M595.4 252.1h0M601.2 252.3h0M602.9 260.6h0M606.4 260.0h0M541.7 331.6h0M561.4 321.0h0M558.6 320.5h0M566.2 269.1h0M554.8 273.9h0M599.8 250.7h0M579.7 261.1h0M547.5 277.4h0M522.5 329.4h0M601.5 260.1h0M518.9 318.2h0M544.3 281.2h0M591.5 254.7h0M523.2 302.4h0M536.6 332.8h0M599.8 249.8h0M517.2 313.2h0M574.6 295.0h0M599.3 257.7h0M534.9 332.6h0M598.4 259.4h0M605.8 255.9h0M518.8 322.6h0M584.7 255.1h0M574.5 264.7h0M570.0 264.5h0M598.0 248.5h0M606.2 251.6h0M574.5 300.4h0M593.0 251.5h0M517.5 317.4h0M601.6 265.7h0M521.1 303.2h0M590.5 283.9h0M603.6 259.6h0M590.1 279.4h0M517.5 325.3h0M563.0 320.2h0M571.6 305.0h0M561.9 270.1h0M599.2 271.6h0M521.8 302.9h0M579.5 265.2h0M524.4 333.8h0M598.2 271.8h0M547.4 328.1h0M597.2 258.8h0M545.5 279.2h0M589.1 257.3h0M553.7 275.1h0M586.1 255.7h0M590.2 280.5h0M591.9 275.6h0M549.9 328.8h0M520.1 330.6h0M603.1 260.2h0M562.5 314.8h0M588.2 256.7h0M604.7 255.1h0M587.5 285.7h0M594.6 272.9h0M588.7 281.4h0M518.6 314.2h0M604.7 247.4h0M523.6 334.7h0M571.0 302.6h0M600.8 256.4h0M598.2 253.8h0M558.8 321.9h0M547.1 276.0h0M517.3 311.9h0M602.3 261.2h0M577.1 290.5h0M572.0 307.1h0M566.9 266.8h0M598.1 258.9h0M572.8 305.8h0M599.4 248.6h0M560.5 270.6h0M518.9 320.5h0M598.2 270.2h0M549.4 275.4h0M599.1 250.1h0M562.7 315.4h0M597.8 252.4h0M546.8 278.3h0M524.2 332.5h0M601.1 258.6h0M586.5 285.3h0M525.3 301.4h0M540.7 330.9h0M597.3 261.3h0M578.5 291.8h0M563.3 316.9h0M552.8 272.9h0M563.1 272.3h0M583.8 258.4h0M595.0 274.9h0M588.3 286.5h0M568.2 263.5h0M525.7 299.3h0M534.2 288.3h0M594.6 257.1h0M561.8 269.8h0M595.7 256.6h0M601.1 264.5h0M604.5 257.7h0M541.0 330.2h0M582.7 257.8h0M598.0 272.2h0M567.8 265.2h0M598.5 270.7h0M571.1 306.9h0M518.8 316.7h0M600.1 255.0h0M550.5 327.8h0M534.1 290.2h0M584.9 288.8h0M602.5 249.4h0M570.7 302.7h0M579.6 262.6h0M600.7 249.2h0M604.2 259.4h0M519.4 324.7h0M602.5 247.4h0M577.1 261.4h0M530.6 290.6h0M560.1 271.2h0M565.7 314.2h0M556.3 325.0h0M577.3 264.8h0M518.4 314.3h0M586.9 255.9h0M589.1 257.5h0M597.9 259.8h0M577.1 292.5h0M597.8 256.7h0M592.0 257.5h0M555.5 275.3h0M567.1 312.6h0M579.5 291.6h0M534.6 335.1h0M517.9 312.5h0M564.0 316.2h0M552.5 327.9h0M588.4 284.7h0M597.8 265.8h0M555.0 275.4h0M597.7 253.0h0M572.3 266.4h0M600.2 252.6h0M517.3 324.8h0M562.6 271.7h0M524.7 300.1h0M604.0 251.2h0M567.4 268.0h0M578.4 291.3h0M598.7 259.6h0M551.2 328.0h0M558.7 270.0h0M518.0 322.1h0M537.0 333.0h0M518.8 318.6h0M593.7 259.1h0M574.6 295.8h0M592.9 256.3h0M583.2 254.6h0M603.7 255.2h0M532.6 287.9h0M588.9 278.9h0M581.2 261.5h0M577.2 261.5h0M572.8 307.8h0M564.2 318.5h0M597.9 258.2h0M571.1 308.3h0M544.5 280.3h0M590.2 278.9h0M587.7 286.1h0M601.9 249.9h0M595.5 250.8h0M519.2 323.5h0M555.1 274.3h0M565.0 312.4h0M599.8 261.3h0M527.6 297.4h0M582.9 257.8h0M580.1 261.8h0M603.6 256.4h0M603.2 247.3h0M540.5 283.6h0M579.2 292.4h0M602.7 258.3h0M557.2 324.0h0M605.3 257.3h0M540.4 281.5h0M590.0 284.2h0M599.6 270.1h0M600.0 250.8h0M543.9 279.3h0M581.9 260.6h0M541.9 330.6h0M572.6 308.4h0M591.2 255.4h0M597.4 258.2h0M547.4 327.6h0M517.2 317.8h0M597.0 256.0h0M517.8 309.8h0M559.5 320.9h0M596.4 249.5h0M603.1 262.9h0M596.7 273.5h0M566.1 269.2h0M576.5 297.5h0M550.6 327.5h0M567.9 310.4h0M598.8 258.5h0M516.8 320.1h0M523.3 334.3h0M560.8 322.9h0M603.4 252.4h0M602.6 251.4h0M598.1 265.8h0M540.5 281.5h0M601.8 250.1h0M601.0 261.2h0M590.0 282.3h0M522.1 304.2h0M570.9 305.3h0M568.7 309.2h0M524.5 302.4h0M592.8 277.7h0M584.3 259.5h0M588.3 256.9h0M578.4 290.4h0M603.4 252.7h0M574.3 293.9h0M582.1 262.7h0M564.5 315.1h0M569.4 309.9h0M573.4 264.9h0M546.4 280.9h0M522.9 300.4h0M601.9 245.7h0M523.6 332.5h0M569.2 265.0h0M603.0 260.7h0M593.5 254.5h0M575.9 296.3h0M602.3 247.3h0M601.2 262.2h0M595.0 252.5h0M583.0 257.7h0M596.2 255.0h0M598.9 271.8h0M598.2 256.9h0M599.0 269.5h0M585.1 260.2h0M590.7 279.7h0M575.6 302.3h0M565.8 267.9h0M581.8 262.1h0M603.6 249.0h0M527.8 299.3h0M601.6 255.3h0M598.8 254.8h0M600.3 262.3h0M592.8 259.7h0M568.5 310.1h0M530.2 292.6h0M518.3 311.4h0M598.0 265.8h0M596.9 274.5h0M594.3 253.9h0M598.0 261.9h0M603.2 256.0h0M517.5 309.3h0M600.8 245.8h0M555.4 274.8h0M601.5 249.9h0M585.2 255.1h0M559.8 322.0h0M580.9 262.2h0M554.8 273.5h0M528.0 297.8h0M584.3 259.5h0M540.5 282.9h0M579.4 261.4h0M595.7 251.1h0M585.5 287.6h0M590.8 257.0h0M527.6 296.6h0M541.9 331.5h0M600.0 252.0h0M518.7 323.3h0M549.3 278.3h0M521.0 329.5h0M548.2 275.9h0M589.5 255.1h0M565.5 266.9h0M603.5 248.0h0M519.1 317.0h0M597.8 252.7h0M602.5 248.4h0M556.8 325.2h0M575.5 296.0h0M599.2 252.0h0M592.0 252.7h0M567.6 311.3h0M591.0 279.1h0M562.3 316.6h0M595.8 275.4h0M533.4 288.4h0M602.1 256.7h0M580.2 258.7h0M517.1 309.7h0M519.4 326.2h0M581.1 257.4h0M605.6 260.1h0M561.1 272.3h0M599.3 263.6h0M585.6 255.4h0M536.5 334.5h0M546.3 278.5h0M577.6 260.5h0M578.7 265.1h0M520.6 332.3h0M523.9 333.4h0M572.8 264.2h0M517.7 325.2h0M590.5 259.4h0M523.5 332.9h0M584.5 256.9h0M595.9 261.0h0M518.4 309.0h0M583.8 254.5h0M529.2 291.0h0M591.4 260.4h0M596.5 259.1h0M583.8 289.7h0M522.7 333.4h0M522.2 305.1h0M595.0 274.1h0M591.1 256.2h0M593.4 276.7h0M517.1 318.6h0M594.7 259.3h0M516.7 316.7h0M561.5 272.2h0M519.0 320.7h0M590.4 280.4h0M519.3 314.4h0M564.4 319.2h0M596.1 257.3h0M599.7 262.9h0M517.3 311.0h0M602.7 263.1h0M602.0 265.8h0M542.1 330.8h0M556.1 325.6h0M563.4 315.7h0M598.9 263.5h0M593.2 253.2h0M575.8 293.8h0M529.9 291.4h0M606.0 255.2h0M563.4 270.2h0M601.1 262.7h0M517.9 323.3h0M586.1 255.3h0M599.8 248.5h0M554.5 273.6h0M553.2 275.3h0M580.9 259.3h0M598.9 258.8h0M519.4 311.9h0M517.4 323.2h0M553.7 275.1h0M592.8 252.2h0M517.8 320.2h0M559.8 322.4h0M522.9 299.6h0M590.2 257.2h0M596.7 253.9h0M602.1 246.5h0M550.3 329.0h0M560.0 270.0h0M521.2 304.1h0M576.1 265.8h0M520.3 302.7h0M600.1 256.9h0M555.6 325.3h0M533.1 289.3h0M569.0 308.5h0M517.6 321.8h0M574.6 297.3h0M590.5 282.0h0M600.8 258.1h0M518.8 325.0h0M604.1 247.3h0M571.2 266.3h0M517.9 309.0h0M520.8 303.4h0M594.9 273.8h0M521.1 303.7h0M600.9 260.2h0M518.5 308.9h0M563.7 271.9h0M572.0 308.2h0M519.5 320.3h0M577.9 291.6h0M576.8 261.7h0M569.9 265.7h0M589.1 284.0h0M604.7 252.1h0M572.4 264.6h0M567.1 314.2h0M543.9 281.2h0M579.9 262.6h0M530.5 293.1h0M599.5 250.7h0M600.7 261.6h0M602.1 252.8h0M593.1 277.2h0M575.1 298.1h0M565.3 266.7h0M597.6 262.3h0M566.2 268.3h0M547.9 277.2h0M606.0 259.1h0M567.9 264.0h0M564.2 318.1h0M600.8 263.0h0M589.0 256.0h0M518.6 319.9h0M550.9 328.8h0M584.0 255.4h0M600.6 245.8h0M518.3 309.6h0M595.7 249.8h0M576.2 264.2h0M557.3 324.5h0M532.8 290.1h0M577.4 293.3h0M595.1 249.1h0M568.3 265.1h0M588.7 258.5h0M597.8 267.6h0M525.3 301.1h0M576.5 265.0h0M525.8 296.6h0M591.4 257.7h0M573.4 265.5h0M591.2 260.4h0M583.0 258.5h0M533.7 288.3h0M587.6 286.5h0M600.1 248.5h0M596.7 255.4h0M524.0 334.2h0M550.9 329.1h0M604.4 249.0h0M526.2 297.7h0M564.9 312.4h0M519.6 329.5h0M550.0 329.0h0M589.1 256.5h0M589.8 282.0h0M564.7 313.9h0M599.9 252.5h0M569.9 311.1h0M594.7 248.5h0M549.8 329.2h0M600.6 263.3h0M516.8 322.5h0M562.2 271.7h0M573.5 307.8h0M605.2 254.7h0M570.6 304.4h0M574.5 293.6h0M587.3 285.4h0M521.0 303.8h0M600.3 255.2h0M572.4 263.6h0M600.9 257.7h0M562.0 318.8h0M522.2 331.9h0M596.1 273.8h0M518.1 319.9h0M599.8 271.8h0M588.8 278.8h0M522.1 331.6h0M594.3 252.6h0M575.5 295.8h0M562.1 317.2h0M595.7 274.9h0M595.4 274.4h0M566.9 311.7h0M518.3 319.0h0M516.8 316.8h0M576.1 265.3h0M543.7 278.5h0M589.6 256.8h0M523.8 299.8h0M589.2 255.7h0M571.6 302.4h0M575.9 299.9h0M520.0 305.0h0M537.7 283.6h0M594.9 261.6h0M580.7 263.2h0" stroke="#9ac8e3" stroke-width="2.40" stroke-linecap="round" fill="none"/><path d="M585.3 268.4h0M544.6 283.3h0M589.5 264.6h0M592.7 266.8h0M594.3 269.4h0M569.9 268.6h0M590.0 273.1h0M567.1 309.6h0M592.9 265.9h0M520.8 308.2h0M567.5 309.5h0M569.7 308.1h0M583.4 287.1h0M587.9 278.0h0M550.4 325.4h0M596.3 263.7h0M555.7 318.8h0M572.0 301.2h0M533.3 291.5h0M589.2 275.7h0M548.8 325.8h0M563.2 312.5h0M533.1 291.9h0M552.5 324.8h0M577.9 287.5h0M536.5 284.9h0M567.2 269.7h0M596.6 272.3h0M569.4 304.8h0M592.7 263.4h0M525.8 333.2h0M583.8 264.8h0M533.1 333.4h0M596.9 264.1h0M577.5 287.8h0M589.7 267.9h0M559.3 315.8h0M561.2 274.0h0M571.4 293.8h0M587.2 277.6h0M531.1 297.4h0M570.4 302.9h0M550.8 325.4h0M595.2 264.0h0M585.1 267.0h0M527.4 333.2h0M590.3 268.1h0M579.7 267.2h0M584.8 266.3h0M589.1 269.2h0M545.1 281.5h0M589.6 266.9h0M533.0 334.2h0M529.1 295.5h0M582.9 267.6h0M561.2 314.4h0M552.4 276.3h0M560.1 314.8h0M592.1 266.4h0M586.7 264.2h0M593.7 273.0h0M585.0 287.2h0M561.5 320.3h0M591.2 266.8h0M590.5 262.9h0M529.6 296.8h0M546.7 324.5h0M586.1 276.7h0M540.8 328.2h0M584.9 263.0h0M539.4 330.4h0M524.3 304.2h0M572.1 298.0h0M595.1 263.5h0M590.1 273.8h0M581.7 272.4h0M544.2 325.6h0M548.4 325.3h0M579.5 288.3h0M571.6 288.3h0M591.5 265.5h0M583.6 285.9h0M542.0 281.9h0M596.1 271.2h0M576.9 269.7h0M581.9 287.9h0M588.6 262.7h0M584.2 268.7h0M559.4 317.1h0M585.7 258.6h0M595.6 268.4h0M526.0 333.9h0M571.9 293.1h0M578.6 269.2h0M546.5 281.7h0M573.5 294.5h0M551.2 325.7h0M589.1 266.2h0M557.4 275.2h0M586.5 281.0h0M591.3 273.7h0M572.6 299.2h0M542.7 284.4h0M540.7 282.0h0M555.7 320.5h0M532.4 291.8h0M582.6 267.1h0M562.0 312.7h0M573.0 269.1h0M533.0 334.8h0M567.9 306.8h0M544.4 326.6h0M570.8 299.2h0M551.4 278.1h0M573.5 269.2h0M569.5 303.2h0M527.2 299.6h0M589.0 268.1h0M585.9 263.8h0M579.2 267.1h0M534.4 332.5h0M571.9 299.6h0M522.9 304.8h0M565.5 308.4h0M530.2 293.6h0M576.1 289.0h0M545.7 325.3h0M585.2 285.9h0M552.8 276.0h0M588.6 266.7h0M529.4 297.4h0M534.3 335.2h0M584.1 285.6h0M566.4 272.3h0M556.4 274.4h0M595.0 269.3h0M541.9 328.1h0M597.1 267.3h0M560.0 275.3h0M538.0 287.0h0M556.2 319.0h0M584.8 260.8h0M565.3 270.8h0M585.7 258.2h0M588.9 261.5h0M561.7 274.9h0M539.2 332.1h0M547.8 324.4h0M574.1 290.7h0M592.0 266.5h0M579.7 264.2h0M539.0 330.2h0M537.0 285.1h0M570.9 297.2h0M534.4 335.2h0M522.1 305.5h0M584.1 261.2h0M568.4 267.8h0M557.8 318.9h0M557.5 317.7h0M596.7 271.1h0M586.9 261.6h0M576.2 289.6h0M587.1 276.8h0M573.5 268.8h0M588.1 282.8h0M570.7 290.0h0M542.8 283.1h0M580.5 271.5h0M597.2 265.9h0M552.9 275.9h0M552.1 324.2h0M588.6 270.2h0M566.3 270.1h0M589.8 265.1h0M556.1 273.8h0M591.3 276.3h0M589.7 268.2h0M534.3 332.5h0M580.1 290.1h0M582.3 271.9h0M589.9 267.7h0M533.2 334.4h0M594.4 262.0h0M579.4 272.0h0M569.4 303.9h0M534.1 333.0h0M544.3 283.5h0M553.7 276.5h0M574.6 267.2h0M582.2 266.0h0M550.6 276.7h0M567.6 305.9h0M593.8 270.3h0M594.1 274.4h0M521.3 307.9h0M559.4 315.1h0M589.7 261.9h0M583.8 264.8h0M587.3 260.6h0M591.9 273.5h0M543.0 326.7h0M576.0 287.6h0M591.1 271.4h0M544.5 329.1h0M585.7 260.2h0M579.7 269.4h0M552.3 326.0h0M557.8 321.4h0M591.7 266.8h0M582.9 284.8h0M587.7 283.6h0M595.4 265.6h0M588.8 267.9h0M566.2 272.1h0M560.0 274.6h0M590.3 264.3h0M526.0 299.8h0M596.2 269.2h0M570.8 267.0h0M592.7 268.9h0M529.1 335.2h0M579.9 289.7h0M592.4 273.6h0M520.2 308.4h0M568.1 306.7h0M583.7 264.1h0M563.8 275.0h0M572.6 291.9h0M591.0 265.5h0M589.4 265.4h0M556.4 323.1h0M593.1 271.5h0M583.9 264.0h0M589.7 263.8h0M521.8 307.8h0M536.3 285.1h0M524.1 303.6h0M587.5 259.5h0M585.2 269.2h0M587.5 276.9h0M581.7 287.5h0M555.9 320.8h0M527.1 300.9h0M577.5 272.3h0M565.2 311.1h0M542.8 327.3h0M570.4 266.5h0M571.0 297.2h0M553.1 323.6h0M530.3 333.2h0M555.9 274.6h0M546.0 281.7h0M586.0 283.0h0M583.5 268.9h0M547.8 279.3h0M570.8 290.0h0M587.0 284.1h0M562.2 314.1h0M581.5 271.0h0M575.4 289.8h0M581.4 266.1h0M587.2 264.4h0M596.1 265.1h0M582.1 264.2h0M571.8 288.7h0M538.6 287.2h0M572.2 299.8h0M585.3 286.2h0M579.0 270.7h0M589.2 275.8h0M575.8 269.0h0M591.3 272.1h0M592.0 272.1h0M551.1 277.2h0M529.4 298.9h0M540.9 326.9h0M521.4 305.7h0M591.6 272.2h0M569.7 307.5h0M596.2 268.4h0M550.3 277.3h0M595.4 270.9h0M551.9 326.0h0M597.2 271.8h0M547.8 280.8h0M544.4 329.1h0M560.9 316.2h0M586.9 257.9h0M593.5 260.8h0M530.5 295.6h0M558.5 318.2h0M560.2 317.7h0M579.6 265.0h0M538.9 284.9h0M580.2 266.1h0M572.7 297.2h0M578.9 268.8h0M589.3 277.1h0M591.6 266.7h0M596.1 270.8h0M581.4 270.0h0M549.1 325.2h0M534.8 285.3h0M573.2 292.9h0M566.7 272.3h0M570.9 289.4h0M570.7 293.8h0M539.7 329.7h0M575.8 290.5h0M580.1 288.7h0M534.5 291.9h0M547.1 324.4h0M591.2 263.8h0M542.0 328.5h0M573.3 300.7h0M519.6 308.2h0M554.0 277.4h0M591.6 273.7h0M557.7 318.9h0M530.7 333.0h0M570.9 291.3h0M555.1 322.2h0M578.7 270.9h0M583.7 268.2h0M561.4 319.9h0M554.7 276.1h0M582.5 286.9h0M547.9 325.7h0M591.7 265.4h0M556.9 321.8h0M582.6 284.9h0M593.1 260.7h0M557.6 273.0h0M587.4 260.5h0M587.8 279.5h0M554.1 277.8h0M585.2 261.7h0M549.6 277.5h0M526.5 334.2h0M534.3 333.5h0M530.5 293.7h0M571.8 291.9h0M572.9 269.3h0M568.3 302.4h0M538.1 285.3h0M566.1 308.8h0M590.0 270.5h0M531.6 290.9h0M583.2 285.1h0M530.8 298.5h0M568.3 268.8h0M559.4 274.8h0M529.0 332.5h0M536.4 287.0h0M550.6 278.1h0M523.5 303.4h0M586.4 257.8h0M539.9 286.8h0M584.4 286.3h0M557.2 318.4h0M571.1 297.5h0M569.5 308.0h0M592.5 261.3h0M532.5 291.6h0M576.8 268.9h0M581.1 287.3h0M586.9 262.8h0M558.5 275.1h0M573.5 297.8h0M590.6 262.4h0M588.0 283.2h0M555.7 317.8h0M569.4 269.0h0M577.2 288.5h0M551.9 324.7h0M577.9 288.8h0M559.6 315.4h0M532.4 334.1h0M572.2 295.3h0M543.0 282.3h0M554.7 320.6h0M582.4 288.1h0M577.6 290.3h0M585.1 261.2h0M584.9 287.3h0M558.8 319.0h0M558.3 317.7h0M554.6 276.3h0M529.3 295.6h0M573.5 288.6h0M545.6 324.1h0M563.7 311.8h0M592.8 269.9h0M572.6 299.0h0M583.2 262.2h0M535.3 285.9h0M573.5 292.9h0M587.1 280.2h0M592.7 269.7h0M553.2 322.4h0M529.3 297.9h0M574.1 293.0h0M591.1 264.9h0M541.3 284.2h0M568.4 268.9h0M578.8 272.2h0M579.0 270.2h0M533.9 335.3h0M551.9 275.7h0M529.7 299.2h0M553.2 278.3h0M558.7 317.0h0M577.4 266.8h0M569.6 266.8h0M586.2 275.8h0M582.3 266.1h0M578.5 268.8h0M534.7 286.2h0M595.2 264.4h0M530.2 298.6h0M586.1 262.1h0M571.5 298.0h0M582.3 286.2h0M571.1 267.4h0M558.0 320.6h0M558.0 318.6h0M520.1 306.7h0M590.7 262.3h0M553.0 325.0h0M583.6 268.8h0M528.0 300.9h0M525.9 301.5h0M525.6 302.0h0M572.1 297.6h0M592.4 269.7h0M571.7 289.5h0M588.7 262.8h0M555.7 322.5h0M585.2 287.3h0M591.3 269.3h0M591.8 264.2h0M535.3 285.4h0M540.2 285.3h0M583.1 269.2h0M562.1 313.0h0M580.4 269.9h0M561.0 315.2h0M538.3 331.7h0M592.6 269.4h0M554.4 321.1h0M587.2 262.2h0M559.7 273.3h0M583.0 261.1h0M595.0 272.3h0M566.5 270.0h0M583.3 285.9h0M581.9 285.7h0M591.7 261.9h0M537.4 285.4h0M570.1 304.4h0M580.9 289.4h0M580.8 286.3h0M594.8 271.1h0M586.9 259.3h0M522.0 307.9h0M519.7 305.4h0M550.1 323.9h0M571.6 266.8h0M555.5 277.8h0M529.7 334.4h0M587.1 281.9h0M591.4 270.4h0M583.9 268.5h0M586.4 284.0h0M585.5 262.1h0M568.3 268.6h0M589.7 272.0h0M563.1 272.8h0M597.3 267.3h0M586.9 277.7h0M527.2 334.1h0M587.1 265.5h0M530.2 295.5h0M573.4 268.1h0M572.4 299.6h0M587.1 282.8h0M593.6 268.8h0M537.1 284.7h0M533.5 333.4h0" stroke="#95c5e2" stroke-width="2.40" stroke-linecap="round" fill="none"/><path d="M537.3 330.0h0M575.2 285.9h0M535.3 304.9h0M544.8 320.5h0M582.7 269.9h0M569.0 300.1h0M575.5 278.0h0M570.5 277.5h0M564.8 279.7h0M565.6 275.1h0M553.7 279.0h0M535.9 288.0h0M580.3 281.0h0M573.4 280.3h0M521.6 313.2h0M533.7 300.4h0M539.6 328.8h0M537.5 293.4h0M570.8 270.6h0M535.6 289.5h0M535.3 303.2h0M540.2 305.8h0M520.1 326.8h0M539.1 318.4h0M573.5 285.5h0M552.4 319.2h0M578.6 286.1h0M570.4 289.5h0M579.7 274.6h0M557.3 316.0h0M572.5 277.7h0M542.0 323.6h0M560.1 277.3h0M534.0 301.8h0M538.5 317.5h0M543.0 319.0h0M555.5 317.0h0M535.2 302.7h0M539.6 324.0h0M521.3 308.5h0M570.5 285.2h0M537.8 327.2h0M546.5 320.5h0M585.3 282.3h0M570.2 274.7h0M565.9 275.5h0M520.7 310.4h0M571.8 273.7h0M541.3 315.4h0M540.6 310.9h0M543.9 318.3h0M523.2 307.5h0M540.1 288.9h0M563.2 309.7h0M536.5 292.2h0M553.3 279.5h0M579.9 276.3h0M567.6 289.3h0M575.3 278.8h0M567.7 300.6h0M572.8 285.6h0M540.8 284.6h0M563.1 275.5h0M539.8 305.8h0M584.4 271.8h0M554.1 281.0h0M520.5 328.2h0M582.4 280.1h0M573.1 274.4h0M531.5 300.5h0M565.4 304.7h0M523.9 331.3h0M565.0 287.0h0M531.7 293.9h0M567.3 273.2h0M535.4 315.2h0M538.8 322.7h0M563.6 278.6h0M535.9 315.8h0M551.7 282.5h0M522.5 327.5h0M537.4 309.1h0M562.7 277.2h0M586.5 271.2h0M565.4 290.1h0M536.5 312.7h0M569.7 279.3h0M532.6 302.4h0M568.0 275.6h0M569.3 279.0h0M553.6 317.3h0M569.5 287.2h0M577.3 281.7h0M532.7 313.1h0M552.3 319.1h0M567.3 306.9h0M537.0 304.7h0M524.1 330.7h0M577.7 279.1h0M585.9 274.8h0M546.2 286.8h0M550.5 278.6h0M569.5 288.2h0M539.3 312.3h0M576.1 280.7h0M582.1 280.3h0M549.7 278.5h0M565.2 275.7h0M539.8 314.6h0M531.1 304.7h0M578.9 273.1h0M521.5 310.1h0M579.4 279.5h0M578.3 279.6h0M549.4 318.7h0M586.6 275.2h0M551.8 281.7h0M577.4 285.0h0M545.8 322.1h0M581.4 276.4h0M565.3 306.1h0M538.8 320.6h0M567.8 281.5h0M538.6 322.1h0M520.1 311.0h0M565.2 287.0h0M574.2 279.7h0M534.2 296.6h0M538.3 306.7h0M572.2 274.5h0M564.3 279.0h0M581.1 274.3h0M569.1 269.9h0M569.0 278.3h0M537.3 306.2h0M542.8 285.6h0M544.9 322.2h0M536.9 313.3h0M557.0 277.8h0M565.7 279.1h0M585.2 280.0h0M538.1 302.9h0M573.7 273.0h0M543.2 319.4h0M585.7 271.2h0M540.9 322.4h0M534.4 311.9h0M582.7 273.6h0M564.0 310.5h0M544.1 322.2h0M533.4 319.5h0M534.8 320.6h0M533.4 299.5h0M553.5 280.8h0M539.6 304.8h0M575.1 283.8h0M552.2 317.6h0M534.6 322.7h0M586.6 267.0h0M532.5 311.0h0M538.0 328.0h0M576.4 281.5h0M583.1 277.8h0M569.9 299.8h0M546.5 286.2h0M519.8 319.7h0M570.3 271.9h0M577.8 278.3h0M568.7 276.1h0M573.2 275.4h0M565.6 288.0h0M526.5 303.6h0M575.5 275.1h0M551.0 278.5h0M578.8 283.3h0M566.9 276.7h0M532.7 319.1h0M538.3 323.9h0M570.8 274.5h0M573.4 271.2h0M532.4 305.2h0M560.0 312.3h0M519.8 325.6h0M538.7 325.7h0M537.8 321.1h0M537.5 291.9h0M562.3 275.6h0M586.7 274.9h0M546.8 322.6h0M587.0 270.1h0M537.7 327.1h0M542.6 316.3h0M569.0 290.3h0M522.1 324.6h0M532.3 301.4h0M568.7 271.3h0M565.9 289.7h0M577.2 281.9h0M581.5 280.6h0M525.8 303.9h0M534.6 315.1h0M532.3 316.8h0M583.7 276.9h0M582.4 284.4h0M546.1 318.7h0M552.4 321.7h0M532.1 314.9h0M583.1 278.9h0M533.7 304.9h0M532.4 312.9h0M578.4 273.1h0M520.7 325.9h0M555.2 315.3h0M588.3 267.7h0M570.3 286.7h0M525.4 329.9h0M580.5 273.4h0M533.9 299.7h0M567.1 277.4h0M521.9 321.4h0M552.2 319.9h0M584.4 282.7h0M579.2 284.4h0M565.1 280.6h0M540.0 322.0h0M570.3 277.1h0M584.0 282.0h0M551.9 321.0h0M576.5 278.7h0M549.1 320.3h0M562.7 280.5h0M526.0 302.4h0M522.3 322.6h0M563.2 279.1h0M568.9 297.3h0M538.2 328.4h0M583.0 277.1h0M534.7 290.8h0M535.9 288.1h0M526.6 302.8h0M542.3 285.7h0M540.5 316.8h0M545.8 286.8h0M533.2 294.0h0M584.0 276.9h0M568.1 280.2h0M542.0 315.2h0M572.3 270.3h0M569.7 274.4h0M568.8 295.6h0M567.7 272.8h0M522.5 329.2h0M542.0 306.2h0M566.3 276.4h0M582.7 272.4h0M585.4 272.1h0M585.9 274.2h0M584.8 284.3h0M541.5 287.4h0M521.8 319.5h0M542.0 285.1h0M573.6 280.8h0M546.0 318.8h0M578.7 281.2h0M538.0 305.1h0M564.7 280.6h0M568.0 292.2h0M571.7 279.5h0M577.8 273.4h0M582.3 281.9h0M582.5 281.0h0M541.1 312.9h0M573.5 270.0h0M546.9 319.3h0M585.0 270.5h0M556.6 279.4h0M568.9 289.8h0M543.9 322.6h0M547.0 322.2h0M536.8 315.0h0M561.9 309.1h0M519.7 319.2h0M528.0 303.6h0M565.0 278.8h0M520.4 317.3h0M537.4 317.8h0M564.7 289.9h0M535.4 322.7h0M560.3 276.0h0M537.7 304.3h0M574.1 283.5h0M568.2 272.1h0M522.0 326.6h0M540.0 318.8h0M566.2 305.7h0M541.1 311.9h0M578.0 276.7h0M575.2 280.4h0M524.7 308.4h0M554.5 279.9h0M521.4 316.8h0M584.1 280.5h0M567.7 289.3h0M548.5 282.9h0M542.0 313.9h0M521.7 327.9h0M536.0 292.8h0M580.8 283.3h0M587.0 270.3h0M535.8 331.8h0M571.1 271.3h0M588.5 270.3h0M520.7 325.9h0M570.7 279.9h0M520.5 323.2h0M538.7 315.1h0M575.8 285.2h0M538.8 316.5h0M560.1 280.4h0M574.4 286.6h0M570.0 290.6h0M573.8 272.7h0M568.9 298.4h0M535.2 291.6h0M572.8 281.8h0M570.0 276.7h0M555.8 281.2h0M567.9 294.3h0M567.4 281.7h0M580.8 281.4h0M537.4 310.9h0M570.4 296.8h0M556.0 277.2h0M566.9 275.6h0M576.5 279.6h0M541.4 287.2h0M566.0 306.9h0M578.8 282.0h0M533.8 314.4h0M577.8 287.4h0M583.8 275.0h0M585.3 281.1h0M551.6 321.8h0M569.0 276.3h0M524.8 305.4h0M533.2 304.3h0M567.2 274.4h0M539.4 310.8h0M539.1 318.8h0M588.5 274.4h0M521.9 323.8h0M578.5 282.7h0M585.1 277.5h0M569.9 294.0h0M537.7 307.1h0M565.9 286.3h0M533.3 318.4h0M573.6 278.2h0M578.7 287.0h0M585.0 271.5h0M523.9 330.8h0M543.1 317.5h0M569.0 276.5h0M553.3 279.1h0M566.7 287.5h0M541.5 323.1h0M547.4 283.5h0M576.0 272.4h0M566.3 280.8h0M541.6 325.7h0M574.4 278.5h0M519.6 329.1h0M533.3 296.4h0M575.3 271.0h0M567.7 271.3h0M538.8 317.1h0M566.2 275.1h0M585.4 271.3h0M544.5 286.6h0M543.8 285.5h0M567.9 271.5h0M538.9 317.0h0M567.1 279.4h0M536.8 312.1h0M519.7 326.4h0M538.8 311.8h0M573.1 269.9h0M560.8 313.7h0M552.8 280.2h0M543.2 309.5h0M545.1 320.7h0M582.1 276.1h0M567.1 304.7h0M533.7 313.8h0M562.9 281.1h0M571.7 273.2h0M557.1 280.1h0M558.8 281.0h0M550.0 279.9h0M560.6 311.9h0M566.1 283.1h0M541.3 286.4h0M566.9 272.9h0M569.8 275.6h0M569.8 285.1h0M573.0 270.5h0M520.8 311.0h0M521.6 308.7h0M549.8 279.6h0M569.5 301.2h0M570.2 276.0h0M579.5 275.6h0M584.9 279.2h0M565.9 289.3h0M540.5 327.6h0M539.4 328.9h0M580.8 280.0h0M544.2 322.1h0M565.7 289.2h0M570.0 297.8h0M572.8 277.5h0M542.1 322.9h0M521.3 318.7h0M520.4 328.5h0M520.8 319.2h0M575.3 274.6h0M574.0 272.4h0M582.7 280.4h0M541.1 316.4h0M535.7 289.8h0M550.1 318.7h0M523.4 307.6h0M564.5 308.7h0M562.9 308.8h0M532.7 294.4h0M564.6 283.8h0M549.4 321.8h0M526.6 305.2h0M536.1 321.0h0M547.2 282.4h0M519.8 308.6h0M540.1 314.0h0M535.6 323.1h0M547.7 319.6h0M572.7 279.3h0M537.1 314.9h0M539.4 318.2h0M570.9 286.5h0M572.6 285.5h0M520.7 312.9h0M549.2 319.1h0M522.1 326.7h0M537.0 303.7h0M521.9 321.8h0M583.7 273.5h0M553.4 314.7h0M522.8 307.0h0M545.7 317.6h0M539.5 327.5h0M565.3 289.5h0M567.1 279.7h0M576.5 277.1h0M540.1 288.2h0M569.1 295.7h0M543.3 311.7h0M533.2 295.4h0M566.3 305.7h0M560.8 314.4h0M530.6 304.6h0M541.2 307.1h0M534.0 315.4h0M531.7 312.7h0M585.0 274.4h0M558.8 279.0h0M554.4 319.7h0M540.0 288.9h0M550.5 278.9h0M537.8 289.9h0M542.8 317.0h0M540.3 313.0h0M539.6 290.4h0M559.3 281.2h0M576.2 280.4h0M572.0 272.7h0M542.5 320.4h0M581.8 274.7h0M520.0 319.2h0M566.8 279.4h0M520.1 325.6h0M558.5 275.9h0M585.2 281.2h0M521.7 326.5h0M566.1 305.3h0M535.5 320.0h0M536.3 309.8h0M567.7 300.6h0M579.5 280.7h0M567.6 275.3h0M533.8 310.5h0M534.1 302.7h0M549.5 317.6h0M567.6 302.0h0M554.4 280.0h0M542.5 309.3h0M573.9 274.3h0M559.4 279.6h0M539.3 287.9h0M519.6 329.0h0M561.7 278.5h0M537.2 309.5h0M524.2 308.4h0M571.8 285.6h0M569.2 286.7h0M542.8 311.7h0M569.7 294.7h0M572.5 285.4h0M545.4 317.7h0M537.7 304.2h0M578.5 277.0h0M587.0 267.5h0M541.8 287.1h0M582.2 273.9h0M545.3 321.6h0M573.3 273.3h0M521.5 311.5h0M557.7 279.3h0M585.1 271.3h0M532.5 315.1h0M549.9 321.9h0M520.4 322.0h0M543.0 322.2h0M532.3 299.4h0M552.3 283.8h0M576.1 271.2h0M543.0 323.1h0M561.7 278.8h0M564.8 278.5h0M557.7 279.4h0M556.5 316.0h0M574.9 283.8h0M568.4 302.3h0M546.8 320.7h0M576.8 285.1h0M546.0 317.5h0M520.4 329.1h0M577.4 287.4h0M556.1 276.7h0M534.4 299.3h0M535.0 317.6h0M538.6 306.5h0M569.5 272.9h0M521.0 313.6h0M569.9 294.5h0M574.5 286.6h0M521.7 327.9h0M571.9 278.2h0M535.4 314.3h0M529.9 303.8h0M578.4 285.0h0M535.4 291.7h0M585.3 281.2h0M534.8 330.4h0M569.0 300.2h0M581.4 284.3h0M526.2 305.4h0M575.5 285.9h0M536.3 318.0h0M538.6 318.7h0M567.7 287.6h0M520.8 308.7h0M582.8 269.9h0M570.5 279.7h0M520.7 325.9h0M567.1 277.2h0M534.6 322.5h0M578.2 277.4h0M572.3 286.5h0M557.8 277.7h0M524.0 329.5h0M574.8 277.4h0M533.4 310.0h0M534.9 331.9h0M561.5 277.7h0M577.0 277.2h0M555.4 281.4h0M536.6 312.9h0M536.3 306.0h0M555.5 314.5h0M520.5 310.2h0M565.5 304.9h0M532.0 312.7h0M556.7 315.5h0M564.6 277.6h0M583.4 274.5h0M552.9 314.9h0M577.2 287.2h0M535.4 319.9h0M523.5 330.3h0M536.7 313.2h0M570.5 280.7h0M538.6 322.6h0M566.9 284.6h0M561.3 278.6h0M576.4 286.1h0M569.5 280.3h0M569.3 298.8h0M529.0 302.6h0M540.8 309.1h0M562.9 310.9h0M570.2 277.0h0M582.4 273.4h0M521.9 326.2h0M533.5 297.5h0M564.8 279.4h0M553.7 280.8h0M587.5 268.1h0M541.3 308.8h0M548.9 283.5h0M570.1 300.2h0M585.3 272.4h0M540.2 324.1h0M583.4 275.3h0M546.8 317.7h0M584.2 277.1h0M565.2 286.4h0M588.2 274.4h0M572.8 280.1h0M538.3 325.9h0M581.7 278.8h0M550.0 317.6h0M550.9 318.9h0M572.8 271.3h0M534.4 319.7h0M572.6 274.6h0M568.8 287.1h0M535.7 329.8h0M570.4 300.9h0M535.4 303.5h0M534.9 292.3h0M549.1 320.7h0M540.7 318.7h0M574.1 277.5h0M583.9 281.3h0M585.4 281.8h0M541.8 320.1h0M570.3 299.8h0M566.3 279.8h0M539.0 307.2h0M537.0 331.5h0M573.3 285.8h0M539.5 316.2h0M579.7 282.8h0M546.7 283.8h0M538.0 324.9h0M521.7 325.0h0M555.4 281.4h0M554.9 281.0h0M541.0 308.8h0M540.6 287.2h0M580.2 278.3h0M535.4 310.4h0M551.9 322.1h0M536.7 290.4h0M536.9 307.2h0M537.1 290.1h0M568.5 295.6h0M541.4 312.1h0M524.9 330.9h0M521.2 312.8h0M540.0 316.8h0M543.5 314.4h0M519.6 311.4h0M543.4 309.3h0M574.8 275.5h0M587.4 268.0h0M582.8 277.5h0M578.4 284.3h0M562.1 280.0h0M541.3 308.9h0M580.0 279.1h0M576.2 282.6h0M535.5 331.0h0M571.8 272.0h0M563.7 310.2h0M571.1 276.6h0M567.8 276.3h0M536.8 307.7h0M536.3 330.7h0M524.2 305.8h0M575.9 270.7h0M565.9 307.0h0M545.8 322.1h0M535.2 302.5h0M522.0 309.9h0M584.1 272.7h0M520.5 313.6h0M539.6 318.4h0M540.3 309.0h0M580.3 275.8h0M528.9 300.8h0M563.3 309.4h0M533.7 311.5h0M540.1 316.6h0M561.8 309.0h0M537.4 303.7h0M543.8 321.9h0M569.9 285.2h0M540.9 317.7h0M544.5 321.1h0M547.3 322.3h0M575.5 271.3h0M572.6 273.3h0M570.5 276.7h0M556.1 315.0h0M571.9 271.9h0M519.9 327.7h0M571.0 282.6h0M578.8 280.3h0M533.2 309.5h0M558.1 315.9h0M557.6 277.5h0M523.2 332.3h0M565.7 303.8h0M572.9 276.5h0M538.9 319.7h0M547.5 321.2h0M572.4 285.6h0M567.3 276.4h0M543.1 323.0h0M558.1 275.8h0M572.4 272.0h0M577.5 273.4h0M580.6 275.9h0M577.8 278.9h0M566.4 306.7h0M523.7 307.4h0M564.0 281.2h0M562.7 309.7h0M552.3 322.4h0M579.4 287.2h0M579.0 285.9h0M553.8 281.3h0M578.7 279.9h0M559.4 278.3h0M544.1 323.0h0M564.8 279.9h0M587.3 272.9h0M534.3 304.9h0M542.7 316.9h0M567.6 271.5h0M533.4 300.6h0M574.3 273.8h0M537.1 315.9h0M579.1 273.5h0M542.2 307.4h0M540.9 319.1h0M537.0 313.1h0M554.1 316.6h0M569.5 301.5h0M539.3 309.5h0M578.1 282.6h0M572.2 284.8h0M556.2 316.0h0M546.5 322.9h0M571.5 286.9h0M533.7 308.9h0M584.9 276.3h0M538.0 312.3h0M530.0 300.6h0M521.8 317.4h0M529.2 304.9h0M583.5 279.8h0M550.0 279.1h0M585.0 284.4h0M539.0 325.4h0M566.3 279.1h0M568.6 282.3h0M535.2 291.1h0M535.3 305.2h0M582.8 283.1h0M553.3 279.4h0M537.9 329.3h0M535.8 288.8h0M584.1 282.8h0M520.0 317.3h0M556.3 314.9h0M538.1 317.4h0" stroke="#8fc2e1" stroke-width="2.40" stroke-linecap="round" fill="none"/><path d="M548.0 284.8h0M554.0 284.1h0M549.0 310.5h0M551.5 287.1h0M543.9 311.8h0M548.4 312.2h0M528.1 323.4h0M567.2 301.8h0M547.6 286.2h0M535.8 300.6h0M563.8 305.3h0M544.7 289.5h0M532.0 332.2h0M535.4 329.1h0M541.6 303.6h0M558.3 314.2h0M538.9 297.0h0M545.2 309.8h0M531.5 320.8h0M567.2 292.0h0M524.8 321.1h0M526.8 330.6h0M564.1 302.8h0M524.1 315.3h0M562.2 298.4h0M566.3 293.8h0M541.8 297.0h0M524.2 327.1h0M558.0 309.7h0M526.2 313.5h0M562.5 283.9h0M533.3 307.8h0M563.3 284.7h0M539.0 302.1h0M567.4 301.9h0M553.7 282.8h0M559.5 292.1h0M537.8 297.2h0M541.7 288.8h0M541.3 294.0h0M530.5 320.0h0M539.7 293.4h0M566.0 295.0h0M536.1 298.3h0M556.1 286.6h0M530.2 324.8h0M529.7 308.7h0M538.3 295.4h0M540.9 305.0h0M558.4 312.0h0M530.0 330.3h0M541.1 300.3h0M527.3 310.0h0M566.6 291.8h0M560.5 292.2h0M548.0 312.6h0M530.4 314.0h0M552.0 312.0h0M535.6 299.4h0M563.7 286.7h0M547.8 290.0h0M560.4 284.4h0M529.6 319.0h0M549.4 285.7h0M533.8 323.0h0M565.8 299.0h0M558.1 282.0h0M539.2 296.4h0M564.3 298.4h0M564.1 297.8h0M564.4 299.6h0M549.1 284.8h0M530.6 322.9h0M564.4 292.0h0M534.4 324.2h0M555.5 286.2h0M551.0 315.6h0M531.5 329.9h0M540.9 290.3h0M556.5 313.2h0M534.4 326.3h0M533.6 328.6h0M560.8 282.1h0M527.6 306.6h0M530.4 308.5h0M533.7 327.1h0M555.1 284.1h0M543.8 304.0h0M531.6 328.1h0M544.7 306.5h0M563.4 293.7h0M525.3 321.4h0M530.3 314.4h0M565.2 294.1h0M530.2 308.9h0M557.8 283.5h0M535.8 325.0h0M564.5 283.9h0M541.0 290.2h0M531.7 329.3h0M552.2 311.9h0M549.3 287.6h0M536.2 299.1h0M559.3 282.2h0M533.1 307.9h0M548.1 316.2h0M563.6 289.8h0M534.7 327.1h0M533.7 329.4h0M541.9 304.2h0M560.1 309.0h0M563.2 299.4h0M526.2 308.1h0M526.0 322.4h0M547.9 310.8h0M563.6 298.7h0M558.0 311.1h0M548.9 311.2h0M557.8 313.8h0M527.6 322.5h0M532.1 306.5h0M555.9 308.9h0M536.0 294.6h0M542.8 290.6h0M561.8 302.1h0M532.5 324.2h0M545.7 290.4h0M539.5 296.1h0M523.7 315.4h0M530.0 330.3h0M527.5 311.8h0M541.6 289.8h0M528.7 330.9h0M527.4 307.6h0M543.3 292.2h0M532.8 329.3h0M551.0 313.1h0M525.4 323.7h0M557.5 286.0h0M563.3 293.3h0M559.0 282.0h0M532.1 326.5h0M564.5 285.1h0M546.0 303.2h0M528.9 320.1h0M533.4 326.4h0M549.1 289.5h0M563.2 287.4h0M538.7 293.6h0M536.5 301.3h0M560.4 286.3h0M554.3 284.4h0M523.0 312.1h0M530.2 332.2h0M526.3 306.1h0M540.3 299.9h0M565.8 292.2h0M525.5 313.5h0M559.8 287.5h0M550.2 284.8h0M544.1 302.3h0M526.1 310.2h0M523.3 319.4h0M531.1 306.4h0M534.9 326.1h0M531.0 312.8h0M544.0 308.0h0M528.5 332.3h0M544.5 293.2h0M545.2 309.2h0M566.0 301.8h0M534.3 308.4h0M526.4 312.0h0M541.7 305.2h0M538.0 291.7h0M531.3 310.1h0M530.2 322.5h0M567.3 295.5h0M565.0 293.9h0M524.5 326.2h0M540.8 302.4h0M538.2 298.4h0M557.1 285.1h0M530.4 309.3h0M564.7 291.6h0M532.2 325.1h0M556.1 311.0h0M539.9 295.2h0M532.7 330.2h0M532.8 321.3h0M563.7 301.9h0M545.2 308.6h0M563.0 292.7h0M537.8 292.6h0M526.4 321.9h0M541.1 304.5h0M563.2 288.6h0M528.0 312.1h0M563.0 308.4h0M547.3 285.5h0M562.4 307.0h0M555.9 285.2h0M535.2 298.3h0M564.8 302.2h0M549.4 288.7h0M545.1 309.2h0M523.5 325.8h0M538.8 297.1h0M549.3 309.0h0M546.9 284.8h0M552.1 315.2h0M542.6 301.6h0M545.2 316.1h0M537.1 295.7h0M546.9 314.9h0M523.5 326.6h0M535.6 300.2h0M552.7 285.0h0M533.6 325.8h0M546.0 290.1h0M527.4 320.8h0M535.4 298.0h0M523.4 315.3h0M537.3 299.9h0M525.4 321.9h0M524.1 325.9h0M531.2 316.9h0M525.1 309.2h0M535.9 300.9h0M522.9 314.6h0M560.9 285.5h0M524.1 316.6h0M535.1 296.6h0M562.8 300.4h0M558.3 287.4h0M532.8 306.2h0M563.9 291.7h0M531.9 331.6h0M543.3 293.9h0M567.3 297.3h0M547.0 315.5h0M546.5 313.7h0M536.9 298.2h0M545.9 301.7h0M540.7 292.4h0M533.7 330.8h0M565.0 295.8h0M535.3 296.0h0M563.1 299.0h0M523.3 309.9h0M565.5 299.3h0M554.7 283.3h0M539.5 294.8h0M532.6 321.0h0M547.4 288.5h0M523.6 319.8h0M556.6 286.6h0M559.0 289.1h0M530.4 323.3h0M524.0 318.0h0M560.7 288.8h0M558.9 289.5h0M550.2 317.0h0M531.0 316.2h0M563.7 292.3h0M543.9 306.7h0M530.9 306.3h0M556.3 310.3h0M560.9 282.3h0M528.2 319.5h0M540.0 301.5h0M523.6 313.8h0M546.9 309.5h0M548.1 285.8h0M548.0 314.7h0M524.6 316.6h0M547.3 317.0h0M539.8 291.3h0M564.6 290.4h0M532.0 323.1h0M546.2 297.8h0M532.4 331.8h0M536.2 327.7h0M543.2 293.5h0M562.1 300.8h0M523.5 317.2h0M524.8 309.5h0M524.8 312.8h0M562.0 295.8h0M528.3 317.9h0M558.4 311.7h0M524.5 309.2h0M563.2 295.7h0M545.6 313.1h0M533.7 308.1h0M562.0 294.8h0M533.8 330.5h0M526.5 306.7h0M561.7 297.7h0M542.1 301.5h0M530.5 309.7h0M555.3 282.8h0M529.7 307.0h0M526.7 320.5h0M563.8 304.7h0M531.4 319.6h0M545.5 309.3h0M559.8 290.8h0M562.6 306.2h0M563.2 300.1h0M529.2 322.3h0M541.5 305.0h0M550.8 311.5h0M527.5 329.9h0M540.5 294.8h0M551.0 314.2h0M534.7 297.4h0M527.3 314.7h0M544.4 316.6h0M555.9 289.5h0M531.3 317.7h0M526.4 318.5h0M529.2 309.2h0M529.8 316.7h0M561.9 300.3h0M534.9 323.9h0M554.7 282.5h0M551.2 311.5h0M544.6 305.9h0M537.5 296.5h0M547.5 308.8h0M543.4 305.4h0M525.8 311.0h0M553.1 285.6h0M529.1 330.8h0M561.7 283.5h0M533.2 324.7h0M550.0 284.7h0M547.9 315.4h0M537.4 300.1h0M545.5 301.3h0M541.3 300.8h0M528.0 316.8h0M523.1 312.9h0M567.4 293.6h0M533.6 305.9h0M543.8 314.4h0M556.8 310.6h0M548.2 308.9h0M522.6 312.5h0M524.4 312.1h0M524.1 318.5h0M527.3 319.0h0M541.4 295.0h0M524.4 326.0h0M526.1 316.0h0M531.2 325.7h0M539.7 292.4h0M532.0 323.9h0M554.1 285.1h0M527.9 309.9h0M546.7 286.2h0M530.5 308.7h0M536.8 300.1h0M547.4 289.7h0M532.9 323.4h0M538.2 292.1h0M559.2 285.1h0M562.1 283.9h0M525.1 328.2h0M526.3 305.7h0M551.9 314.6h0M538.0 295.0h0M538.4 300.6h0M559.5 292.6h0M537.6 290.8h0M541.7 301.8h0M530.5 324.8h0M551.5 311.6h0M533.5 329.7h0M556.2 309.7h0M548.8 313.0h0M542.6 291.7h0M537.1 302.2h0M544.5 314.2h0M563.2 289.4h0M537.1 325.8h0M542.8 303.0h0M539.6 301.0h0M538.7 292.7h0M563.5 306.8h0M551.8 316.6h0M563.1 284.9h0M534.9 296.3h0M540.3 292.4h0M556.9 312.6h0M560.9 284.6h0M531.5 314.8h0M545.2 307.7h0M546.3 304.5h0M536.2 328.4h0M547.0 313.8h0M566.4 295.8h0M546.4 311.9h0M531.7 306.5h0M532.8 321.8h0M548.1 287.7h0M549.8 312.7h0M526.3 330.4h0M530.9 309.4h0M524.0 319.4h0M522.6 311.1h0M540.1 300.0h0M541.7 293.1h0M544.4 290.5h0M536.2 326.8h0M549.2 284.9h0M548.9 287.7h0M559.7 284.9h0M562.3 290.5h0M524.5 310.0h0M554.3 284.8h0M523.4 308.4h0M537.7 294.8h0M545.7 311.7h0M528.3 319.1h0M565.7 292.8h0M562.5 292.5h0M562.7 283.8h0M558.7 285.4h0M544.7 293.0h0M529.9 325.7h0M565.7 299.8h0M555.8 286.5h0M529.0 331.4h0M527.8 332.4h0M526.3 322.5h0M545.7 312.5h0M525.2 329.2h0M527.3 330.7h0M529.6 307.7h0M544.0 297.2h0M563.0 296.7h0M532.4 320.5h0M523.0 314.1h0M544.9 290.1h0M551.5 284.6h0M555.8 282.0h0M523.7 323.7h0M564.4 304.5h0M547.7 315.2h0M523.0 315.0h0M522.7 310.5h0M530.5 306.3h0M533.0 328.2h0M525.6 332.0h0M563.8 286.0h0M567.0 292.2h0M563.7 288.3h0M538.3 291.2h0M561.1 291.7h0M553.8 286.1h0M548.0 284.6h0M564.2 308.3h0M522.6 318.5h0M544.2 309.5h0M563.9 283.8h0M564.0 283.3h0M535.6 326.7h0M565.3 294.7h0M556.3 284.2h0M563.7 286.6h0M550.8 312.0h0M539.1 295.7h0M556.6 285.4h0M530.1 306.6h0M559.8 310.3h0M543.9 306.9h0M527.5 313.8h0M564.0 283.3h0M525.2 326.5h0M530.0 330.7h0M531.6 329.5h0M525.3 320.9h0M537.4 294.7h0M528.3 321.4h0M523.1 321.1h0M533.5 325.1h0M548.8 284.7h0M531.5 314.4h0M530.1 314.1h0M537.5 296.5h0M558.5 282.0h0M563.7 306.6h0M538.0 295.9h0M556.3 311.4h0M567.2 293.8h0M564.7 290.9h0M534.2 307.3h0M536.4 329.3h0M530.0 306.9h0M533.7 306.5h0M527.7 329.9h0M544.7 301.7h0M544.8 307.6h0M526.6 307.0h0M529.6 317.4h0M543.2 296.1h0M561.9 285.5h0M557.8 286.9h0M527.2 315.8h0M538.9 295.9h0M543.8 312.8h0M525.3 318.6h0M543.7 293.8h0M542.0 304.7h0M547.8 312.4h0M525.3 316.6h0M546.0 297.1h0M552.6 314.4h0M528.0 315.7h0M564.2 291.5h0M560.5 290.6h0M523.7 327.8h0M541.6 295.0h0M551.2 313.6h0M537.2 327.2h0M530.0 331.8h0M532.3 327.9h0M526.7 307.5h0M563.1 286.4h0M536.1 298.8h0M550.1 285.5h0M556.1 311.1h0M567.2 294.2h0M546.5 314.9h0M566.0 295.3h0M523.2 320.0h0M542.1 296.3h0M528.2 316.6h0M527.4 320.6h0M528.0 307.7h0M530.6 329.9h0M544.8 310.9h0M549.4 288.0h0M562.8 291.6h0M527.0 315.9h0M558.9 286.2h0M567.5 293.0h0M528.3 310.8h0M525.9 331.6h0M522.9 313.9h0M539.9 293.8h0M545.4 313.2h0M546.9 313.7h0M535.0 329.0h0M522.8 329.3h0M544.8 302.1h0M536.0 293.7h0M543.6 301.1h0M549.6 285.4h0M533.7 326.2h0M531.5 315.3h0M551.6 313.4h0M532.8 328.9h0M544.0 306.1h0M563.9 305.3h0M555.8 314.2h0M560.8 286.5h0M529.3 306.1h0M537.1 327.1h0M537.1 297.3h0M543.1 304.5h0M523.8 315.0h0M546.7 284.9h0M547.7 289.1h0M563.0 303.0h0M537.9 291.7h0M541.0 290.3h0M535.9 295.6h0M529.0 312.8h0M557.1 285.2h0M567.2 297.9h0M530.4 313.2h0M525.0 327.1h0M531.3 312.7h0M540.9 290.5h0M565.3 294.7h0M541.4 289.0h0M544.2 298.6h0M560.0 283.6h0M541.0 289.7h0M534.7 302.0h0M541.3 300.9h0M562.5 302.5h0M537.3 301.4h0M528.1 308.9h0M566.1 292.8h0M530.0 313.3h0M534.0 327.2h0M529.3 322.2h0M562.7 287.8h0M545.2 303.1h0M560.0 292.0h0M560.6 284.0h0M559.5 284.1h0M545.2 315.2h0M545.3 293.8h0M549.4 316.9h0M536.0 301.4h0M545.4 287.6h0M549.8 285.6h0M563.3 300.0h0M558.1 313.0h0M554.7 312.1h0M530.0 306.1h0M561.5 285.3h0M556.1 286.6h0M535.7 328.0h0M546.0 299.9h0M550.9 314.9h0M565.1 294.8h0M565.8 292.0h0M531.0 318.6h0M548.6 287.2h0M531.8 331.8h0M538.7 294.6h0M565.6 292.7h0M529.1 314.2h0M544.8 307.7h0M540.9 294.1h0M555.6 289.4h0M534.5 327.6h0M539.9 290.8h0M560.9 284.5h0M529.2 322.3h0M522.9 318.5h0M549.4 315.7h0M530.6 307.1h0M562.8 305.2h0M528.9 311.8h0M544.2 308.4h0M538.4 301.1h0M527.2 307.7h0M522.9 318.9h0M542.8 291.3h0M540.4 295.5h0M545.3 316.4h0M527.2 332.4h0M545.9 289.4h0" stroke="#89bdde" stroke-width="2.40" stroke-linecap="round" fill="none"/><path d="M549.5 298.8h0M549.7 310.3h0M547.2 293.6h0M559.7 298.9h0M551.7 293.2h0M526.0 324.7h0M527.9 328.2h0M525.6 325.5h0M550.0 293.2h0M551.5 300.0h0M551.3 292.5h0M558.6 298.5h0M552.4 291.4h0M550.1 288.2h0M549.9 296.8h0M549.2 295.0h0M551.8 289.0h0M553.8 290.4h0M561.4 301.0h0M550.2 297.8h0M548.3 294.7h0M551.8 295.0h0M549.6 293.7h0M554.7 306.0h0M550.3 294.9h0M548.3 305.5h0M552.1 294.1h0M528.1 327.4h0M547.1 308.2h0M558.9 305.4h0M552.0 291.0h0M551.4 308.4h0M559.8 294.1h0M551.5 298.6h0M551.4 295.9h0M553.8 310.8h0M551.6 301.3h0M554.6 289.7h0M550.8 292.6h0M548.0 300.7h0M547.9 292.9h0M560.2 304.3h0M555.8 292.0h0M558.8 295.6h0M547.2 304.6h0M560.8 305.3h0M560.9 302.8h0M547.5 303.0h0M549.9 292.3h0M557.7 296.4h0M552.5 311.1h0M550.4 293.6h0M554.7 294.1h0M559.8 300.1h0M561.4 300.8h0M554.7 292.6h0M560.5 308.4h0M557.3 297.4h0M551.2 290.7h0M551.8 290.2h0M554.8 309.4h0M548.8 300.9h0M527.1 327.8h0M558.9 304.0h0M558.3 305.6h0M552.9 288.1h0M551.5 292.0h0M554.2 309.9h0M555.2 287.7h0M549.0 307.5h0M549.7 311.0h0M526.9 328.3h0M546.6 301.2h0M554.1 288.2h0M549.8 309.4h0M560.2 300.5h0M555.8 308.2h0M553.7 306.4h0M547.0 306.1h0M552.4 298.9h0M553.2 311.3h0M554.9 292.7h0M546.7 293.6h0M559.9 301.1h0M561.3 293.6h0M528.5 323.6h0M557.8 292.9h0M552.9 306.7h0M526.4 327.4h0M557.1 292.2h0M549.9 295.7h0M548.3 296.3h0M554.3 291.8h0M558.9 307.1h0M555.6 307.6h0M548.6 303.6h0M554.7 309.2h0M557.0 298.4h0M556.1 305.9h0M550.1 305.5h0M553.8 291.2h0M554.3 311.4h0M552.5 299.9h0M556.6 306.4h0M548.2 303.9h0M526.6 324.5h0M555.2 288.5h0M528.4 323.5h0M552.3 299.6h0M547.1 306.1h0M553.1 289.9h0M547.1 292.3h0M528.8 328.2h0M555.9 298.6h0M547.5 305.2h0M548.8 306.5h0M551.3 291.9h0M550.2 297.2h0M546.9 306.1h0M558.4 306.8h0M558.4 297.5h0M550.1 309.4h0M552.8 308.1h0M557.5 298.3h0M553.6 291.1h0M558.2 307.0h0M552.5 301.3h0M557.4 306.7h0M547.4 295.8h0M559.1 300.9h0M551.6 292.0h0M553.5 292.1h0M528.0 326.3h0M550.6 310.2h0M560.9 305.5h0M549.7 300.2h0M547.5 295.9h0M547.8 303.7h0M525.7 326.0h0M548.7 297.6h0M554.3 310.4h0M551.0 289.0h0M550.0 300.5h0M548.8 297.8h0M525.8 327.1h0M560.5 307.1h0M550.8 300.1h0M551.9 297.3h0M554.0 294.4h0M547.5 297.6h0M551.0 289.5h0M526.4 324.2h0M549.2 291.6h0M552.3 292.9h0M548.1 292.8h0M548.6 293.3h0M551.2 295.7h0M557.7 307.5h0M548.1 299.5h0M527.7 324.8h0M548.2 298.6h0M547.1 304.2h0M553.4 289.3h0M551.0 290.0h0M558.8 297.8h0M547.2 291.4h0M560.5 301.4h0M552.9 295.5h0M548.2 307.6h0M551.9 290.9h0M547.6 306.5h0M558.8 308.1h0M547.8 300.9h0M530.0 326.9h0M561.3 304.1h0M561.1 296.3h0M556.6 296.7h0M556.4 307.8h0M552.5 303.0h0M557.5 308.3h0M559.5 303.3h0M528.4 328.3h0M561.4 295.6h0M555.5 310.7h0M553.1 292.9h0M559.0 297.9h0M547.9 304.4h0M549.9 307.3h0M550.3 292.2h0M558.4 291.3h0M553.0 294.3h0M560.5 297.7h0M556.9 295.6h0M546.8 305.4h0M551.4 301.4h0M550.0 308.8h0M559.5 302.7h0M560.6 303.1h0M549.9 307.9h0M553.6 291.2h0M559.2 308.3h0M550.2 307.6h0M549.3 300.2h0M549.2 299.4h0M555.7 296.1h0M551.7 304.1h0M559.9 297.0h0M559.9 308.1h0M549.2 298.3h0M547.8 299.4h0M551.0 295.9h0M551.8 293.5h0M561.3 306.6h0M561.4 295.8h0M552.0 295.7h0M551.3 300.1h0M527.4 326.5h0M555.1 294.7h0M554.2 292.7h0M561.2 306.6h0M553.6 293.1h0M553.0 289.9h0M550.8 290.5h0M551.8 301.7h0M551.0 294.1h0M526.4 328.0h0M548.7 293.1h0M551.1 297.1h0M553.5 306.9h0M557.7 297.6h0M560.7 298.1h0M554.4 291.2h0M551.8 300.9h0M548.6 297.7h0M555.0 295.7h0M549.7 309.0h0M556.2 296.3h0M526.9 324.1h0M560.7 294.9h0M550.0 300.1h0M555.3 292.0h0M526.7 328.9h0M555.4 294.9h0M558.5 307.0h0M559.5 305.1h0M551.6 310.8h0M546.6 308.4h0M550.8 308.8h0M549.1 295.6h0" stroke="#82b9dc" stroke-width="2.40" stroke-linecap="round" fill="none"/><path d="M555.3 301.9h0M553.2 301.5h0M553.4 297.4h0M557.7 305.1h0M555.2 300.1h0M555.1 297.5h0M555.2 299.3h0M552.7 303.6h0M555.3 303.8h0M556.4 301.3h0M555.7 302.9h0M553.5 296.4h0M552.6 303.0h0M558.2 304.8h0M552.8 304.6h0M555.9 301.3h0M554.6 304.4h0M554.4 302.7h0M556.4 303.0h0M556.9 302.1h0M556.0 302.9h0M553.1 302.0h0M558.2 301.7h0M555.9 300.2h0M553.0 303.1h0M557.0 303.7h0M558.1 300.0h0M552.6 301.0h0M558.3 302.4h0M553.7 304.6h0M553.8 298.6h0M557.5 301.8h0M557.0 303.9h0M552.6 299.6h0M554.5 302.7h0M554.7 304.9h0M553.8 302.1h0M553.6 296.5h0M557.3 301.6h0M553.8 302.5h0M555.2 296.6h0M555.6 305.1h0M553.4 303.4h0M556.6 302.8h0M553.3 302.1h0M553.3 296.4h0M557.0 301.2h0M556.5 305.1h0M554.3 302.5h0" stroke="#7cb4da" stroke-width="2.40" stroke-linecap="round" fill="none"/>
<rect x="522.0" y="277.0" width="52.0" height="47.0" fill="#8bbfe0"/>
<path d="M523.0 276.8h0M523.0 324.7h0M525.0 277.1h0M525.0 324.0h0M527.0 277.0h0M527.0 324.4h0M529.0 276.1h0M529.0 324.5h0M531.0 276.7h0M531.0 324.1h0M533.0 277.1h0M533.0 323.7h0M535.0 276.2h0M535.0 324.2h0M537.0 277.0h0M537.0 323.7h0M539.0 276.3h0M539.0 323.9h0M541.0 276.9h0M541.0 324.0h0M543.0 276.5h0M543.0 324.4h0M545.0 276.4h0M545.0 325.0h0M547.0 276.5h0M547.0 324.1h0M549.0 276.4h0M549.0 324.9h0M551.0 276.8h0M551.0 324.2h0M553.0 276.3h0M553.0 324.4h0M555.0 276.1h0M555.0 324.9h0M557.0 276.2h0M557.0 324.3h0M559.0 276.0h0M559.0 324.3h0M561.0 276.8h0M561.0 323.9h0M563.0 276.9h0M563.0 323.8h0M565.0 276.8h0M565.0 324.3h0M567.0 276.6h0M567.0 324.4h0M569.0 276.8h0M569.0 324.8h0M571.0 277.2h0M571.0 323.9h0M573.0 276.2h0M573.0 323.8h0M521.3 278.0h0M574.5 278.0h0M521.7 280.0h0M574.5 280.0h0M522.3 282.0h0M574.6 282.0h0M521.4 284.0h0M574.8 284.0h0M521.1 286.0h0M574.2 286.0h0M522.3 288.0h0M574.7 288.0h0M521.7 290.0h0M574.0 290.0h0M521.8 292.0h0M574.0 292.0h0M521.3 294.0h0M575.0 294.0h0M521.4 296.0h0M574.4 296.0h0M521.6 298.0h0M574.0 298.0h0M521.8 300.0h0M574.1 300.0h0M521.8 302.0h0M574.7 302.0h0M521.1 304.0h0M574.8 304.0h0M521.8 306.0h0M573.9 306.0h0M521.4 308.0h0M573.9 308.0h0M521.3 310.0h0M574.7 310.0h0M521.9 312.0h0M574.9 312.0h0M521.5 314.0h0M574.9 314.0h0M521.7 316.0h0M574.7 316.0h0M521.3 318.0h0M574.1 318.0h0M521.2 320.0h0M573.9 320.0h0M521.5 322.0h0M573.8 322.0h0" stroke="#8bbfe0" stroke-width="2.30" stroke-linecap="round" fill="none"/>
<rect x="520.0" y="283.8" width="48.0" height="45.2" fill="#7ab3da"/>
<path d="M521.0 283.7h0M521.0 328.7h0M523.0 283.5h0M523.0 329.8h0M525.0 283.6h0M525.0 329.9h0M527.0 283.5h0M527.0 329.3h0M529.0 284.0h0M529.0 329.8h0M531.0 283.8h0M531.0 329.3h0M533.0 283.6h0M533.0 329.1h0M535.0 283.5h0M535.0 329.1h0M537.0 283.5h0M537.0 329.7h0M539.0 283.2h0M539.0 330.0h0M541.0 283.0h0M541.0 328.8h0M543.0 283.1h0M543.0 329.2h0M545.0 283.8h0M545.0 329.8h0M547.0 283.2h0M547.0 329.1h0M549.0 284.1h0M549.0 329.4h0M551.0 283.5h0M551.0 329.7h0M553.0 284.0h0M553.0 329.2h0M555.0 283.6h0M555.0 329.5h0M557.0 283.8h0M557.0 329.2h0M559.0 283.5h0M559.0 329.4h0M561.0 283.7h0M561.0 329.8h0M563.0 283.7h0M563.0 329.9h0M565.0 284.0h0M565.0 329.1h0M567.0 283.8h0M567.0 329.6h0M519.3 284.8h0M568.2 284.8h0M519.0 286.8h0M568.2 286.8h0M519.6 288.8h0M568.3 288.8h0M520.2 290.8h0M568.5 290.8h0M519.1 292.8h0M568.3 292.8h0M519.1 294.8h0M568.6 294.8h0M519.6 296.8h0M568.6 296.8h0M519.9 298.8h0M568.7 298.8h0M519.6 300.8h0M568.4 300.8h0M519.8 302.8h0M568.9 302.8h0M519.7 304.8h0M568.1 304.8h0M519.4 306.8h0M567.8 306.8h0M520.2 308.8h0M567.9 308.8h0M519.2 310.8h0M568.4 310.8h0M519.1 312.8h0M568.2 312.8h0M519.8 314.8h0M568.0 314.8h0M519.7 316.8h0M568.2 316.8h0M519.2 318.8h0M568.3 318.8h0M519.6 320.8h0M569.0 320.8h0M519.8 322.8h0M568.9 322.8h0M519.4 324.8h0M568.8 324.8h0M520.3 326.8h0M568.5 326.8h0" stroke="#7ab3da" stroke-width="2.30" stroke-linecap="round" fill="none"/>
<rect x="519.4" y="290.5" width="43.0" height="42.5" fill="#5a9ccf"/>
<path d="M520.4 290.6h0M520.4 333.5h0M522.4 290.4h0M522.4 333.2h0M524.4 290.0h0M524.4 333.2h0M526.4 290.0h0M526.4 332.8h0M528.4 289.5h0M528.4 333.4h0M530.4 290.7h0M530.4 333.8h0M532.4 290.0h0M532.4 332.8h0M534.4 290.7h0M534.4 332.8h0M536.4 289.9h0M536.4 333.7h0M538.4 290.8h0M538.4 333.8h0M540.4 290.0h0M540.4 333.1h0M542.4 289.8h0M542.4 333.9h0M544.4 289.7h0M544.4 332.9h0M546.4 289.5h0M546.4 333.7h0M548.4 290.1h0M548.4 333.8h0M550.4 289.8h0M550.4 333.1h0M552.4 290.1h0M552.4 333.4h0M554.4 290.3h0M554.4 333.6h0M556.4 290.4h0M556.4 332.8h0M558.4 289.9h0M558.4 332.9h0M560.4 289.8h0M560.4 333.5h0M518.8 291.5h0M562.8 291.5h0M519.3 293.5h0M562.3 293.5h0M519.6 295.5h0M562.2 295.5h0M518.9 297.5h0M563.2 297.5h0M519.6 299.5h0M562.9 299.5h0M519.0 301.5h0M562.4 301.5h0M519.5 303.5h0M562.2 303.5h0M519.1 305.5h0M562.6 305.5h0M519.0 307.5h0M562.4 307.5h0M519.1 309.5h0M562.5 309.5h0M519.6 311.5h0M563.3 311.5h0M518.6 313.5h0M562.3 313.5h0M518.9 315.5h0M562.7 315.5h0M518.6 317.5h0M562.2 317.5h0M519.3 319.5h0M563.0 319.5h0M519.6 321.5h0M562.6 321.5h0M519.0 323.5h0M562.8 323.5h0M518.7 325.5h0M563.0 325.5h0M518.8 327.5h0M563.4 327.5h0M518.5 329.5h0M562.3 329.5h0M519.0 331.5h0M562.5 331.5h0" stroke="#5a9ccf" stroke-width="2.30" stroke-linecap="round" fill="none"/>
<rect x="517.0" y="297.0" width="38.8" height="39.0" fill="#3a82c2"/>
<path d="M518.0 296.1h0M518.0 336.9h0M520.0 296.8h0M520.0 335.9h0M522.0 296.7h0M522.0 336.1h0M524.0 297.1h0M524.0 336.3h0M526.0 297.3h0M526.0 336.5h0M528.0 296.8h0M528.0 336.4h0M530.0 296.1h0M530.0 335.9h0M532.0 296.4h0M532.0 336.1h0M534.0 296.7h0M534.0 335.9h0M536.0 296.1h0M536.0 336.5h0M538.0 296.8h0M538.0 335.9h0M540.0 296.9h0M540.0 336.9h0M542.0 296.5h0M542.0 336.0h0M544.0 297.0h0M544.0 336.0h0M546.0 297.2h0M546.0 336.5h0M548.0 296.2h0M548.0 336.9h0M550.0 296.9h0M550.0 336.6h0M552.0 297.1h0M552.0 336.3h0M554.0 297.0h0M554.0 335.8h0M516.6 298.0h0M556.3 298.0h0M516.6 300.0h0M556.0 300.0h0M516.7 302.0h0M556.0 302.0h0M516.4 304.0h0M556.8 304.0h0M517.3 306.0h0M555.7 306.0h0M516.3 308.0h0M556.6 308.0h0M516.2 310.0h0M555.9 310.0h0M516.8 312.0h0M556.3 312.0h0M516.6 314.0h0M555.8 314.0h0M516.1 316.0h0M556.8 316.0h0M516.4 318.0h0M555.6 318.0h0M516.6 320.0h0M556.2 320.0h0M516.7 322.0h0M555.8 322.0h0M516.1 324.0h0M556.2 324.0h0M516.3 326.0h0M555.6 326.0h0M517.0 328.0h0M556.5 328.0h0M516.5 330.0h0M556.5 330.0h0M516.3 332.0h0M555.6 332.0h0M516.9 334.0h0M556.5 334.0h0" stroke="#3a82c2" stroke-width="2.30" stroke-linecap="round" fill="none"/>
<rect x="513.0" y="304.3" width="34.0" height="34.2" fill="#1c5fa8"/>
<path d="M514.0 303.3h0M514.0 339.1h0M516.0 303.9h0M516.0 339.4h0M518.0 304.4h0M518.0 338.5h0M520.0 303.4h0M520.0 339.5h0M522.0 304.0h0M522.0 338.5h0M524.0 303.3h0M524.0 338.8h0M526.0 304.0h0M526.0 338.6h0M528.0 303.7h0M528.0 339.5h0M530.0 303.8h0M530.0 338.3h0M532.0 303.7h0M532.0 339.3h0M534.0 303.5h0M534.0 339.0h0M536.0 303.5h0M536.0 339.2h0M538.0 304.3h0M538.0 338.9h0M540.0 304.1h0M540.0 339.4h0M542.0 303.4h0M542.0 339.4h0M544.0 303.9h0M544.0 338.2h0M546.0 303.6h0M546.0 339.4h0M512.5 305.3h0M547.3 305.3h0M512.5 307.3h0M547.7 307.3h0M512.4 309.3h0M547.7 309.3h0M512.0 311.3h0M547.9 311.3h0M512.3 313.3h0M547.1 313.3h0M512.5 315.3h0M547.8 315.3h0M513.1 317.3h0M547.7 317.3h0M512.9 319.3h0M547.9 319.3h0M512.6 321.3h0M547.9 321.3h0M512.6 323.3h0M547.0 323.3h0M512.3 325.3h0M547.9 325.3h0M512.1 327.3h0M546.9 327.3h0M512.7 329.3h0M547.8 329.3h0M512.4 331.3h0M548.0 331.3h0M512.1 333.3h0M547.9 333.3h0M513.1 335.3h0M547.2 335.3h0M512.0 337.3h0M547.0 337.3h0" stroke="#1c5fa8" stroke-width="2.30" stroke-linecap="round" fill="none"/>
<rect x="511.6" y="318.0" width="6.1" height="20.2" fill="#1b55a0"/>
<path d="M512.6 317.9h0M512.6 339.2h0M514.6 318.2h0M514.6 339.0h0M516.6 318.1h0M516.6 338.8h0M511.9 319.0h0M518.2 319.0h0M511.0 321.0h0M518.4 321.0h0M511.9 323.0h0M517.5 323.0h0M510.9 325.0h0M517.9 325.0h0M511.1 327.0h0M517.6 327.0h0M510.8 329.0h0M517.8 329.0h0M511.6 331.0h0M517.8 331.0h0M511.6 333.0h0M517.4 333.0h0M510.8 335.0h0M518.2 335.0h0M511.7 337.0h0M517.5 337.0h0" stroke="#1b55a0" stroke-width="2.30" stroke-linecap="round" fill="none"/>
<rect x="517.7" y="312.0" width="18.2" height="25.9" fill="#22306a"/>
<path d="M518.7 311.1h0M518.7 338.5h0M520.7 311.2h0M520.7 337.8h0M522.7 311.9h0M522.7 338.3h0M524.7 311.5h0M524.7 338.1h0M526.7 311.3h0M526.7 338.0h0M528.7 311.3h0M528.7 338.7h0M530.7 312.2h0M530.7 337.7h0M532.7 311.9h0M532.7 338.4h0M534.7 311.2h0M534.7 338.8h0M516.9 313.0h0M536.5 313.0h0M517.2 315.0h0M535.9 315.0h0M517.6 317.0h0M536.8 317.0h0M517.0 319.0h0M536.0 319.0h0M517.3 321.0h0M535.9 321.0h0M517.3 323.0h0M535.7 323.0h0M517.2 325.0h0M536.4 325.0h0M518.0 327.0h0M536.6 327.0h0M516.7 329.0h0M536.4 329.0h0M517.7 331.0h0M536.7 331.0h0M517.5 333.0h0M536.4 333.0h0M517.6 335.0h0M535.9 335.0h0M517.3 337.0h0M536.6 337.0h0" stroke="#22306a" stroke-width="2.30" stroke-linecap="round" fill="none"/>
<path d="M508.6 260.0h0M508.6 261.4h0M508.6 262.8h0M508.6 264.2h0M508.6 265.6h0M508.6 267.0h0M508.6 268.4h0M508.6 269.8h0M508.6 271.2h0M508.6 272.6h0M508.6 274.0h0M508.6 275.4h0M508.6 276.8h0M508.6 278.2h0M508.6 279.6h0M508.6 281.0h0M508.6 282.4h0M508.6 283.8h0M508.6 285.2h0M508.6 286.6h0M508.6 288.0h0M508.6 289.4h0" stroke="#93c4e2" stroke-width="2.60" stroke-linecap="round" fill="none"/><path d="M508.6 290.8h0M508.6 292.2h0M508.6 293.6h0M508.6 295.0h0M508.6 296.4h0M508.6 297.8h0M508.6 299.2h0M508.6 300.6h0M508.6 302.0h0" stroke="#4a90c8" stroke-width="2.60" stroke-linecap="round" fill="none"/><path d="M508.6 303.4h0M508.6 304.8h0M508.6 306.2h0M508.6 307.6h0M508.6 309.0h0M508.6 310.4h0M508.6 311.8h0" stroke="#2a6db4" stroke-width="2.60" stroke-linecap="round" fill="none"/><path d="M508.6 313.2h0M508.6 314.6h0M508.6 316.0h0M508.6 317.4h0M508.6 318.8h0M508.6 320.2h0M508.6 321.6h0M508.6 323.0h0M508.6 324.4h0M508.6 325.8h0M508.6 327.2h0M508.6 328.6h0M508.6 330.0h0M508.6 331.4h0M508.6 332.8h0M508.6 334.2h0M508.6 335.6h0M508.6 337.0h0" stroke="#1e3b78" stroke-width="2.60" stroke-linecap="round" fill="none"/><path d="M508.6 338.4h0M508.6 339.8h0M508.6 341.2h0M508.6 342.6h0" stroke="#2166ac" stroke-width="2.60" stroke-linecap="round" fill="none"/>
<path d="M509.0 342.3h0M509.5 342.3h0M510.0 342.3h0M510.5 342.3h0M511.0 342.3h0M511.5 342.3h0M512.0 342.3h0M512.5 342.3h0" stroke="#2a6db4" stroke-width="3.00" stroke-linecap="round" fill="none"/><path d="M513.0 342.3h0M513.5 342.3h0M514.0 342.3h0" stroke="#2b6db4" stroke-width="3.00" stroke-linecap="round" fill="none"/><path d="M514.5 342.3h0M515.0 342.3h0M515.5 342.3h0M516.0 342.3h0M516.5 342.3h0M517.0 342.3h0M517.5 342.3h0M518.0 342.3h0M518.5 342.3h0M519.0 342.3h0M519.5 342.3h0M520.0 342.3h0M520.5 342.3h0" stroke="#2b6eb4" stroke-width="3.00" stroke-linecap="round" fill="none"/><path d="M521.0 342.3h0M521.5 342.3h0M522.0 342.3h0M522.5 342.3h0M523.0 342.3h0M523.5 342.3h0M524.0 342.3h0M524.5 342.3h0" stroke="#2c6eb4" stroke-width="3.00" stroke-linecap="round" fill="none"/><path d="M525.0 342.3h0M525.5 342.3h0M526.0 342.3h0M526.5 342.3h0M527.0 342.3h0M527.5 342.3h0M528.0 342.3h0" stroke="#2c6fb5" stroke-width="3.00" stroke-linecap="round" fill="none"/><path d="M528.5 342.3h0M529.0 342.3h0M529.5 342.3h0M530.0 342.3h0M530.5 342.3h0M531.0 342.3h0M531.5 342.3h0M532.0 342.3h0M532.5 342.3h0M533.0 342.3h0M533.5 342.3h0M534.0 342.3h0M534.5 342.3h0" stroke="#2d6fb5" stroke-width="3.00" stroke-linecap="round" fill="none"/><path d="M535.0 342.3h0M535.5 342.3h0M536.0 342.3h0" stroke="#2d70b5" stroke-width="3.00" stroke-linecap="round" fill="none"/><path d="M536.5 342.3h0M537.0 342.3h0M537.5 342.3h0M538.0 342.3h0M538.5 342.3h0M539.0 342.3h0M539.5 342.3h0M540.0 342.3h0" stroke="#2e70b5" stroke-width="3.00" stroke-linecap="round" fill="none"/><path d="M540.5 342.3h0" stroke="#2f71b6" stroke-width="3.00" stroke-linecap="round" fill="none"/><path d="M541.0 342.3h0" stroke="#3072b6" stroke-width="3.00" stroke-linecap="round" fill="none"/><path d="M541.5 342.3h0" stroke="#3274b7" stroke-width="3.00" stroke-linecap="round" fill="none"/><path d="M542.0 342.3h0" stroke="#3375b8" stroke-width="3.00" stroke-linecap="round" fill="none"/><path d="M542.5 342.3h0" stroke="#3476b8" stroke-width="3.00" stroke-linecap="round" fill="none"/><path d="M543.0 342.3h0" stroke="#3577b9" stroke-width="3.00" stroke-linecap="round" fill="none"/><path d="M543.5 342.3h0" stroke="#3679ba" stroke-width="3.00" stroke-linecap="round" fill="none"/><path d="M544.0 342.3h0" stroke="#387aba" stroke-width="3.00" stroke-linecap="round" fill="none"/><path d="M544.5 342.3h0" stroke="#397bbb" stroke-width="3.00" stroke-linecap="round" fill="none"/><path d="M545.0 342.3h0" stroke="#3a7cbc" stroke-width="3.00" stroke-linecap="round" fill="none"/><path d="M545.5 342.3h0" stroke="#3b7ebc" stroke-width="3.00" stroke-linecap="round" fill="none"/><path d="M546.0 342.3h0" stroke="#3c7fbd" stroke-width="3.00" stroke-linecap="round" fill="none"/><path d="M546.5 342.3h0" stroke="#3e80be" stroke-width="3.00" stroke-linecap="round" fill="none"/><path d="M547.0 342.3h0" stroke="#3f81be" stroke-width="3.00" stroke-linecap="round" fill="none"/><path d="M547.5 342.3h0" stroke="#4083bf" stroke-width="3.00" stroke-linecap="round" fill="none"/><path d="M548.0 342.3h0" stroke="#4184c0" stroke-width="3.00" stroke-linecap="round" fill="none"/><path d="M548.5 342.3h0" stroke="#4285c0" stroke-width="3.00" stroke-linecap="round" fill="none"/><path d="M549.0 342.3h0" stroke="#4486c1" stroke-width="3.00" stroke-linecap="round" fill="none"/><path d="M549.5 342.3h0" stroke="#4588c2" stroke-width="3.00" stroke-linecap="round" fill="none"/><path d="M550.0 342.3h0" stroke="#4689c2" stroke-width="3.00" stroke-linecap="round" fill="none"/><path d="M550.5 342.3h0" stroke="#478ac3" stroke-width="3.00" stroke-linecap="round" fill="none"/><path d="M551.0 342.3h0" stroke="#488bc4" stroke-width="3.00" stroke-linecap="round" fill="none"/><path d="M551.5 342.3h0" stroke="#4a8dc4" stroke-width="3.00" stroke-linecap="round" fill="none"/><path d="M552.0 342.3h0" stroke="#4b8ec5" stroke-width="3.00" stroke-linecap="round" fill="none"/><path d="M552.5 342.3h0" stroke="#4c8fc6" stroke-width="3.00" stroke-linecap="round" fill="none"/><path d="M553.0 342.3h0" stroke="#4d90c6" stroke-width="3.00" stroke-linecap="round" fill="none"/><path d="M553.5 342.3h0" stroke="#4e91c7" stroke-width="3.00" stroke-linecap="round" fill="none"/><path d="M554.0 342.3h0" stroke="#5093c7" stroke-width="3.00" stroke-linecap="round" fill="none"/><path d="M554.5 342.3h0" stroke="#5194c8" stroke-width="3.00" stroke-linecap="round" fill="none"/><path d="M555.0 342.3h0" stroke="#5295c9" stroke-width="3.00" stroke-linecap="round" fill="none"/><path d="M555.5 342.3h0" stroke="#5396c9" stroke-width="3.00" stroke-linecap="round" fill="none"/><path d="M556.0 342.3h0" stroke="#5498ca" stroke-width="3.00" stroke-linecap="round" fill="none"/><path d="M556.5 342.3h0" stroke="#5699cb" stroke-width="3.00" stroke-linecap="round" fill="none"/><path d="M557.0 342.3h0" stroke="#579acb" stroke-width="3.00" stroke-linecap="round" fill="none"/><path d="M557.5 342.3h0" stroke="#589bcc" stroke-width="3.00" stroke-linecap="round" fill="none"/><path d="M558.0 342.3h0" stroke="#599dcd" stroke-width="3.00" stroke-linecap="round" fill="none"/><path d="M558.5 342.3h0" stroke="#5a9ecd" stroke-width="3.00" stroke-linecap="round" fill="none"/><path d="M559.0 342.3h0" stroke="#5c9fce" stroke-width="3.00" stroke-linecap="round" fill="none"/><path d="M559.5 342.3h0" stroke="#5da0cf" stroke-width="3.00" stroke-linecap="round" fill="none"/><path d="M560.0 342.3h0" stroke="#5ea2cf" stroke-width="3.00" stroke-linecap="round" fill="none"/><path d="M560.5 342.3h0" stroke="#5fa3d0" stroke-width="3.00" stroke-linecap="round" fill="none"/><path d="M561.0 342.3h0" stroke="#60a4d1" stroke-width="3.00" stroke-linecap="round" fill="none"/><path d="M561.5 342.3h0" stroke="#62a5d1" stroke-width="3.00" stroke-linecap="round" fill="none"/><path d="M562.0 342.3h0" stroke="#63a7d2" stroke-width="3.00" stroke-linecap="round" fill="none"/><path d="M562.5 342.3h0" stroke="#64a8d3" stroke-width="3.00" stroke-linecap="round" fill="none"/><path d="M563.0 342.3h0" stroke="#65a9d3" stroke-width="3.00" stroke-linecap="round" fill="none"/><path d="M563.5 342.3h0" stroke="#66aad4" stroke-width="3.00" stroke-linecap="round" fill="none"/><path d="M564.0 342.3h0" stroke="#68acd5" stroke-width="3.00" stroke-linecap="round" fill="none"/><path d="M564.5 342.3h0" stroke="#69add5" stroke-width="3.00" stroke-linecap="round" fill="none"/><path d="M565.0 342.3h0" stroke="#6aaed6" stroke-width="3.00" stroke-linecap="round" fill="none"/><path d="M565.5 342.3h0" stroke="#6baed6" stroke-width="3.00" stroke-linecap="round" fill="none"/><path d="M566.0 342.3h0" stroke="#6cafd6" stroke-width="3.00" stroke-linecap="round" fill="none"/><path d="M566.5 342.3h0" stroke="#6cafd7" stroke-width="3.00" stroke-linecap="round" fill="none"/><path d="M567.0 342.3h0" stroke="#6db0d7" stroke-width="3.00" stroke-linecap="round" fill="none"/><path d="M567.5 342.3h0" stroke="#6eb0d7" stroke-width="3.00" stroke-linecap="round" fill="none"/><path d="M568.0 342.3h0M568.5 342.3h0" stroke="#6fb1d7" stroke-width="3.00" stroke-linecap="round" fill="none"/><path d="M569.0 342.3h0" stroke="#70b1d8" stroke-width="3.00" stroke-linecap="round" fill="none"/><path d="M569.5 342.3h0" stroke="#71b2d8" stroke-width="3.00" stroke-linecap="round" fill="none"/><path d="M570.0 342.3h0" stroke="#72b2d8" stroke-width="3.00" stroke-linecap="round" fill="none"/><path d="M570.5 342.3h0M571.0 342.3h0" stroke="#73b3d8" stroke-width="3.00" stroke-linecap="round" fill="none"/><path d="M571.5 342.3h0" stroke="#74b4d9" stroke-width="3.00" stroke-linecap="round" fill="none"/><path d="M572.0 342.3h0" stroke="#75b4d9" stroke-width="3.00" stroke-linecap="round" fill="none"/><path d="M572.5 342.3h0" stroke="#76b4d9" stroke-width="3.00" stroke-linecap="round" fill="none"/><path d="M573.0 342.3h0" stroke="#76b5d9" stroke-width="3.00" stroke-linecap="round" fill="none"/><path d="M573.5 342.3h0" stroke="#77b5da" stroke-width="3.00" stroke-linecap="round" fill="none"/><path d="M574.0 342.3h0" stroke="#78b6da" stroke-width="3.00" stroke-linecap="round" fill="none"/><path d="M574.5 342.3h0" stroke="#79b6da" stroke-width="3.00" stroke-linecap="round" fill="none"/><path d="M575.0 342.3h0M575.5 342.3h0" stroke="#7ab7da" stroke-width="3.00" stroke-linecap="round" fill="none"/><path d="M576.0 342.3h0" stroke="#7bb7db" stroke-width="3.00" stroke-linecap="round" fill="none"/><path d="M576.5 342.3h0" stroke="#7cb8db" stroke-width="3.00" stroke-linecap="round" fill="none"/><path d="M577.0 342.3h0" stroke="#7db8db" stroke-width="3.00" stroke-linecap="round" fill="none"/><path d="M577.5 342.3h0" stroke="#7db9db" stroke-width="3.00" stroke-linecap="round" fill="none"/><path d="M578.0 342.3h0" stroke="#7eb9db" stroke-width="3.00" stroke-linecap="round" fill="none"/><path d="M578.5 342.3h0" stroke="#7fbadc" stroke-width="3.00" stroke-linecap="round" fill="none"/><path d="M579.0 342.3h0" stroke="#80badc" stroke-width="3.00" stroke-linecap="round" fill="none"/><path d="M579.5 342.3h0" stroke="#81badc" stroke-width="3.00" stroke-linecap="round" fill="none"/><path d="M580.0 342.3h0" stroke="#81bbdc" stroke-width="3.00" stroke-linecap="round" fill="none"/><path d="M580.5 342.3h0" stroke="#82bbdc" stroke-width="3.00" stroke-linecap="round" fill="none"/><path d="M581.0 342.3h0" stroke="#83bcdd" stroke-width="3.00" stroke-linecap="round" fill="none"/><path d="M581.5 342.3h0M582.0 342.3h0" stroke="#84bcdd" stroke-width="3.00" stroke-linecap="round" fill="none"/><path d="M582.5 342.3h0" stroke="#85bddd" stroke-width="3.00" stroke-linecap="round" fill="none"/><path d="M583.0 342.3h0" stroke="#86bddd" stroke-width="3.00" stroke-linecap="round" fill="none"/><path d="M583.5 342.3h0" stroke="#87bede" stroke-width="3.00" stroke-linecap="round" fill="none"/><path d="M584.0 342.3h0" stroke="#88bede" stroke-width="3.00" stroke-linecap="round" fill="none"/><path d="M584.5 342.3h0" stroke="#88bfde" stroke-width="3.00" stroke-linecap="round" fill="none"/><path d="M585.0 342.3h0" stroke="#89bfde" stroke-width="3.00" stroke-linecap="round" fill="none"/><path d="M585.5 342.3h0" stroke="#8abfde" stroke-width="3.00" stroke-linecap="round" fill="none"/><path d="M586.0 342.3h0" stroke="#8bc0df" stroke-width="3.00" stroke-linecap="round" fill="none"/><path d="M586.5 342.3h0" stroke="#8cc0df" stroke-width="3.00" stroke-linecap="round" fill="none"/><path d="M587.0 342.3h0" stroke="#8cc1df" stroke-width="3.00" stroke-linecap="round" fill="none"/><path d="M587.5 342.3h0" stroke="#8dc1df" stroke-width="3.00" stroke-linecap="round" fill="none"/><path d="M588.0 342.3h0" stroke="#8ec2df" stroke-width="3.00" stroke-linecap="round" fill="none"/><path d="M588.5 342.3h0M589.0 342.3h0" stroke="#8fc2e0" stroke-width="3.00" stroke-linecap="round" fill="none"/><path d="M589.5 342.3h0" stroke="#90c3e0" stroke-width="3.00" stroke-linecap="round" fill="none"/><path d="M590.0 342.3h0" stroke="#91c3e0" stroke-width="3.00" stroke-linecap="round" fill="none"/><path d="M590.5 342.3h0" stroke="#92c4e0" stroke-width="3.00" stroke-linecap="round" fill="none"/><path d="M591.0 342.3h0" stroke="#93c4e1" stroke-width="3.00" stroke-linecap="round" fill="none"/><path d="M591.5 342.3h0" stroke="#93c5e1" stroke-width="3.00" stroke-linecap="round" fill="none"/><path d="M592.0 342.3h0" stroke="#94c5e1" stroke-width="3.00" stroke-linecap="round" fill="none"/><path d="M592.5 342.3h0" stroke="#95c5e1" stroke-width="3.00" stroke-linecap="round" fill="none"/><path d="M593.0 342.3h0M593.5 342.3h0" stroke="#96c6e2" stroke-width="3.00" stroke-linecap="round" fill="none"/><path d="M594.0 342.3h0" stroke="#97c7e2" stroke-width="3.00" stroke-linecap="round" fill="none"/><path d="M594.5 342.3h0" stroke="#98c7e2" stroke-width="3.00" stroke-linecap="round" fill="none"/><path d="M595.0 342.3h0" stroke="#99c8e2" stroke-width="3.00" stroke-linecap="round" fill="none"/><path d="M595.5 342.3h0M596.0 342.3h0" stroke="#9ac8e3" stroke-width="3.00" stroke-linecap="round" fill="none"/><path d="M596.5 342.3h0" stroke="#9bc9e3" stroke-width="3.00" stroke-linecap="round" fill="none"/><path d="M597.0 342.3h0" stroke="#9cc9e3" stroke-width="3.00" stroke-linecap="round" fill="none"/><path d="M597.5 342.3h0" stroke="#9dcae3" stroke-width="3.00" stroke-linecap="round" fill="none"/><path d="M598.0 342.3h0" stroke="#9dcae4" stroke-width="3.00" stroke-linecap="round" fill="none"/><path d="M598.5 342.3h0" stroke="#9ecbe4" stroke-width="3.00" stroke-linecap="round" fill="none"/>
<path d="M610.0 342.3h0M625.0 342.3h0M631.0 342.3h0M672.0 342.3h0" stroke="#9fcbe4" stroke-width="2.60" stroke-linecap="round" fill="none"/>
<line x1="499.4" y1="350.4" x2="683.7" y2="165.7" stroke="#4d4d4d" stroke-width="1" stroke-dasharray="3.1,2.3"/>
<text x="-0.40" y="399.90" font-size="12.8" text-anchor="start" font-weight="bold" font-style="normal" fill="#111" >c</text>
<defs>
<clipPath id="dummy"><rect x="0" y="0" width="1" height="1"/></clipPath>
</defs>
<path d="M38.5,418.3 L38.5,584.4 L215.0,584.4" fill="none" stroke="#8a8a8a" stroke-width="0.9"/>
<line x1="46.40" y1="584.4" x2="46.40" y2="589.6" stroke="#8a8a8a" stroke-width="0.9"/>
<text x="46.40" y="596.00" font-size="8" text-anchor="middle" font-weight="normal" font-style="normal" fill="#6e6e6e" >0</text>
<line x1="100.00" y1="584.4" x2="100.00" y2="589.6" stroke="#8a8a8a" stroke-width="0.9"/>
<text x="100.00" y="596.00" font-size="8" text-anchor="middle" font-weight="normal" font-style="normal" fill="#6e6e6e" >1</text>
<line x1="153.60" y1="584.4" x2="153.60" y2="589.6" stroke="#8a8a8a" stroke-width="0.9"/>
<text x="153.60" y="596.00" font-size="8" text-anchor="middle" font-weight="normal" font-style="normal" fill="#6e6e6e" >10</text>
<line x1="207.20" y1="584.4" x2="207.20" y2="589.6" stroke="#8a8a8a" stroke-width="0.9"/>
<text x="207.20" y="596.00" font-size="8" text-anchor="middle" font-weight="normal" font-style="normal" fill="#6e6e6e" >100</text>
<line x1="33.2" y1="576.50" x2="38.5" y2="576.50" stroke="#8a8a8a" stroke-width="0.9"/>
<text x="32.10" y="579.40" font-size="8" text-anchor="end" font-weight="normal" font-style="normal" fill="#6e6e6e" >0.0</text>
<line x1="33.2" y1="538.95" x2="38.5" y2="538.95" stroke="#8a8a8a" stroke-width="0.9"/>
<text x="32.10" y="541.85" font-size="8" text-anchor="end" font-weight="normal" font-style="normal" fill="#6e6e6e" >0.2</text>
<line x1="33.2" y1="501.40" x2="38.5" y2="501.40" stroke="#8a8a8a" stroke-width="0.9"/>
<text x="32.10" y="504.30" font-size="8" text-anchor="end" font-weight="normal" font-style="normal" fill="#6e6e6e" >0.4</text>
<line x1="33.2" y1="463.85" x2="38.5" y2="463.85" stroke="#8a8a8a" stroke-width="0.9"/>
<text x="32.10" y="466.75" font-size="8" text-anchor="end" font-weight="normal" font-style="normal" fill="#6e6e6e" >0.6</text>
<line x1="33.2" y1="426.30" x2="38.5" y2="426.30" stroke="#8a8a8a" stroke-width="0.9"/>
<text x="32.10" y="429.20" font-size="8" text-anchor="end" font-weight="normal" font-style="normal" fill="#6e6e6e" >0.8</text>
<text x="129.30" y="400.30" font-size="8.5" text-anchor="middle" font-weight="bold" font-style="normal" fill="#1a1a1a" letter-spacing="0.55">RNA002</text>
<text x="129.00" y="409.80" font-size="8.7" text-anchor="middle" font-weight="normal" font-style="normal" fill="#333" >Guppy m6ABC</text>
<text x="0" y="0" font-size="9.4" text-anchor="middle" fill="#333" transform="translate(18.1,500.2) rotate(-90)">Density (a.u.)</text>
<text x="129.00" y="606" font-size="9.3" text-anchor="middle" fill="#333">m<tspan font-size="6" dy="-3.2">6</tspan><tspan dy="3.2">A frequency (%)</tspan></text>
<defs><clipPath id="cw1"><path d="M46.4,526.37 C46.83,526.53 48.07,526.62 49,527.31 C49.93,528 50.83,528.87 52,530.5 C53.17,532.13 54.67,534.57 56,537.07 C57.33,539.58 58.67,542.55 60,545.52 C61.33,548.49 62.67,551.94 64,554.91 C65.33,557.88 66.67,560.95 68,563.36 C69.33,565.77 70.5,567.68 72,569.37 C73.5,571.06 75.33,572.53 77,573.5 C78.67,574.47 80.17,574.87 82,575.19 C83.83,575.5 86,575.59 88,575.37 C90,575.15 92,574.78 94,573.87 C96,572.96 98,572.15 100,569.93 C102,567.71 104,564.77 106,560.54 C108,556.32 109.67,551.62 112,544.58 C114.33,537.54 117.33,527.94 120,518.3 C122.67,508.66 125.67,496.46 128,486.76 C130.33,477.06 132,467.39 134,460.1 C136,452.8 138.33,447.2 140,443.01 C141.67,438.82 142.73,436.67 144,434.94 C145.27,433.2 146.43,432.64 147.6,432.59 C148.77,432.54 149.77,432.92 151,434.65 C152.23,436.39 153.15,439.08 155,443.01 C156.85,446.94 159.6,453.49 162.1,458.22 C164.6,462.94 167.63,467.1 170,471.36 C172.37,475.62 174.3,479.37 176.3,483.75 C178.3,488.13 180.12,492.89 182,497.64 C183.88,502.4 185.77,506.97 187.6,512.29 C189.43,517.61 191.1,523.9 193,529.56 C194.9,535.23 197.33,541.58 199,546.27 C200.67,550.97 201.68,554.41 203,557.73 C204.32,561.04 206.25,564.77 206.9,566.17 L206.9,576.5 L46.4,576.5 Z"/><path d="M46.9,526.87 C47.33,527.03 48.57,527.12 49.5,527.8 C50.43,528.48 51.33,529.35 52.5,530.96 C53.67,532.57 55.17,534.99 56.5,537.47 C57.83,539.95 59.17,542.89 60.5,545.83 C61.83,548.77 63.17,552.18 64.5,555.12 C65.83,558.07 67.17,561.1 68.5,563.49 C69.83,565.87 71,567.76 72.5,569.44 C74,571.11 75.83,572.57 77.5,573.53 C79.17,574.49 80.67,574.89 82.5,575.2 C84.33,575.51 86.5,575.6 88.5,575.38 C90.5,575.17 92.5,574.8 94.5,573.9 C96.5,573 98.5,572.19 100.5,569.99 C102.5,567.79 104.5,564.88 106.5,560.7 C108.5,556.52 110.17,551.87 112.5,544.9 C114.83,537.93 117.83,528.42 120.5,518.88 C123.17,509.34 126.17,497.26 128.5,487.65 C130.83,478.05 132.5,468.48 134.5,461.26 C136.5,454.04 138.83,448.5 140.5,444.34 C142.17,440.19 143.23,438.07 144.5,436.35 C145.77,434.63 146.93,434.08 148.1,434.03 C149.27,433.98 150.27,434.35 151.5,436.07 C152.73,437.79 153.65,440.46 155.5,444.34 C157.35,448.23 160.1,454.72 162.6,459.4 C165.1,464.08 168.13,468.2 170.5,472.41 C172.87,476.62 174.8,480.34 176.8,484.68 C178.8,489.02 180.62,493.72 182.5,498.43 C184.38,503.14 186.27,507.67 188.1,512.93 C189.93,518.2 191.6,524.42 193.5,530.03 C195.4,535.64 197.83,541.93 199.5,546.57 C201.17,551.22 202.18,554.63 203.5,557.91 C204.82,561.2 206.75,564.88 207.4,566.28 L207.4,576.5 L46.9,576.5 Z"/></clipPath></defs>
<path d="M46.4,526.37 C46.83,526.53 48.07,526.62 49,527.31 C49.93,528 50.83,528.87 52,530.5 C53.17,532.13 54.67,534.57 56,537.07 C57.33,539.58 58.67,542.55 60,545.52 C61.33,548.49 62.67,551.94 64,554.91 C65.33,557.88 66.67,560.95 68,563.36 C69.33,565.77 70.5,567.68 72,569.37 C73.5,571.06 75.33,572.53 77,573.5 C78.67,574.47 80.17,574.87 82,575.19 C83.83,575.5 86,575.59 88,575.37 C90,575.15 92,574.78 94,573.87 C96,572.96 98,572.15 100,569.93 C102,567.71 104,564.77 106,560.54 C108,556.32 109.67,551.62 112,544.58 C114.33,537.54 117.33,527.94 120,518.3 C122.67,508.66 125.67,496.46 128,486.76 C130.33,477.06 132,467.39 134,460.1 C136,452.8 138.33,447.2 140,443.01 C141.67,438.82 142.73,436.67 144,434.94 C145.27,433.2 146.43,432.64 147.6,432.59 C148.77,432.54 149.77,432.92 151,434.65 C152.23,436.39 153.15,439.08 155,443.01 C156.85,446.94 159.6,453.49 162.1,458.22 C164.6,462.94 167.63,467.1 170,471.36 C172.37,475.62 174.3,479.37 176.3,483.75 C178.3,488.13 180.12,492.89 182,497.64 C183.88,502.4 185.77,506.97 187.6,512.29 C189.43,517.61 191.1,523.9 193,529.56 C194.9,535.23 197.33,541.58 199,546.27 C200.67,550.97 201.68,554.41 203,557.73 C204.32,561.04 206.25,564.77 206.9,566.17 L206.9,576.5 L46.4,576.5 Z" fill="#d97b73"/>
<path d="M46.9,526.87 C47.33,527.03 48.57,527.12 49.5,527.8 C50.43,528.48 51.33,529.35 52.5,530.96 C53.67,532.57 55.17,534.99 56.5,537.47 C57.83,539.95 59.17,542.89 60.5,545.83 C61.83,548.77 63.17,552.18 64.5,555.12 C65.83,558.07 67.17,561.1 68.5,563.49 C69.83,565.87 71,567.76 72.5,569.44 C74,571.11 75.83,572.57 77.5,573.53 C79.17,574.49 80.67,574.89 82.5,575.2 C84.33,575.51 86.5,575.6 88.5,575.38 C90.5,575.17 92.5,574.8 94.5,573.9 C96.5,573 98.5,572.19 100.5,569.99 C102.5,567.79 104.5,564.88 106.5,560.7 C108.5,556.52 110.17,551.87 112.5,544.9 C114.83,537.93 117.83,528.42 120.5,518.88 C123.17,509.34 126.17,497.26 128.5,487.65 C130.83,478.05 132.5,468.48 134.5,461.26 C136.5,454.04 138.83,448.5 140.5,444.34 C142.17,440.19 143.23,438.07 144.5,436.35 C145.77,434.63 146.93,434.08 148.1,434.03 C149.27,433.98 150.27,434.35 151.5,436.07 C152.73,437.79 153.65,440.46 155.5,444.34 C157.35,448.23 160.1,454.72 162.6,459.4 C165.1,464.08 168.13,468.2 170.5,472.41 C172.87,476.62 174.8,480.34 176.8,484.68 C178.8,489.02 180.62,493.72 182.5,498.43 C184.38,503.14 186.27,507.67 188.1,512.93 C189.93,518.2 191.6,524.42 193.5,530.03 C195.4,535.64 197.83,541.93 199.5,546.57 C201.17,551.22 202.18,554.63 203.5,557.91 C204.82,561.2 206.75,564.88 207.4,566.28 L207.4,576.5 L46.9,576.5 Z" fill="#d97b73"/>
<path d="M46.4,526.37 C46.83,526.53 48.07,526.62 49,527.31 C49.93,528 50.83,528.87 52,530.5 C53.17,532.13 54.67,534.57 56,537.07 C57.33,539.58 58.67,542.55 60,545.52 C61.33,548.49 62.67,551.94 64,554.91 C65.33,557.88 66.67,560.95 68,563.36 C69.33,565.77 70.5,567.68 72,569.37 C73.5,571.06 75.33,572.53 77,573.5 C78.67,574.47 80.17,574.87 82,575.19 C83.83,575.5 86,575.59 88,575.37 C90,575.15 92,574.78 94,573.87 C96,572.96 98,572.15 100,569.93 C102,567.71 104,564.77 106,560.54 C108,556.32 109.67,551.62 112,544.58 C114.33,537.54 117.33,527.94 120,518.3 C122.67,508.66 125.67,496.46 128,486.76 C130.33,477.06 132,467.39 134,460.1 C136,452.8 138.33,447.2 140,443.01 C141.67,438.82 142.73,436.67 144,434.94 C145.27,433.2 146.43,432.64 147.6,432.59 C148.77,432.54 149.77,432.92 151,434.65 C152.23,436.39 153.15,439.08 155,443.01 C156.85,446.94 159.6,453.49 162.1,458.22 C164.6,462.94 167.63,467.1 170,471.36 C172.37,475.62 174.3,479.37 176.3,483.75 C178.3,488.13 180.12,492.89 182,497.64 C183.88,502.4 185.77,506.97 187.6,512.29 C189.43,517.61 191.1,523.9 193,529.56 C194.9,535.23 197.33,541.58 199,546.27 C200.67,550.97 201.68,554.41 203,557.73 C204.32,561.04 206.25,564.77 206.9,566.17" fill="none" stroke="#e59a96" stroke-width="0.6"/>
<path d="M46.9,526.87 C47.33,527.03 48.57,527.12 49.5,527.8 C50.43,528.48 51.33,529.35 52.5,530.96 C53.67,532.57 55.17,534.99 56.5,537.47 C57.83,539.95 59.17,542.89 60.5,545.83 C61.83,548.77 63.17,552.18 64.5,555.12 C65.83,558.07 67.17,561.1 68.5,563.49 C69.83,565.87 71,567.76 72.5,569.44 C74,571.11 75.83,572.57 77.5,573.53 C79.17,574.49 80.67,574.89 82.5,575.2 C84.33,575.51 86.5,575.6 88.5,575.38 C90.5,575.17 92.5,574.8 94.5,573.9 C96.5,573 98.5,572.19 100.5,569.99 C102.5,567.79 104.5,564.88 106.5,560.7 C108.5,556.52 110.17,551.87 112.5,544.9 C114.83,537.93 117.83,528.42 120.5,518.88 C123.17,509.34 126.17,497.26 128.5,487.65 C130.83,478.05 132.5,468.48 134.5,461.26 C136.5,454.04 138.83,448.5 140.5,444.34 C142.17,440.19 143.23,438.07 144.5,436.35 C145.77,434.63 146.93,434.08 148.1,434.03 C149.27,433.98 150.27,434.35 151.5,436.07 C152.73,437.79 153.65,440.46 155.5,444.34 C157.35,448.23 160.1,454.72 162.6,459.4 C165.1,464.08 168.13,468.2 170.5,472.41 C172.87,476.62 174.8,480.34 176.8,484.68 C178.8,489.02 180.62,493.72 182.5,498.43 C184.38,503.14 186.27,507.67 188.1,512.93 C189.93,518.2 191.6,524.42 193.5,530.03 C195.4,535.64 197.83,541.93 199.5,546.57 C201.17,551.22 202.18,554.63 203.5,557.91 C204.82,561.2 206.75,564.88 207.4,566.28" fill="none" stroke="#c8494b" stroke-width="0.6"/>
<path d="M46.4,440.57 C47,441.32 48.23,439.94 50,445.08 C51.77,450.21 54.5,458.84 57,471.36 C59.5,483.88 62.5,508.13 65,520.17 C67.5,532.22 69.92,538.82 72,543.64 C74.08,548.46 75.5,548.93 77.5,549.09 C79.5,549.24 81.58,548.78 84,544.58 C86.42,540.39 89.33,531.75 92,523.93 C94.67,516.11 97.33,505.15 100,497.64 C102.67,490.13 105.25,483.06 108,478.87 C110.75,474.68 113.83,472.49 116.5,472.49 C119.17,472.49 121.08,473.43 124,478.87 C126.92,484.31 130.5,495.77 134,505.15 C137.5,514.54 141.17,525.96 145,535.2 C148.83,544.43 153.17,554.6 157,560.54 C160.83,566.49 164.83,568.52 168,570.87 C171.17,573.21 172.33,573.75 176,574.62 C179.67,575.5 184.85,575.81 190,576.12 C195.15,576.44 204.08,576.44 206.9,576.5 L206.9,576.5 L46.4,576.5 Z" fill="#c2dff3"/>
<path d="M46.4,426.3 C47,427.55 48.23,427.05 50,433.81 C51.77,440.57 54.4,451.83 57,466.85 C59.6,481.87 62.75,510.22 65.6,523.93 C68.45,537.64 71.87,544.18 74.1,549.09 C76.33,554 77.02,553.53 79,553.41 C80.98,553.28 83.33,552.94 86,548.34 C88.67,543.74 92.13,533.32 95,525.81 C97.87,518.3 100.37,509.54 103.2,503.28 C106.03,497.02 109.1,491.61 112,488.26 C114.9,484.91 117.93,483.19 120.6,483.19 C123.27,483.19 125.1,483.97 128,488.26 C130.9,492.54 134.68,501.09 138,508.91 C141.32,516.73 144.37,526.59 147.9,535.2 C151.43,543.8 155.85,554.75 159.2,560.54 C162.55,566.33 165.15,567.68 168,569.93 C170.85,572.18 172.63,573.06 176.3,574.06 C179.97,575.06 184.9,575.53 190,575.94 C195.1,576.34 204.08,576.41 206.9,576.5 L206.9,576.5 L46.4,576.5 Z" fill="#84b5de"/>
<g clip-path="url(#cw1)"><path d="M46.4,440.57 C47,441.32 48.23,439.94 50,445.08 C51.77,450.21 54.5,458.84 57,471.36 C59.5,483.88 62.5,508.13 65,520.17 C67.5,532.22 69.92,538.82 72,543.64 C74.08,548.46 75.5,548.93 77.5,549.09 C79.5,549.24 81.58,548.78 84,544.58 C86.42,540.39 89.33,531.75 92,523.93 C94.67,516.11 97.33,505.15 100,497.64 C102.67,490.13 105.25,483.06 108,478.87 C110.75,474.68 113.83,472.49 116.5,472.49 C119.17,472.49 121.08,473.43 124,478.87 C126.92,484.31 130.5,495.77 134,505.15 C137.5,514.54 141.17,525.96 145,535.2 C148.83,544.43 153.17,554.6 157,560.54 C160.83,566.49 164.83,568.52 168,570.87 C171.17,573.21 172.33,573.75 176,574.62 C179.67,575.5 184.85,575.81 190,576.12 C195.15,576.44 204.08,576.44 206.9,576.5 L206.9,576.5 L46.4,576.5 Z" fill="#8b9cba"/><path d="M46.4,426.3 C47,427.55 48.23,427.05 50,433.81 C51.77,440.57 54.4,451.83 57,466.85 C59.6,481.87 62.75,510.22 65.6,523.93 C68.45,537.64 71.87,544.18 74.1,549.09 C76.33,554 77.02,553.53 79,553.41 C80.98,553.28 83.33,552.94 86,548.34 C88.67,543.74 92.13,533.32 95,525.81 C97.87,518.3 100.37,509.54 103.2,503.28 C106.03,497.02 109.1,491.61 112,488.26 C114.9,484.91 117.93,483.19 120.6,483.19 C123.27,483.19 125.1,483.97 128,488.26 C130.9,492.54 134.68,501.09 138,508.91 C141.32,516.73 144.37,526.59 147.9,535.2 C151.43,543.8 155.85,554.75 159.2,560.54 C162.55,566.33 165.15,567.68 168,569.93 C170.85,572.18 172.63,573.06 176.3,574.06 C179.97,575.06 184.9,575.53 190,575.94 C195.1,576.34 204.08,576.41 206.9,576.5 L206.9,576.5 L46.4,576.5 Z" fill="#8b9cba"/></g>
<path d="M46.4,440.57 C47,441.32 48.23,439.94 50,445.08 C51.77,450.21 54.5,458.84 57,471.36 C59.5,483.88 62.5,508.13 65,520.17 C67.5,532.22 69.92,538.82 72,543.64 C74.08,548.46 75.5,548.93 77.5,549.09 C79.5,549.24 81.58,548.78 84,544.58 C86.42,540.39 89.33,531.75 92,523.93 C94.67,516.11 97.33,505.15 100,497.64 C102.67,490.13 105.25,483.06 108,478.87 C110.75,474.68 113.83,472.49 116.5,472.49 C119.17,472.49 121.08,473.43 124,478.87 C126.92,484.31 130.5,495.77 134,505.15 C137.5,514.54 141.17,525.96 145,535.2 C148.83,544.43 153.17,554.6 157,560.54 C160.83,566.49 164.83,568.52 168,570.87 C171.17,573.21 172.33,573.75 176,574.62 C179.67,575.5 184.85,575.81 190,576.12 C195.15,576.44 204.08,576.44 206.9,576.5" fill="none" stroke="#6aaee0" stroke-width="0.6"/>
<path d="M46.4,426.3 C47,427.55 48.23,427.05 50,433.81 C51.77,440.57 54.4,451.83 57,466.85 C59.6,481.87 62.75,510.22 65.6,523.93 C68.45,537.64 71.87,544.18 74.1,549.09 C76.33,554 77.02,553.53 79,553.41 C80.98,553.28 83.33,552.94 86,548.34 C88.67,543.74 92.13,533.32 95,525.81 C97.87,518.3 100.37,509.54 103.2,503.28 C106.03,497.02 109.1,491.61 112,488.26 C114.9,484.91 117.93,483.19 120.6,483.19 C123.27,483.19 125.1,483.97 128,488.26 C130.9,492.54 134.68,501.09 138,508.91 C141.32,516.73 144.37,526.59 147.9,535.2 C151.43,543.8 155.85,554.75 159.2,560.54 C162.55,566.33 165.15,567.68 168,569.93 C170.85,572.18 172.63,573.06 176.3,574.06 C179.97,575.06 184.9,575.53 190,575.94 C195.1,576.34 204.08,576.41 206.9,576.5" fill="none" stroke="#2f78bb" stroke-width="0.6"/>
<line x1="46.4" y1="418.3" x2="46.4" y2="587.5" stroke="#86c1e8" stroke-width="1.3" stroke-dasharray="2.2,2.2" stroke-dashoffset="0.0"/>
<line x1="94.8" y1="418.3" x2="94.8" y2="587.5" stroke="#2f86c6" stroke-width="1.3" stroke-dasharray="2.2,2.2" stroke-dashoffset="2.2"/>
<line x1="147.1" y1="418.3" x2="147.1" y2="587.5" stroke="#eda0a0" stroke-width="1.3" stroke-dasharray="2.2,2.2" stroke-dashoffset="0.0"/>
<line x1="147.9" y1="418.3" x2="147.9" y2="587.5" stroke="#d04a4f" stroke-width="1.3" stroke-dasharray="2.2,2.2" stroke-dashoffset="2.2"/>
<path d="M269.4,418.3 L269.4,584.4 L445.9,584.4" fill="none" stroke="#8a8a8a" stroke-width="0.9"/>
<line x1="277.30" y1="584.4" x2="277.30" y2="589.6" stroke="#8a8a8a" stroke-width="0.9"/>
<text x="277.30" y="596.00" font-size="8" text-anchor="middle" font-weight="normal" font-style="normal" fill="#6e6e6e" >0</text>
<line x1="330.90" y1="584.4" x2="330.90" y2="589.6" stroke="#8a8a8a" stroke-width="0.9"/>
<text x="330.90" y="596.00" font-size="8" text-anchor="middle" font-weight="normal" font-style="normal" fill="#6e6e6e" >1</text>
<line x1="384.50" y1="584.4" x2="384.50" y2="589.6" stroke="#8a8a8a" stroke-width="0.9"/>
<text x="384.50" y="596.00" font-size="8" text-anchor="middle" font-weight="normal" font-style="normal" fill="#6e6e6e" >10</text>
<line x1="438.10" y1="584.4" x2="438.10" y2="589.6" stroke="#8a8a8a" stroke-width="0.9"/>
<text x="438.10" y="596.00" font-size="8" text-anchor="middle" font-weight="normal" font-style="normal" fill="#6e6e6e" >100</text>
<line x1="264.09999999999997" y1="576.50" x2="269.4" y2="576.50" stroke="#8a8a8a" stroke-width="0.9"/>
<text x="263.00" y="579.40" font-size="8" text-anchor="end" font-weight="normal" font-style="normal" fill="#6e6e6e" >0.0</text>
<line x1="264.09999999999997" y1="535.50" x2="269.4" y2="535.50" stroke="#8a8a8a" stroke-width="0.9"/>
<text x="263.00" y="538.40" font-size="8" text-anchor="end" font-weight="normal" font-style="normal" fill="#6e6e6e" >0.5</text>
<line x1="264.09999999999997" y1="494.50" x2="269.4" y2="494.50" stroke="#8a8a8a" stroke-width="0.9"/>
<text x="263.00" y="497.40" font-size="8" text-anchor="end" font-weight="normal" font-style="normal" fill="#6e6e6e" >1.0</text>
<line x1="264.09999999999997" y1="453.50" x2="269.4" y2="453.50" stroke="#8a8a8a" stroke-width="0.9"/>
<text x="263.00" y="456.40" font-size="8" text-anchor="end" font-weight="normal" font-style="normal" fill="#6e6e6e" >1.5</text>
<text x="360.20" y="400.30" font-size="8.5" text-anchor="middle" font-weight="bold" font-style="normal" fill="#1a1a1a" letter-spacing="0.55">RNA004</text>
<text x="359.90" y="409.80" font-size="8.7" text-anchor="middle" font-weight="normal" font-style="normal" fill="#333" >Dorado m6A_DRACH</text>
<text x="0" y="0" font-size="9.4" text-anchor="middle" fill="#333" transform="translate(248.99999999999997,500.2) rotate(-90)">Density (a.u.)</text>
<text x="359.90" y="606" font-size="9.3" text-anchor="middle" fill="#333">m<tspan font-size="6" dy="-3.2">6</tspan><tspan dy="3.2">A frequency (%)</tspan></text>
<defs><clipPath id="cw2"><path d="M277.5,495.37 C277.83,496.14 278.8,497.35 279.5,500.04 C280.2,502.73 280.68,506.05 281.7,511.52 C282.72,516.99 284.3,526.14 285.6,532.84 C286.9,539.54 288.2,546.23 289.5,551.7 C290.8,557.17 292.1,562.22 293.4,565.64 C294.7,569.06 296.03,571 297.3,572.2 C298.57,573.4 299.72,572.92 301,572.86 C302.28,572.79 302.83,572.72 305,571.79 C307.17,570.86 311.08,569.06 314,567.28 C316.92,565.5 318.88,564.79 322.5,561.13 C326.12,557.47 331.75,550.16 335.7,545.3 C339.65,540.45 343.8,534.44 346.2,532.02 C348.6,529.6 348.47,530.65 350.1,530.79 C351.73,530.93 353.52,531.13 356,532.84 C358.48,534.55 361.82,537.9 365,541.04 C368.18,544.18 371.77,548.56 375.1,551.7 C378.43,554.84 381.5,557.9 385,559.9 C388.5,561.9 392.43,562.72 396.1,563.67 C399.77,564.63 403.5,565.2 407,565.64 C410.5,566.08 413.77,566.16 417.1,566.3 C420.43,566.43 424.37,566.38 427,566.46 C429.63,566.54 431.03,566.17 432.9,566.79 C434.77,567.4 437.32,569.59 438.2,570.15 L438.2,576.3 L277.5,576.3 Z"/><path d="M277.5,496.76 C277.83,497.51 278.8,498.67 279.5,501.27 C280.2,503.87 280.68,506.94 281.7,512.34 C282.72,517.74 284.3,527.03 285.6,533.66 C286.9,540.29 288.2,546.75 289.5,552.11 C290.8,557.47 292.1,562.46 293.4,565.8 C294.7,569.15 296.03,571.02 297.3,572.2 C298.57,573.38 299.72,572.86 301,572.86 C302.28,572.86 302.83,572.99 305,572.2 C307.17,571.41 311.08,569.74 314,568.1 C316.92,566.46 318.88,565.64 322.5,562.36 C326.12,559.08 331.75,552.66 335.7,548.42 C339.65,544.18 343.15,539.19 346.2,536.94 C349.25,534.68 351.7,534.89 354,534.89 C356.3,534.89 357.83,535.64 360,536.94 C362.17,538.24 364.48,540.22 367,542.68 C369.52,545.14 372.1,548.83 375.1,551.7 C378.1,554.57 381.5,557.9 385,559.9 C388.5,561.9 392.43,562.72 396.1,563.67 C399.77,564.63 403.5,565.2 407,565.64 C410.5,566.08 413.77,566.16 417.1,566.3 C420.43,566.43 424.37,566.38 427,566.46 C429.63,566.54 431.03,566.17 432.9,566.79 C434.77,567.4 437.32,569.59 438.2,570.15 L438.2,576.3 L277.5,576.3 Z"/></clipPath></defs>
<path d="M277.5,495.37 C277.83,496.14 278.8,497.35 279.5,500.04 C280.2,502.73 280.68,506.05 281.7,511.52 C282.72,516.99 284.3,526.14 285.6,532.84 C286.9,539.54 288.2,546.23 289.5,551.7 C290.8,557.17 292.1,562.22 293.4,565.64 C294.7,569.06 296.03,571 297.3,572.2 C298.57,573.4 299.72,572.92 301,572.86 C302.28,572.79 302.83,572.72 305,571.79 C307.17,570.86 311.08,569.06 314,567.28 C316.92,565.5 318.88,564.79 322.5,561.13 C326.12,557.47 331.75,550.16 335.7,545.3 C339.65,540.45 343.8,534.44 346.2,532.02 C348.6,529.6 348.47,530.65 350.1,530.79 C351.73,530.93 353.52,531.13 356,532.84 C358.48,534.55 361.82,537.9 365,541.04 C368.18,544.18 371.77,548.56 375.1,551.7 C378.43,554.84 381.5,557.9 385,559.9 C388.5,561.9 392.43,562.72 396.1,563.67 C399.77,564.63 403.5,565.2 407,565.64 C410.5,566.08 413.77,566.16 417.1,566.3 C420.43,566.43 424.37,566.38 427,566.46 C429.63,566.54 431.03,566.17 432.9,566.79 C434.77,567.4 437.32,569.59 438.2,570.15 L438.2,576.3 L277.5,576.3 Z" fill="#d97b73"/>
<path d="M277.5,496.76 C277.83,497.51 278.8,498.67 279.5,501.27 C280.2,503.87 280.68,506.94 281.7,512.34 C282.72,517.74 284.3,527.03 285.6,533.66 C286.9,540.29 288.2,546.75 289.5,552.11 C290.8,557.47 292.1,562.46 293.4,565.8 C294.7,569.15 296.03,571.02 297.3,572.2 C298.57,573.38 299.72,572.86 301,572.86 C302.28,572.86 302.83,572.99 305,572.2 C307.17,571.41 311.08,569.74 314,568.1 C316.92,566.46 318.88,565.64 322.5,562.36 C326.12,559.08 331.75,552.66 335.7,548.42 C339.65,544.18 343.15,539.19 346.2,536.94 C349.25,534.68 351.7,534.89 354,534.89 C356.3,534.89 357.83,535.64 360,536.94 C362.17,538.24 364.48,540.22 367,542.68 C369.52,545.14 372.1,548.83 375.1,551.7 C378.1,554.57 381.5,557.9 385,559.9 C388.5,561.9 392.43,562.72 396.1,563.67 C399.77,564.63 403.5,565.2 407,565.64 C410.5,566.08 413.77,566.16 417.1,566.3 C420.43,566.43 424.37,566.38 427,566.46 C429.63,566.54 431.03,566.17 432.9,566.79 C434.77,567.4 437.32,569.59 438.2,570.15 L438.2,576.3 L277.5,576.3 Z" fill="#d97b73"/>
<path d="M277.5,495.37 C277.83,496.14 278.8,497.35 279.5,500.04 C280.2,502.73 280.68,506.05 281.7,511.52 C282.72,516.99 284.3,526.14 285.6,532.84 C286.9,539.54 288.2,546.23 289.5,551.7 C290.8,557.17 292.1,562.22 293.4,565.64 C294.7,569.06 296.03,571 297.3,572.2 C298.57,573.4 299.72,572.92 301,572.86 C302.28,572.79 302.83,572.72 305,571.79 C307.17,570.86 311.08,569.06 314,567.28 C316.92,565.5 318.88,564.79 322.5,561.13 C326.12,557.47 331.75,550.16 335.7,545.3 C339.65,540.45 343.8,534.44 346.2,532.02 C348.6,529.6 348.47,530.65 350.1,530.79 C351.73,530.93 353.52,531.13 356,532.84 C358.48,534.55 361.82,537.9 365,541.04 C368.18,544.18 371.77,548.56 375.1,551.7 C378.43,554.84 381.5,557.9 385,559.9 C388.5,561.9 392.43,562.72 396.1,563.67 C399.77,564.63 403.5,565.2 407,565.64 C410.5,566.08 413.77,566.16 417.1,566.3 C420.43,566.43 424.37,566.38 427,566.46 C429.63,566.54 431.03,566.17 432.9,566.79 C434.77,567.4 437.32,569.59 438.2,570.15" fill="none" stroke="#e59a96" stroke-width="0.6"/>
<path d="M277.5,496.76 C277.83,497.51 278.8,498.67 279.5,501.27 C280.2,503.87 280.68,506.94 281.7,512.34 C282.72,517.74 284.3,527.03 285.6,533.66 C286.9,540.29 288.2,546.75 289.5,552.11 C290.8,557.47 292.1,562.46 293.4,565.8 C294.7,569.15 296.03,571.02 297.3,572.2 C298.57,573.38 299.72,572.86 301,572.86 C302.28,572.86 302.83,572.99 305,572.2 C307.17,571.41 311.08,569.74 314,568.1 C316.92,566.46 318.88,565.64 322.5,562.36 C326.12,559.08 331.75,552.66 335.7,548.42 C339.65,544.18 343.15,539.19 346.2,536.94 C349.25,534.68 351.7,534.89 354,534.89 C356.3,534.89 357.83,535.64 360,536.94 C362.17,538.24 364.48,540.22 367,542.68 C369.52,545.14 372.1,548.83 375.1,551.7 C378.1,554.57 381.5,557.9 385,559.9 C388.5,561.9 392.43,562.72 396.1,563.67 C399.77,564.63 403.5,565.2 407,565.64 C410.5,566.08 413.77,566.16 417.1,566.3 C420.43,566.43 424.37,566.38 427,566.46 C429.63,566.54 431.03,566.17 432.9,566.79 C434.77,567.4 437.32,569.59 438.2,570.15" fill="none" stroke="#c8494b" stroke-width="0.6"/>
<path d="M277.5,431.98 C277.67,432.53 278.02,430.89 278.5,435.26 C278.98,439.63 279.65,448.11 280.4,458.22 C281.15,468.33 282.13,484.73 283,495.94 C283.87,507.15 284.52,515.62 285.6,525.46 C286.68,535.3 288.2,547.63 289.5,554.98 C290.8,562.33 292.1,566.66 293.4,569.58 C294.7,572.49 296.03,572.15 297.3,572.45 C298.57,572.75 298.98,572.51 301,571.38 C303.02,570.25 305.82,569.88 309.4,565.64 C312.98,561.4 319,551.84 322.5,545.96 C326,540.08 327.68,533.99 330.4,530.38 C333.12,526.77 336.2,524.45 338.8,524.31 C341.4,524.18 343.02,525.68 346,529.56 C348.98,533.44 353.87,542.68 356.7,547.6 C359.53,552.52 360.82,555.8 363,559.08 C365.18,562.36 367.63,565.09 369.8,567.28 C371.97,569.47 373.8,570.97 376,572.2 C378.2,573.43 379,574.03 383,574.66 C387,575.29 390.73,575.7 400,575.97 C409.27,576.25 432.17,576.25 438.6,576.3 L438.6,576.3 L277.5,576.3 Z" fill="#c2dff3"/>
<path d="M277.5,425.42 C277.67,425.97 278.02,424.05 278.5,428.7 C278.98,433.35 279.65,442.64 280.4,453.3 C281.15,463.96 282.13,480.91 283,492.66 C283.87,504.41 284.52,513.57 285.6,523.82 C286.68,534.07 288.2,546.57 289.5,554.16 C290.8,561.75 292.1,566.25 293.4,569.33 C294.7,572.4 296.03,572.2 297.3,572.61 C298.57,573.02 298.98,572.84 301,571.79 C303.02,570.74 305.82,570.33 309.4,566.3 C312.98,562.26 319,553.04 322.5,547.6 C326,542.16 327.68,537.08 330.4,533.66 C333.12,530.24 336.2,527.51 338.8,527.1 C341.4,526.69 343.02,527.78 346,531.2 C348.98,534.62 353.87,543.09 356.7,547.6 C359.53,552.11 360.82,555.14 363,558.26 C365.18,561.38 367.63,564.11 369.8,566.3 C371.97,568.48 373.8,570.07 376,571.38 C378.2,572.69 379,573.42 383,574.17 C387,574.92 390.73,575.53 400,575.89 C409.27,576.25 432.17,576.23 438.6,576.3 L438.6,576.3 L277.5,576.3 Z" fill="#84b5de"/>
<g clip-path="url(#cw2)"><path d="M277.5,431.98 C277.67,432.53 278.02,430.89 278.5,435.26 C278.98,439.63 279.65,448.11 280.4,458.22 C281.15,468.33 282.13,484.73 283,495.94 C283.87,507.15 284.52,515.62 285.6,525.46 C286.68,535.3 288.2,547.63 289.5,554.98 C290.8,562.33 292.1,566.66 293.4,569.58 C294.7,572.49 296.03,572.15 297.3,572.45 C298.57,572.75 298.98,572.51 301,571.38 C303.02,570.25 305.82,569.88 309.4,565.64 C312.98,561.4 319,551.84 322.5,545.96 C326,540.08 327.68,533.99 330.4,530.38 C333.12,526.77 336.2,524.45 338.8,524.31 C341.4,524.18 343.02,525.68 346,529.56 C348.98,533.44 353.87,542.68 356.7,547.6 C359.53,552.52 360.82,555.8 363,559.08 C365.18,562.36 367.63,565.09 369.8,567.28 C371.97,569.47 373.8,570.97 376,572.2 C378.2,573.43 379,574.03 383,574.66 C387,575.29 390.73,575.7 400,575.97 C409.27,576.25 432.17,576.25 438.6,576.3 L438.6,576.3 L277.5,576.3 Z" fill="#8b9cba"/><path d="M277.5,425.42 C277.67,425.97 278.02,424.05 278.5,428.7 C278.98,433.35 279.65,442.64 280.4,453.3 C281.15,463.96 282.13,480.91 283,492.66 C283.87,504.41 284.52,513.57 285.6,523.82 C286.68,534.07 288.2,546.57 289.5,554.16 C290.8,561.75 292.1,566.25 293.4,569.33 C294.7,572.4 296.03,572.2 297.3,572.61 C298.57,573.02 298.98,572.84 301,571.79 C303.02,570.74 305.82,570.33 309.4,566.3 C312.98,562.26 319,553.04 322.5,547.6 C326,542.16 327.68,537.08 330.4,533.66 C333.12,530.24 336.2,527.51 338.8,527.1 C341.4,526.69 343.02,527.78 346,531.2 C348.98,534.62 353.87,543.09 356.7,547.6 C359.53,552.11 360.82,555.14 363,558.26 C365.18,561.38 367.63,564.11 369.8,566.3 C371.97,568.48 373.8,570.07 376,571.38 C378.2,572.69 379,573.42 383,574.17 C387,574.92 390.73,575.53 400,575.89 C409.27,576.25 432.17,576.23 438.6,576.3 L438.6,576.3 L277.5,576.3 Z" fill="#8b9cba"/></g>
<path d="M277.5,431.98 C277.67,432.53 278.02,430.89 278.5,435.26 C278.98,439.63 279.65,448.11 280.4,458.22 C281.15,468.33 282.13,484.73 283,495.94 C283.87,507.15 284.52,515.62 285.6,525.46 C286.68,535.3 288.2,547.63 289.5,554.98 C290.8,562.33 292.1,566.66 293.4,569.58 C294.7,572.49 296.03,572.15 297.3,572.45 C298.57,572.75 298.98,572.51 301,571.38 C303.02,570.25 305.82,569.88 309.4,565.64 C312.98,561.4 319,551.84 322.5,545.96 C326,540.08 327.68,533.99 330.4,530.38 C333.12,526.77 336.2,524.45 338.8,524.31 C341.4,524.18 343.02,525.68 346,529.56 C348.98,533.44 353.87,542.68 356.7,547.6 C359.53,552.52 360.82,555.8 363,559.08 C365.18,562.36 367.63,565.09 369.8,567.28 C371.97,569.47 373.8,570.97 376,572.2 C378.2,573.43 379,574.03 383,574.66 C387,575.29 390.73,575.7 400,575.97 C409.27,576.25 432.17,576.25 438.6,576.3" fill="none" stroke="#6aaee0" stroke-width="0.6"/>
<path d="M277.5,425.42 C277.67,425.97 278.02,424.05 278.5,428.7 C278.98,433.35 279.65,442.64 280.4,453.3 C281.15,463.96 282.13,480.91 283,492.66 C283.87,504.41 284.52,513.57 285.6,523.82 C286.68,534.07 288.2,546.57 289.5,554.16 C290.8,561.75 292.1,566.25 293.4,569.33 C294.7,572.4 296.03,572.2 297.3,572.61 C298.57,573.02 298.98,572.84 301,571.79 C303.02,570.74 305.82,570.33 309.4,566.3 C312.98,562.26 319,553.04 322.5,547.6 C326,542.16 327.68,537.08 330.4,533.66 C333.12,530.24 336.2,527.51 338.8,527.1 C341.4,526.69 343.02,527.78 346,531.2 C348.98,534.62 353.87,543.09 356.7,547.6 C359.53,552.11 360.82,555.14 363,558.26 C365.18,561.38 367.63,564.11 369.8,566.3 C371.97,568.48 373.8,570.07 376,571.38 C378.2,572.69 379,573.42 383,574.17 C387,574.92 390.73,575.53 400,575.89 C409.27,576.25 432.17,576.23 438.6,576.3" fill="none" stroke="#2f78bb" stroke-width="0.6"/>
<line x1="308.1" y1="418.3" x2="308.1" y2="587.5" stroke="#86c1e8" stroke-width="1.3" stroke-dasharray="2.2,2.2" stroke-dashoffset="0.0"/>
<line x1="313.9" y1="418.3" x2="313.9" y2="587.5" stroke="#2f86c6" stroke-width="1.3" stroke-dasharray="2.2,2.2" stroke-dashoffset="2.2"/>
<line x1="339.6" y1="418.3" x2="339.6" y2="587.5" stroke="#eda0a0" stroke-width="1.3" stroke-dasharray="2.2,2.2" stroke-dashoffset="0.0"/>
<line x1="341.5" y1="418.3" x2="341.5" y2="587.5" stroke="#d04a4f" stroke-width="1.3" stroke-dasharray="2.2,2.2" stroke-dashoffset="2.2"/>
<path d="M499.4,418.3 L499.4,584.4 L675.9,584.4" fill="none" stroke="#8a8a8a" stroke-width="0.9"/>
<line x1="507.30" y1="584.4" x2="507.30" y2="589.6" stroke="#8a8a8a" stroke-width="0.9"/>
<text x="507.30" y="596.00" font-size="8" text-anchor="middle" font-weight="normal" font-style="normal" fill="#6e6e6e" >0</text>
<line x1="560.90" y1="584.4" x2="560.90" y2="589.6" stroke="#8a8a8a" stroke-width="0.9"/>
<text x="560.90" y="596.00" font-size="8" text-anchor="middle" font-weight="normal" font-style="normal" fill="#6e6e6e" >1</text>
<line x1="614.50" y1="584.4" x2="614.50" y2="589.6" stroke="#8a8a8a" stroke-width="0.9"/>
<text x="614.50" y="596.00" font-size="8" text-anchor="middle" font-weight="normal" font-style="normal" fill="#6e6e6e" >10</text>
<line x1="668.10" y1="584.4" x2="668.10" y2="589.6" stroke="#8a8a8a" stroke-width="0.9"/>
<text x="668.10" y="596.00" font-size="8" text-anchor="middle" font-weight="normal" font-style="normal" fill="#6e6e6e" >100</text>
<line x1="494.09999999999997" y1="576.50" x2="499.4" y2="576.50" stroke="#8a8a8a" stroke-width="0.9"/>
<text x="493.00" y="579.40" font-size="8" text-anchor="end" font-weight="normal" font-style="normal" fill="#6e6e6e" >0.0</text>
<line x1="494.09999999999997" y1="530.90" x2="499.4" y2="530.90" stroke="#8a8a8a" stroke-width="0.9"/>
<text x="493.00" y="533.80" font-size="8" text-anchor="end" font-weight="normal" font-style="normal" fill="#6e6e6e" >0.5</text>
<line x1="494.09999999999997" y1="485.30" x2="499.4" y2="485.30" stroke="#8a8a8a" stroke-width="0.9"/>
<text x="493.00" y="488.20" font-size="8" text-anchor="end" font-weight="normal" font-style="normal" fill="#6e6e6e" >1.0</text>
<line x1="494.09999999999997" y1="439.70" x2="499.4" y2="439.70" stroke="#8a8a8a" stroke-width="0.9"/>
<text x="493.00" y="442.60" font-size="8" text-anchor="end" font-weight="normal" font-style="normal" fill="#6e6e6e" >1.5</text>
<text x="590.20" y="400.30" font-size="8.5" text-anchor="middle" font-weight="bold" font-style="normal" fill="#1a1a1a" letter-spacing="0.55">RNA004</text>
<text x="589.90" y="409.80" font-size="8.7" text-anchor="middle" font-weight="normal" font-style="normal" fill="#333" >Dorado m6A_all_context</text>
<text x="0" y="0" font-size="9.4" text-anchor="middle" fill="#333" transform="translate(479.0,500.2) rotate(-90)">Density (a.u.)</text>
<text x="589.90" y="606" font-size="9.3" text-anchor="middle" fill="#333">m<tspan font-size="6" dy="-3.2">6</tspan><tspan dy="3.2">A frequency (%)</tspan></text>
<defs><clipPath id="cw3"><path d="M507.3,425.98 C507.5,427.73 508.05,429.48 508.5,436.48 C508.95,443.48 509.45,457.48 510,467.98 C510.55,478.48 511.05,487.61 511.8,499.49 C512.55,511.36 513.62,527.94 514.5,539.24 C515.38,550.55 516.27,561.4 517.1,567.3 C517.93,573.2 518.68,573.23 519.5,574.63 C520.32,576.04 520.92,575.59 522,575.73 C523.08,575.86 524.37,575.68 526,575.45 C527.63,575.22 530.17,574.78 531.8,574.36 C533.43,573.93 534.4,573.66 535.8,572.9 C537.2,572.14 538.87,571.08 540.2,569.8 C541.53,568.52 542.53,567.09 543.8,565.24 C545.07,563.38 546.22,561.82 547.8,558.67 C549.38,555.53 551.3,550.92 553.3,546.36 C555.3,541.8 557.6,535.95 559.8,531.31 C562,526.68 564.5,521.89 566.5,518.54 C568.5,515.2 570.05,513 571.8,511.25 C573.55,509.5 575.33,508.74 577,508.06 C578.67,507.37 580.05,507.14 581.8,507.14 C583.55,507.14 585.5,506.92 587.5,508.06 C589.5,509.2 591.62,511.48 593.8,513.98 C595.98,516.49 598.43,519.84 600.6,523.1 C602.77,526.37 604.6,530.1 606.8,533.59 C609,537.09 611.63,540.74 613.8,544.08 C615.97,547.42 617.62,550.62 619.8,553.66 C621.98,556.7 624.57,559.81 626.9,562.32 C629.23,564.83 631.17,566.97 633.8,568.7 C636.43,570.44 639.87,571.74 642.7,572.72 C645.53,573.69 648.12,574.12 650.8,574.54 C653.48,574.97 655.77,575.07 658.8,575.27 C661.83,575.47 667.3,575.65 669,575.73 L669,576 L507.3,576 Z"/><path d="M507.3,428.26 C507.5,429.98 508.05,431.7 508.5,438.6 C508.95,445.49 509.45,459.28 510,469.62 C510.55,479.97 511.05,488.95 511.8,500.65 C512.55,512.35 513.62,528.67 514.5,539.8 C515.38,550.93 516.27,561.63 517.1,567.43 C517.93,573.24 518.68,573.25 519.5,574.63 C520.32,576.01 520.92,575.59 522,575.73 C523.08,575.86 524.3,575.68 526,575.45 C527.7,575.22 530.5,574.77 532.2,574.34 C533.9,573.91 534.8,573.64 536.2,572.87 C537.6,572.1 539.27,571.03 540.6,569.74 C541.93,568.45 542.93,567 544.2,565.13 C545.47,563.26 546.62,561.68 548.2,558.5 C549.78,555.32 551.7,550.67 553.7,546.06 C555.7,541.46 558,535.55 560.2,530.87 C562.4,526.18 564.9,521.35 566.9,517.97 C568.9,514.59 570.45,512.37 572.2,510.6 C573.95,508.84 575.73,508.07 577.4,507.38 C579.07,506.69 580.45,506.46 582.2,506.46 C583.95,506.46 585.9,506.23 587.9,507.38 C589.9,508.53 592.02,510.83 594.2,513.36 C596.38,515.9 598.83,519.27 601,522.58 C603.17,525.88 605,529.64 607.2,533.17 C609.4,536.7 612.03,540.38 614.2,543.76 C616.37,547.14 618.02,550.36 620.2,553.43 C622.38,556.5 624.97,559.65 627.3,562.18 C629.63,564.72 631.57,566.88 634.2,568.63 C636.83,570.38 640.27,571.7 643.1,572.68 C645.93,573.67 648.52,574.1 651.2,574.53 C653.88,574.96 656.17,575.06 659.2,575.26 C662.23,575.46 667.7,575.65 669.4,575.72 L669.4,576 L507.3,576 Z"/></clipPath></defs>
<path d="M507.3,425.98 C507.5,427.73 508.05,429.48 508.5,436.48 C508.95,443.48 509.45,457.48 510,467.98 C510.55,478.48 511.05,487.61 511.8,499.49 C512.55,511.36 513.62,527.94 514.5,539.24 C515.38,550.55 516.27,561.4 517.1,567.3 C517.93,573.2 518.68,573.23 519.5,574.63 C520.32,576.04 520.92,575.59 522,575.73 C523.08,575.86 524.37,575.68 526,575.45 C527.63,575.22 530.17,574.78 531.8,574.36 C533.43,573.93 534.4,573.66 535.8,572.9 C537.2,572.14 538.87,571.08 540.2,569.8 C541.53,568.52 542.53,567.09 543.8,565.24 C545.07,563.38 546.22,561.82 547.8,558.67 C549.38,555.53 551.3,550.92 553.3,546.36 C555.3,541.8 557.6,535.95 559.8,531.31 C562,526.68 564.5,521.89 566.5,518.54 C568.5,515.2 570.05,513 571.8,511.25 C573.55,509.5 575.33,508.74 577,508.06 C578.67,507.37 580.05,507.14 581.8,507.14 C583.55,507.14 585.5,506.92 587.5,508.06 C589.5,509.2 591.62,511.48 593.8,513.98 C595.98,516.49 598.43,519.84 600.6,523.1 C602.77,526.37 604.6,530.1 606.8,533.59 C609,537.09 611.63,540.74 613.8,544.08 C615.97,547.42 617.62,550.62 619.8,553.66 C621.98,556.7 624.57,559.81 626.9,562.32 C629.23,564.83 631.17,566.97 633.8,568.7 C636.43,570.44 639.87,571.74 642.7,572.72 C645.53,573.69 648.12,574.12 650.8,574.54 C653.48,574.97 655.77,575.07 658.8,575.27 C661.83,575.47 667.3,575.65 669,575.73 L669,576 L507.3,576 Z" fill="#d97b73"/>
<path d="M507.3,428.26 C507.5,429.98 508.05,431.7 508.5,438.6 C508.95,445.49 509.45,459.28 510,469.62 C510.55,479.97 511.05,488.95 511.8,500.65 C512.55,512.35 513.62,528.67 514.5,539.8 C515.38,550.93 516.27,561.63 517.1,567.43 C517.93,573.24 518.68,573.25 519.5,574.63 C520.32,576.01 520.92,575.59 522,575.73 C523.08,575.86 524.3,575.68 526,575.45 C527.7,575.22 530.5,574.77 532.2,574.34 C533.9,573.91 534.8,573.64 536.2,572.87 C537.6,572.1 539.27,571.03 540.6,569.74 C541.93,568.45 542.93,567 544.2,565.13 C545.47,563.26 546.62,561.68 548.2,558.5 C549.78,555.32 551.7,550.67 553.7,546.06 C555.7,541.46 558,535.55 560.2,530.87 C562.4,526.18 564.9,521.35 566.9,517.97 C568.9,514.59 570.45,512.37 572.2,510.6 C573.95,508.84 575.73,508.07 577.4,507.38 C579.07,506.69 580.45,506.46 582.2,506.46 C583.95,506.46 585.9,506.23 587.9,507.38 C589.9,508.53 592.02,510.83 594.2,513.36 C596.38,515.9 598.83,519.27 601,522.58 C603.17,525.88 605,529.64 607.2,533.17 C609.4,536.7 612.03,540.38 614.2,543.76 C616.37,547.14 618.02,550.36 620.2,553.43 C622.38,556.5 624.97,559.65 627.3,562.18 C629.63,564.72 631.57,566.88 634.2,568.63 C636.83,570.38 640.27,571.7 643.1,572.68 C645.93,573.67 648.52,574.1 651.2,574.53 C653.88,574.96 656.17,575.06 659.2,575.26 C662.23,575.46 667.7,575.65 669.4,575.72 L669.4,576 L507.3,576 Z" fill="#d97b73"/>
<path d="M507.3,425.98 C507.5,427.73 508.05,429.48 508.5,436.48 C508.95,443.48 509.45,457.48 510,467.98 C510.55,478.48 511.05,487.61 511.8,499.49 C512.55,511.36 513.62,527.94 514.5,539.24 C515.38,550.55 516.27,561.4 517.1,567.3 C517.93,573.2 518.68,573.23 519.5,574.63 C520.32,576.04 520.92,575.59 522,575.73 C523.08,575.86 524.37,575.68 526,575.45 C527.63,575.22 530.17,574.78 531.8,574.36 C533.43,573.93 534.4,573.66 535.8,572.9 C537.2,572.14 538.87,571.08 540.2,569.8 C541.53,568.52 542.53,567.09 543.8,565.24 C545.07,563.38 546.22,561.82 547.8,558.67 C549.38,555.53 551.3,550.92 553.3,546.36 C555.3,541.8 557.6,535.95 559.8,531.31 C562,526.68 564.5,521.89 566.5,518.54 C568.5,515.2 570.05,513 571.8,511.25 C573.55,509.5 575.33,508.74 577,508.06 C578.67,507.37 580.05,507.14 581.8,507.14 C583.55,507.14 585.5,506.92 587.5,508.06 C589.5,509.2 591.62,511.48 593.8,513.98 C595.98,516.49 598.43,519.84 600.6,523.1 C602.77,526.37 604.6,530.1 606.8,533.59 C609,537.09 611.63,540.74 613.8,544.08 C615.97,547.42 617.62,550.62 619.8,553.66 C621.98,556.7 624.57,559.81 626.9,562.32 C629.23,564.83 631.17,566.97 633.8,568.7 C636.43,570.44 639.87,571.74 642.7,572.72 C645.53,573.69 648.12,574.12 650.8,574.54 C653.48,574.97 655.77,575.07 658.8,575.27 C661.83,575.47 667.3,575.65 669,575.73" fill="none" stroke="#e59a96" stroke-width="0.6"/>
<path d="M507.3,428.26 C507.5,429.98 508.05,431.7 508.5,438.6 C508.95,445.49 509.45,459.28 510,469.62 C510.55,479.97 511.05,488.95 511.8,500.65 C512.55,512.35 513.62,528.67 514.5,539.8 C515.38,550.93 516.27,561.63 517.1,567.43 C517.93,573.24 518.68,573.25 519.5,574.63 C520.32,576.01 520.92,575.59 522,575.73 C523.08,575.86 524.3,575.68 526,575.45 C527.7,575.22 530.5,574.77 532.2,574.34 C533.9,573.91 534.8,573.64 536.2,572.87 C537.6,572.1 539.27,571.03 540.6,569.74 C541.93,568.45 542.93,567 544.2,565.13 C545.47,563.26 546.62,561.68 548.2,558.5 C549.78,555.32 551.7,550.67 553.7,546.06 C555.7,541.46 558,535.55 560.2,530.87 C562.4,526.18 564.9,521.35 566.9,517.97 C568.9,514.59 570.45,512.37 572.2,510.6 C573.95,508.84 575.73,508.07 577.4,507.38 C579.07,506.69 580.45,506.46 582.2,506.46 C583.95,506.46 585.9,506.23 587.9,507.38 C589.9,508.53 592.02,510.83 594.2,513.36 C596.38,515.9 598.83,519.27 601,522.58 C603.17,525.88 605,529.64 607.2,533.17 C609.4,536.7 612.03,540.38 614.2,543.76 C616.37,547.14 618.02,550.36 620.2,553.43 C622.38,556.5 624.97,559.65 627.3,562.18 C629.63,564.72 631.57,566.88 634.2,568.63 C636.83,570.38 640.27,571.7 643.1,572.68 C645.93,573.67 648.52,574.1 651.2,574.53 C653.88,574.96 656.17,575.06 659.2,575.26 C662.23,575.46 667.7,575.65 669.4,575.72" fill="none" stroke="#c8494b" stroke-width="0.6"/>
<path d="M507.3,448.32 C507.5,449.81 508.05,451.3 508.5,457.26 C508.95,463.22 509.45,475.13 510,484.07 C510.55,493.01 511.05,500.78 511.8,510.88 C512.55,520.99 513.62,535.1 514.5,544.72 C515.38,554.34 516.27,563.61 517.1,568.59 C517.93,573.58 518.68,573.44 519.5,574.63 C520.32,575.82 520.92,575.59 522,575.73 C523.08,575.86 524.75,575.68 526,575.45 C527.25,575.22 528.25,574.78 529.5,574.36 C530.75,573.93 532.1,573.66 533.5,572.9 C534.9,572.14 536.57,571.08 537.9,569.8 C539.23,568.52 540.23,567.09 541.5,565.24 C542.77,563.38 543.92,561.82 545.5,558.67 C547.08,555.53 549,550.92 551,546.36 C553,541.8 555.3,535.95 557.5,531.31 C559.7,526.68 562.2,521.89 564.2,518.54 C566.2,515.2 567.75,513 569.5,511.25 C571.25,509.5 573.03,508.74 574.7,508.06 C576.37,507.37 577.75,507.14 579.5,507.14 C581.25,507.14 583.2,506.92 585.2,508.06 C587.2,509.2 589.32,511.48 591.5,513.98 C593.68,516.49 596.13,519.84 598.3,523.1 C600.47,526.37 602.3,530.1 604.5,533.59 C606.7,537.09 609.33,540.74 611.5,544.08 C613.67,547.42 615.32,550.62 617.5,553.66 C619.68,556.7 622.27,559.81 624.6,562.32 C626.93,564.83 628.87,566.97 631.5,568.7 C634.13,570.44 637.57,571.74 640.4,572.72 C643.23,573.69 645.82,574.12 648.5,574.54 C651.18,574.97 653.47,575.07 656.5,575.27 C659.53,575.47 665,575.65 666.7,575.73 L666.7,576 L507.3,576 Z" fill="#c2dff3"/>
<path d="M507.3,443.76 C507.5,445.3 508.05,446.85 508.5,453.02 C508.95,459.19 509.45,471.53 510,480.79 C510.55,490.04 511.05,498.09 511.8,508.56 C512.55,519.03 513.62,533.64 514.5,543.6 C515.38,553.56 516.27,563.16 517.1,568.33 C517.93,573.5 518.68,573.4 519.5,574.63 C520.32,575.86 520.92,575.59 522,575.73 C523.08,575.86 524.63,575.68 526,575.45 C527.37,575.23 528.83,574.8 530.2,574.37 C531.57,573.95 532.8,573.68 534.2,572.93 C535.6,572.18 537.27,571.12 538.6,569.86 C539.93,568.6 540.93,567.18 542.2,565.35 C543.47,563.51 544.62,561.96 546.2,558.85 C547.78,555.73 549.7,551.17 551.7,546.66 C553.7,542.14 556,536.35 558.2,531.76 C560.4,527.17 562.9,522.43 564.9,519.12 C566.9,515.81 568.45,513.63 570.2,511.9 C571.95,510.17 573.73,509.41 575.4,508.74 C577.07,508.06 578.45,507.83 580.2,507.83 C581.95,507.83 583.9,507.61 585.9,508.74 C587.9,509.86 590.02,512.12 592.2,514.6 C594.38,517.09 596.83,520.4 599,523.63 C601.17,526.87 603,530.56 605.2,534.02 C607.4,537.48 610.03,541.09 612.2,544.4 C614.37,547.71 616.02,550.87 618.2,553.88 C620.38,556.89 622.97,559.97 625.3,562.46 C627.63,564.94 629.57,567.06 632.2,568.78 C634.83,570.49 638.27,571.79 641.1,572.75 C643.93,573.71 646.52,574.13 649.2,574.56 C651.88,574.98 654.17,575.08 657.2,575.28 C660.23,575.47 665.7,575.65 667.4,575.73 L667.4,576 L507.3,576 Z" fill="#84b5de"/>
<g clip-path="url(#cw3)"><path d="M507.3,448.32 C507.5,449.81 508.05,451.3 508.5,457.26 C508.95,463.22 509.45,475.13 510,484.07 C510.55,493.01 511.05,500.78 511.8,510.88 C512.55,520.99 513.62,535.1 514.5,544.72 C515.38,554.34 516.27,563.61 517.1,568.59 C517.93,573.58 518.68,573.44 519.5,574.63 C520.32,575.82 520.92,575.59 522,575.73 C523.08,575.86 524.75,575.68 526,575.45 C527.25,575.22 528.25,574.78 529.5,574.36 C530.75,573.93 532.1,573.66 533.5,572.9 C534.9,572.14 536.57,571.08 537.9,569.8 C539.23,568.52 540.23,567.09 541.5,565.24 C542.77,563.38 543.92,561.82 545.5,558.67 C547.08,555.53 549,550.92 551,546.36 C553,541.8 555.3,535.95 557.5,531.31 C559.7,526.68 562.2,521.89 564.2,518.54 C566.2,515.2 567.75,513 569.5,511.25 C571.25,509.5 573.03,508.74 574.7,508.06 C576.37,507.37 577.75,507.14 579.5,507.14 C581.25,507.14 583.2,506.92 585.2,508.06 C587.2,509.2 589.32,511.48 591.5,513.98 C593.68,516.49 596.13,519.84 598.3,523.1 C600.47,526.37 602.3,530.1 604.5,533.59 C606.7,537.09 609.33,540.74 611.5,544.08 C613.67,547.42 615.32,550.62 617.5,553.66 C619.68,556.7 622.27,559.81 624.6,562.32 C626.93,564.83 628.87,566.97 631.5,568.7 C634.13,570.44 637.57,571.74 640.4,572.72 C643.23,573.69 645.82,574.12 648.5,574.54 C651.18,574.97 653.47,575.07 656.5,575.27 C659.53,575.47 665,575.65 666.7,575.73 L666.7,576 L507.3,576 Z" fill="#8b9cba"/><path d="M507.3,443.76 C507.5,445.3 508.05,446.85 508.5,453.02 C508.95,459.19 509.45,471.53 510,480.79 C510.55,490.04 511.05,498.09 511.8,508.56 C512.55,519.03 513.62,533.64 514.5,543.6 C515.38,553.56 516.27,563.16 517.1,568.33 C517.93,573.5 518.68,573.4 519.5,574.63 C520.32,575.86 520.92,575.59 522,575.73 C523.08,575.86 524.63,575.68 526,575.45 C527.37,575.23 528.83,574.8 530.2,574.37 C531.57,573.95 532.8,573.68 534.2,572.93 C535.6,572.18 537.27,571.12 538.6,569.86 C539.93,568.6 540.93,567.18 542.2,565.35 C543.47,563.51 544.62,561.96 546.2,558.85 C547.78,555.73 549.7,551.17 551.7,546.66 C553.7,542.14 556,536.35 558.2,531.76 C560.4,527.17 562.9,522.43 564.9,519.12 C566.9,515.81 568.45,513.63 570.2,511.9 C571.95,510.17 573.73,509.41 575.4,508.74 C577.07,508.06 578.45,507.83 580.2,507.83 C581.95,507.83 583.9,507.61 585.9,508.74 C587.9,509.86 590.02,512.12 592.2,514.6 C594.38,517.09 596.83,520.4 599,523.63 C601.17,526.87 603,530.56 605.2,534.02 C607.4,537.48 610.03,541.09 612.2,544.4 C614.37,547.71 616.02,550.87 618.2,553.88 C620.38,556.89 622.97,559.97 625.3,562.46 C627.63,564.94 629.57,567.06 632.2,568.78 C634.83,570.49 638.27,571.79 641.1,572.75 C643.93,573.71 646.52,574.13 649.2,574.56 C651.88,574.98 654.17,575.08 657.2,575.28 C660.23,575.47 665.7,575.65 667.4,575.73 L667.4,576 L507.3,576 Z" fill="#8b9cba"/></g>
<path d="M507.3,448.32 C507.5,449.81 508.05,451.3 508.5,457.26 C508.95,463.22 509.45,475.13 510,484.07 C510.55,493.01 511.05,500.78 511.8,510.88 C512.55,520.99 513.62,535.1 514.5,544.72 C515.38,554.34 516.27,563.61 517.1,568.59 C517.93,573.58 518.68,573.44 519.5,574.63 C520.32,575.82 520.92,575.59 522,575.73 C523.08,575.86 524.75,575.68 526,575.45 C527.25,575.22 528.25,574.78 529.5,574.36 C530.75,573.93 532.1,573.66 533.5,572.9 C534.9,572.14 536.57,571.08 537.9,569.8 C539.23,568.52 540.23,567.09 541.5,565.24 C542.77,563.38 543.92,561.82 545.5,558.67 C547.08,555.53 549,550.92 551,546.36 C553,541.8 555.3,535.95 557.5,531.31 C559.7,526.68 562.2,521.89 564.2,518.54 C566.2,515.2 567.75,513 569.5,511.25 C571.25,509.5 573.03,508.74 574.7,508.06 C576.37,507.37 577.75,507.14 579.5,507.14 C581.25,507.14 583.2,506.92 585.2,508.06 C587.2,509.2 589.32,511.48 591.5,513.98 C593.68,516.49 596.13,519.84 598.3,523.1 C600.47,526.37 602.3,530.1 604.5,533.59 C606.7,537.09 609.33,540.74 611.5,544.08 C613.67,547.42 615.32,550.62 617.5,553.66 C619.68,556.7 622.27,559.81 624.6,562.32 C626.93,564.83 628.87,566.97 631.5,568.7 C634.13,570.44 637.57,571.74 640.4,572.72 C643.23,573.69 645.82,574.12 648.5,574.54 C651.18,574.97 653.47,575.07 656.5,575.27 C659.53,575.47 665,575.65 666.7,575.73" fill="none" stroke="#6aaee0" stroke-width="0.6"/>
<path d="M507.3,443.76 C507.5,445.3 508.05,446.85 508.5,453.02 C508.95,459.19 509.45,471.53 510,480.79 C510.55,490.04 511.05,498.09 511.8,508.56 C512.55,519.03 513.62,533.64 514.5,543.6 C515.38,553.56 516.27,563.16 517.1,568.33 C517.93,573.5 518.68,573.4 519.5,574.63 C520.32,575.86 520.92,575.59 522,575.73 C523.08,575.86 524.63,575.68 526,575.45 C527.37,575.23 528.83,574.8 530.2,574.37 C531.57,573.95 532.8,573.68 534.2,572.93 C535.6,572.18 537.27,571.12 538.6,569.86 C539.93,568.6 540.93,567.18 542.2,565.35 C543.47,563.51 544.62,561.96 546.2,558.85 C547.78,555.73 549.7,551.17 551.7,546.66 C553.7,542.14 556,536.35 558.2,531.76 C560.4,527.17 562.9,522.43 564.9,519.12 C566.9,515.81 568.45,513.63 570.2,511.9 C571.95,510.17 573.73,509.41 575.4,508.74 C577.07,508.06 578.45,507.83 580.2,507.83 C581.95,507.83 583.9,507.61 585.9,508.74 C587.9,509.86 590.02,512.12 592.2,514.6 C594.38,517.09 596.83,520.4 599,523.63 C601.17,526.87 603,530.56 605.2,534.02 C607.4,537.48 610.03,541.09 612.2,544.4 C614.37,547.71 616.02,550.87 618.2,553.88 C620.38,556.89 622.97,559.97 625.3,562.46 C627.63,564.94 629.57,567.06 632.2,568.78 C634.83,570.49 638.27,571.79 641.1,572.75 C643.93,573.71 646.52,574.13 649.2,574.56 C651.88,574.98 654.17,575.08 657.2,575.28 C660.23,575.47 665.7,575.65 667.4,575.73" fill="none" stroke="#2f78bb" stroke-width="0.6"/>
<line x1="576.9" y1="418.3" x2="576.9" y2="587.5" stroke="#2f86c6" stroke-width="1.6" stroke-dasharray="2.2,2.2" stroke-dashoffset="0.0"/>
<line x1="578.6" y1="418.3" x2="578.6" y2="587.5" stroke="#e8908f" stroke-width="1.6" stroke-dasharray="2.2,2.2" stroke-dashoffset="2.2"/>
<line x1="578.6" y1="418.3" x2="578.6" y2="587.5" stroke="#d04a4f" stroke-width="1.6" stroke-dasharray="2.2,2.2" stroke-dashoffset="0.0"/>
<rect x="236.3" y="616.8" width="239.9" height="16.4" fill="#fff" stroke="#555" stroke-width="0.7"/>
<rect x="240.6" y="620.4" width="10" height="9.5" fill="#eda0a0"/>
<text x="255.40" y="629.00" font-size="9" text-anchor="start" font-weight="normal" font-style="normal" fill="#222" >WT 1</text>
<rect x="290.2" y="620.4" width="10" height="9.5" fill="#cc3f44"/>
<text x="305.00" y="629.00" font-size="9" text-anchor="start" font-weight="normal" font-style="normal" fill="#222" >WT 2</text>
<rect x="337.6" y="620.4" width="10" height="9.5" fill="#84c1e8"/>
<text x="351.1" y="629" font-size="9" fill="#222"><tspan font-style="italic">Mettl3</tspan>-KO 1</text>
<rect x="411.6" y="620.4" width="10" height="9.5" fill="#1a6fb0"/>
<text x="425.1" y="629" font-size="9" fill="#222"><tspan font-style="italic">Mettl3</tspan>-KO 2</text>
</svg></body></html>
